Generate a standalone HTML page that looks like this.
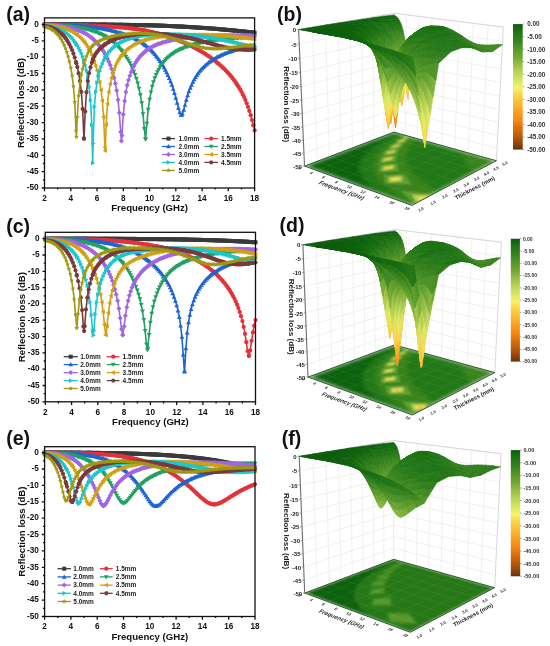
<!DOCTYPE html>
<html><head><meta charset="utf-8"><title>Reflection loss</title>
<style>html,body{margin:0;padding:0;background:#fff;}body{width:550px;height:646px;overflow:hidden;}svg{display:block;}.sf path{stroke-width:6;stroke-linejoin:round}.qa{fill:#f9ba34;stroke:#f9ba34}.qb{fill:#fabf38;stroke:#fabf38}.qc{fill:#fac43c;stroke:#fac43c}.qd{fill:#fac941;stroke:#fac941}.qe{fill:#f9d44c;stroke:#f9d44c}.qf{fill:#fad149;stroke:#fad149}.qg{fill:#f8de55;stroke:#f8de55}.qh{fill:#f8de56;stroke:#f8de56}.qi{fill:#f5e057;stroke:#f5e057}.qj{fill:#f4e159;stroke:#f4e159}.qk{fill:#f0e35c;stroke:#f0e35c}.ql{fill:#efe660;stroke:#efe660}.qm{fill:#f9b430;stroke:#f9b430}.qn{fill:#f9bd36;stroke:#f9bd36}.qo{fill:#f9dc54;stroke:#f9dc54}.qp{fill:#f6df56;stroke:#f6df56}.qq{fill:#f9c53d;stroke:#f9c53d}.qr{fill:#619f2d;stroke:#619f2d}.qs{fill:#e2e864;stroke:#e2e864}.qt{fill:#f9b431;stroke:#f9b431}.qu{fill:#f2e25a;stroke:#f2e25a}.qv{fill:#f0e55e;stroke:#f0e55e}.qw{fill:#f9be38;stroke:#f9be38}.qx{fill:#8ab740;stroke:#8ab740}.qy{fill:#b4d054;stroke:#b4d054}.qz{fill:#f9d74e;stroke:#f9d74e}.qA{fill:#b3d053;stroke:#b3d053}.qB{fill:#88b63e;stroke:#88b63e}.qC{fill:#86b53e;stroke:#86b53e}.qD{fill:#eae862;stroke:#eae862}.qE{fill:#fac53d;stroke:#fac53d}.qF{fill:#4d9226;stroke:#4d9226}.qG{fill:#82b33c;stroke:#82b33c}.qH{fill:#6da632;stroke:#6da632}.qI{fill:#f9cf47;stroke:#f9cf47}.qJ{fill:#81b23c;stroke:#81b23c}.qK{fill:#408921;stroke:#408921}.qL{fill:#7fb13b;stroke:#7fb13b}.qM{fill:#63a02e;stroke:#63a02e}.qN{fill:#f5e35c;stroke:#f5e35c}.qO{fill:#36821e;stroke:#36821e}.qP{fill:#2b7b19;stroke:#2b7b19}.qQ{fill:#b1ce52;stroke:#b1ce52}.qR{fill:#0f630d;stroke:#0f630d}.qS{fill:#f9d64d;stroke:#f9d64d}.qT{fill:#f6de56;stroke:#f6de56}.qU{fill:#13670f;stroke:#13670f}.qV{fill:#f6e35b;stroke:#f6e35b}.qW{fill:#509427;stroke:#509427}.qX{fill:#176c11;stroke:#176c11}.qY{fill:#1d7213;stroke:#1d7213}.qZ{fill:#f8dc55;stroke:#f8dc55}.qba{fill:#72a934;stroke:#72a934}.qbb{fill:#5b9b2b;stroke:#5b9b2b}.qbc{fill:#549729;stroke:#549729}.qbd{fill:#66a22f;stroke:#66a22f}.qbe{fill:#e88416;stroke:#e88416}.qbf{fill:#82b23c;stroke:#82b23c}.qbg{fill:#83b33c;stroke:#83b33c}.qbh{fill:#84b33c;stroke:#84b33c}.qbi{fill:#85b43d;stroke:#85b43d}.qbj{fill:#80b13b;stroke:#80b13b}.qbk{fill:#7eb03a;stroke:#7eb03a}.qbl{fill:#ee8d19;stroke:#ee8d19}.qbm{fill:#ef8f1a;stroke:#ef8f1a}.qbn{fill:#70a834;stroke:#70a834}.qbo{fill:#39841f;stroke:#39841f}.qbp{fill:#227616;stroke:#227616}.qbq{fill:#317f1c;stroke:#317f1c}.qbr{fill:#2a7b19;stroke:#2a7b19}.qbs{fill:#f3961e;stroke:#f3961e}.qbt{fill:#458c23;stroke:#458c23}.qbu{fill:#f69e22;stroke:#f69e22}.qbv{fill:#5b9c2b;stroke:#5b9c2b}.qbw{fill:#e88516;stroke:#e88516}.qbx{fill:#438b23;stroke:#438b23}.qby{fill:#4a9025;stroke:#4a9025}.qbz{fill:#f9bc37;stroke:#f9bc37}.qbA{fill:#ef901b;stroke:#ef901b}.qbB{fill:#dfe764;stroke:#dfe764}.qbC{fill:#428b22;stroke:#428b22}.qbD{fill:#428a22;stroke:#428a22}.qbE{fill:#418a22;stroke:#418a22}.qbF{fill:#f3971e;stroke:#f3971e}.qbG{fill:#418922;stroke:#418922}.qbH{fill:#7caf38;stroke:#7caf38}.qbI{fill:#3f8821;stroke:#3f8821}.qbJ{fill:#3e8821;stroke:#3e8821}.qbK{fill:#f69f23;stroke:#f69f23}.qbL{fill:#3d8720;stroke:#3d8720}.qbM{fill:#3d8620;stroke:#3d8620}.qbN{fill:#3b8620;stroke:#3b8620}.qbO{fill:#f7a326;stroke:#f7a326}.qbP{fill:#6ca531;stroke:#6ca531}.qbQ{fill:#3a851f;stroke:#3a851f}.qbR{fill:#62a02d;stroke:#62a02d}.qbS{fill:#609f2d;stroke:#609f2d}.qbT{fill:#5e9d2c;stroke:#5e9d2c}.qbU{fill:#5d9c2c;stroke:#5d9c2c}.qbV{fill:#5a9b2b;stroke:#5a9b2b}.qbW{fill:#57992a;stroke:#57992a}.qbX{fill:#37821e;stroke:#37821e}.qbY{fill:#0e600c;stroke:#0e600c}.qbZ{fill:#35811d;stroke:#35811d}.qca{fill:#33801c;stroke:#33801c}.qcb{fill:#78ad37;stroke:#78ad37}.qcc{fill:#478e24;stroke:#478e24}.qcd{fill:#438b22;stroke:#438b22}.qce{fill:#6ea732;stroke:#6ea732}.qcf{fill:#7fb03a;stroke:#7fb03a}.qcg{fill:#10630d;stroke:#10630d}.qch{fill:#539628;stroke:#539628}.qci{fill:#327f1c;stroke:#327f1c}.qcj{fill:#7db039;stroke:#7db039}.qck{fill:#68a32f;stroke:#68a32f}.qcl{fill:#529628;stroke:#529628}.qcm{fill:#7caf39;stroke:#7caf39}.qcn{fill:#80b13c;stroke:#80b13c}.qco{fill:#7eb03b;stroke:#7eb03b}.qcp{fill:#12660e;stroke:#12660e}.qcq{fill:#f9b633;stroke:#f9b633}.qcr{fill:#7bae38;stroke:#7bae38}.qcs{fill:#7caf3a;stroke:#7caf3a}.qct{fill:#aecc51;stroke:#aecc51}.qcu{fill:#76ab37;stroke:#76ab37}.qcv{fill:#166a10;stroke:#166a10}.qcw{fill:#73a936;stroke:#73a936}.qcx{fill:#1a6f12;stroke:#1a6f12}.qcy{fill:#569829;stroke:#569829}.qcz{fill:#69a330;stroke:#69a330}.qcA{fill:#4e9326;stroke:#4e9326}.qcB{fill:#4b9125;stroke:#4b9125}.qcC{fill:#499025;stroke:#499025}.qcD{fill:#65a12f;stroke:#65a12f}.qcE{fill:#207415;stroke:#207415}.qcF{fill:#307e1b;stroke:#307e1b}.qcG{fill:#5c9c2b;stroke:#5c9c2b}.qcH{fill:#2f7e1b;stroke:#2f7e1b}.qcI{fill:#2f7d1b;stroke:#2f7d1b}.qcJ{fill:#599a2a;stroke:#599a2a}.qcK{fill:#2e7d1a;stroke:#2e7d1a}.qcL{fill:#65a12e;stroke:#65a12e}.qcM{fill:#2d7c1a;stroke:#2d7c1a}.qcN{fill:#2c7c19;stroke:#2c7c19}.qcO{fill:#519527;stroke:#519527}.qcP{fill:#227615;stroke:#227615}.qcQ{fill:#267917;stroke:#267917}.qcR{fill:#4c9226;stroke:#4c9226}.qcS{fill:#7bae39;stroke:#7bae39}.qcT{fill:#7aae39;stroke:#7aae39}.qcU{fill:#297a18;stroke:#297a18}.qcV{fill:#34811d;stroke:#34811d}.qcW{fill:#7daf39;stroke:#7daf39}.qcX{fill:#7fb13a;stroke:#7fb13a}.qcY{fill:#277918;stroke:#277918}.qcZ{fill:#609e2d;stroke:#609e2d}.qda{fill:#3e8720;stroke:#3e8720}.qdb{fill:#3c8620;stroke:#3c8620}.qdc{fill:#3b851f;stroke:#3b851f}.qdd{fill:#38831e;stroke:#38831e}.qde{fill:#488e24;stroke:#488e24}.qdf{fill:#519528;stroke:#519528}.qdg{fill:#448c23;stroke:#448c23}.qdh{fill:#247716;stroke:#247716}.qdi{fill:#0c5f0b;stroke:#0c5f0b}.qdj{fill:#237716;stroke:#237716}.qdk{fill:#f7a627;stroke:#f7a627}.qdl{fill:#f8a929;stroke:#f8a929}.qdm{fill:#217615;stroke:#217615}.qdn{fill:#408821;stroke:#408821}.qdo{fill:#0e610c;stroke:#0e610c}.qdp{fill:#217515;stroke:#217515}.qdq{fill:#3e8721;stroke:#3e8721}.qdr{fill:#207515;stroke:#207515}.qds{fill:#58992a;stroke:#58992a}.qdt{fill:#549728;stroke:#549728}.qdu{fill:#0f620d;stroke:#0f620d}.qdv{fill:#4e9327;stroke:#4e9327}.qdw{fill:#f7a628;stroke:#f7a628}.qdx{fill:#39841e;stroke:#39841e}.qdy{fill:#f8aa2a;stroke:#f8aa2a}.qdz{fill:#1f7414;stroke:#1f7414}.qdA{fill:#37831e;stroke:#37831e}.qdB{fill:#11640d;stroke:#11640d}.qdC{fill:#2c7c1a;stroke:#2c7c1a}.qdD{fill:#448b23;stroke:#448b23}.qdE{fill:#2e7d1b;stroke:#2e7d1b}.qdF{fill:#34801d;stroke:#34801d}.qdG{fill:#35821d;stroke:#35821d}.qdH{fill:#1e7414;stroke:#1e7414}.qdI{fill:#f9b834;stroke:#f9b834}.qdJ{fill:#1e7314;stroke:#1e7314}.qdK{fill:#f9bd37;stroke:#f9bd37}.qdL{fill:#166b10;stroke:#166b10}.qdM{fill:#79ad37;stroke:#79ad37}.qdN{fill:#196e11;stroke:#196e11}.qdO{fill:#1d7313;stroke:#1d7313}.qdP{fill:#1b7013;stroke:#1b7013}.qdQ{fill:#1e7214;stroke:#1e7214}.qdR{fill:#207315;stroke:#207315}.qdS{fill:#217415;stroke:#217415}.qdT{fill:#237616;stroke:#237616}.qdU{fill:#1c7213;stroke:#1c7213}.qdV{fill:#75aa37;stroke:#75aa37}.qdW{fill:#488f24;stroke:#488f24}.qdX{fill:#468d24;stroke:#468d24}.qdY{fill:#6fa734;stroke:#6fa734}.qdZ{fill:#1c7113;stroke:#1c7113}.qea{fill:#69a431;stroke:#69a431}.qeb{fill:#629f2d;stroke:#629f2d}.qec{fill:#1b7113;stroke:#1b7113}.qed{fill:#559729;stroke:#559729}.qee{fill:#5a9a2b;stroke:#5a9a2b}.qef{fill:#207414;stroke:#207414}.qeg{fill:#247817;stroke:#247817}.qeh{fill:#257817;stroke:#257817}.qei{fill:#277917;stroke:#277917}.qej{fill:#287918;stroke:#287918}.qek{fill:#0c5e0b;stroke:#0c5e0b}.qel{fill:#317f1b;stroke:#317f1b}.qem{fill:#33811c;stroke:#33811c}.qen{fill:#529528;stroke:#529528}.qeo{fill:#79ad39;stroke:#79ad39}.qep{fill:#6ca533;stroke:#6ca533}.qeq{fill:#4c9126;stroke:#4c9126}.qer{fill:#73aa35;stroke:#73aa35}.qes{fill:#76ab35;stroke:#76ab35}.qet{fill:#297a19;stroke:#297a19}.qeu{fill:#287a18;stroke:#287a18}.qev{fill:#498f25;stroke:#498f25}.qew{fill:#0d600c;stroke:#0d600c}.qex{fill:#11640e;stroke:#11640e}.qey{fill:#4f9427;stroke:#4f9427}.qez{fill:#267817;stroke:#267817}.qeA{fill:#15690f;stroke:#15690f}.qeB{fill:#38841e;stroke:#38841e}.qeC{fill:#f9b22f;stroke:#f9b22f}.qeD{fill:#156a10;stroke:#156a10}.qeE{fill:#176b10;stroke:#176b10}.qeF{fill:#186c11;stroke:#186c11}.qeG{fill:#186d11;stroke:#186d11}.qeH{fill:#36821d;stroke:#36821d}.qeI{fill:#196e12;stroke:#196e12}.qeJ{fill:#1a6e12;stroke:#1a6e12}.qeK{fill:#1b6f12;stroke:#1b6f12}.qeL{fill:#f6db54;stroke:#f6db54}.qeM{fill:#1b7012;stroke:#1b7012}.qeN{fill:#1c7013;stroke:#1c7013}.qeO{fill:#1d7113;stroke:#1d7113}.qeP{fill:#207314;stroke:#207314}.qeQ{fill:#a8c94e;stroke:#a8c94e}.qeR{fill:#317e1b;stroke:#317e1b}.qeS{fill:#1d7314;stroke:#1d7314}.qeT{fill:#dae362;stroke:#dae362}.qeU{fill:#458d23;stroke:#458d23}.qeV{fill:#0b5d0b;stroke:#0b5d0b}.qeW{fill:#74aa35;stroke:#74aa35}.qeX{fill:#2d7d1a;stroke:#2d7d1a}.qeY{fill:#a0c44a;stroke:#a0c44a}.qeZ{fill:#468d23;stroke:#468d23}.qfa{fill:#6ba532;stroke:#6ba532}.qfb{fill:#1f7314;stroke:#1f7314}.qfc{fill:#6aa432;stroke:#6aa432}.qfd{fill:#66a230;stroke:#66a230}.qfe{fill:#629f2e;stroke:#629f2e}.qff{fill:#0d5f0b;stroke:#0d5f0b}.qfg{fill:#f4db54;stroke:#f4db54}.qfh{fill:#32801c;stroke:#32801c}.qfi{fill:#6ba533;stroke:#6ba533}.qfj{fill:#68a331;stroke:#68a331}.qfk{fill:#619e2e;stroke:#619e2e}.qfl{fill:#6ca632;stroke:#6ca632}.qfm{fill:#5e9c2c;stroke:#5e9c2c}.qfn{fill:#4f9327;stroke:#4f9327}.qfo{fill:#549628;stroke:#549628}.qfp{fill:#519427;stroke:#519427}.qfq{fill:#6aa430;stroke:#6aa430}.qfr{fill:#478d24;stroke:#478d24}.qfs{fill:#0f620c;stroke:#0f620c}.qft{fill:#4b9025;stroke:#4b9025}.qfu{fill:#10640d;stroke:#10640d}.qfv{fill:#12650e;stroke:#12650e}.qfw{fill:#3a841f;stroke:#3a841f}.qfx{fill:#13660e;stroke:#13660e}.qfy{fill:#13670e;stroke:#13670e}.qfz{fill:#14680f;stroke:#14680f}.qfA{fill:#d3e05f;stroke:#d3e05f}.qfB{fill:#0b5d0a;stroke:#0b5d0a}.qfC{fill:#d1df5e;stroke:#d1df5e}.qfD{fill:#1f7515;stroke:#1f7515}.qfE{fill:#1d7013;stroke:#1d7013}.qfF{fill:#1e7113;stroke:#1e7113}.qfG{fill:#1e7114;stroke:#1e7114}.qfH{fill:#1f7214;stroke:#1f7214}.qfI{fill:#0b5e0b;stroke:#0b5e0b}.qfJ{fill:#33801d;stroke:#33801d}.qfK{fill:#f9b632;stroke:#f9b632}.qfL{fill:#f9b934;stroke:#f9b934}.qfM{fill:#98bf45;stroke:#98bf45}.qfN{fill:#97be45;stroke:#97be45}.qfO{fill:#1a7012;stroke:#1a7012}.qfP{fill:#f9c43d;stroke:#f9c43d}.qfQ{fill:#f1dd56;stroke:#f1dd56}.qfR{fill:#f9b733;stroke:#f9b733}.qfS{fill:#f9bb36;stroke:#f9bb36}.qfT{fill:#ece15a;stroke:#ece15a}.qfU{fill:#f9c63f;stroke:#f9c63f}.qfV{fill:#cede5e;stroke:#cede5e}.qfW{fill:#e6e661;stroke:#e6e661}.qfX{fill:#f9d54e;stroke:#f9d54e}.qfY{fill:#f5df57;stroke:#f5df57}.qfZ{fill:#96be45;stroke:#96be45}.qga{fill:#dce563;stroke:#dce563}.qgb{fill:#f9d54d;stroke:#f9d54d}.qgc{fill:#f3df58;stroke:#f3df58}.qgd{fill:#0f610c;stroke:#0f610c}.qge{fill:#91bb42;stroke:#91bb42}.qgf{fill:#0a5d0a;stroke:#0a5d0a}.qgg{fill:#eee55e;stroke:#eee55e}.qgh{fill:#609d2d;stroke:#609d2d}.qgi{fill:#89b63f;stroke:#89b63f}.qgj{fill:#ece55f;stroke:#ece55f}.qgk{fill:#f5df58;stroke:#f5df58}.qgl{fill:#5b9a2b;stroke:#5b9a2b}.qgm{fill:#e7e864;stroke:#e7e864}.qgn{fill:#5c9b2b;stroke:#5c9b2b}.qgo{fill:#569729;stroke:#569729}.qgp{fill:#539528;stroke:#539528}.qgq{fill:#4e9226;stroke:#4e9226}.qgr{fill:#4a8f25;stroke:#4a8f25}.qgs{fill:#59992a;stroke:#59992a}.qgt{fill:#76ab36;stroke:#76ab36}.qgu{fill:#64a12e;stroke:#64a12e}.qgv{fill:#5f9e2c;stroke:#5f9e2c}.qgw{fill:#d9e563;stroke:#d9e563}.qgx{fill:#11650e;stroke:#11650e}.qgy{fill:#efdc55;stroke:#efdc55}.qgz{fill:#edde56;stroke:#edde56}.qgA{fill:#6fa733;stroke:#6fa733}.qgB{fill:#eedd56;stroke:#eedd56}.qgC{fill:#e9e15b;stroke:#e9e15b}.qgD{fill:#4c9125;stroke:#4c9125}.qgE{fill:#eae15b;stroke:#eae15b}.qgF{fill:#e2e561;stroke:#e2e561}.qgG{fill:#62a02e;stroke:#62a02e}.qgH{fill:#e3e562;stroke:#e3e562}.qgI{fill:#d7e261;stroke:#d7e261}.qgJ{fill:#156910;stroke:#156910}.qgK{fill:#75ab35;stroke:#75ab35}.qgL{fill:#cadc5d;stroke:#cadc5d}.qgM{fill:#cadd5d;stroke:#cadd5d}.qgN{fill:#dae462;stroke:#dae462}.qgO{fill:#bed658;stroke:#bed658}.qgP{fill:#1f7514;stroke:#1f7514}.qgQ{fill:#196d11;stroke:#196d11}.qgR{fill:#6aa431;stroke:#6aa431}.qgS{fill:#cedf5e;stroke:#cedf5e}.qgT{fill:#1c6f13;stroke:#1c6f13}.qgU{fill:#c4d95b;stroke:#c4d95b}.qgV{fill:#c4d95a;stroke:#c4d95a}.qgW{fill:#b8d255;stroke:#b8d255}.qgX{fill:#c6d95a;stroke:#c6d95a}.qgY{fill:#bdd557;stroke:#bdd557}.qgZ{fill:#bfd658;stroke:#bfd658}.qha{fill:#b1cf52;stroke:#b1cf52}.qhb{fill:#abca4f;stroke:#abca4f}.qhc{fill:#a6c84d;stroke:#a6c84d}.qhd{fill:#b5d154;stroke:#b5d154}.qhe{fill:#0a5c0a;stroke:#0a5c0a}.qhf{fill:#9cc148;stroke:#9cc148}.qhg{fill:#93bc43;stroke:#93bc43}.qhh{fill:#accb50;stroke:#accb50}.qhi{fill:#a3c64b;stroke:#a3c64b}.qhj{fill:#0d600b;stroke:#0d600b}.qhk{fill:#67a32f;stroke:#67a32f}.qhl{fill:#227515;stroke:#227515}.qhm{fill:#237516;stroke:#237516}.qhn{fill:#8ab73f;stroke:#8ab73f}.qho{fill:#88b63f;stroke:#88b63f}.qhp{fill:#83b33d;stroke:#83b33d}.qhq{fill:#74aa36;stroke:#74aa36}.qhr{fill:#6da633;stroke:#6da633}.qhs{fill:#67a330;stroke:#67a330}.qht{fill:#257717;stroke:#257717}.qhu{fill:#72a935;stroke:#72a935}.qhv{fill:#6ea733;stroke:#6ea733}.qhw{fill:#3c8720;stroke:#3c8720}.qhx{fill:#4d9126;stroke:#4d9126}.qhy{fill:#519327;stroke:#519327}.qhz{fill:#509327;stroke:#509327}.qhA{fill:#4f9226;stroke:#4f9226}.qhB{fill:#589a2a;stroke:#589a2a}.qhC{fill:#ede35d;stroke:#ede35d}.qhD{fill:#e8e762;stroke:#e8e762}.qhE{fill:#e3e763;stroke:#e3e763}.qhF{fill:#ece35d;stroke:#ece35d}.qhG{fill:#c1d859;stroke:#c1d859}.qhH{fill:#dee663;stroke:#dee663}.qhI{fill:#eae560;stroke:#eae560}.qhJ{fill:#d0e05f;stroke:#d0e05f}.qhK{fill:#d3e160;stroke:#d3e160}.qhL{fill:#e2e662;stroke:#e2e662}.qhM{fill:#d2e160;stroke:#d2e160}.qhN{fill:#cbdd5d;stroke:#cbdd5d}.qhO{fill:#b6d154;stroke:#b6d154}.qhP{fill:#a9c94e;stroke:#a9c94e}.qhQ{fill:#c6db5b;stroke:#c6db5b}.qhR{fill:#c0d759;stroke:#c0d759}.qhS{fill:#bcd557;stroke:#bcd557}.qhT{fill:#4b9126;stroke:#4b9126}.qhU{fill:#aecc50;stroke:#aecc50}.qhV{fill:#99bf46;stroke:#99bf46}.qhW{fill:#a0c34a;stroke:#a0c34a}.qhX{fill:#9bc147;stroke:#9bc147}.qhY{fill:#75ab36;stroke:#75ab36}.qhZ{fill:#6ba531;stroke:#6ba531}.qia{fill:#97bf46;stroke:#97bf46}.qib{fill:#98bf46;stroke:#98bf46}.qic{fill:#90ba42;stroke:#90ba42}.qid{fill:#86b53d;stroke:#86b53d}.qie{fill:#80b13a;stroke:#80b13a}.qif{fill:#498f24;stroke:#498f24}.qig{fill:#5f9d2d;stroke:#5f9d2d}.qih{fill:#69a331;stroke:#69a331}.qii{fill:#5d9d2c;stroke:#5d9d2c}.qij{fill:#36831d;stroke:#36831d}.qik{fill:#39851e;stroke:#39851e}.qil{fill:#3b861f;stroke:#3b861f}.qim{fill:#3e8820;stroke:#3e8820}.qin{fill:#418a21;stroke:#418a21}.qio{fill:#227516;stroke:#227516}.qip{fill:#247616;stroke:#247616}.qiq{fill:#247717;stroke:#247717}.qir{fill:#f9d34b;stroke:#f9d34b}.qis{fill:#f5de56;stroke:#f5de56}.qit{fill:#73aa34;stroke:#73aa34}.qiu{fill:#eee45d;stroke:#eee45d}.qiv{fill:#e4e561;stroke:#e4e561}.qiw{fill:#7aae38;stroke:#7aae38}.qix{fill:#e7e863;stroke:#e7e863}.qiy{fill:#dbe462;stroke:#dbe462}.qiz{fill:#97be46;stroke:#97be46}.qiA{fill:#cfdf5f;stroke:#cfdf5f}.qiB{fill:#dde764;stroke:#dde764}.qiC{fill:#a5c74c;stroke:#a5c74c}.qiD{fill:#bad356;stroke:#bad356}.qiE{fill:#c3d95a;stroke:#c3d95a}.qiF{fill:#b2cf52;stroke:#b2cf52}.qiG{fill:#8cb840;stroke:#8cb840}.qiH{fill:#f7d54e;stroke:#f7d54e}.qiI{fill:#93bc44;stroke:#93bc44}.qiJ{fill:#f2dd55;stroke:#f2dd55}.qiK{fill:#71a834;stroke:#71a834}.qiL{fill:#eae25c;stroke:#eae25c}.qiM{fill:#87b53e;stroke:#87b53e}.qiN{fill:#d9e462;stroke:#d9e462}.qiO{fill:#14690f;stroke:#14690f}.qiP{fill:#dbe25f;stroke:#dbe25f}.qiQ{fill:#cfde5e;stroke:#cfde5e}.qiR{fill:#78ac37;stroke:#78ac37}.qiS{fill:#84b43d;stroke:#84b43d}.qiT{fill:#94bd44;stroke:#94bd44}.qiU{fill:#a1c44a;stroke:#a1c44a}.qiV{fill:#5f9e2d;stroke:#5f9e2d}.qiW{fill:#73a935;stroke:#73a935}.qiX{fill:#95be44;stroke:#95be44}.qiY{fill:#8bb840;stroke:#8bb840}.qiZ{fill:#579829;stroke:#579829}.qja{fill:#5d9b2c;stroke:#5d9b2c}.qjb{fill:#63a02f;stroke:#63a02f}.qjc{fill:#227415;stroke:#227415}.qjd{fill:#247516;stroke:#247516}.qje{fill:#267617;stroke:#267617}.qjf{fill:#287818;stroke:#287818}.qjg{fill:#297918;stroke:#297918}.qjh{fill:#2b7a19;stroke:#2b7a19}.qji{fill:#2d7b19;stroke:#2d7b19}.qjj{fill:#79ad38;stroke:#79ad38}.qjk{fill:#77ac37;stroke:#77ac37}.qjl{fill:#9bc148;stroke:#9bc148}.qjm{fill:#f5e45c;stroke:#f5e45c}.qjn{fill:#dfe865;stroke:#dfe865}.qjo{fill:#bdd558;stroke:#bdd558}.qjp{fill:#68a330;stroke:#68a330}.qjq{fill:#f4e35b;stroke:#f4e35b}.qjr{fill:#dee764;stroke:#dee764}.qjs{fill:#559829;stroke:#559829}.qjt{fill:#69a430;stroke:#69a430}.qju{fill:#f9df56;stroke:#f9df56}.qjv{fill:#e6ea66;stroke:#e6ea66}.qjw{fill:#95bd44;stroke:#95bd44}.qjx{fill:#92bc43;stroke:#92bc43}.qjy{fill:#8fba42;stroke:#8fba42}.qjz{fill:#5a9a2a;stroke:#5a9a2a}.qjA{fill:#6ca532;stroke:#6ca532}.qjB{fill:#e4e966;stroke:#e4e966}.qjC{fill:#74aa34;stroke:#74aa34}.qjD{fill:#f9df57;stroke:#f9df57}.qjE{fill:#71a833;stroke:#71a833}.qjF{fill:#90bb42;stroke:#90bb42}.qjG{fill:#8db941;stroke:#8db941}.qjH{fill:#f7df57;stroke:#f7df57}.qjI{fill:#307f1b;stroke:#307f1b}.qjJ{fill:#65a22f;stroke:#65a22f}.qjK{fill:#6ea632;stroke:#6ea632}.qjL{fill:#b5d054;stroke:#b5d054}.qjM{fill:#1f7415;stroke:#1f7415}.qjN{fill:#dbe563;stroke:#dbe563}.qjO{fill:#f9c33c;stroke:#f9c33c}.qjP{fill:#6ba530;stroke:#6ba530}.qjQ{fill:#f9cc45;stroke:#f9cc45}.qjR{fill:#f9bf39;stroke:#f9bf39}.qjS{fill:#f9d74f;stroke:#f9d74f}.qjT{fill:#c9dc5c;stroke:#c9dc5c}.qjU{fill:#f9c53e;stroke:#f9c53e}.qjV{fill:#f9cd46;stroke:#f9cd46}.qjW{fill:#f4e058;stroke:#f4e058}.qjX{fill:#f9ce46;stroke:#f9ce46}.qjY{fill:#f7d952;stroke:#f7d952}.qjZ{fill:#8fba41;stroke:#8fba41}.qka{fill:#f9d850;stroke:#f9d850}.qkb{fill:#f0e15a;stroke:#f0e15a}.qkc{fill:#ebe762;stroke:#ebe762}.qkd{fill:#e9e762;stroke:#e9e762}.qke{fill:#f4e059;stroke:#f4e059}.qkf{fill:#2b7c19;stroke:#2b7c19}.qkg{fill:#ecdf58;stroke:#ecdf58}.qkh{fill:#e6e35e;stroke:#e6e35e}.qki{fill:#eae15a;stroke:#eae15a}.qkj{fill:#dee462;stroke:#dee462}.qkk{fill:#e6e45f;stroke:#e6e45f}.qkl{fill:#d2e05f;stroke:#d2e05f}.qkm{fill:#e2e663;stroke:#e2e663}.qkn{fill:#c5da5b;stroke:#c5da5b}.qko{fill:#b9d356;stroke:#b9d356}.qkp{fill:#c3d85a;stroke:#c3d85a}.qkq{fill:#bfd759;stroke:#bfd759}.qkr{fill:#b2ce52;stroke:#b2ce52}.qks{fill:#bad456;stroke:#bad456}.qkt{fill:#b4d053;stroke:#b4d053}.qku{fill:#a4c64c;stroke:#a4c64c}.qkv{fill:#8eba41;stroke:#8eba41}.qkw{fill:#7aad39;stroke:#7aad39}.qkx{fill:#ee8e1a;stroke:#ee8e1a}.qky{fill:#5f9d2c;stroke:#5f9d2c}.qkz{fill:#ef921c;stroke:#ef921c}.qkA{fill:#f49b21;stroke:#f49b21}.qkB{fill:#f9c440;stroke:#f9c440}.qkC{fill:#ee911c;stroke:#ee911c}.qkD{fill:#ee901c;stroke:#ee901c}.qkE{fill:#f8a829;stroke:#f8a829}.qkF{fill:#f9c742;stroke:#f9c742}.qkG{fill:#f1961e;stroke:#f1961e}.qkH{fill:#f0941d;stroke:#f0941d}.qkI{fill:#f9d04a;stroke:#f9d04a}.qkJ{fill:#f9d049;stroke:#f9d049}.qkK{fill:#f59e23;stroke:#f59e23}.qkL{fill:#f49d22;stroke:#f49d22}.qkM{fill:#65a22e;stroke:#65a22e}.qkN{fill:#f6d851;stroke:#f6d851}.qkO{fill:#3f8921;stroke:#3f8921}.qkP{fill:#e0de5a;stroke:#e0de5a}.qkQ{fill:#dfdf5b;stroke:#dfdf5b}.qkR{fill:#4f9227;stroke:#4f9227}.qkS{fill:#f9c23c;stroke:#f9c23c}.qkT{fill:#f9b532;stroke:#f9b532}.qkU{fill:#f1dc55;stroke:#f1dc55}.qkV{fill:#dde15e;stroke:#dde15e}.qkW{fill:#f9ce47;stroke:#f9ce47}.qkX{fill:#d6e160;stroke:#d6e160}.qkY{fill:#f9c740;stroke:#f9c740}.qkZ{fill:#ebe059;stroke:#ebe059}.qla{fill:#ccdd5d;stroke:#ccdd5d}.qlb{fill:#a1c54a;stroke:#a1c54a}.qlc{fill:#e7e45f;stroke:#e7e45f}.qld{fill:#f7da52;stroke:#f7da52}.qle{fill:#f9c43e;stroke:#f9c43e}.qlf{fill:#9dc248;stroke:#9dc248}.qlg{fill:#f5dd55;stroke:#f5dd55}.qlh{fill:#dfe562;stroke:#dfe562}.qli{fill:#bbd457;stroke:#bbd457}.qlj{fill:#f0e25b;stroke:#f0e25b}.qlk{fill:#f9cc47;stroke:#f9cc47}.qll{fill:#f9cb46;stroke:#f9cb46}.qlm{fill:#f6da52;stroke:#f6da52}.qln{fill:#f9d04b;stroke:#f9d04b}.qlo{fill:#f9ce49;stroke:#f9ce49}.qlp{fill:#f7d54f;stroke:#f7d54f}.qlq{fill:#f7d34d;stroke:#f7d34d}.qlr{fill:#c7db5c;stroke:#c7db5c}.qls{fill:#f3d851;stroke:#f3d851}.qlt{fill:#efe25b;stroke:#efe25b}.qlu{fill:#f2d852;stroke:#f2d852}.qlv{fill:#eddc55;stroke:#eddc55}.qlw{fill:#dce663;stroke:#dce663}.qlx{fill:#b9d355;stroke:#b9d355}.qly{fill:#91bb43;stroke:#91bb43}.qlz{fill:#e6e15b;stroke:#e6e15b}.qlA{fill:#ecdc56;stroke:#ecdc56}.qlB{fill:#e0e461;stroke:#e0e461}.qlC{fill:#e7e05a;stroke:#e7e05a}.qlD{fill:#a7c84d;stroke:#a7c84d}.qlE{fill:#dbe562;stroke:#dbe562}.qlF{fill:#e3e35f;stroke:#e3e35f}.qlG{fill:#c8db5c;stroke:#c8db5c}.qlH{fill:#dbe361;stroke:#dbe361}.qlI{fill:#b7d155;stroke:#b7d155}.qlJ{fill:#d7e05e;stroke:#d7e05e}.qlK{fill:#d8df5d;stroke:#d8df5d}.qlL{fill:#d2df5e;stroke:#d2df5e}.qlM{fill:#d4df5e;stroke:#d4df5e}.qlN{fill:#cbdc5c;stroke:#cbdc5c}.qlO{fill:#c2d85a;stroke:#c2d85a}.qlP{fill:#c1d759;stroke:#c1d759}.qlQ{fill:#cadb5c;stroke:#cadb5c}.qlR{fill:#a2c54b;stroke:#a2c54b}.qlS{fill:#8bb740;stroke:#8bb740}.qlT{fill:#8cb841;stroke:#8cb841}.qlU{fill:#81b23b;stroke:#81b23b}.qlV{fill:#78ac38;stroke:#78ac38}.qlW{fill:#71a935;stroke:#71a935}.qlX{fill:#81b13c;stroke:#81b13c}.qlY{fill:#57982a;stroke:#57982a}.qlZ{fill:#7cae3a;stroke:#7cae3a}.qma{fill:#77ac36;stroke:#77ac36}.qmb{fill:#77ac38;stroke:#77ac38}.qmc{fill:#67a230;stroke:#67a230}.qmd{fill:#2a7a19;stroke:#2a7a19}.qme{fill:#5d9c2b;stroke:#5d9c2b}.qmf{fill:#3d8820;stroke:#3d8820}.qmg{fill:#448c22;stroke:#448c22}.qmh{fill:#4a8f24;stroke:#4a8f24}.qmi{fill:#478e23;stroke:#478e23}.qmj{fill:#438c22;stroke:#438c22}.qmk{fill:#408a21;stroke:#408a21}.qml{fill:#f1db54;stroke:#f1db54}.qmm{fill:#f0dc54;stroke:#f0dc54}.qmn{fill:#e8e15b;stroke:#e8e15b}.qmo{fill:#f9ca43;stroke:#f9ca43}.qmp{fill:#e3e561;stroke:#e3e561}.qmq{fill:#f9bf3b;stroke:#f9bf3b}.qmr{fill:#ecde57;stroke:#ecde57}.qms{fill:#f9b835;stroke:#f9b835}.qmt{fill:#f9c13c;stroke:#f9c13c}.qmu{fill:#c9db5b;stroke:#c9db5b}.qmv{fill:#c6da5b;stroke:#c6da5b}.qmw{fill:#e7e25d;stroke:#e7e25d}.qmx{fill:#f8d74f;stroke:#f8d74f}.qmy{fill:#f6d750;stroke:#f6d750}.qmz{fill:#b7d255;stroke:#b7d255}.qmA{fill:#c2d859;stroke:#c2d859}.qmB{fill:#f1dc54;stroke:#f1dc54}.qmC{fill:#e0e561;stroke:#e0e561}.qmD{fill:#f9cf49;stroke:#f9cf49}.qmE{fill:#f4de57;stroke:#f4de57}.qmF{fill:#4c9025;stroke:#4c9025}.qmG{fill:#d8e361;stroke:#d8e361}.qmH{fill:#b0cd51;stroke:#b0cd51}.qmI{fill:#eee35c;stroke:#eee35c}.qmJ{fill:#f6d952;stroke:#f6d952}.qmK{fill:#d5e261;stroke:#d5e261}.qmL{fill:#efdd55;stroke:#efdd55}.qmM{fill:#a0c449;stroke:#a0c449}.qmN{fill:#e5e662;stroke:#e5e662}.qmO{fill:#70a734;stroke:#70a734}.qmP{fill:#e9e15a;stroke:#e9e15a}.qmQ{fill:#e7da54;stroke:#e7da54}.qmR{fill:#e3dd58;stroke:#e3dd58}.qmS{fill:#e6db55;stroke:#e6db55}.qmT{fill:#dee05d;stroke:#dee05d}.qmU{fill:#d6e05f;stroke:#d6e05f}.qmV{fill:#e2dd58;stroke:#e2dd58}.qmW{fill:#e1e460;stroke:#e1e460}.qmX{fill:#ccdc5c;stroke:#ccdc5c}.qmY{fill:#d4e05f;stroke:#d4e05f}.qmZ{fill:#c9db5c;stroke:#c9db5c}.qna{fill:#aecd51;stroke:#aecd51}.qnb{fill:#a8c94d;stroke:#a8c94d}.qnc{fill:#adcc50;stroke:#adcc50}.qnd{fill:#8eb941;stroke:#8eb941}.qne{fill:#a7c94d;stroke:#a7c94d}.qnf{fill:#71a835;stroke:#71a835}.qng{fill:#9ec349;stroke:#9ec349}.qnh{fill:#8db840;stroke:#8db840}.qni{fill:#34821d;stroke:#34821d}.qnj{fill:#5d9b2d;stroke:#5d9b2d}.qnk{fill:#66a131;stroke:#66a131}.qnl{fill:#58982a;stroke:#58982a}.qnm{fill:#67a131;stroke:#67a131}.qnn{fill:#629e2f;stroke:#629e2f}.qno{fill:#196c11;stroke:#196c11}.qnp{fill:#1a6d12;stroke:#1a6d12}.qnq{fill:#1c6e12;stroke:#1c6e12}.qnr{fill:#1d6f13;stroke:#1d6f13}.qns{fill:#1e6f13;stroke:#1e6f13}.qnt{fill:#207014;stroke:#207014}.qnu{fill:#227115;stroke:#227115}.qnv{fill:#237215;stroke:#237215}.qnw{fill:#257316;stroke:#257316}.qnx{fill:#267416;stroke:#267416}.qny{fill:#287617;stroke:#287617}.qnz{fill:#297718;stroke:#297718}.qnA{fill:#2a7718;stroke:#2a7718}.qnB{fill:#2a7818;stroke:#2a7818}.qnC{fill:#267517;stroke:#267517}.qnD{fill:#257416;stroke:#257416}.qnE{fill:#247316;stroke:#247316}.qnF{fill:#70a833;stroke:#70a833}.qnG{fill:#3b8520;stroke:#3b8520}.qnH{fill:#176c10;stroke:#176c10}.qnI{fill:#7eb039;stroke:#7eb039}.qnJ{fill:#14670f;stroke:#14670f}.qnK{fill:#82b23b;stroke:#82b23b}.qnL{fill:#67a22f;stroke:#67a22f}</style>
</head><body>
<svg width="550" height="646" viewBox="0 0 550 646"><marker id="ma10" markerUnits="userSpaceOnUse" markerWidth="7.0" markerHeight="7.0" refX="0" refY="0" viewBox="-3.5 -3.5 7.0 7.0" overflow="visible"><g fill="#3a3a3a"><rect x="-2.00" y="-2.00" width="4.00" height="4.00"/></g></marker><marker id="ma15" markerUnits="userSpaceOnUse" markerWidth="7.0" markerHeight="7.0" refX="0" refY="0" viewBox="-3.5 -3.5 7.0 7.0" overflow="visible"><g fill="#e4323a"><circle cx="0" cy="0" r="2.12"/></g></marker><marker id="ma20" markerUnits="userSpaceOnUse" markerWidth="7.0" markerHeight="7.0" refX="0" refY="0" viewBox="-3.5 -3.5 7.0 7.0" overflow="visible"><g fill="#1f64d4"><path d="M0,-2.50L2.38,1.75L-2.38,1.75Z"/></g></marker><marker id="ma25" markerUnits="userSpaceOnUse" markerWidth="7.0" markerHeight="7.0" refX="0" refY="0" viewBox="-3.5 -3.5 7.0 7.0" overflow="visible"><g fill="#22a064"><path d="M0,2.50L2.38,-1.75L-2.38,-1.75Z"/></g></marker><marker id="ma30" markerUnits="userSpaceOnUse" markerWidth="7.0" markerHeight="7.0" refX="0" refY="0" viewBox="-3.5 -3.5 7.0 7.0" overflow="visible"><g fill="#a066e4"><path d="M0,-2.50L2.50,0L0,2.50L-2.50,0Z"/></g></marker><marker id="ma35" markerUnits="userSpaceOnUse" markerWidth="7.0" markerHeight="7.0" refX="0" refY="0" viewBox="-3.5 -3.5 7.0 7.0" overflow="visible"><g fill="#d2a012"><path d="M-2.50,0L1.75,2.38L1.75,-2.38Z"/></g></marker><marker id="ma40" markerUnits="userSpaceOnUse" markerWidth="7.0" markerHeight="7.0" refX="0" refY="0" viewBox="-3.5 -3.5 7.0 7.0" overflow="visible"><g fill="#1cc6ca"><path d="M2.50,0L-1.75,2.38L-1.75,-2.38Z"/></g></marker><marker id="ma45" markerUnits="userSpaceOnUse" markerWidth="7.0" markerHeight="7.0" refX="0" refY="0" viewBox="-3.5 -3.5 7.0 7.0" overflow="visible"><g fill="#7a3a3c"><polygon points="2.25,0.00 1.13,1.95 -1.12,1.95 -2.25,0.00 -1.13,-1.95 1.13,-1.95"/></g></marker><marker id="ma50" markerUnits="userSpaceOnUse" markerWidth="7.0" markerHeight="7.0" refX="0" refY="0" viewBox="-3.5 -3.5 7.0 7.0" overflow="visible"><g fill="#a09812"><polygon points="0.00,-2.50 0.66,-0.91 2.38,-0.77 1.07,0.35 1.47,2.02 0.00,1.12 -1.47,2.02 -1.07,0.35 -2.38,-0.77 -0.66,-0.91"/></g></marker>
<g fill="none" stroke-width="1.6" stroke-linejoin="round">
<polyline points="44.5,24.4 45.8,24.4 47.1,24.4 48.4,24.4 49.8,24.4 51.1,24.4 52.4,24.4 53.7,24.4 55.0,24.4 56.3,24.4 57.6,24.4 58.9,24.4 60.3,24.4 61.6,24.4 62.9,24.4 64.2,24.4 65.5,24.4 66.8,24.4 68.1,24.4 69.4,24.4 70.8,24.5 72.1,24.5 73.4,24.5 74.7,24.5 76.0,24.5 76.4,24.5 77.3,24.5 78.6,24.5 80.0,24.5 81.3,24.5 82.6,24.5 83.9,24.5 84.0,24.5 85.2,24.5 86.5,24.5 87.8,24.5 89.1,24.5 90.5,24.5 91.8,24.5 92.7,24.5 93.1,24.5 94.4,24.6 95.7,24.6 97.0,24.6 98.3,24.6 99.7,24.6 101.0,24.6 102.3,24.6 103.6,24.6 104.9,24.6 105.2,24.6 106.2,24.7 107.5,24.7 108.8,24.7 110.2,24.7 111.5,24.7 112.8,24.7 114.1,24.7 115.4,24.8 116.7,24.8 118.0,24.8 119.3,24.8 120.7,24.8 121.4,24.8 122.0,24.8 123.3,24.9 124.6,24.9 125.9,24.9 127.2,24.9 128.5,24.9 129.9,24.9 131.2,25.0 132.5,25.0 133.8,25.0 135.1,25.0 136.4,25.0 137.7,25.1 139.0,25.1 140.4,25.1 141.7,25.1 143.0,25.2 144.3,25.2 145.5,25.2 145.6,25.2 146.9,25.2 148.2,25.3 149.6,25.3 150.9,25.3 152.2,25.4 153.5,25.4 154.8,25.5 156.1,25.5 157.4,25.5 158.7,25.6 160.1,25.6 161.4,25.7 162.7,25.7 164.0,25.8 165.3,25.8 166.6,25.9 167.9,26.0 169.2,26.0 170.6,26.1 171.9,26.1 173.2,26.2 174.5,26.3 175.8,26.3 177.1,26.4 178.4,26.5 179.8,26.5 181.1,26.6 181.5,26.6 182.4,26.7 183.7,26.7 185.0,26.8 186.3,26.9 187.6,26.9 188.9,27.0 190.3,27.1 191.6,27.2 192.9,27.2 194.2,27.3 195.5,27.4 196.8,27.5 198.1,27.6 199.4,27.7 200.8,27.8 202.1,27.8 203.4,27.9 204.7,28.0 206.0,28.1 207.3,28.2 208.6,28.3 210.0,28.4 211.3,28.5 212.6,28.6 213.9,28.7 215.2,28.8 216.5,28.9 217.8,29.0 219.1,29.2 220.5,29.3 221.8,29.4 223.1,29.5 224.4,29.6 225.7,29.7 227.0,29.9 228.3,30.0 229.7,30.1 231.0,30.2 232.3,30.4 233.6,30.5 234.9,30.6 236.2,30.7 237.5,30.9 238.8,31.0 240.2,31.1 241.5,31.3 242.8,31.4 244.1,31.5 245.4,31.7 246.7,31.8 248.0,32.0 249.3,32.1 250.7,32.3 252.0,32.4 253.3,32.5 254.6,32.7" stroke="#3a3a3a" marker-start="url(#ma10)" marker-mid="url(#ma10)" marker-end="url(#ma10)"/>
<polyline points="44.5,24.6 45.8,24.6 47.1,24.6 48.4,24.6 49.8,24.6 51.1,24.6 52.4,24.6 53.7,24.7 55.0,24.7 56.3,24.7 57.6,24.7 58.9,24.7 60.3,24.7 61.6,24.8 62.9,24.8 64.2,24.8 65.5,24.8 66.8,24.9 68.1,24.9 69.4,24.9 70.8,24.9 72.1,25.0 73.4,25.0 74.7,25.0 76.0,25.1 76.4,25.1 77.3,25.1 78.6,25.1 80.0,25.2 81.3,25.2 82.6,25.3 83.9,25.3 84.0,25.3 85.2,25.3 86.5,25.4 87.8,25.4 89.1,25.5 90.5,25.6 91.8,25.6 92.7,25.6 93.1,25.7 94.4,25.7 95.7,25.8 97.0,25.9 98.3,25.9 99.7,26.0 101.0,26.1 102.3,26.1 103.6,26.2 104.9,26.3 105.2,26.3 106.2,26.4 107.5,26.5 108.8,26.6 110.2,26.6 111.5,26.7 112.8,26.8 114.1,26.9 115.4,27.0 116.7,27.1 118.0,27.2 119.3,27.3 120.7,27.4 121.4,27.5 122.0,27.5 123.3,27.6 124.6,27.7 125.9,27.8 127.2,28.0 128.5,28.1 129.9,28.3 131.2,28.4 132.5,28.6 133.8,28.7 135.1,28.9 136.4,29.1 137.7,29.3 139.0,29.5 140.4,29.7 141.7,30.0 143.0,30.2 144.3,30.4 145.5,30.7 145.6,30.7 146.9,31.0 148.2,31.2 149.6,31.5 150.9,31.8 152.2,32.1 153.5,32.4 154.8,32.8 156.1,33.1 157.4,33.5 158.7,33.8 160.1,34.2 161.4,34.6 162.7,35.0 164.0,35.4 165.3,35.8 166.6,36.2 167.9,36.6 169.2,37.0 170.6,37.5 171.9,37.9 173.2,38.4 174.5,38.9 175.8,39.3 177.1,39.8 178.4,40.4 179.8,40.9 181.1,41.4 181.5,41.6 182.4,42.0 183.7,42.5 185.0,43.1 186.3,43.7 187.6,44.3 188.9,44.9 190.3,45.5 191.6,46.2 192.9,46.8 194.2,47.5 195.5,48.2 196.8,48.9 198.1,49.7 199.4,50.4 200.8,51.2 202.1,52.0 203.4,52.8 204.7,53.6 206.0,54.4 207.3,55.3 208.6,56.2 210.0,57.1 211.3,58.1 212.6,59.0 213.9,60.0 215.2,61.0 216.5,62.1 217.8,63.2 219.1,64.3 220.5,65.4 221.8,66.6 223.1,67.8 224.4,69.1 225.7,70.4 227.0,71.8 228.3,73.2 229.7,74.7 231.0,76.2 232.3,77.9 233.6,79.5 234.9,81.3 236.2,83.2 237.5,85.2 238.8,87.2 240.2,89.5 241.5,91.8 242.8,94.4 244.1,97.1 245.4,100.1 246.7,103.3 248.0,106.9 249.3,110.9 250.7,115.2 252.0,120.0 253.3,125.2 254.6,130.4" stroke="#e4323a" marker-start="url(#ma15)" marker-mid="url(#ma15)" marker-end="url(#ma15)"/>
<polyline points="44.5,24.6 45.8,24.6 47.1,24.7 48.4,24.7 49.8,24.7 51.1,24.7 52.4,24.8 53.7,24.8 55.0,24.8 56.3,24.9 57.6,24.9 58.9,25.0 60.3,25.0 61.6,25.0 62.9,25.1 64.2,25.1 65.5,25.2 66.8,25.3 68.1,25.3 69.4,25.4 70.8,25.4 72.1,25.5 73.4,25.6 74.7,25.6 76.0,25.7 76.4,25.7 77.3,25.8 78.6,25.9 80.0,26.0 81.3,26.1 82.6,26.2 83.9,26.3 84.0,26.3 85.2,26.4 86.5,26.5 87.8,26.6 89.1,26.8 90.5,26.9 91.8,27.1 92.7,27.2 93.1,27.2 94.4,27.4 95.7,27.6 97.0,27.8 98.3,28.0 99.7,28.2 101.0,28.4 102.3,28.6 103.6,28.8 104.9,29.1 105.2,29.1 106.2,29.4 107.5,29.6 108.8,29.9 110.2,30.2 111.5,30.5 112.8,30.9 114.1,31.2 115.4,31.6 116.7,31.9 118.0,32.3 119.3,32.7 120.7,33.1 121.4,33.3 122.0,33.5 123.3,33.9 124.6,34.4 125.9,34.8 127.2,35.3 128.5,35.8 129.9,36.3 131.2,36.9 132.5,37.4 133.8,38.1 135.1,38.7 136.4,39.4 137.7,40.1 139.0,40.9 140.4,41.7 141.7,42.5 143.0,43.4 144.3,44.4 145.5,45.3 145.6,45.4 146.9,46.5 148.2,47.6 149.6,48.8 150.9,50.1 152.2,51.4 153.5,52.8 154.8,54.3 156.1,55.9 157.4,57.6 158.7,59.3 160.1,61.2 161.4,63.2 162.7,65.3 164.0,67.5 165.3,69.9 166.6,72.5 167.9,75.2 169.2,78.2 170.6,81.5 171.9,85.0 173.2,88.9 174.5,93.2 175.8,97.9 177.1,102.9 178.4,108.0 179.8,112.5 181.1,114.9 181.5,115.0 182.4,114.1 183.7,110.1 185.0,105.1 186.3,100.1 187.6,95.5 188.9,91.5 190.3,88.0 191.6,84.9 192.9,82.1 194.2,79.6 195.5,77.3 196.8,75.2 198.1,73.4 199.4,71.6 200.8,70.1 202.1,68.6 203.4,67.2 204.7,66.0 206.0,64.8 207.3,63.7 208.6,62.6 210.0,61.7 211.3,60.7 212.6,59.9 213.9,59.0 215.2,58.3 216.5,57.5 217.8,56.8 219.1,56.2 220.5,55.5 221.8,54.9 223.1,54.3 224.4,53.8 225.7,53.3 227.0,52.7 228.3,52.3 229.7,51.8 231.0,51.4 232.3,50.9 233.6,50.5 234.9,50.1 236.2,49.7 237.5,49.4 238.8,49.0 240.2,48.7 241.5,48.3 242.8,48.0 244.1,47.7 245.4,47.4 246.7,47.1 248.0,46.9 249.3,46.6 250.7,46.3 252.0,46.1 253.3,45.8 254.6,45.6" stroke="#1f64d4" marker-start="url(#ma20)" marker-mid="url(#ma20)" marker-end="url(#ma20)"/>
<polyline points="44.5,24.7 45.8,24.8 47.1,24.8 48.4,24.9 49.8,24.9 51.1,25.0 52.4,25.0 53.7,25.1 55.0,25.1 56.3,25.2 57.6,25.3 58.9,25.4 60.3,25.5 61.6,25.5 62.9,25.6 64.2,25.8 65.5,25.9 66.8,26.0 68.1,26.1 69.4,26.3 70.8,26.4 72.1,26.6 73.4,26.7 74.7,26.9 76.0,27.1 76.4,27.1 77.3,27.3 78.6,27.5 80.0,27.7 81.3,27.9 82.6,28.1 83.9,28.4 84.0,28.4 85.2,28.7 86.5,29.0 87.8,29.3 89.1,29.7 90.5,30.1 91.8,30.5 92.7,30.8 93.1,30.9 94.4,31.4 95.7,31.8 97.0,32.3 98.3,32.9 99.7,33.5 101.0,34.1 102.3,34.7 103.6,35.4 104.9,36.2 105.2,36.3 106.2,36.9 107.5,37.8 108.8,38.7 110.2,39.6 111.5,40.6 112.8,41.7 114.1,42.8 115.4,44.0 116.7,45.2 118.0,46.6 119.3,48.0 120.7,49.5 121.4,50.4 122.0,51.1 123.3,52.7 124.6,54.5 125.9,56.4 127.2,58.4 128.5,60.6 129.9,62.9 131.2,65.5 132.5,68.3 133.8,71.4 135.1,74.8 136.4,78.8 137.7,83.3 139.0,88.6 140.4,95.0 141.7,103.1 143.0,113.9 144.3,128.7 145.5,139.2 145.6,139.0 146.9,123.6 148.2,109.4 149.6,99.6 150.9,92.3 152.2,86.6 153.5,82.0 154.8,78.1 156.1,74.8 157.4,71.9 158.7,69.4 160.1,67.1 161.4,65.1 162.7,63.3 164.0,61.7 165.3,60.2 166.6,58.8 167.9,57.5 169.2,56.4 170.6,55.3 171.9,54.3 173.2,53.4 174.5,52.5 175.8,51.7 177.1,51.0 178.4,50.3 179.8,49.6 181.1,49.0 181.5,48.8 182.4,48.4 183.7,47.9 185.0,47.3 186.3,46.8 187.6,46.4 188.9,45.9 190.3,45.5 191.6,45.1 192.9,44.7 194.2,44.3 195.5,44.0 196.8,43.7 198.1,43.3 199.4,43.0 200.8,42.7 202.1,42.5 203.4,42.2 204.7,41.9 206.0,41.7 207.3,41.5 208.6,41.2 210.0,41.0 211.3,40.8 212.6,40.6 213.9,40.4 215.2,40.3 216.5,40.1 217.8,39.9 219.1,39.7 220.5,39.6 221.8,39.4 223.1,39.3 224.4,39.2 225.7,39.0 227.0,38.9 228.3,38.8 229.7,38.6 231.0,38.5 232.3,38.4 233.6,38.3 234.9,38.2 236.2,38.1 237.5,38.0 238.8,37.9 240.2,37.8 241.5,37.7 242.8,37.7 244.1,37.6 245.4,37.5 246.7,37.4 248.0,37.3 249.3,37.3 250.7,37.2 252.0,37.1 253.3,37.1 254.6,37.0" stroke="#22a064" marker-start="url(#ma25)" marker-mid="url(#ma25)" marker-end="url(#ma25)"/>
<polyline points="44.5,24.9 45.8,25.0 47.1,25.0 48.4,25.1 49.8,25.2 51.1,25.3 52.4,25.4 53.7,25.5 55.0,25.6 56.3,25.7 57.6,25.9 58.9,26.0 60.3,26.2 61.6,26.4 62.9,26.6 64.2,26.8 65.5,27.0 66.8,27.2 68.1,27.5 69.4,27.8 70.8,28.1 72.1,28.4 73.4,28.8 74.7,29.2 76.0,29.6 76.4,29.7 77.3,30.0 78.6,30.5 80.0,31.0 81.3,31.5 82.6,32.1 83.9,32.7 84.0,32.8 85.2,33.4 86.5,34.1 87.8,34.9 89.1,35.9 90.5,36.9 91.8,37.9 92.7,38.7 93.1,39.1 94.4,40.3 95.7,41.5 97.0,42.9 98.3,44.4 99.7,45.9 101.0,47.6 102.3,49.5 103.6,51.5 104.9,53.7 105.2,54.2 106.2,56.1 107.5,58.8 108.8,61.7 110.2,65.0 111.5,68.7 112.8,72.9 114.1,77.7 115.4,83.5 116.7,90.6 118.0,99.8 119.3,112.7 120.7,132.1 121.4,140.9 122.0,135.5 123.3,114.4 124.6,101.1 125.9,92.0 127.2,85.3 128.5,80.0 129.9,75.7 131.2,72.0 132.5,68.8 133.8,66.0 135.1,63.6 136.4,61.4 137.7,59.5 139.0,57.7 140.4,56.1 141.7,54.7 143.0,53.4 144.3,52.2 145.5,51.2 145.6,51.1 146.9,50.1 148.2,49.2 149.6,48.3 150.9,47.5 152.2,46.8 153.5,46.1 154.8,45.5 156.1,44.9 157.4,44.3 158.7,43.8 160.1,43.4 161.4,42.9 162.7,42.5 164.0,42.1 165.3,41.7 166.6,41.4 167.9,41.0 169.2,40.7 170.6,40.4 171.9,40.1 173.2,39.9 174.5,39.6 175.8,39.4 177.1,39.1 178.4,38.9 179.8,38.7 181.1,38.5 181.5,38.4 182.4,38.3 183.7,38.1 185.0,38.0 186.3,37.8 187.6,37.6 188.9,37.5 190.3,37.3 191.6,37.2 192.9,37.1 194.2,37.0 195.5,36.9 196.8,36.7 198.1,36.6 199.4,36.5 200.8,36.5 202.1,36.4 203.4,36.3 204.7,36.2 206.0,36.1 207.3,36.1 208.6,36.0 210.0,36.0 211.3,35.9 212.6,35.8 213.9,35.8 215.2,35.8 216.5,35.7 217.8,35.7 219.1,35.6 220.5,35.6 221.8,35.6 223.1,35.6 224.4,35.5 225.7,35.5 227.0,35.5 228.3,35.5 229.7,35.5 231.0,35.5 232.3,35.5 233.6,35.5 234.9,35.5 236.2,35.5 237.5,35.5 238.8,35.5 240.2,35.5 241.5,35.5 242.8,35.5 244.1,35.5 245.4,35.5 246.7,35.6 248.0,35.6 249.3,35.6 250.7,35.6 252.0,35.7 253.3,35.7 254.6,35.7" stroke="#a066e4" marker-start="url(#ma30)" marker-mid="url(#ma30)" marker-end="url(#ma30)"/>
<polyline points="44.5,25.1 45.8,25.2 47.1,25.3 48.4,25.5 49.8,25.6 51.1,25.8 52.4,25.9 53.7,26.1 55.0,26.3 56.3,26.6 57.6,26.8 58.9,27.1 60.3,27.4 61.6,27.7 62.9,28.1 64.2,28.5 65.5,28.9 66.8,29.4 68.1,30.0 69.4,30.5 70.8,31.2 72.1,31.9 73.4,32.6 74.7,33.4 76.0,34.3 76.4,34.6 77.3,35.2 78.6,36.3 80.0,37.4 81.3,38.7 82.6,40.1 83.9,41.6 84.0,41.8 85.2,43.3 86.5,45.1 87.8,47.2 89.1,49.5 90.5,52.1 91.8,55.1 92.7,57.3 93.1,58.4 94.4,62.0 95.7,66.0 97.0,70.5 98.3,75.8 99.7,82.1 101.0,90.0 102.3,100.6 103.6,117.0 104.9,147.4 105.2,150.7 106.2,124.5 107.5,103.8 108.8,92.0 110.2,83.9 111.5,77.8 112.8,73.0 114.1,69.0 115.4,65.6 116.7,62.8 118.0,60.3 119.3,58.2 120.7,56.2 121.4,55.2 122.0,54.5 123.3,53.0 124.6,51.6 125.9,50.4 127.2,49.2 128.5,48.1 129.9,47.1 131.2,46.2 132.5,45.4 133.8,44.6 135.1,43.8 136.4,43.1 137.7,42.5 139.0,41.9 140.4,41.4 141.7,40.9 143.0,40.4 144.3,40.0 145.5,39.6 145.6,39.6 146.9,39.2 148.2,38.9 149.6,38.6 150.9,38.3 152.2,38.0 153.5,37.7 154.8,37.5 156.1,37.3 157.4,37.1 158.7,36.9 160.1,36.7 161.4,36.6 162.7,36.4 164.0,36.3 165.3,36.2 166.6,36.0 167.9,35.9 169.2,35.8 170.6,35.7 171.9,35.6 173.2,35.5 174.5,35.4 175.8,35.4 177.1,35.3 178.4,35.2 179.8,35.2 181.1,35.1 181.5,35.1 182.4,35.1 183.7,35.0 185.0,35.0 186.3,34.9 187.6,34.9 188.9,34.9 190.3,34.9 191.6,34.9 192.9,34.9 194.2,34.8 195.5,34.8 196.8,34.9 198.1,34.9 199.4,34.9 200.8,34.9 202.1,34.9 203.4,34.9 204.7,35.0 206.0,35.0 207.3,35.0 208.6,35.1 210.0,35.1 211.3,35.2 212.6,35.2 213.9,35.3 215.2,35.4 216.5,35.4 217.8,35.5 219.1,35.6 220.5,35.7 221.8,35.8 223.1,35.8 224.4,35.9 225.7,36.0 227.0,36.1 228.3,36.2 229.7,36.3 231.0,36.5 232.3,36.6 233.6,36.7 234.9,36.8 236.2,36.9 237.5,37.1 238.8,37.2 240.2,37.3 241.5,37.5 242.8,37.6 244.1,37.8 245.4,37.9 246.7,38.1 248.0,38.3 249.3,38.4 250.7,38.6 252.0,38.8 253.3,38.9 254.6,39.1" stroke="#d2a012" marker-start="url(#ma35)" marker-mid="url(#ma35)" marker-end="url(#ma35)"/>
<polyline points="44.5,25.5 45.8,25.6 47.1,25.8 48.4,26.0 49.8,26.2 51.1,26.5 52.4,26.8 53.7,27.1 55.0,27.4 56.3,27.8 57.6,28.3 58.9,28.8 60.3,29.3 61.6,29.9 62.9,30.6 64.2,31.4 65.5,32.3 66.8,33.2 68.1,34.2 69.4,35.4 70.8,36.7 72.1,38.1 73.4,39.7 74.7,41.4 76.0,43.3 76.4,43.9 77.3,45.3 78.6,47.6 80.0,50.1 81.3,53.1 82.6,56.4 83.9,60.4 84.0,60.8 85.2,65.1 86.5,70.6 87.8,77.6 89.1,86.8 90.5,100.2 91.8,125.0 92.7,163.1 93.1,143.4 94.4,106.7 95.7,91.8 97.0,82.7 98.3,76.2 99.7,71.3 101.0,67.3 102.3,64.0 103.6,61.1 104.9,58.6 105.2,58.1 106.2,56.3 107.5,54.3 108.8,52.5 110.2,51.0 111.5,49.5 112.8,48.3 114.1,47.1 115.4,46.1 116.7,45.1 118.0,44.2 119.3,43.5 120.7,42.7 121.4,42.3 122.0,42.1 123.3,41.4 124.6,40.9 125.9,40.3 127.2,39.8 128.5,39.3 129.9,38.9 131.2,38.4 132.5,38.0 133.8,37.7 135.1,37.3 136.4,37.0 137.7,36.7 139.0,36.4 140.4,36.1 141.7,35.9 143.0,35.7 144.3,35.5 145.5,35.3 145.6,35.3 146.9,35.1 148.2,35.0 149.6,34.9 150.9,34.8 152.2,34.7 153.5,34.6 154.8,34.5 156.1,34.4 157.4,34.4 158.7,34.3 160.1,34.3 161.4,34.2 162.7,34.2 164.0,34.2 165.3,34.2 166.6,34.2 167.9,34.2 169.2,34.2 170.6,34.2 171.9,34.3 173.2,34.3 174.5,34.3 175.8,34.4 177.1,34.4 178.4,34.5 179.8,34.5 181.1,34.6 181.5,34.6 182.4,34.6 183.7,34.7 185.0,34.8 186.3,34.9 187.6,35.0 188.9,35.1 190.3,35.2 191.6,35.3 192.9,35.4 194.2,35.5 195.5,35.7 196.8,35.8 198.1,35.9 199.4,36.1 200.8,36.2 202.1,36.4 203.4,36.6 204.7,36.8 206.0,36.9 207.3,37.1 208.6,37.3 210.0,37.5 211.3,37.7 212.6,38.0 213.9,38.2 215.2,38.4 216.5,38.6 217.8,38.9 219.1,39.1 220.5,39.4 221.8,39.6 223.1,39.9 224.4,40.2 225.7,40.4 227.0,40.7 228.3,41.0 229.7,41.3 231.0,41.6 232.3,41.9 233.6,42.1 234.9,42.4 236.2,42.7 237.5,43.1 238.8,43.4 240.2,43.7 241.5,44.0 242.8,44.3 244.1,44.6 245.4,44.9 246.7,45.2 248.0,45.5 249.3,45.8 250.7,46.1 252.0,46.4 253.3,46.7 254.6,47.0" stroke="#1cc6ca" marker-start="url(#ma40)" marker-mid="url(#ma40)" marker-end="url(#ma40)"/>
<polyline points="44.5,25.9 45.8,26.2 47.1,26.4 48.4,26.8 49.8,27.1 51.1,27.5 52.4,28.0 53.7,28.6 55.0,29.2 56.3,29.9 57.6,30.7 58.9,31.6 60.3,32.6 61.6,33.7 62.9,35.0 64.2,36.5 65.5,38.1 66.8,40.0 68.1,42.1 69.4,44.4 70.8,47.1 72.1,50.1 73.4,53.5 74.7,57.4 76.0,61.9 76.4,63.4 77.3,67.0 78.6,73.2 80.0,81.0 81.3,91.8 82.6,108.9 83.9,138.1 84.0,138.9 85.2,111.5 86.5,92.3 87.8,81.0 89.1,73.1 90.5,67.3 91.8,62.7 92.7,60.1 93.1,59.1 94.4,56.2 95.7,53.9 97.0,52.0 98.3,50.4 99.7,48.9 101.0,47.7 102.3,46.5 103.6,45.5 104.9,44.5 105.2,44.3 106.2,43.6 107.5,42.8 108.8,42.0 110.2,41.3 111.5,40.6 112.8,40.0 114.1,39.5 115.4,39.0 116.7,38.5 118.0,38.1 119.3,37.7 120.7,37.3 121.4,37.1 122.0,37.0 123.3,36.7 124.6,36.4 125.9,36.1 127.2,35.8 128.5,35.6 129.9,35.3 131.2,35.1 132.5,34.9 133.8,34.7 135.1,34.5 136.4,34.3 137.7,34.2 139.0,34.0 140.4,33.9 141.7,33.8 143.0,33.7 144.3,33.7 145.5,33.6 145.6,33.6 146.9,33.6 148.2,33.5 149.6,33.5 150.9,33.5 152.2,33.5 153.5,33.6 154.8,33.6 156.1,33.6 157.4,33.7 158.7,33.8 160.1,33.9 161.4,33.9 162.7,34.0 164.0,34.2 165.3,34.3 166.6,34.4 167.9,34.5 169.2,34.7 170.6,34.9 171.9,35.0 173.2,35.2 174.5,35.4 175.8,35.6 177.1,35.8 178.4,36.0 179.8,36.2 181.1,36.4 181.5,36.5 182.4,36.6 183.7,36.9 185.0,37.1 186.3,37.4 187.6,37.7 188.9,38.0 190.3,38.2 191.6,38.5 192.9,38.8 194.2,39.2 195.5,39.5 196.8,39.8 198.1,40.2 199.4,40.5 200.8,40.9 202.1,41.2 203.4,41.6 204.7,41.9 206.0,42.3 207.3,42.7 208.6,43.0 210.0,43.4 211.3,43.8 212.6,44.1 213.9,44.5 215.2,44.8 216.5,45.2 217.8,45.5 219.1,45.9 220.5,46.2 221.8,46.5 223.1,46.8 224.4,47.1 225.7,47.4 227.0,47.7 228.3,47.9 229.7,48.1 231.0,48.4 232.3,48.6 233.6,48.7 234.9,48.9 236.2,49.1 237.5,49.2 238.8,49.3 240.2,49.4 241.5,49.5 242.8,49.6 244.1,49.6 245.4,49.7 246.7,49.7 248.0,49.7 249.3,49.7 250.7,49.7 252.0,49.6 253.3,49.6 254.6,49.5" stroke="#7a3a3c" marker-start="url(#ma45)" marker-mid="url(#ma45)" marker-end="url(#ma45)"/>
<polyline points="44.5,26.5 45.8,26.9 47.1,27.3 48.4,27.8 49.8,28.4 51.1,29.1 52.4,29.9 53.7,30.8 55.0,31.9 56.3,33.1 57.6,34.4 58.9,36.0 60.3,37.9 61.6,40.0 62.9,42.4 64.2,45.1 65.5,48.3 66.8,52.0 68.1,56.4 69.4,61.5 70.8,67.7 72.1,75.6 73.4,86.1 74.7,102.0 76.0,130.7 76.4,137.0 77.3,116.8 78.6,95.4 80.0,83.3 81.3,75.0 82.6,68.7 83.9,63.7 84.0,63.3 85.2,59.6 86.5,56.2 87.8,53.2 89.1,50.8 90.5,48.6 91.8,46.8 92.7,45.8 93.1,45.3 94.4,44.1 95.7,43.1 97.0,42.2 98.3,41.4 99.7,40.8 101.0,40.2 102.3,39.6 103.6,39.1 104.9,38.6 105.2,38.5 106.2,38.1 107.5,37.7 108.8,37.3 110.2,36.9 111.5,36.5 112.8,36.2 114.1,35.9 115.4,35.6 116.7,35.4 118.0,35.1 119.3,34.9 120.7,34.8 121.4,34.6 122.0,34.6 123.3,34.4 124.6,34.3 125.9,34.1 127.2,34.0 128.5,33.9 129.9,33.8 131.2,33.6 132.5,33.6 133.8,33.5 135.1,33.4 136.4,33.3 137.7,33.3 139.0,33.3 140.4,33.3 141.7,33.3 143.0,33.3 144.3,33.3 145.5,33.4 145.6,33.4 146.9,33.5 148.2,33.6 149.6,33.7 150.9,33.8 152.2,34.0 153.5,34.2 154.8,34.3 156.1,34.5 157.4,34.8 158.7,35.0 160.1,35.2 161.4,35.5 162.7,35.8 164.0,36.1 165.3,36.4 166.6,36.7 167.9,37.1 169.2,37.4 170.6,37.8 171.9,38.2 173.2,38.5 174.5,38.9 175.8,39.4 177.1,39.8 178.4,40.2 179.8,40.6 181.1,41.1 181.5,41.2 182.4,41.5 183.7,41.9 185.0,42.4 186.3,42.8 187.6,43.3 188.9,43.7 190.3,44.2 191.6,44.6 192.9,45.0 194.2,45.4 195.5,45.8 196.8,46.2 198.1,46.5 199.4,46.8 200.8,47.1 202.1,47.4 203.4,47.7 204.7,47.9 206.0,48.1 207.3,48.3 208.6,48.4 210.0,48.5 211.3,48.6 212.6,48.7 213.9,48.7 215.2,48.7 216.5,48.7 217.8,48.7 219.1,48.6 220.5,48.5 221.8,48.5 223.1,48.3 224.4,48.2 225.7,48.1 227.0,48.0 228.3,47.8 229.7,47.7 231.0,47.5 232.3,47.4 233.6,47.2 234.9,47.0 236.2,46.9 237.5,46.7 238.8,46.5 240.2,46.3 241.5,46.2 242.8,46.0 244.1,45.8 245.4,45.7 246.7,45.5 248.0,45.4 249.3,45.2 250.7,45.1 252.0,44.9 253.3,44.8 254.6,44.6" stroke="#a09812" marker-start="url(#ma50)" marker-mid="url(#ma50)" marker-end="url(#ma50)"/>
</g>
<rect x="44.5" y="17.9" width="210.10" height="170.10" fill="none" stroke="#111" stroke-width="1.3"/>
<path d="M44.5,24.4h-2.8M44.5,40.8h-2.8M44.5,57.1h-2.8M44.5,73.5h-2.8M44.5,89.8h-2.8M44.5,106.2h-2.8M44.5,122.6h-2.8M44.5,138.9h-2.8M44.5,155.3h-2.8M44.5,171.6h-2.8M44.5,188.0h-2.8M44.5,32.6h-1.6M44.5,48.9h-1.6M44.5,65.3h-1.6M44.5,81.7h-1.6M44.5,98.0h-1.6M44.5,114.4h-1.6M44.5,130.7h-1.6M44.5,147.1h-1.6M44.5,163.5h-1.6M44.5,179.8h-1.6M44.5,188.0v3.2M70.8,188.0v3.2M97.0,188.0v3.2M123.3,188.0v3.2M149.6,188.0v3.2M175.8,188.0v3.2M202.1,188.0v3.2M228.3,188.0v3.2M254.6,188.0v3.2M57.6,188.0v1.6M83.9,188.0v1.6M110.2,188.0v1.6M136.4,188.0v1.6M162.7,188.0v1.6M188.9,188.0v1.6M215.2,188.0v1.6M241.5,188.0v1.6" stroke="#111" stroke-width="1.3" fill="none"/>
<g font-family="'Liberation Sans', Arial, sans-serif" font-weight="bold" font-size="8.2" fill="#111"><text x="38.7" y="26.7" text-anchor="end">0</text><text x="38.7" y="43.0" text-anchor="end">-5</text><text x="38.7" y="59.4" text-anchor="end">-10</text><text x="38.7" y="75.7" text-anchor="end">-15</text><text x="38.7" y="92.1" text-anchor="end">-20</text><text x="38.7" y="108.5" text-anchor="end">-25</text><text x="38.7" y="124.8" text-anchor="end">-30</text><text x="38.7" y="141.2" text-anchor="end">-35</text><text x="38.7" y="157.5" text-anchor="end">-40</text><text x="38.7" y="173.9" text-anchor="end">-45</text><text x="38.7" y="190.3" text-anchor="end">-50</text><text x="44.5" y="200.8" text-anchor="middle">2</text><text x="70.8" y="200.8" text-anchor="middle">4</text><text x="97.0" y="200.8" text-anchor="middle">6</text><text x="123.3" y="200.8" text-anchor="middle">8</text><text x="149.6" y="200.8" text-anchor="middle">10</text><text x="175.8" y="200.8" text-anchor="middle">12</text><text x="202.1" y="200.8" text-anchor="middle">14</text><text x="228.3" y="200.8" text-anchor="middle">16</text><text x="254.6" y="200.8" text-anchor="middle">18</text></g>
<text x="149.6" y="210.8" text-anchor="middle" font-family="'Liberation Sans', Arial, sans-serif" font-weight="bold" font-size="9.6" fill="#111">Frequency (GHz)</text>
<text transform="translate(24.4,103.0) rotate(-90)" text-anchor="middle" font-family="'Liberation Sans', Arial, sans-serif" font-weight="bold" font-size="9.6" fill="#111">Reflection loss (dB)</text>
<text x="6.2" y="21.0" font-family="'Liberation Sans', Arial, sans-serif" font-weight="bold" font-size="19.5" fill="#111">(a)</text>
<path d="M162.0,138.6H168.5H175.0" stroke="#3a3a3a" stroke-width="1.3" fill="none" marker-mid="url(#ma10)"/>
<text x="178.6" y="140.9" font-family="'Liberation Sans', Arial, sans-serif" font-weight="bold" font-size="6.5" fill="#222">1.0mm</text>
<path d="M204.4,138.6H211.2H218.0" stroke="#e4323a" stroke-width="1.3" fill="none" marker-mid="url(#ma15)"/>
<text x="221.0" y="140.9" font-family="'Liberation Sans', Arial, sans-serif" font-weight="bold" font-size="6.5" fill="#222">1.5mm</text>
<path d="M162.0,146.5H168.5H175.0" stroke="#1f64d4" stroke-width="1.3" fill="none" marker-mid="url(#ma20)"/>
<text x="178.6" y="148.9" font-family="'Liberation Sans', Arial, sans-serif" font-weight="bold" font-size="6.5" fill="#222">2.0mm</text>
<path d="M204.4,146.5H211.2H218.0" stroke="#22a064" stroke-width="1.3" fill="none" marker-mid="url(#ma25)"/>
<text x="221.0" y="148.9" font-family="'Liberation Sans', Arial, sans-serif" font-weight="bold" font-size="6.5" fill="#222">2.5mm</text>
<path d="M162.0,154.5H168.5H175.0" stroke="#a066e4" stroke-width="1.3" fill="none" marker-mid="url(#ma30)"/>
<text x="178.6" y="156.8" font-family="'Liberation Sans', Arial, sans-serif" font-weight="bold" font-size="6.5" fill="#222">3.0mm</text>
<path d="M204.4,154.5H211.2H218.0" stroke="#d2a012" stroke-width="1.3" fill="none" marker-mid="url(#ma35)"/>
<text x="221.0" y="156.8" font-family="'Liberation Sans', Arial, sans-serif" font-weight="bold" font-size="6.5" fill="#222">3.5mm</text>
<path d="M162.0,162.4H168.5H175.0" stroke="#1cc6ca" stroke-width="1.3" fill="none" marker-mid="url(#ma40)"/>
<text x="178.6" y="164.8" font-family="'Liberation Sans', Arial, sans-serif" font-weight="bold" font-size="6.5" fill="#222">4.0mm</text>
<path d="M204.4,162.4H211.2H218.0" stroke="#7a3a3c" stroke-width="1.3" fill="none" marker-mid="url(#ma45)"/>
<text x="221.0" y="164.8" font-family="'Liberation Sans', Arial, sans-serif" font-weight="bold" font-size="6.5" fill="#222">4.5mm</text>
<path d="M162.0,170.4H168.5H175.0" stroke="#a09812" stroke-width="1.3" fill="none" marker-mid="url(#ma50)"/>
<text x="178.6" y="172.7" font-family="'Liberation Sans', Arial, sans-serif" font-weight="bold" font-size="6.5" fill="#222">5.0mm</text>
<marker id="mc10" markerUnits="userSpaceOnUse" markerWidth="7.0" markerHeight="7.0" refX="0" refY="0" viewBox="-3.5 -3.5 7.0 7.0" overflow="visible"><g fill="#3a3a3a"><rect x="-2.00" y="-2.00" width="4.00" height="4.00"/></g></marker><marker id="mc15" markerUnits="userSpaceOnUse" markerWidth="7.0" markerHeight="7.0" refX="0" refY="0" viewBox="-3.5 -3.5 7.0 7.0" overflow="visible"><g fill="#e4323a"><circle cx="0" cy="0" r="2.12"/></g></marker><marker id="mc20" markerUnits="userSpaceOnUse" markerWidth="7.0" markerHeight="7.0" refX="0" refY="0" viewBox="-3.5 -3.5 7.0 7.0" overflow="visible"><g fill="#1f64d4"><path d="M0,-2.50L2.38,1.75L-2.38,1.75Z"/></g></marker><marker id="mc25" markerUnits="userSpaceOnUse" markerWidth="7.0" markerHeight="7.0" refX="0" refY="0" viewBox="-3.5 -3.5 7.0 7.0" overflow="visible"><g fill="#22a064"><path d="M0,2.50L2.38,-1.75L-2.38,-1.75Z"/></g></marker><marker id="mc30" markerUnits="userSpaceOnUse" markerWidth="7.0" markerHeight="7.0" refX="0" refY="0" viewBox="-3.5 -3.5 7.0 7.0" overflow="visible"><g fill="#a066e4"><path d="M0,-2.50L2.50,0L0,2.50L-2.50,0Z"/></g></marker><marker id="mc35" markerUnits="userSpaceOnUse" markerWidth="7.0" markerHeight="7.0" refX="0" refY="0" viewBox="-3.5 -3.5 7.0 7.0" overflow="visible"><g fill="#d2a012"><path d="M-2.50,0L1.75,2.38L1.75,-2.38Z"/></g></marker><marker id="mc40" markerUnits="userSpaceOnUse" markerWidth="7.0" markerHeight="7.0" refX="0" refY="0" viewBox="-3.5 -3.5 7.0 7.0" overflow="visible"><g fill="#1cc6ca"><path d="M2.50,0L-1.75,2.38L-1.75,-2.38Z"/></g></marker><marker id="mc45" markerUnits="userSpaceOnUse" markerWidth="7.0" markerHeight="7.0" refX="0" refY="0" viewBox="-3.5 -3.5 7.0 7.0" overflow="visible"><g fill="#7a3a3c"><polygon points="2.25,0.00 1.13,1.95 -1.12,1.95 -2.25,0.00 -1.13,-1.95 1.13,-1.95"/></g></marker><marker id="mc50" markerUnits="userSpaceOnUse" markerWidth="7.0" markerHeight="7.0" refX="0" refY="0" viewBox="-3.5 -3.5 7.0 7.0" overflow="visible"><g fill="#a09812"><polygon points="0.00,-2.50 0.66,-0.91 2.38,-0.77 1.07,0.35 1.47,2.02 0.00,1.12 -1.47,2.02 -1.07,0.35 -2.38,-0.77 -0.66,-0.91"/></g></marker>
<g fill="none" stroke-width="1.6" stroke-linejoin="round">
<polyline points="45.3,238.7 46.6,238.7 47.9,238.7 49.2,238.7 50.6,238.7 51.9,238.7 53.2,238.7 54.5,238.7 55.8,238.7 57.1,238.7 58.4,238.7 59.8,238.7 61.1,238.7 62.4,238.7 63.7,238.7 65.0,238.7 66.3,238.7 67.6,238.7 68.9,238.7 70.3,238.7 71.6,238.7 72.9,238.7 74.2,238.7 75.5,238.7 76.8,238.7 76.8,238.7 78.1,238.7 79.5,238.7 80.8,238.7 82.1,238.7 83.4,238.7 84.1,238.7 84.7,238.7 86.0,238.7 87.3,238.7 88.7,238.7 90.0,238.7 91.3,238.8 92.6,238.8 93.3,238.8 93.9,238.8 95.2,238.8 96.5,238.8 97.9,238.8 99.2,238.8 100.5,238.8 101.8,238.8 103.1,238.8 104.4,238.8 105.7,238.8 105.9,238.8 107.0,238.8 108.4,238.8 109.7,238.8 111.0,238.8 112.3,238.8 113.6,238.8 114.9,238.8 116.2,238.8 117.6,238.8 118.9,238.8 120.2,238.8 121.5,238.9 122.7,238.9 122.8,238.9 124.1,238.9 125.4,238.9 126.8,238.9 128.1,238.9 129.4,238.9 130.7,238.9 132.0,238.9 133.3,238.9 134.6,238.9 135.9,238.9 137.3,239.0 138.6,239.0 139.9,239.0 141.2,239.0 142.5,239.0 143.8,239.0 145.1,239.0 146.5,239.0 147.4,239.1 147.8,239.1 149.1,239.1 150.4,239.1 151.7,239.1 153.0,239.1 154.3,239.1 155.7,239.1 157.0,239.1 158.3,239.2 159.6,239.2 160.9,239.2 162.2,239.2 163.5,239.2 164.9,239.2 166.2,239.3 167.5,239.3 168.8,239.3 170.1,239.3 171.4,239.3 172.7,239.3 174.0,239.4 175.4,239.4 176.7,239.4 178.0,239.4 179.3,239.4 180.6,239.5 181.9,239.5 183.2,239.5 184.4,239.5 184.6,239.5 185.9,239.6 187.2,239.6 188.5,239.6 189.8,239.6 191.1,239.7 192.4,239.7 193.8,239.7 195.1,239.8 196.4,239.8 197.7,239.8 199.0,239.8 200.3,239.9 201.6,239.9 203.0,240.0 204.3,240.0 205.6,240.0 206.9,240.1 208.2,240.1 209.5,240.1 210.8,240.2 212.1,240.2 213.5,240.3 214.8,240.3 216.1,240.4 217.4,240.4 218.7,240.5 220.0,240.5 221.3,240.5 222.7,240.6 224.0,240.7 225.3,240.7 226.6,240.8 227.9,240.8 229.2,240.9 230.5,240.9 231.9,241.0 233.2,241.1 234.5,241.1 235.8,241.2 237.1,241.2 238.4,241.3 239.7,241.4 241.0,241.4 242.4,241.5 243.7,241.6 245.0,241.7 246.3,241.7 247.6,241.8 248.9,241.9 248.9,241.9 250.2,242.0 251.6,242.1 252.9,242.1 254.2,242.2 255.5,242.3" stroke="#3a3a3a" marker-start="url(#mc10)" marker-mid="url(#mc10)" marker-end="url(#mc10)"/>
<polyline points="45.3,238.8 46.6,238.8 47.9,238.8 49.2,238.8 50.6,238.8 51.9,238.9 53.2,238.9 54.5,238.9 55.8,238.9 57.1,238.9 58.4,238.9 59.8,238.9 61.1,239.0 62.4,239.0 63.7,239.0 65.0,239.0 66.3,239.0 67.6,239.0 68.9,239.1 70.3,239.1 71.6,239.1 72.9,239.1 74.2,239.2 75.5,239.2 76.8,239.2 76.8,239.2 78.1,239.3 79.5,239.3 80.8,239.3 82.1,239.4 83.4,239.4 84.1,239.4 84.7,239.4 86.0,239.5 87.3,239.5 88.7,239.5 90.0,239.6 91.3,239.6 92.6,239.7 93.3,239.7 93.9,239.7 95.2,239.8 96.5,239.8 97.9,239.9 99.2,239.9 100.5,240.0 101.8,240.0 103.1,240.1 104.4,240.2 105.7,240.2 105.9,240.2 107.0,240.3 108.4,240.4 109.7,240.4 111.0,240.5 112.3,240.6 113.6,240.7 114.9,240.8 116.2,240.9 117.6,241.0 118.9,241.1 120.2,241.2 121.5,241.3 122.7,241.5 122.8,241.5 124.1,241.6 125.4,241.7 126.8,241.9 128.1,242.0 129.4,242.2 130.7,242.3 132.0,242.5 133.3,242.6 134.6,242.8 135.9,243.0 137.3,243.1 138.6,243.3 139.9,243.5 141.2,243.7 142.5,243.9 143.8,244.1 145.1,244.3 146.5,244.5 147.4,244.6 147.8,244.7 149.1,244.9 150.4,245.1 151.7,245.3 153.0,245.5 154.3,245.8 155.7,246.0 157.0,246.3 158.3,246.5 159.6,246.8 160.9,247.1 162.2,247.4 163.5,247.7 164.9,248.0 166.2,248.3 167.5,248.7 168.8,249.0 170.1,249.4 171.4,249.7 172.7,250.1 174.0,250.5 175.4,250.9 176.7,251.4 178.0,251.8 179.3,252.3 180.6,252.8 181.9,253.3 183.2,253.8 184.4,254.3 184.6,254.4 185.9,254.9 187.2,255.5 188.5,256.1 189.8,256.7 191.1,257.3 192.4,257.9 193.8,258.6 195.1,259.3 196.4,260.0 197.7,260.7 199.0,261.5 200.3,262.3 201.6,263.1 203.0,263.9 204.3,264.8 205.6,265.7 206.9,266.6 208.2,267.5 209.5,268.5 210.8,269.6 212.1,270.6 213.5,271.7 214.8,272.9 216.1,274.1 217.4,275.3 218.7,276.6 220.0,278.0 221.3,279.4 222.7,280.9 224.0,282.5 225.3,284.1 226.6,285.8 227.9,287.7 229.2,289.6 230.5,291.7 231.9,293.9 233.2,296.3 234.5,298.8 235.8,301.6 237.1,304.7 238.4,308.1 239.7,311.9 241.0,316.2 242.4,321.1 243.7,326.9 245.0,333.9 246.3,342.2 247.6,351.1 248.9,355.8 248.9,355.8 250.2,350.3 251.6,340.8 252.9,332.4 254.2,325.7 255.5,320.1" stroke="#e4323a" marker-start="url(#mc15)" marker-mid="url(#mc15)" marker-end="url(#mc15)"/>
<polyline points="45.3,238.9 46.6,238.9 47.9,238.9 49.2,238.9 50.6,238.9 51.9,239.0 53.2,239.0 54.5,239.0 55.8,239.0 57.1,239.1 58.4,239.1 59.8,239.1 61.1,239.2 62.4,239.2 63.7,239.3 65.0,239.3 66.3,239.3 67.6,239.4 68.9,239.5 70.3,239.5 71.6,239.6 72.9,239.6 74.2,239.7 75.5,239.8 76.8,239.8 76.8,239.8 78.1,239.9 79.5,240.0 80.8,240.1 82.1,240.2 83.4,240.3 84.1,240.3 84.7,240.4 86.0,240.5 87.3,240.6 88.7,240.7 90.0,240.8 91.3,240.9 92.6,241.1 93.3,241.1 93.9,241.2 95.2,241.3 96.5,241.5 97.9,241.7 99.2,241.8 100.5,242.0 101.8,242.2 103.1,242.4 104.4,242.6 105.7,242.8 105.9,242.8 107.0,243.0 108.4,243.3 109.7,243.5 111.0,243.8 112.3,244.1 113.6,244.4 114.9,244.7 116.2,245.0 117.6,245.3 118.9,245.7 120.2,246.1 121.5,246.5 122.7,246.9 122.8,246.9 124.1,247.4 125.4,247.9 126.8,248.4 128.1,248.9 129.4,249.5 130.7,250.1 132.0,250.7 133.3,251.3 134.6,252.0 135.9,252.6 137.3,253.4 138.6,254.1 139.9,254.9 141.2,255.7 142.5,256.5 143.8,257.4 145.1,258.3 146.5,259.2 147.4,259.9 147.8,260.2 149.1,261.2 150.4,262.3 151.7,263.4 153.0,264.5 154.3,265.7 155.7,267.0 157.0,268.4 158.3,269.8 159.6,271.3 160.9,272.8 162.2,274.5 163.5,276.3 164.9,278.2 166.2,280.3 167.5,282.5 168.8,284.8 170.1,287.4 171.4,290.3 172.7,293.4 174.0,296.9 175.4,300.9 176.7,305.4 178.0,310.8 179.3,317.3 180.6,325.7 181.9,337.1 183.2,354.8 184.4,371.8 184.6,371.3 185.9,348.6 187.2,332.7 188.5,322.5 189.8,315.0 191.1,309.2 192.4,304.4 193.8,300.5 195.1,297.1 196.4,294.1 197.7,291.4 199.0,289.1 200.3,286.9 201.6,285.0 203.0,283.2 204.3,281.6 205.6,280.1 206.9,278.7 208.2,277.4 209.5,276.2 210.8,275.1 212.1,274.0 213.5,273.0 214.8,272.1 216.1,271.2 217.4,270.4 218.7,269.6 220.0,268.8 221.3,268.1 222.7,267.4 224.0,266.8 225.3,266.2 226.6,265.6 227.9,265.0 229.2,264.5 230.5,264.0 231.9,263.5 233.2,263.1 234.5,262.6 235.8,262.2 237.1,261.8 238.4,261.4 239.7,261.0 241.0,260.6 242.4,260.3 243.7,260.0 245.0,259.6 246.3,259.3 247.6,259.0 248.9,258.7 248.9,258.7 250.2,258.4 251.6,258.2 252.9,257.9 254.2,257.6 255.5,257.4" stroke="#1f64d4" marker-start="url(#mc20)" marker-mid="url(#mc20)" marker-end="url(#mc20)"/>
<polyline points="45.3,239.0 46.6,239.0 47.9,239.0 49.2,239.1 50.6,239.1 51.9,239.1 53.2,239.2 54.5,239.2 55.8,239.3 57.1,239.4 58.4,239.4 59.8,239.5 61.1,239.6 62.4,239.6 63.7,239.7 65.0,239.8 66.3,239.9 67.6,240.0 68.9,240.1 70.3,240.3 71.6,240.4 72.9,240.5 74.2,240.7 75.5,240.8 76.8,241.0 76.8,241.0 78.1,241.2 79.5,241.4 80.8,241.6 82.1,241.8 83.4,242.1 84.1,242.2 84.7,242.3 86.0,242.6 87.3,242.9 88.7,243.2 90.0,243.5 91.3,243.9 92.6,244.2 93.3,244.4 93.9,244.6 95.2,245.0 96.5,245.5 97.9,245.9 99.2,246.4 100.5,246.9 101.8,247.5 103.1,248.1 104.4,248.7 105.7,249.4 105.9,249.4 107.0,250.1 108.4,250.9 109.7,251.7 111.0,252.5 112.3,253.5 113.6,254.4 114.9,255.5 116.2,256.6 117.6,257.8 118.9,259.0 120.2,260.4 121.5,261.8 122.7,263.1 122.8,263.3 124.1,264.9 125.4,266.7 126.8,268.6 128.1,270.6 129.4,272.7 130.7,275.1 132.0,277.6 133.3,280.3 134.6,283.3 135.9,286.6 137.3,290.3 138.6,294.4 139.9,299.1 141.2,304.7 142.5,311.3 143.8,319.7 145.1,330.7 146.5,344.3 147.4,349.9 147.8,348.5 149.1,334.7 150.4,322.5 151.7,313.6 153.0,306.9 154.3,301.5 155.7,297.0 157.0,293.2 158.3,289.9 159.6,287.0 160.9,284.5 162.2,282.2 163.5,280.1 164.9,278.2 166.2,276.5 167.5,274.9 168.8,273.4 170.1,272.1 171.4,270.8 172.7,269.7 174.0,268.6 175.4,267.6 176.7,266.6 178.0,265.8 179.3,264.9 180.6,264.2 181.9,263.4 183.2,262.8 184.4,262.2 184.6,262.1 185.9,261.6 187.2,261.0 188.5,260.5 189.8,260.0 191.1,259.5 192.4,259.0 193.8,258.6 195.1,258.2 196.4,257.8 197.7,257.4 199.0,257.0 200.3,256.7 201.6,256.4 203.0,256.1 204.3,255.8 205.6,255.5 206.9,255.2 208.2,255.0 209.5,254.7 210.8,254.5 212.1,254.2 213.5,254.0 214.8,253.8 216.1,253.6 217.4,253.4 218.7,253.2 220.0,253.1 221.3,252.9 222.7,252.7 224.0,252.6 225.3,252.4 226.6,252.3 227.9,252.1 229.2,252.0 230.5,251.9 231.9,251.7 233.2,251.6 234.5,251.5 235.8,251.4 237.1,251.3 238.4,251.2 239.7,251.1 241.0,251.0 242.4,250.9 243.7,250.8 245.0,250.8 246.3,250.7 247.6,250.6 248.9,250.6 248.9,250.6 250.2,250.5 251.6,250.4 252.9,250.4 254.2,250.3 255.5,250.2" stroke="#22a064" marker-start="url(#mc25)" marker-mid="url(#mc25)" marker-end="url(#mc25)"/>
<polyline points="45.3,239.1 46.6,239.1 47.9,239.2 49.2,239.3 50.6,239.3 51.9,239.4 53.2,239.5 54.5,239.6 55.8,239.7 57.1,239.8 58.4,239.9 59.8,240.0 61.1,240.2 62.4,240.3 63.7,240.5 65.0,240.7 66.3,240.9 67.6,241.1 68.9,241.3 70.3,241.6 71.6,241.9 72.9,242.2 74.2,242.5 75.5,242.9 76.8,243.3 76.8,243.3 78.1,243.7 79.5,244.2 80.8,244.7 82.1,245.2 83.4,245.8 84.1,246.1 84.7,246.4 86.0,247.1 87.3,247.9 88.7,248.7 90.0,249.5 91.3,250.5 92.6,251.4 93.3,252.0 93.9,252.5 95.2,253.6 96.5,254.8 97.9,256.1 99.2,257.5 100.5,259.0 101.8,260.7 103.1,262.4 104.4,264.4 105.7,266.5 105.9,266.7 107.0,268.8 108.4,271.3 109.7,274.2 111.0,277.3 112.3,280.8 113.6,284.7 114.9,289.3 116.2,294.5 117.6,300.8 118.9,308.5 120.2,318.1 121.5,329.2 122.7,334.9 122.8,334.8 124.1,326.5 125.4,315.7 126.8,307.3 128.1,300.7 129.4,295.5 130.7,291.2 132.0,287.6 133.3,284.6 134.6,281.9 135.9,279.5 137.3,277.4 138.6,275.6 139.9,273.9 141.2,272.3 142.5,270.9 143.8,269.6 145.1,268.4 146.5,267.3 147.4,266.5 147.8,266.2 149.1,265.2 150.4,264.3 151.7,263.4 153.0,262.6 154.3,261.8 155.7,261.1 157.0,260.4 158.3,259.8 159.6,259.1 160.9,258.6 162.2,258.0 163.5,257.5 164.9,257.0 166.2,256.5 167.5,256.1 168.8,255.6 170.1,255.2 171.4,254.8 172.7,254.5 174.0,254.1 175.4,253.8 176.7,253.5 178.0,253.2 179.3,252.9 180.6,252.7 181.9,252.5 183.2,252.2 184.4,252.0 184.6,252.0 185.9,251.8 187.2,251.6 188.5,251.5 189.8,251.3 191.1,251.1 192.4,251.0 193.8,250.8 195.1,250.7 196.4,250.6 197.7,250.4 199.0,250.3 200.3,250.2 201.6,250.1 203.0,250.0 204.3,249.9 205.6,249.8 206.9,249.7 208.2,249.7 209.5,249.6 210.8,249.5 212.1,249.5 213.5,249.4 214.8,249.4 216.1,249.3 217.4,249.3 218.7,249.2 220.0,249.2 221.3,249.2 222.7,249.1 224.0,249.1 225.3,249.1 226.6,249.1 227.9,249.1 229.2,249.0 230.5,249.0 231.9,249.0 233.2,249.0 234.5,249.1 235.8,249.1 237.1,249.1 238.4,249.1 239.7,249.1 241.0,249.1 242.4,249.2 243.7,249.2 245.0,249.2 246.3,249.3 247.6,249.3 248.9,249.4 248.9,249.4 250.2,249.4 251.6,249.5 252.9,249.5 254.2,249.6 255.5,249.7" stroke="#a066e4" marker-start="url(#mc30)" marker-mid="url(#mc30)" marker-end="url(#mc30)"/>
<polyline points="45.3,239.3 46.6,239.4 47.9,239.5 49.2,239.6 50.6,239.7 51.9,239.8 53.2,240.0 54.5,240.1 55.8,240.3 57.1,240.5 58.4,240.7 59.8,240.9 61.1,241.2 62.4,241.5 63.7,241.8 65.0,242.2 66.3,242.6 67.6,243.0 68.9,243.5 70.3,244.1 71.6,244.7 72.9,245.3 74.2,246.0 75.5,246.8 76.8,247.7 76.8,247.7 78.1,248.7 79.5,249.7 80.8,250.9 82.1,252.2 83.4,253.6 84.1,254.4 84.7,255.2 86.0,256.9 87.3,258.8 88.7,260.9 90.0,263.2 91.3,265.7 92.6,268.5 93.3,270.0 93.9,271.6 95.2,275.1 96.5,278.9 97.9,283.4 99.2,288.5 100.5,294.6 101.8,302.2 103.1,311.8 104.4,324.4 105.7,334.8 105.9,334.9 107.0,326.1 108.4,312.8 109.7,303.1 111.0,295.8 112.3,290.2 113.6,285.6 114.9,281.8 116.2,278.6 117.6,275.9 118.9,273.5 120.2,271.4 121.5,269.6 122.7,268.1 122.8,268.0 124.1,266.6 125.4,265.3 126.8,264.2 128.1,263.2 129.4,262.2 130.7,261.4 132.0,260.7 133.3,260.0 134.6,259.3 135.9,258.7 137.3,258.2 138.6,257.6 139.9,257.1 141.2,256.7 142.5,256.2 143.8,255.8 145.1,255.4 146.5,255.0 147.4,254.7 147.8,254.6 149.1,254.2 150.4,253.9 151.7,253.5 153.0,253.2 154.3,252.9 155.7,252.6 157.0,252.3 158.3,252.0 159.6,251.8 160.9,251.5 162.2,251.3 163.5,251.0 164.9,250.8 166.2,250.6 167.5,250.4 168.8,250.2 170.1,250.1 171.4,249.9 172.7,249.7 174.0,249.6 175.4,249.5 176.7,249.3 178.0,249.2 179.3,249.1 180.6,249.0 181.9,248.9 183.2,248.9 184.4,248.8 184.6,248.8 185.9,248.8 187.2,248.7 188.5,248.7 189.8,248.6 191.1,248.6 192.4,248.6 193.8,248.5 195.1,248.5 196.4,248.5 197.7,248.5 199.0,248.5 200.3,248.5 201.6,248.5 203.0,248.5 204.3,248.6 205.6,248.6 206.9,248.6 208.2,248.7 209.5,248.7 210.8,248.8 212.1,248.8 213.5,248.9 214.8,248.9 216.1,249.0 217.4,249.1 218.7,249.2 220.0,249.3 221.3,249.4 222.7,249.5 224.0,249.6 225.3,249.7 226.6,249.8 227.9,249.9 229.2,250.1 230.5,250.2 231.9,250.3 233.2,250.5 234.5,250.6 235.8,250.8 237.1,251.0 238.4,251.2 239.7,251.3 241.0,251.5 242.4,251.7 243.7,251.9 245.0,252.1 246.3,252.4 247.6,252.6 248.9,252.8 248.9,252.8 250.2,253.1 251.6,253.3 252.9,253.5 254.2,253.8 255.5,254.1" stroke="#d2a012" marker-start="url(#mc35)" marker-mid="url(#mc35)" marker-end="url(#mc35)"/>
<polyline points="45.3,239.5 46.6,239.7 47.9,239.8 49.2,240.0 50.6,240.2 51.9,240.4 53.2,240.6 54.5,240.9 55.8,241.2 57.1,241.6 58.4,242.0 59.8,242.4 61.1,242.9 62.4,243.5 63.7,244.1 65.0,244.8 66.3,245.6 67.6,246.5 68.9,247.5 70.3,248.6 71.6,249.8 72.9,251.2 74.2,252.8 75.5,254.6 76.8,256.5 76.8,256.5 78.1,258.7 79.5,261.2 80.8,264.0 82.1,267.2 83.4,270.8 84.1,272.8 84.7,274.9 86.0,279.8 87.3,285.7 88.7,292.9 90.0,302.2 91.3,314.8 92.6,331.0 93.3,335.3 93.9,330.5 95.2,314.2 96.5,302.6 97.9,294.5 99.2,288.5 100.5,283.7 101.8,279.8 103.1,276.5 104.4,273.7 105.7,271.2 105.9,271.0 107.0,269.1 108.4,267.2 109.7,265.5 111.0,264.0 112.3,262.6 113.6,261.4 114.9,260.3 116.2,259.3 117.6,258.4 118.9,257.6 120.2,256.8 121.5,256.2 122.7,255.6 122.8,255.6 124.1,255.0 125.4,254.5 126.8,254.1 128.1,253.7 129.4,253.3 130.7,253.0 132.0,252.7 133.3,252.4 134.6,252.2 135.9,252.0 137.3,251.7 138.6,251.5 139.9,251.3 141.2,251.1 142.5,250.9 143.8,250.8 145.1,250.6 146.5,250.4 147.4,250.3 147.8,250.2 149.1,250.1 150.4,249.9 151.7,249.8 153.0,249.6 154.3,249.5 155.7,249.3 157.0,249.2 158.3,249.1 159.6,249.0 160.9,248.9 162.2,248.8 163.5,248.7 164.9,248.6 166.2,248.5 167.5,248.4 168.8,248.4 170.1,248.3 171.4,248.3 172.7,248.3 174.0,248.2 175.4,248.2 176.7,248.2 178.0,248.2 179.3,248.2 180.6,248.2 181.9,248.3 183.2,248.3 184.4,248.4 184.6,248.4 185.9,248.4 187.2,248.5 188.5,248.6 189.8,248.7 191.1,248.8 192.4,248.9 193.8,249.0 195.1,249.1 196.4,249.2 197.7,249.4 199.0,249.5 200.3,249.7 201.6,249.8 203.0,250.0 204.3,250.2 205.6,250.4 206.9,250.6 208.2,250.8 209.5,251.0 210.8,251.2 212.1,251.5 213.5,251.7 214.8,252.0 216.1,252.2 217.4,252.5 218.7,252.8 220.0,253.1 221.3,253.4 222.7,253.7 224.0,254.1 225.3,254.4 226.6,254.7 227.9,255.1 229.2,255.5 230.5,255.8 231.9,256.2 233.2,256.6 234.5,257.0 235.8,257.3 237.1,257.7 238.4,258.1 239.7,258.5 241.0,258.9 242.4,259.3 243.7,259.6 245.0,260.0 246.3,260.4 247.6,260.7 248.9,261.1 248.9,261.1 250.2,261.4 251.6,261.7 252.9,262.0 254.2,262.3 255.5,262.6" stroke="#1cc6ca" marker-start="url(#mc40)" marker-mid="url(#mc40)" marker-end="url(#mc40)"/>
<polyline points="45.3,239.9 46.6,240.1 47.9,240.4 49.2,240.6 50.6,240.9 51.9,241.3 53.2,241.7 54.5,242.2 55.8,242.7 57.1,243.3 58.4,244.0 59.8,244.8 61.1,245.8 62.4,246.8 63.7,248.0 65.0,249.4 66.3,250.9 67.6,252.7 68.9,254.8 70.3,257.1 71.6,259.8 72.9,262.8 74.2,266.3 75.5,270.4 76.8,275.3 76.8,275.3 78.1,281.1 79.5,288.2 80.8,297.5 82.1,310.1 83.4,326.6 84.1,331.0 84.7,326.1 86.0,309.4 87.3,297.7 88.7,289.5 90.0,283.5 91.3,278.8 92.6,275.0 93.3,273.4 93.9,271.9 95.2,269.3 96.5,267.1 97.9,265.2 99.2,263.6 100.5,262.1 101.8,260.8 103.1,259.7 104.4,258.6 105.7,257.7 105.9,257.6 107.0,256.8 108.4,256.0 109.7,255.3 111.0,254.6 112.3,254.0 113.6,253.4 114.9,252.9 116.2,252.4 117.6,252.0 118.9,251.6 120.2,251.2 121.5,250.9 122.7,250.6 122.8,250.6 124.1,250.3 125.4,250.1 126.8,249.9 128.1,249.7 129.4,249.6 130.7,249.4 132.0,249.3 133.3,249.2 134.6,249.1 135.9,249.0 137.3,248.9 138.6,248.9 139.9,248.8 141.2,248.8 142.5,248.7 143.8,248.6 145.1,248.6 146.5,248.5 147.4,248.5 147.8,248.5 149.1,248.5 150.4,248.4 151.7,248.4 153.0,248.4 154.3,248.3 155.7,248.3 157.0,248.3 158.3,248.3 159.6,248.3 160.9,248.3 162.2,248.3 163.5,248.4 164.9,248.4 166.2,248.4 167.5,248.5 168.8,248.6 170.1,248.6 171.4,248.7 172.7,248.8 174.0,248.9 175.4,249.1 176.7,249.2 178.0,249.4 179.3,249.5 180.6,249.7 181.9,249.9 183.2,250.1 184.4,250.4 184.6,250.4 185.9,250.6 187.2,250.9 188.5,251.2 189.8,251.5 191.1,251.8 192.4,252.1 193.8,252.4 195.1,252.8 196.4,253.1 197.7,253.5 199.0,253.9 200.3,254.3 201.6,254.7 203.0,255.1 204.3,255.6 205.6,256.0 206.9,256.5 208.2,256.9 209.5,257.4 210.8,257.8 212.1,258.3 213.5,258.8 214.8,259.2 216.1,259.7 217.4,260.2 218.7,260.6 220.0,261.0 221.3,261.4 222.7,261.8 224.0,262.2 225.3,262.6 226.6,262.9 227.9,263.2 229.2,263.4 230.5,263.7 231.9,263.9 233.2,264.0 234.5,264.1 235.8,264.2 237.1,264.3 238.4,264.3 239.7,264.3 241.0,264.2 242.4,264.2 243.7,264.1 245.0,264.0 246.3,263.8 247.6,263.7 248.9,263.5 248.9,263.5 250.2,263.3 251.6,263.1 252.9,262.9 254.2,262.6 255.5,262.4" stroke="#7a3a3c" marker-start="url(#mc45)" marker-mid="url(#mc45)" marker-end="url(#mc45)"/>
<polyline points="45.3,240.4 46.6,240.7 47.9,241.1 49.2,241.5 50.6,242.1 51.9,242.6 53.2,243.3 54.5,244.1 55.8,245.1 57.1,246.2 58.4,247.4 59.8,248.9 61.1,250.6 62.4,252.6 63.7,254.9 65.0,257.6 66.3,260.7 67.6,264.4 68.9,268.8 70.3,274.0 71.6,280.4 72.9,288.5 74.2,299.3 75.5,314.4 76.8,327.8 76.8,327.8 78.1,313.7 79.5,299.4 80.8,289.8 82.1,282.9 83.4,277.7 84.1,275.5 84.7,273.6 86.0,270.3 87.3,267.5 88.7,265.2 90.0,263.2 91.3,261.5 92.6,260.0 93.3,259.3 93.9,258.7 95.2,257.6 96.5,256.6 97.9,255.7 99.2,254.9 100.5,254.2 101.8,253.6 103.1,253.0 104.4,252.5 105.7,252.0 105.9,251.9 107.0,251.5 108.4,251.1 109.7,250.7 111.0,250.3 112.3,250.0 113.6,249.7 114.9,249.4 116.2,249.2 117.6,248.9 118.9,248.7 120.2,248.5 121.5,248.4 122.7,248.2 122.8,248.2 124.1,248.1 125.4,248.0 126.8,247.9 128.1,247.9 129.4,247.9 130.7,247.8 132.0,247.8 133.3,247.8 134.6,247.8 135.9,247.9 137.3,247.9 138.6,247.9 139.9,248.0 141.2,248.0 142.5,248.1 143.8,248.1 145.1,248.2 146.5,248.3 147.4,248.3 147.8,248.3 149.1,248.4 150.4,248.5 151.7,248.6 153.0,248.7 154.3,248.8 155.7,248.9 157.0,249.0 158.3,249.2 159.6,249.3 160.9,249.5 162.2,249.7 163.5,249.9 164.9,250.1 166.2,250.3 167.5,250.6 168.8,250.8 170.1,251.1 171.4,251.4 172.7,251.8 174.0,252.1 175.4,252.5 176.7,252.9 178.0,253.3 179.3,253.7 180.6,254.2 181.9,254.7 183.2,255.2 184.4,255.6 184.6,255.7 185.9,256.2 187.2,256.7 188.5,257.3 189.8,257.8 191.1,258.4 192.4,258.9 193.8,259.5 195.1,260.0 196.4,260.6 197.7,261.1 199.0,261.6 200.3,262.0 201.6,262.5 203.0,262.9 204.3,263.2 205.6,263.6 206.9,263.8 208.2,264.1 209.5,264.3 210.8,264.4 212.1,264.5 213.5,264.5 214.8,264.5 216.1,264.5 217.4,264.4 218.7,264.2 220.0,264.1 221.3,263.9 222.7,263.7 224.0,263.4 225.3,263.2 226.6,262.9 227.9,262.6 229.2,262.3 230.5,262.0 231.9,261.7 233.2,261.4 234.5,261.1 235.8,260.8 237.1,260.5 238.4,260.2 239.7,259.9 241.0,259.7 242.4,259.4 243.7,259.1 245.0,258.9 246.3,258.6 247.6,258.4 248.9,258.2 248.9,258.2 250.2,258.0 251.6,257.8 252.9,257.6 254.2,257.4 255.5,257.2" stroke="#a09812" marker-start="url(#mc50)" marker-mid="url(#mc50)" marker-end="url(#mc50)"/>
</g>
<rect x="45.3" y="232.3" width="210.20" height="169.50" fill="none" stroke="#111" stroke-width="1.3"/>
<path d="M45.3,238.7h-2.8M45.3,255.0h-2.8M45.3,271.3h-2.8M45.3,287.6h-2.8M45.3,303.9h-2.8M45.3,320.2h-2.8M45.3,336.6h-2.8M45.3,352.9h-2.8M45.3,369.2h-2.8M45.3,385.5h-2.8M45.3,401.8h-2.8M45.3,246.9h-1.6M45.3,263.2h-1.6M45.3,279.5h-1.6M45.3,295.8h-1.6M45.3,312.1h-1.6M45.3,328.4h-1.6M45.3,344.7h-1.6M45.3,361.0h-1.6M45.3,377.3h-1.6M45.3,393.6h-1.6M45.3,401.8v3.2M71.6,401.8v3.2M97.8,401.8v3.2M124.1,401.8v3.2M150.4,401.8v3.2M176.7,401.8v3.2M202.9,401.8v3.2M229.2,401.8v3.2M255.5,401.8v3.2M58.4,401.8v1.6M84.7,401.8v1.6M111.0,401.8v1.6M137.3,401.8v1.6M163.5,401.8v1.6M189.8,401.8v1.6M216.1,401.8v1.6M242.4,401.8v1.6" stroke="#111" stroke-width="1.3" fill="none"/>
<g font-family="'Liberation Sans', Arial, sans-serif" font-weight="bold" font-size="8.2" fill="#111"><text x="39.5" y="241.0" text-anchor="end">0</text><text x="39.5" y="257.3" text-anchor="end">-5</text><text x="39.5" y="273.6" text-anchor="end">-10</text><text x="39.5" y="289.9" text-anchor="end">-15</text><text x="39.5" y="306.2" text-anchor="end">-20</text><text x="39.5" y="322.5" text-anchor="end">-25</text><text x="39.5" y="338.8" text-anchor="end">-30</text><text x="39.5" y="355.1" text-anchor="end">-35</text><text x="39.5" y="371.4" text-anchor="end">-40</text><text x="39.5" y="387.7" text-anchor="end">-45</text><text x="39.5" y="404.1" text-anchor="end">-50</text><text x="45.3" y="414.6" text-anchor="middle">2</text><text x="71.6" y="414.6" text-anchor="middle">4</text><text x="97.8" y="414.6" text-anchor="middle">6</text><text x="124.1" y="414.6" text-anchor="middle">8</text><text x="150.4" y="414.6" text-anchor="middle">10</text><text x="176.7" y="414.6" text-anchor="middle">12</text><text x="202.9" y="414.6" text-anchor="middle">14</text><text x="229.2" y="414.6" text-anchor="middle">16</text><text x="255.5" y="414.6" text-anchor="middle">18</text></g>
<text x="150.4" y="425.0" text-anchor="middle" font-family="'Liberation Sans', Arial, sans-serif" font-weight="bold" font-size="9.6" fill="#111">Frequency (GHz)</text>
<text transform="translate(25.2,317.1) rotate(-90)" text-anchor="middle" font-family="'Liberation Sans', Arial, sans-serif" font-weight="bold" font-size="9.6" fill="#111">Reflection loss (dB)</text>
<text x="6.2" y="232.5" font-family="'Liberation Sans', Arial, sans-serif" font-weight="bold" font-size="19.5" fill="#111">(c)</text>
<path d="M63.7,356.7H70.7H77.7" stroke="#3a3a3a" stroke-width="1.3" fill="none" marker-mid="url(#mc10)"/>
<text x="80.2" y="359.0" font-family="'Liberation Sans', Arial, sans-serif" font-weight="bold" font-size="6.5" fill="#222">1.0mm</text>
<path d="M106.8,356.7H113.2H119.5" stroke="#e4323a" stroke-width="1.3" fill="none" marker-mid="url(#mc15)"/>
<text x="122.6" y="359.0" font-family="'Liberation Sans', Arial, sans-serif" font-weight="bold" font-size="6.5" fill="#222">1.5mm</text>
<path d="M63.7,364.6H70.7H77.7" stroke="#1f64d4" stroke-width="1.3" fill="none" marker-mid="url(#mc20)"/>
<text x="80.2" y="367.0" font-family="'Liberation Sans', Arial, sans-serif" font-weight="bold" font-size="6.5" fill="#222">2.0mm</text>
<path d="M106.8,364.6H113.2H119.5" stroke="#22a064" stroke-width="1.3" fill="none" marker-mid="url(#mc25)"/>
<text x="122.6" y="367.0" font-family="'Liberation Sans', Arial, sans-serif" font-weight="bold" font-size="6.5" fill="#222">2.5mm</text>
<path d="M63.7,372.6H70.7H77.7" stroke="#a066e4" stroke-width="1.3" fill="none" marker-mid="url(#mc30)"/>
<text x="80.2" y="374.9" font-family="'Liberation Sans', Arial, sans-serif" font-weight="bold" font-size="6.5" fill="#222">3.0mm</text>
<path d="M106.8,372.6H113.2H119.5" stroke="#d2a012" stroke-width="1.3" fill="none" marker-mid="url(#mc35)"/>
<text x="122.6" y="374.9" font-family="'Liberation Sans', Arial, sans-serif" font-weight="bold" font-size="6.5" fill="#222">3.5mm</text>
<path d="M63.7,380.6H70.7H77.7" stroke="#1cc6ca" stroke-width="1.3" fill="none" marker-mid="url(#mc40)"/>
<text x="80.2" y="382.9" font-family="'Liberation Sans', Arial, sans-serif" font-weight="bold" font-size="6.5" fill="#222">4.0mm</text>
<path d="M106.8,380.6H113.2H119.5" stroke="#7a3a3c" stroke-width="1.3" fill="none" marker-mid="url(#mc45)"/>
<text x="122.6" y="382.9" font-family="'Liberation Sans', Arial, sans-serif" font-weight="bold" font-size="6.5" fill="#222">4.5mm</text>
<path d="M63.7,388.5H70.7H77.7" stroke="#a09812" stroke-width="1.3" fill="none" marker-mid="url(#mc50)"/>
<text x="80.2" y="390.8" font-family="'Liberation Sans', Arial, sans-serif" font-weight="bold" font-size="6.5" fill="#222">5.0mm</text>
<marker id="me10" markerUnits="userSpaceOnUse" markerWidth="7.0" markerHeight="7.0" refX="0" refY="0" viewBox="-3.5 -3.5 7.0 7.0" overflow="visible"><g fill="#3a3a3a"><rect x="-2.00" y="-2.00" width="4.00" height="4.00"/></g></marker><marker id="me15" markerUnits="userSpaceOnUse" markerWidth="7.0" markerHeight="7.0" refX="0" refY="0" viewBox="-3.5 -3.5 7.0 7.0" overflow="visible"><g fill="#e4323a"><circle cx="0" cy="0" r="2.12"/></g></marker><marker id="me20" markerUnits="userSpaceOnUse" markerWidth="7.0" markerHeight="7.0" refX="0" refY="0" viewBox="-3.5 -3.5 7.0 7.0" overflow="visible"><g fill="#1f64d4"><path d="M0,-2.50L2.38,1.75L-2.38,1.75Z"/></g></marker><marker id="me25" markerUnits="userSpaceOnUse" markerWidth="7.0" markerHeight="7.0" refX="0" refY="0" viewBox="-3.5 -3.5 7.0 7.0" overflow="visible"><g fill="#22a064"><path d="M0,2.50L2.38,-1.75L-2.38,-1.75Z"/></g></marker><marker id="me30" markerUnits="userSpaceOnUse" markerWidth="7.0" markerHeight="7.0" refX="0" refY="0" viewBox="-3.5 -3.5 7.0 7.0" overflow="visible"><g fill="#a066e4"><path d="M0,-2.50L2.50,0L0,2.50L-2.50,0Z"/></g></marker><marker id="me35" markerUnits="userSpaceOnUse" markerWidth="7.0" markerHeight="7.0" refX="0" refY="0" viewBox="-3.5 -3.5 7.0 7.0" overflow="visible"><g fill="#d2a012"><path d="M-2.50,0L1.75,2.38L1.75,-2.38Z"/></g></marker><marker id="me40" markerUnits="userSpaceOnUse" markerWidth="7.0" markerHeight="7.0" refX="0" refY="0" viewBox="-3.5 -3.5 7.0 7.0" overflow="visible"><g fill="#1cc6ca"><path d="M2.50,0L-1.75,2.38L-1.75,-2.38Z"/></g></marker><marker id="me45" markerUnits="userSpaceOnUse" markerWidth="7.0" markerHeight="7.0" refX="0" refY="0" viewBox="-3.5 -3.5 7.0 7.0" overflow="visible"><g fill="#7a3a3c"><polygon points="2.25,0.00 1.13,1.95 -1.12,1.95 -2.25,0.00 -1.13,-1.95 1.13,-1.95"/></g></marker><marker id="me50" markerUnits="userSpaceOnUse" markerWidth="7.0" markerHeight="7.0" refX="0" refY="0" viewBox="-3.5 -3.5 7.0 7.0" overflow="visible"><g fill="#a09812"><polygon points="0.00,-2.50 0.66,-0.91 2.38,-0.77 1.07,0.35 1.47,2.02 0.00,1.12 -1.47,2.02 -1.07,0.35 -2.38,-0.77 -0.66,-0.91"/></g></marker>
<g fill="none" stroke-width="1.6" stroke-linejoin="round">
<polyline points="44.6,452.6 45.9,452.6 47.2,452.6 48.5,452.6 49.9,452.6 51.2,452.6 52.5,452.6 53.8,452.6 55.1,452.6 56.4,452.6 57.8,452.6 59.1,452.6 60.4,452.6 61.7,452.7 63.0,452.7 64.3,452.7 65.6,452.7 66.2,452.7 67.0,452.7 68.3,452.7 69.6,452.7 70.9,452.7 72.1,452.7 72.2,452.7 73.5,452.7 74.8,452.7 76.2,452.7 77.5,452.7 78.8,452.7 78.8,452.7 80.1,452.7 81.4,452.8 82.7,452.8 84.1,452.8 85.4,452.8 86.7,452.8 88.0,452.8 88.9,452.8 89.3,452.8 90.6,452.8 91.9,452.8 93.3,452.9 94.6,452.9 95.9,452.9 97.2,452.9 98.5,452.9 99.8,452.9 101.1,453.0 102.5,453.0 103.5,453.0 103.8,453.0 105.1,453.0 106.4,453.0 107.7,453.1 109.0,453.1 110.4,453.1 111.7,453.1 113.0,453.2 114.3,453.2 115.6,453.2 116.9,453.2 118.2,453.3 119.6,453.3 120.9,453.3 122.2,453.4 123.5,453.4 123.5,453.4 124.8,453.4 126.1,453.5 127.4,453.5 128.8,453.5 130.1,453.6 131.4,453.6 132.7,453.7 134.0,453.7 135.3,453.7 136.7,453.8 138.0,453.8 139.3,453.9 140.6,453.9 141.9,454.0 143.2,454.0 144.5,454.1 145.9,454.1 147.2,454.2 148.5,454.2 149.8,454.3 151.1,454.4 152.4,454.4 153.7,454.5 155.1,454.5 155.8,454.6 156.4,454.6 157.7,454.7 159.0,454.7 160.3,454.8 161.6,454.9 163.0,455.0 164.3,455.1 165.6,455.1 166.9,455.2 168.2,455.3 169.5,455.4 170.8,455.5 172.2,455.6 173.5,455.7 174.8,455.8 176.1,455.9 177.4,456.0 178.7,456.1 180.0,456.2 181.4,456.3 182.7,456.4 184.0,456.6 185.3,456.7 186.6,456.8 187.9,456.9 189.3,457.1 190.6,457.2 191.9,457.3 193.2,457.5 194.5,457.6 195.8,457.8 197.1,457.9 198.5,458.1 199.8,458.2 201.1,458.4 202.4,458.6 203.7,458.7 205.0,458.9 206.3,459.1 207.7,459.3 209.0,459.5 210.3,459.7 211.6,459.9 212.9,460.1 214.2,460.3 214.2,460.3 215.6,460.5 216.9,460.7 218.2,460.9 219.5,461.2 220.8,461.4 222.1,461.6 223.4,461.9 224.8,462.1 226.1,462.4 227.4,462.6 228.7,462.9 230.0,463.2 231.3,463.4 232.6,463.7 234.0,464.0 235.3,464.3 236.6,464.6 237.9,464.9 239.2,465.2 240.5,465.5 241.9,465.8 243.2,466.1 244.5,466.5 245.8,466.8 247.1,467.1 248.4,467.5 249.7,467.8 251.1,468.2 252.4,468.5 253.7,468.9 255.0,469.3" stroke="#3a3a3a" marker-start="url(#me10)" marker-mid="url(#me10)" marker-end="url(#me10)"/>
<polyline points="44.6,452.6 45.9,452.6 47.2,452.7 48.5,452.7 49.9,452.7 51.2,452.7 52.5,452.7 53.8,452.7 55.1,452.7 56.4,452.7 57.8,452.7 59.1,452.8 60.4,452.8 61.7,452.8 63.0,452.8 64.3,452.8 65.6,452.8 66.2,452.9 67.0,452.9 68.3,452.9 69.6,452.9 70.9,452.9 72.1,453.0 72.2,453.0 73.5,453.0 74.8,453.0 76.2,453.1 77.5,453.1 78.8,453.1 78.8,453.1 80.1,453.2 81.4,453.2 82.7,453.3 84.1,453.3 85.4,453.4 86.7,453.4 88.0,453.5 88.9,453.5 89.3,453.5 90.6,453.6 91.9,453.6 93.3,453.7 94.6,453.8 95.9,453.8 97.2,453.9 98.5,454.0 99.8,454.1 101.1,454.2 102.5,454.2 103.5,454.3 103.8,454.3 105.1,454.5 106.4,454.6 107.7,454.7 109.0,454.8 110.4,454.9 111.7,455.1 113.0,455.2 114.3,455.4 115.6,455.5 116.9,455.7 118.2,455.9 119.6,456.0 120.9,456.2 122.2,456.4 123.5,456.6 123.5,456.6 124.8,456.9 126.1,457.1 127.4,457.3 128.8,457.6 130.1,457.8 131.4,458.1 132.7,458.3 134.0,458.6 135.3,458.9 136.7,459.2 138.0,459.5 139.3,459.8 140.6,460.1 141.9,460.5 143.2,460.8 144.5,461.2 145.9,461.6 147.2,462.0 148.5,462.4 149.8,462.9 151.1,463.3 152.4,463.8 153.7,464.3 155.1,464.8 155.8,465.1 156.4,465.4 157.7,465.9 159.0,466.5 160.3,467.1 161.6,467.7 163.0,468.4 164.3,469.0 165.6,469.7 166.9,470.4 168.2,471.2 169.5,471.9 170.8,472.7 172.2,473.5 173.5,474.4 174.8,475.2 176.1,476.1 177.4,477.0 178.7,478.0 180.0,479.0 181.4,480.0 182.7,481.0 184.0,482.0 185.3,483.1 186.6,484.2 187.9,485.4 189.3,486.5 190.6,487.7 191.9,488.9 193.2,490.1 194.5,491.4 195.8,492.6 197.1,493.9 198.5,495.1 199.8,496.3 201.1,497.5 202.4,498.6 203.7,499.7 205.0,500.7 206.3,501.6 207.7,502.5 209.0,503.1 210.3,503.7 211.6,504.1 212.9,504.3 214.2,504.4 214.2,504.4 215.6,504.3 216.9,504.1 218.2,503.7 219.5,503.2 220.8,502.6 222.1,501.9 223.4,501.2 224.8,500.4 226.1,499.6 227.4,498.8 228.7,498.0 230.0,497.1 231.3,496.3 232.6,495.5 234.0,494.7 235.3,493.9 236.6,493.1 237.9,492.3 239.2,491.6 240.5,490.9 241.9,490.2 243.2,489.5 244.5,488.8 245.8,488.2 247.1,487.6 248.4,487.0 249.7,486.4 251.1,485.8 252.4,485.3 253.7,484.8 255.0,484.3" stroke="#e4323a" marker-start="url(#me15)" marker-mid="url(#me15)" marker-end="url(#me15)"/>
<polyline points="44.6,452.7 45.9,452.7 47.2,452.7 48.5,452.7 49.9,452.8 51.2,452.8 52.5,452.8 53.8,452.8 55.1,452.9 56.4,452.9 57.8,453.0 59.1,453.0 60.4,453.0 61.7,453.1 63.0,453.1 64.3,453.2 65.6,453.3 66.2,453.3 67.0,453.3 68.3,453.4 69.6,453.5 70.9,453.6 72.1,453.6 72.2,453.6 73.5,453.7 74.8,453.8 76.2,454.0 77.5,454.1 78.8,454.2 78.8,454.2 80.1,454.3 81.4,454.5 82.7,454.7 84.1,454.8 85.4,455.0 86.7,455.2 88.0,455.4 88.9,455.5 89.3,455.6 90.6,455.8 91.9,456.0 93.3,456.3 94.6,456.5 95.9,456.8 97.2,457.1 98.5,457.4 99.8,457.7 101.1,458.1 102.5,458.5 103.5,458.8 103.8,458.9 105.1,459.3 106.4,459.8 107.7,460.3 109.0,460.9 110.4,461.4 111.7,462.0 113.0,462.7 114.3,463.4 115.6,464.1 116.9,464.9 118.2,465.7 119.6,466.6 120.9,467.5 122.2,468.4 123.5,469.4 123.5,469.4 124.8,470.5 126.1,471.6 127.4,472.8 128.8,474.0 130.1,475.2 131.4,476.6 132.7,477.9 134.0,479.4 135.3,480.9 136.7,482.5 138.0,484.2 139.3,485.9 140.6,487.8 141.9,489.7 143.2,491.6 144.5,493.6 145.9,495.6 147.2,497.6 148.5,499.6 149.8,501.5 151.1,503.1 152.4,504.5 153.7,505.4 155.1,505.9 155.8,506.0 156.4,506.0 157.7,505.6 159.0,504.9 160.3,503.8 161.6,502.6 163.0,501.2 164.3,499.8 165.6,498.3 166.9,496.9 168.2,495.5 169.5,494.1 170.8,492.8 172.2,491.5 173.5,490.3 174.8,489.2 176.1,488.1 177.4,487.0 178.7,486.1 180.0,485.1 181.4,484.3 182.7,483.4 184.0,482.6 185.3,481.9 186.6,481.2 187.9,480.5 189.3,479.8 190.6,479.2 191.9,478.6 193.2,478.1 194.5,477.6 195.8,477.1 197.1,476.6 198.5,476.1 199.8,475.7 201.1,475.2 202.4,474.8 203.7,474.4 205.0,474.1 206.3,473.7 207.7,473.4 209.0,473.1 210.3,472.7 211.6,472.4 212.9,472.1 214.2,471.9 214.2,471.9 215.6,471.6 216.9,471.3 218.2,471.1 219.5,470.8 220.8,470.6 222.1,470.4 223.4,470.1 224.8,469.9 226.1,469.7 227.4,469.5 228.7,469.3 230.0,469.1 231.3,469.0 232.6,468.8 234.0,468.6 235.3,468.5 236.6,468.3 237.9,468.2 239.2,468.0 240.5,467.9 241.9,467.8 243.2,467.6 244.5,467.5 245.8,467.4 247.1,467.3 248.4,467.1 249.7,467.0 251.1,466.9 252.4,466.8 253.7,466.7 255.0,466.6" stroke="#1f64d4" marker-start="url(#me20)" marker-mid="url(#me20)" marker-end="url(#me20)"/>
<polyline points="44.6,452.8 45.9,452.8 47.2,452.9 48.5,452.9 49.9,453.0 51.2,453.0 52.5,453.1 53.8,453.1 55.1,453.2 56.4,453.3 57.8,453.4 59.1,453.5 60.4,453.6 61.7,453.7 63.0,453.8 64.3,454.0 65.6,454.2 66.2,454.2 67.0,454.3 68.3,454.5 69.6,454.7 70.9,454.9 72.1,455.2 72.2,455.2 73.5,455.5 74.8,455.8 76.2,456.1 77.5,456.5 78.8,456.9 78.8,456.9 80.1,457.3 81.4,457.8 82.7,458.3 84.1,458.8 85.4,459.4 86.7,460.0 88.0,460.6 88.9,461.1 89.3,461.3 90.6,462.1 91.9,462.9 93.3,463.8 94.6,464.7 95.9,465.7 97.2,466.7 98.5,467.8 99.8,469.1 101.1,470.4 102.5,471.8 103.5,473.1 103.8,473.4 105.1,475.1 106.4,476.9 107.7,478.8 109.0,480.9 110.4,483.1 111.7,485.4 113.0,487.9 114.3,490.4 115.6,492.9 116.9,495.5 118.2,497.9 119.6,500.0 120.9,501.7 122.2,502.7 123.5,503.1 123.5,503.1 124.8,502.8 126.1,501.9 127.4,500.7 128.8,499.1 130.1,497.5 131.4,495.7 132.7,494.0 134.0,492.3 135.3,490.7 136.7,489.2 138.0,487.7 139.3,486.3 140.6,485.0 141.9,483.8 143.2,482.7 144.5,481.6 145.9,480.6 147.2,479.6 148.5,478.8 149.8,477.9 151.1,477.1 152.4,476.4 153.7,475.7 155.1,475.0 155.8,474.7 156.4,474.4 157.7,473.8 159.0,473.3 160.3,472.8 161.6,472.3 163.0,471.8 164.3,471.4 165.6,471.0 166.9,470.6 168.2,470.2 169.5,469.8 170.8,469.5 172.2,469.2 173.5,468.9 174.8,468.6 176.1,468.3 177.4,468.1 178.7,467.8 180.0,467.6 181.4,467.3 182.7,467.1 184.0,466.9 185.3,466.7 186.6,466.5 187.9,466.4 189.3,466.2 190.6,466.0 191.9,465.9 193.2,465.7 194.5,465.6 195.8,465.4 197.1,465.3 198.5,465.2 199.8,465.1 201.1,465.0 202.4,464.9 203.7,464.8 205.0,464.7 206.3,464.6 207.7,464.5 209.0,464.4 210.3,464.3 211.6,464.3 212.9,464.2 214.2,464.1 214.2,464.1 215.6,464.1 216.9,464.0 218.2,464.0 219.5,463.9 220.8,463.9 222.1,463.8 223.4,463.8 224.8,463.7 226.1,463.7 227.4,463.7 228.7,463.6 230.0,463.6 231.3,463.6 232.6,463.5 234.0,463.5 235.3,463.5 236.6,463.5 237.9,463.5 239.2,463.5 240.5,463.5 241.9,463.5 243.2,463.5 244.5,463.5 245.8,463.5 247.1,463.5 248.4,463.5 249.7,463.5 251.1,463.5 252.4,463.5 253.7,463.6 255.0,463.6" stroke="#22a064" marker-start="url(#me25)" marker-mid="url(#me25)" marker-end="url(#me25)"/>
<polyline points="44.6,453.0 45.9,453.0 47.2,453.1 48.5,453.2 49.9,453.3 51.2,453.4 52.5,453.5 53.8,453.7 55.1,453.8 56.4,454.0 57.8,454.2 59.1,454.4 60.4,454.7 61.7,454.9 63.0,455.2 64.3,455.6 65.6,456.0 66.2,456.2 67.0,456.4 68.3,456.9 69.6,457.4 70.9,458.0 72.1,458.5 72.2,458.6 73.5,459.4 74.8,460.2 76.2,461.2 77.5,462.3 78.8,463.5 78.8,463.5 80.1,464.8 81.4,466.2 82.7,467.7 84.1,469.3 85.4,471.0 86.7,472.9 88.0,474.9 88.9,476.5 89.3,477.2 90.6,479.6 91.9,482.2 93.3,485.0 94.6,487.9 95.9,491.1 97.2,494.3 98.5,497.6 99.8,500.8 101.1,503.5 102.5,505.2 103.5,505.7 103.8,505.7 105.1,504.8 106.4,502.9 107.7,500.5 109.0,497.9 110.4,495.3 111.7,492.8 113.0,490.5 114.3,488.4 115.6,486.4 116.9,484.7 118.2,483.0 119.6,481.6 120.9,480.2 122.2,479.0 123.5,477.9 123.5,477.9 124.8,476.8 126.1,475.9 127.4,475.0 128.8,474.2 130.1,473.5 131.4,472.8 132.7,472.1 134.0,471.5 135.3,470.9 136.7,470.4 138.0,469.9 139.3,469.4 140.6,469.0 141.9,468.5 143.2,468.1 144.5,467.8 145.9,467.4 147.2,467.1 148.5,466.8 149.8,466.5 151.1,466.2 152.4,465.9 153.7,465.7 155.1,465.5 155.8,465.3 156.4,465.3 157.7,465.0 159.0,464.9 160.3,464.7 161.6,464.5 163.0,464.3 164.3,464.2 165.6,464.0 166.9,463.9 168.2,463.8 169.5,463.7 170.8,463.6 172.2,463.4 173.5,463.3 174.8,463.3 176.1,463.2 177.4,463.1 178.7,463.0 180.0,462.9 181.4,462.9 182.7,462.8 184.0,462.8 185.3,462.7 186.6,462.7 187.9,462.6 189.3,462.6 190.6,462.6 191.9,462.6 193.2,462.5 194.5,462.5 195.8,462.5 197.1,462.5 198.5,462.5 199.8,462.5 201.1,462.5 202.4,462.5 203.7,462.5 205.0,462.5 206.3,462.6 207.7,462.6 209.0,462.6 210.3,462.7 211.6,462.7 212.9,462.7 214.2,462.8 214.2,462.8 215.6,462.8 216.9,462.9 218.2,462.9 219.5,463.0 220.8,463.0 222.1,463.1 223.4,463.2 224.8,463.3 226.1,463.3 227.4,463.4 228.7,463.5 230.0,463.6 231.3,463.7 232.6,463.8 234.0,463.9 235.3,464.0 236.6,464.1 237.9,464.2 239.2,464.3 240.5,464.4 241.9,464.5 243.2,464.6 244.5,464.7 245.8,464.9 247.1,465.0 248.4,465.1 249.7,465.2 251.1,465.4 252.4,465.5 253.7,465.6 255.0,465.8" stroke="#a066e4" marker-start="url(#me30)" marker-mid="url(#me30)" marker-end="url(#me30)"/>
<polyline points="44.6,453.2 45.9,453.3 47.2,453.5 48.5,453.6 49.9,453.8 51.2,454.0 52.5,454.3 53.8,454.6 55.1,454.9 56.4,455.2 57.8,455.7 59.1,456.1 60.4,456.7 61.7,457.3 63.0,458.0 64.3,458.8 65.6,459.7 66.2,460.1 67.0,460.7 68.3,461.8 69.6,463.1 70.9,464.5 72.1,466.1 72.2,466.2 73.5,468.2 74.8,470.5 76.2,473.1 77.5,476.0 78.8,479.4 78.8,479.4 80.1,483.1 81.4,487.0 82.7,491.0 84.1,495.0 85.4,498.8 86.7,502.0 88.0,504.0 88.9,504.4 89.3,504.3 90.6,503.1 91.9,500.8 93.3,498.1 94.6,495.3 95.9,492.6 97.2,490.1 98.5,487.8 99.8,485.6 101.1,483.7 102.5,481.9 103.5,480.5 103.8,480.2 105.1,478.7 106.4,477.4 107.7,476.1 109.0,475.0 110.4,474.0 111.7,473.1 113.0,472.2 114.3,471.4 115.6,470.7 116.9,470.0 118.2,469.4 119.6,468.9 120.9,468.4 122.2,467.9 123.5,467.4 123.5,467.4 124.8,467.0 126.1,466.6 127.4,466.3 128.8,465.9 130.1,465.6 131.4,465.3 132.7,465.1 134.0,464.8 135.3,464.5 136.7,464.3 138.0,464.1 139.3,463.9 140.6,463.7 141.9,463.5 143.2,463.3 144.5,463.2 145.9,463.0 147.2,462.9 148.5,462.8 149.8,462.7 151.1,462.6 152.4,462.5 153.7,462.4 155.1,462.3 155.8,462.3 156.4,462.2 157.7,462.2 159.0,462.1 160.3,462.1 161.6,462.0 163.0,462.0 164.3,462.0 165.6,461.9 166.9,461.9 168.2,461.9 169.5,461.9 170.8,461.9 172.2,461.9 173.5,461.9 174.8,462.0 176.1,462.0 177.4,462.0 178.7,462.0 180.0,462.1 181.4,462.1 182.7,462.2 184.0,462.2 185.3,462.3 186.6,462.4 187.9,462.5 189.3,462.5 190.6,462.6 191.9,462.7 193.2,462.8 194.5,462.9 195.8,463.0 197.1,463.1 198.5,463.3 199.8,463.4 201.1,463.5 202.4,463.7 203.7,463.8 205.0,463.9 206.3,464.1 207.7,464.2 209.0,464.4 210.3,464.6 211.6,464.7 212.9,464.9 214.2,465.1 214.2,465.1 215.6,465.3 216.9,465.5 218.2,465.7 219.5,465.9 220.8,466.0 222.1,466.2 223.4,466.4 224.8,466.7 226.1,466.9 227.4,467.1 228.7,467.3 230.0,467.5 231.3,467.7 232.6,467.9 234.0,468.1 235.3,468.3 236.6,468.5 237.9,468.7 239.2,468.9 240.5,469.1 241.9,469.3 243.2,469.5 244.5,469.7 245.8,469.9 247.1,470.0 248.4,470.2 249.7,470.4 251.1,470.5 252.4,470.7 253.7,470.8 255.0,470.9" stroke="#d2a012" marker-start="url(#me35)" marker-mid="url(#me35)" marker-end="url(#me35)"/>
<polyline points="44.6,453.6 45.9,453.8 47.2,454.1 48.5,454.4 49.9,454.7 51.2,455.1 52.5,455.6 53.8,456.1 55.1,456.8 56.4,457.5 57.8,458.4 59.1,459.4 60.4,460.5 61.7,461.9 63.0,463.4 64.3,465.2 65.6,467.3 66.2,468.2 67.0,469.5 68.3,472.1 69.6,475.0 70.9,478.5 72.1,482.1 72.2,482.5 73.5,487.2 74.8,492.4 76.2,497.7 77.5,502.1 78.8,503.7 78.8,503.7 80.1,502.2 81.4,498.9 82.7,495.3 84.1,491.8 85.4,488.8 86.7,486.1 88.0,483.7 88.9,482.1 89.3,481.5 90.6,479.6 91.9,478.0 93.3,476.5 94.6,475.2 95.9,474.1 97.2,473.0 98.5,472.1 99.8,471.2 101.1,470.4 102.5,469.7 103.5,469.1 103.8,469.0 105.1,468.4 106.4,467.8 107.7,467.3 109.0,466.8 110.4,466.3 111.7,465.9 113.0,465.5 114.3,465.2 115.6,464.8 116.9,464.5 118.2,464.2 119.6,464.0 120.9,463.7 122.2,463.5 123.5,463.3 123.5,463.3 124.8,463.1 126.1,463.0 127.4,462.8 128.8,462.7 130.1,462.5 131.4,462.4 132.7,462.3 134.0,462.2 135.3,462.1 136.7,462.0 138.0,461.9 139.3,461.8 140.6,461.8 141.9,461.7 143.2,461.7 144.5,461.6 145.9,461.6 147.2,461.6 148.5,461.6 149.8,461.6 151.1,461.6 152.4,461.6 153.7,461.6 155.1,461.6 155.8,461.7 156.4,461.7 157.7,461.7 159.0,461.8 160.3,461.9 161.6,462.0 163.0,462.0 164.3,462.1 165.6,462.2 166.9,462.3 168.2,462.5 169.5,462.6 170.8,462.7 172.2,462.9 173.5,463.0 174.8,463.2 176.1,463.3 177.4,463.5 178.7,463.7 180.0,463.9 181.4,464.1 182.7,464.3 184.0,464.5 185.3,464.7 186.6,464.9 187.9,465.1 189.3,465.4 190.6,465.6 191.9,465.9 193.2,466.1 194.5,466.4 195.8,466.6 197.1,466.9 198.5,467.1 199.8,467.4 201.1,467.7 202.4,467.9 203.7,468.2 205.0,468.5 206.3,468.7 207.7,469.0 209.0,469.2 210.3,469.5 211.6,469.7 212.9,469.9 214.2,470.1 214.2,470.1 215.6,470.4 216.9,470.6 218.2,470.8 219.5,470.9 220.8,471.1 222.1,471.3 223.4,471.4 224.8,471.5 226.1,471.7 227.4,471.8 228.7,471.9 230.0,471.9 231.3,472.0 232.6,472.1 234.0,472.1 235.3,472.1 236.6,472.1 237.9,472.1 239.2,472.1 240.5,472.1 241.9,472.1 243.2,472.1 244.5,472.0 245.8,472.0 247.1,471.9 248.4,471.9 249.7,471.8 251.1,471.7 252.4,471.7 253.7,471.6 255.0,471.5" stroke="#1cc6ca" marker-start="url(#me40)" marker-mid="url(#me40)" marker-end="url(#me40)"/>
<polyline points="44.6,454.2 45.9,454.6 47.2,455.0 48.5,455.6 49.9,456.2 51.2,456.9 52.5,457.8 53.8,458.9 55.1,460.1 56.4,461.6 57.8,463.3 59.1,465.4 60.4,467.8 61.7,470.6 63.0,473.8 64.3,477.6 65.6,481.9 66.2,483.7 67.0,486.5 68.3,491.5 69.6,496.6 70.9,500.7 72.1,502.1 72.2,502.1 73.5,500.0 74.8,496.0 76.2,491.5 77.5,487.4 78.8,483.8 78.8,483.8 80.1,480.8 81.4,478.5 82.7,476.6 84.1,474.9 85.4,473.6 86.7,472.4 88.0,471.3 88.9,470.6 89.3,470.3 90.6,469.4 91.9,468.6 93.3,468.0 94.6,467.3 95.9,466.8 97.2,466.3 98.5,465.8 99.8,465.4 101.1,465.0 102.5,464.6 103.5,464.3 103.8,464.3 105.1,464.0 106.4,463.7 107.7,463.4 109.0,463.2 110.4,462.9 111.7,462.7 113.0,462.5 114.3,462.4 115.6,462.2 116.9,462.1 118.2,462.0 119.6,461.9 120.9,461.8 122.2,461.7 123.5,461.6 123.5,461.6 124.8,461.6 126.1,461.5 127.4,461.5 128.8,461.5 130.1,461.4 131.4,461.4 132.7,461.4 134.0,461.4 135.3,461.4 136.7,461.5 138.0,461.5 139.3,461.5 140.6,461.6 141.9,461.7 143.2,461.7 144.5,461.8 145.9,461.9 147.2,462.0 148.5,462.1 149.8,462.3 151.1,462.4 152.4,462.6 153.7,462.8 155.1,462.9 155.8,463.1 156.4,463.1 157.7,463.3 159.0,463.6 160.3,463.8 161.6,464.0 163.0,464.3 164.3,464.5 165.6,464.8 166.9,465.1 168.2,465.4 169.5,465.7 170.8,466.0 172.2,466.3 173.5,466.6 174.8,466.9 176.1,467.2 177.4,467.5 178.7,467.9 180.0,468.2 181.4,468.5 182.7,468.8 184.0,469.1 185.3,469.4 186.6,469.7 187.9,470.0 189.3,470.3 190.6,470.5 191.9,470.8 193.2,471.0 194.5,471.2 195.8,471.4 197.1,471.5 198.5,471.7 199.8,471.8 201.1,471.9 202.4,472.0 203.7,472.1 205.0,472.2 206.3,472.2 207.7,472.2 209.0,472.2 210.3,472.2 211.6,472.2 212.9,472.1 214.2,472.1 214.2,472.1 215.6,472.0 216.9,471.9 218.2,471.8 219.5,471.7 220.8,471.6 222.1,471.5 223.4,471.4 224.8,471.3 226.1,471.2 227.4,471.1 228.7,470.9 230.0,470.8 231.3,470.7 232.6,470.6 234.0,470.4 235.3,470.3 236.6,470.2 237.9,470.1 239.2,470.0 240.5,469.9 241.9,469.7 243.2,469.6 244.5,469.5 245.8,469.4 247.1,469.3 248.4,469.3 249.7,469.2 251.1,469.1 252.4,469.0 253.7,468.9 255.0,468.9" stroke="#7a3a3c" marker-start="url(#me45)" marker-mid="url(#me45)" marker-end="url(#me45)"/>
<polyline points="44.6,455.2 45.9,455.8 47.2,456.6 48.5,457.5 49.9,458.6 51.2,460.0 52.5,461.6 53.8,463.6 55.1,466.0 56.4,468.9 57.8,472.3 59.1,476.3 60.4,481.0 61.7,486.4 63.0,492.1 64.3,497.5 65.6,500.6 66.2,500.8 67.0,500.3 68.3,497.5 69.6,493.4 70.9,489.1 72.1,485.5 72.2,485.1 73.5,481.6 74.8,478.6 76.2,476.1 77.5,473.9 78.8,472.1 78.8,472.1 80.1,470.6 81.4,469.4 82.7,468.5 84.1,467.6 85.4,466.9 86.7,466.3 88.0,465.7 88.9,465.4 89.3,465.2 90.6,464.7 91.9,464.3 93.3,463.9 94.6,463.6 95.9,463.3 97.2,463.0 98.5,462.8 99.8,462.5 101.1,462.3 102.5,462.1 103.5,462.0 103.8,462.0 105.1,461.8 106.4,461.7 107.7,461.6 109.0,461.5 110.4,461.4 111.7,461.3 113.0,461.3 114.3,461.2 115.6,461.2 116.9,461.2 118.2,461.2 119.6,461.2 120.9,461.2 122.2,461.2 123.5,461.3 123.5,461.3 124.8,461.3 126.1,461.4 127.4,461.5 128.8,461.6 130.1,461.7 131.4,461.8 132.7,462.0 134.0,462.1 135.3,462.3 136.7,462.4 138.0,462.6 139.3,462.8 140.6,463.0 141.9,463.2 143.2,463.5 144.5,463.7 145.9,464.0 147.2,464.3 148.5,464.6 149.8,464.9 151.1,465.2 152.4,465.6 153.7,465.9 155.1,466.3 155.8,466.5 156.4,466.7 157.7,467.0 159.0,467.4 160.3,467.8 161.6,468.2 163.0,468.5 164.3,468.9 165.6,469.2 166.9,469.6 168.2,469.9 169.5,470.2 170.8,470.5 172.2,470.8 173.5,471.1 174.8,471.3 176.1,471.5 177.4,471.7 178.7,471.8 180.0,471.9 181.4,472.0 182.7,472.1 184.0,472.1 185.3,472.1 186.6,472.1 187.9,472.1 189.3,472.0 190.6,472.0 191.9,471.9 193.2,471.8 194.5,471.7 195.8,471.5 197.1,471.4 198.5,471.3 199.8,471.1 201.1,471.0 202.4,470.8 203.7,470.7 205.0,470.5 206.3,470.4 207.7,470.2 209.0,470.1 210.3,469.9 211.6,469.8 212.9,469.6 214.2,469.5 214.2,469.5 215.6,469.4 216.9,469.2 218.2,469.1 219.5,469.0 220.8,468.9 222.1,468.8 223.4,468.6 224.8,468.5 226.1,468.5 227.4,468.4 228.7,468.3 230.0,468.2 231.3,468.1 232.6,468.1 234.0,468.0 235.3,468.0 236.6,467.9 237.9,467.9 239.2,467.8 240.5,467.8 241.9,467.8 243.2,467.8 244.5,467.7 245.8,467.7 247.1,467.7 248.4,467.7 249.7,467.7 251.1,467.7 252.4,467.7 253.7,467.7 255.0,467.8" stroke="#a09812" marker-start="url(#me50)" marker-mid="url(#me50)" marker-end="url(#me50)"/>
</g>
<rect x="44.6" y="446.7" width="210.40" height="169.80" fill="none" stroke="#111" stroke-width="1.3"/>
<path d="M44.6,452.6h-2.8M44.6,469.0h-2.8M44.6,485.4h-2.8M44.6,501.8h-2.8M44.6,518.2h-2.8M44.6,534.5h-2.8M44.6,550.9h-2.8M44.6,567.3h-2.8M44.6,583.7h-2.8M44.6,600.1h-2.8M44.6,616.5h-2.8M44.6,460.8h-1.6M44.6,477.2h-1.6M44.6,493.6h-1.6M44.6,510.0h-1.6M44.6,526.4h-1.6M44.6,542.7h-1.6M44.6,559.1h-1.6M44.6,575.5h-1.6M44.6,591.9h-1.6M44.6,608.3h-1.6M44.6,616.5v3.2M70.9,616.5v3.2M97.2,616.5v3.2M123.5,616.5v3.2M149.8,616.5v3.2M176.1,616.5v3.2M202.4,616.5v3.2M228.7,616.5v3.2M255.0,616.5v3.2M57.8,616.5v1.6M84.1,616.5v1.6M110.3,616.5v1.6M136.7,616.5v1.6M163.0,616.5v1.6M189.2,616.5v1.6M215.6,616.5v1.6M241.8,616.5v1.6" stroke="#111" stroke-width="1.3" fill="none"/>
<g font-family="'Liberation Sans', Arial, sans-serif" font-weight="bold" font-size="8.2" fill="#111"><text x="38.8" y="454.9" text-anchor="end">0</text><text x="38.8" y="471.2" text-anchor="end">-5</text><text x="38.8" y="487.6" text-anchor="end">-10</text><text x="38.8" y="504.0" text-anchor="end">-15</text><text x="38.8" y="520.4" text-anchor="end">-20</text><text x="38.8" y="536.8" text-anchor="end">-25</text><text x="38.8" y="553.2" text-anchor="end">-30</text><text x="38.8" y="569.6" text-anchor="end">-35</text><text x="38.8" y="586.0" text-anchor="end">-40</text><text x="38.8" y="602.4" text-anchor="end">-45</text><text x="38.8" y="618.8" text-anchor="end">-50</text><text x="44.6" y="629.3" text-anchor="middle">2</text><text x="70.9" y="629.3" text-anchor="middle">4</text><text x="97.2" y="629.3" text-anchor="middle">6</text><text x="123.5" y="629.3" text-anchor="middle">8</text><text x="149.8" y="629.3" text-anchor="middle">10</text><text x="176.1" y="629.3" text-anchor="middle">12</text><text x="202.4" y="629.3" text-anchor="middle">14</text><text x="228.7" y="629.3" text-anchor="middle">16</text><text x="255.0" y="629.3" text-anchor="middle">18</text></g>
<text x="149.8" y="639.6" text-anchor="middle" font-family="'Liberation Sans', Arial, sans-serif" font-weight="bold" font-size="9.6" fill="#111">Frequency (GHz)</text>
<text transform="translate(24.5,531.6) rotate(-90)" text-anchor="middle" font-family="'Liberation Sans', Arial, sans-serif" font-weight="bold" font-size="9.6" fill="#111">Reflection loss (dB)</text>
<text x="6.2" y="445.3" font-family="'Liberation Sans', Arial, sans-serif" font-weight="bold" font-size="19.5" fill="#111">(e)</text>
<path d="M57.6,568.7H64.2H70.9" stroke="#3a3a3a" stroke-width="1.3" fill="none" marker-mid="url(#me10)"/>
<text x="73.3" y="571.0" font-family="'Liberation Sans', Arial, sans-serif" font-weight="bold" font-size="6.5" fill="#222">1.0mm</text>
<path d="M100.0,568.7H106.3H112.7" stroke="#e4323a" stroke-width="1.3" fill="none" marker-mid="url(#me15)"/>
<text x="115.8" y="571.0" font-family="'Liberation Sans', Arial, sans-serif" font-weight="bold" font-size="6.5" fill="#222">1.5mm</text>
<path d="M57.6,576.9H64.2H70.9" stroke="#1f64d4" stroke-width="1.3" fill="none" marker-mid="url(#me20)"/>
<text x="73.3" y="579.2" font-family="'Liberation Sans', Arial, sans-serif" font-weight="bold" font-size="6.5" fill="#222">2.0mm</text>
<path d="M100.0,576.9H106.3H112.7" stroke="#22a064" stroke-width="1.3" fill="none" marker-mid="url(#me25)"/>
<text x="115.8" y="579.2" font-family="'Liberation Sans', Arial, sans-serif" font-weight="bold" font-size="6.5" fill="#222">2.5mm</text>
<path d="M57.6,585.1H64.2H70.9" stroke="#a066e4" stroke-width="1.3" fill="none" marker-mid="url(#me30)"/>
<text x="73.3" y="587.4" font-family="'Liberation Sans', Arial, sans-serif" font-weight="bold" font-size="6.5" fill="#222">3.0mm</text>
<path d="M100.0,585.1H106.3H112.7" stroke="#d2a012" stroke-width="1.3" fill="none" marker-mid="url(#me35)"/>
<text x="115.8" y="587.4" font-family="'Liberation Sans', Arial, sans-serif" font-weight="bold" font-size="6.5" fill="#222">3.5mm</text>
<path d="M57.6,593.3H64.2H70.9" stroke="#1cc6ca" stroke-width="1.3" fill="none" marker-mid="url(#me40)"/>
<text x="73.3" y="595.6" font-family="'Liberation Sans', Arial, sans-serif" font-weight="bold" font-size="6.5" fill="#222">4.0mm</text>
<path d="M100.0,593.3H106.3H112.7" stroke="#7a3a3c" stroke-width="1.3" fill="none" marker-mid="url(#me45)"/>
<text x="115.8" y="595.6" font-family="'Liberation Sans', Arial, sans-serif" font-weight="bold" font-size="6.5" fill="#222">4.5mm</text>
<path d="M57.6,601.5H64.2H70.9" stroke="#a09812" stroke-width="1.3" fill="none" marker-mid="url(#me50)"/>
<text x="73.3" y="603.8" font-family="'Liberation Sans', Arial, sans-serif" font-weight="bold" font-size="6.5" fill="#222">5.0mm</text>
<polygon points="304.5,166.1 393.9,132.1 394.1,13.3 298.6,29.5" fill="#fff"/>
<polygon points="393.9,132.1 496.4,160.7 503.4,27.1 394.1,13.3" fill="#fff"/>
<path d="M303.9 153.3L393.9 120.8M393.9 120.8L497.0 148.1M303.4 140.2L393.9 109.4M393.9 109.4L497.7 135.4M302.8 127.0L394.0 97.8M394.0 97.8L498.4 122.4M302.2 113.6L394.0 86.2M394.0 86.2L499.1 109.3M301.6 100.1L394.0 74.4M394.0 74.4L499.8 96.1M301.1 86.3L394.0 62.4M394.0 62.4L500.5 82.6M300.5 72.4L394.0 50.4M394.0 50.4L501.2 69.0M299.8 58.3L394.1 38.2M394.1 38.2L501.9 55.2M299.2 44.0L394.1 25.8M394.1 25.8L502.7 41.3M298.6 29.5L394.1 13.3M394.1 13.3L503.4 27.1M317.2 161.3L312.3 27.2M329.4 156.6L325.4 25.0M341.2 152.2L338.0 22.8M352.5 147.8L350.1 20.8M363.4 143.7L361.7 18.8M373.9 139.7L372.9 16.9M384.1 135.8L383.7 15.1M393.9 132.1L394.1 13.3M393.9 132.1L394.1 13.3M405.4 135.3L406.3 14.8M417.2 138.6L418.8 16.4M429.4 142.0L431.8 18.1M441.9 145.5L445.2 19.7M454.9 149.1L459.0 21.5M468.3 152.9L473.3 23.3M482.1 156.7L488.1 25.2" stroke="#e8e8e8" stroke-width="0.6" fill="none"/>
<path d="M298.6 29.5L394.1 13.3M394.1 13.3L503.4 27.1M503.4 27.1L496.4 160.7" stroke="#cfcfcf" stroke-width="0.8" fill="none"/>
<clipPath id="fcb"><polygon points="304.5,166.1 393.9,132.1 496.4,160.7 411.8,205.4"/></clipPath>
<filter id="fbb" x="-5%" y="-5%" width="110%" height="110%"><feGaussianBlur stdDeviation="2.0"/></filter>
<filter id="fsb" x="-50%" y="-50%" width="200%" height="200%"><feGaussianBlur stdDeviation="1.0"/></filter>
<g clip-path="url(#fcb)"><g filter="url(#fbb)"><polygon points="304.5,166.1 393.9,132.1 496.4,160.7 411.8,205.4" fill="#0f620c"/><path d="M4964 1607l-846 447-3-1-239-94-163-87-56-50-71-120 12-81 41-61 54-55 76-56 70-44 87-49 50-25 988 276z" fill="#247816" transform="scale(.1)"/><path d="M4160 1383l-19 28-26 26-11 25-29 34-3 29-22 39 12 36-3 48 48 47 34 66 111 64 126 91-246 130-175-100-94-90-79-47-26-40 2-44-29-27-10-29 16-41-1-33 46-70 57-55 65-51 73-49 46-26 137 39z" fill="#38831e" transform="scale(.1)"/><path d="M4964 1607l-223 118-91-118-30-96 344 96z" fill="#38831e" transform="scale(.1)"/></g><g filter="url(#fsb)"><path d="M4008 1907l331 30-95 54-106 52z" fill="#8ab740" opacity="0.5" transform="scale(.1)"/><path d="M4117 1946l194 6-67 39-77 37z" fill="#cbde5e" opacity="0.8" transform="scale(.1)"/><path d="M4182 1969l106-5-44 27-52 24z" fill="#f9e35a" opacity="1.0" transform="scale(.1)"/><path d="M4225 1984l30-2-11 9-18 6z" fill="#f8a023" opacity="1.0" transform="scale(.1)"/><path d="M3836 1750l213-5 69 101-265-9z" fill="#8ab740" opacity="0.5" transform="scale(.1)"/><path d="M3890 1769l132-11 0 56-140 9z" fill="#cbde5e" opacity="0.8" transform="scale(.1)"/><path d="M3922 1780l72-9-12 29-71 10z" fill="#f9e35a" opacity="1.0" transform="scale(.1)"/><path d="M3797 1648l181-13 8 75-199 9z" fill="#8ab740" opacity="0.5" transform="scale(.1)"/><path d="M3838 1661l113-14-21 45-115 15z" fill="#cbde5e" opacity="0.8" transform="scale(.1)"/><path d="M3860 1669l69-12-22 27-69 13z" fill="#f9e35a" opacity="1.0" transform="scale(.1)"/><path d="M3873 1673l32-6-11 13-31 6z" fill="#f8a023" opacity="1.0" transform="scale(.1)"/><path d="M3812 1569l157-17-12 63-173 15z" fill="#8ab740" opacity="0.5" transform="scale(.1)"/><path d="M3843 1579l100-16-28 39-104 17z" fill="#cbde5e" opacity="0.8" transform="scale(.1)"/><path d="M3858 1584l63-12-24 24-63 13z" fill="#f9e35a" opacity="1.0" transform="scale(.1)"/><path d="M3868 1587l32-6-13 12-31 7z" fill="#f8a023" opacity="1.0" transform="scale(.1)"/><path d="M3853 1504l143-19-24 55-154 18z" fill="#8ab740" opacity="0.5" transform="scale(.1)"/><path d="M3878 1512l93-17-32 35-95 18z" fill="#cbde5e" opacity="0.8" transform="scale(.1)"/><path d="M3892 1516l58-12-26 22-58 13z" fill="#f9e35a" opacity="1.0" transform="scale(.1)"/><path d="M3900 1518l30-6-14 11-29 7z" fill="#f8a023" opacity="1.0" transform="scale(.1)"/><path d="M3911 1448l128-22-30 51-142 19z" fill="#8ab740" opacity="0.5" transform="scale(.1)"/><path d="M3931 1454l84-18-36 32-86 18z" fill="#cbde5e" opacity="0.8" transform="scale(.1)"/><path d="M3941 1457l54-13-28 21-54 13z" fill="#f9e35a" opacity="1.0" transform="scale(.1)"/><path d="M3947 1459l28-7-13 11-28 6z" fill="#f8a023" opacity="1.0" transform="scale(.1)"/><path d="M3975 1397l123-21-40 45-127 21z" fill="#8ab740" opacity="0.5" transform="scale(.1)"/><path d="M3994 1402l81-17-38 30-81 18z" fill="#cbde5e" opacity="0.8" transform="scale(.1)"/><path d="M4004 1405l51-12-28 19-51 13z" fill="#f9e35a" opacity="1.0" transform="scale(.1)"/><path d="M4010 1407l24-6-12 9-25 6z" fill="#f8a023" opacity="1.0" transform="scale(.1)"/><path d="M4044 1350l35 10 41 11-123 21z" fill="#8ab740" opacity="0.5" transform="scale(.1)"/><path d="M4060 1354l19 6 20 6-78 17z" fill="#cbde5e" opacity="0.8" transform="scale(.1)"/><path d="M4068 1357l11 3 11 3-50 12z" fill="#f9e35a" opacity="1.0" transform="scale(.1)"/><path d="M4073 1358l6 2 6 2-22 4z" fill="#f8a023" opacity="1.0" transform="scale(.1)"/></g></g>
<path d="M316.3 170.4L405.4 135.3M328.5 174.9L417.2 138.6M341.1 179.5L429.4 142.0M354.2 184.3L441.9 145.5M367.8 189.3L454.9 149.1M381.9 194.5L468.3 152.9M396.6 199.8L482.1 156.7M317.2 161.3L424.0 198.9M329.4 156.6L435.7 192.7M341.2 152.2L446.9 186.8M352.5 147.8L457.6 181.2M363.4 143.7L467.9 175.7M373.9 139.7L477.8 170.5M384.1 135.8L487.3 165.5" stroke="#fff" stroke-opacity="0.1" stroke-width="0.5" fill="none"/>
<polygon points="304.5,166.1 393.9,132.1 496.4,160.7 411.8,205.4" fill="none" stroke="#0c3a08" stroke-width="0.8"/>
<filter id="sbb" x="-2%" y="-2%" width="104%" height="104%"><feGaussianBlur stdDeviation="0.6"/></filter>
<g filter="url(#sbb)"><g class="sf" transform="scale(.1)"><path class="qa" d="M4063 897l2-14 18 95-1 20z"/><path class="qb" d="M4062 864l1 23 18 100 0-27z"/><path class="qc" d="M4065 883l1-33 19 86-2 42z"/><path class="qd" d="M4061 836l1 28 19 96-1-34z"/><path class="qe" d="M4061 807l0 29 19 90 0-34z"/><path class="qf" d="M4066 850l1-34 19 77-1 43z"/><path class="qg" d="M4060 781l1 26 19 85-1-31z"/><path class="qh" d="M4067 816l2-34 19 67-2 44zM4044 795l1-10 20 98-2 14z"/><path class="qi" d="M4043 767l1 19 19 101-1-23z"/><path class="qj" d="M4045 785l2-23 19 88-1 33z"/><path class="qk" d="M4042 744l1 23 19 97-1-28z"/><path class="ql" d="M4047 762l1-24 19 78-1 34z"/><path class="qm" d="M4018 1054l0-8 21-118 0 7z"/><path class="qn" d="M4016 993l1 54 21-116-1-42z"/><path class="qo" d="M4039 935l0-7 21-118-1 6z"/><path class="qh" d="M4039 928l1-17 21-114-1 13z"/><path class="qp" d="M4037 889l1 42 21-117-1-30z"/><path class="qq" d="M4019 1025l2-56 21-105-2 47z"/><path class="qr" d="M4020 388l7 49 33 44-7-59z"/><path class="qs" d="M4059 816l1-6 21-118-1 5z"/><path class="qt" d="M3998 939l0 5 20 110-1-7zM3998 944l1-5 19 107 0 8z"/><path class="qu" d="M4040 911l2-47 20-104-1 37z"/><path class="qv" d="M4036 846l1 43 21-105-2-30z"/><path class="qw" d="M3996 893l2 46 19 108-1-54z"/><path class="qx" d="M4092 566l2-2 21-63-3 15z"/><path class="qy" d="M4080 697l0 0 21-119 0 1z"/><path class="qz" d="M4021 969l1-55 21-95-1 45z"/><path class="qA" d="M4080 697l1-5 21-119-1 5z"/><path class="qB" d="M4094 564l1 1 21-71-1 7z"/><path class="qC" d="M4095 565l1 1 21-79-1 7z"/><path class="qD" d="M4042 864l1-45 21-95-2 36z"/><path class="qE" d="M3999 923l2-44 20 90-2 56z"/><path class="qF" d="M3995 336l8 35 50 51-7-47z"/><path class="qG" d="M4101 579l0-1 21-120 0 3z"/><path class="qH" d="M4013 437l4 23 25 44-3-28z"/><path class="qI" d="M3995 847l1 46 20 100-1-55z"/><path class="qJ" d="M4101 578l1-5 21-119-1 4z"/><path class="qK" d="M3988 309l7 27 51 39-8-35z"/><path class="qL" d="M4102 573l1-6 21-116-1 3z"/><path class="qM" d="M4010 414l3 23 26 39-4-28z"/><path class="qN" d="M4022 914l2-48 21-86-2 39z"/><path class="qO" d="M3980 281l8 28 50 31-7-35z"/><path class="qP" d="M3965 242l15 39 51 24-15-51z"/><path class="qQ" d="M4004 578l1 6 20 106-1-7z"/><path class="qR" d="M3837 162l30 17 104-6-30-24z"/><path class="qS" d="M4001 879l1-44 20 79-1 55z"/><path class="qT" d="M3994 801l1 46 20 91-1-55z"/><path class="qU" d="M3867 179l16 13 103 0-15-19z"/><path class="qV" d="M4002 835l2-36 20 67-2 48z"/><path class="qW" d="M3986 354l7 37 34 46-7-49z"/><path class="qX" d="M3883 192l15 16 103 10-15-26z"/><path class="qY" d="M3898 208l15 21 103 25-15-36z"/><path class="qZ" d="M3977 828l1 5 20 111 0-5z"/><path class="qM" d="M3991 416l3 21 26 51-3-28z"/><path class="qba" d="M3993 450l3 26 20 56-3-35z"/><path class="qbb" d="M3988 398l3 18 26 44-4-23z"/><path class="qbc" d="M3985 380l3 18 25 39-3-23z"/><path class="qbd" d="M3989 427l4 23 20 47-3-29z"/><path class="qbe" d="M3955 1279l1-32 21-155-1 26z"/><path class="qbf" d="M3985 476l1 7 20 103-1-2z"/><path class="qbg" d="M3986 483l1 7 20 92-1 4z"/><path class="qbh" d="M3987 490l1 8 20 81-1 3z"/><path class="qB" d="M3990 514l1 8 21 53-1 1z"/><path class="qbi" d="M3988 498l1 8 21 70-2 3z"/><path class="qC" d="M3989 506l1 8 21 62-1 0z"/><path class="qbj" d="M3984 471l1 5 20 108-1-6z"/><path class="qbk" d="M3983 466l1 5 20 107 0-10z"/><path class="qbl" d="M3956 1247l0-31 21-149 0 25z"/><path class="qbm" d="M3954 1197l1 55 21-155-1-44z"/><path class="qbn" d="M3980 446l1 5 20 85-1-11z"/><path class="qbo" d="M3944 295l7 23 52 53-8-35z"/><path class="qbp" d="M3913 229l15 29 52 23-15-39z"/><path class="qbq" d="M3936 276l8 19 51 41-7-27z"/><path class="qbr" d="M3928 258l8 18 52 33-8-28z"/><path class="qbs" d="M3956 1216l1-30 21-144-1 25z"/><path class="qbd" d="M3977 428l2 9 20 70-2-16z"/><path class="qr" d="M3975 419l2 9 20 63-1-15z"/><path class="qbt" d="M4123 396l2-5 34-50-2 2z"/><path class="qt" d="M3976 1118l1-26 21-156 0 20z"/><path class="qbu" d="M3954 1145l0 52 21-144 0-41z"/><path class="qbv" d="M3972 402l3 17 21 57-3-26z"/><path class="qbw" d="M3935 1128l0-25 21 144-1 32z"/><path class="qK" d="M3951 318l8 27 34 46-7-37z"/><path class="qbx" d="M4125 391l1-3 34-50-1 3z"/><path class="qW" d="M3965 372l4 14 25 51-3-21z"/><path class="qbc" d="M3969 386l3 16 21 48-4-23z"/><path class="qby" d="M3962 358l3 14 26 44-3-18z"/><path class="qbt" d="M3959 345l3 13 26 40-3-18z"/><path class="qbz" d="M3977 1092l0-25 22-150-1 19z"/><path class="qbA" d="M3933 1061l1 45 21 146-1-55z"/><path class="qbB" d="M3957 715l1 5 20 113-1-5z"/><path class="qbC" d="M4113 400l0-2 52-68-1 1z"/><path class="qbD" d="M4113 398l1-2 51-67 0 1z"/><path class="qbE" d="M4114 396l1-2 51-66-1 1z"/><path class="qbF" d="M3936 1078l0-24 21 132-1 30z"/><path class="qbG" d="M4115 394l0-2 51-65 0 1z"/><path class="qbH" d="M3968 498l2 16 26 44-2-19z"/><path class="qK" d="M4115 392l1-1 51-65-1 1zM4116 391l1-2 51-64-1 1z"/><path class="qbI" d="M4117 389l1-3 51-63-1 2z"/><path class="qbJ" d="M4118 386l1-4 51-61-1 2z"/><path class="qbK" d="M3933 1018l0 43 21 136 0-52z"/><path class="qbL" d="M4119 382l2-3 51-59-2 1z"/><path class="qbM" d="M4121 379l1-3 51-58-1 2z"/><path class="qba" d="M3957 471l2 14 35 54-3-17z"/><path class="qbN" d="M4122 376l3-5 51-56-3 3z"/><path class="qbO" d="M3936 1054l1-47 20 121 0 58z"/><path class="qbP" d="M3955 457l2 14 34 51-2-16z"/><path class="qbQ" d="M4125 371l2-5 51-54-2 3z"/><path class="qbd" d="M3953 445l2 12 34 49-2-16z"/><path class="qbR" d="M3951 439l2 6 34 45-1-7z"/><path class="qbo" d="M4127 366l3-4 51-53-3 3z"/><path class="qbS" d="M3950 433l1 6 35 44-1-7z"/><path class="qbT" d="M3950 429l0 4 35 43-1-5z"/><path class="qbU" d="M3949 425l1 4 34 42-1-5z"/><path class="qbV" d="M3947 417l2 8 34 41-1-10z"/><path class="qbW" d="M3945 409l2 8 35 39-2-10z"/><path class="qbX" d="M4130 362l5-9 51-49-5 5z"/><path class="qbc" d="M3944 401l1 8 35 37-1-9z"/><path class="qW" d="M3940 386l4 15 35 36-4-18z"/><path class="qbY" d="M3729 177l31 13 107-11-30-17z"/><path class="qbZ" d="M4135 353l5-6 51-47-5 4z"/><path class="qca" d="M4140 347l5-6 51-44-5 3z"/><path class="qcb" d="M3946 484l4 32 26 55-4-39z"/><path class="qcc" d="M3920 358l3 12 52 49-3-17z"/><path class="qbq" d="M4145 341l5-5 51-42-5 3z"/><path class="qcd" d="M3916 346l4 12 52 44-3-16z"/><path class="qbJ" d="M3913 335l3 11 53 40-4-14z"/><path class="qce" d="M3944 470l2 14 26 48-2-18z"/><path class="qcf" d="M4031 574l1 0 21-66-1 8z"/><path class="qbo" d="M3906 315l7 20 52 37-6-27z"/><path class="qcg" d="M3760 190l15 8 108-6-16-13z"/><path class="qch" d="M4064 458l0-2 52-65-1 1z"/><path class="qP" d="M3891 277l8 18 52 23-7-23z"/><path class="qci" d="M3899 295l7 20 53 30-8-27z"/><path class="qcj" d="M4032 574l1 1 21-74-1 7z"/><path class="qck" d="M3942 457l2 13 26 44-2-16z"/><path class="qcl" d="M4064 456l1-2 52-65-1 2z"/><path class="qcm" d="M4033 575l1 2 22-83-2 7z"/><path class="qcn" d="M4041 629l0-9 22-159-1 3z"/><path class="qco" d="M4041 620l1-7 21-153 0 1z"/><path class="qcp" d="M3775 198l15 10 108 0-15-16z"/><path class="qcq" d="M3914 975l0-19 21 147 0 25z"/><path class="qcr" d="M3940 493l4 35 21 53-4-43z"/><path class="qcs" d="M4042 613l0-7 22-148-1 2z"/><path class="qct" d="M3936 601l1 4 21 115-1-5z"/><path class="qcu" d="M4043 592l1-12 21-126-1 2z"/><path class="qcv" d="M3790 208l16 13 107 8-15-21z"/><path class="qcw" d="M4044 580l0-10 22-119-1 3z"/><path class="qbn" d="M4044 570l1-10 21-111 0 2z"/><path class="qH" d="M4045 560l1-15 22-101-2 5z"/><path class="qbV" d="M3922 418l2 11 35 56-2-14z"/><path class="qcx" d="M3806 221l15 17 107 20-15-29z"/><path class="qcy" d="M3920 408l2 10 35 53-2-14z"/><path class="qcz" d="M4046 545l2-13 21-92-1 4z"/><path class="qcl" d="M3917 399l3 9 35 49-2-12z"/><path class="qW" d="M3916 394l1 5 36 46-2-6z"/><path class="qcA" d="M3915 390l1 4 35 45-1-6z"/><path class="qF" d="M3914 387l1 3 35 43 0-4z"/><path class="qcB" d="M3913 384l1 3 36 42-1-4z"/><path class="qcC" d="M3912 377l1 7 36 41-2-8z"/><path class="qcD" d="M4048 532l1-10 21-86-1 4z"/><path class="qcE" d="M3821 238l16 20 107 37-16-37z"/><path class="qcc" d="M3910 371l2 6 35 40-2-8z"/><path class="qca" d="M4104 371l5-6 102-77-5 3z"/><path class="qbt" d="M3908 365l2 6 35 38-1-8z"/><path class="qbD" d="M3905 354l3 11 36 36-4-15z"/><path class="qr" d="M4049 522l3-18 21-76-3 8z"/><path class="qci" d="M4109 365l2-3 103-75-3 1z"/><path class="qbq" d="M4111 362l3-3 102-73-2 1z"/><path class="qr" d="M3920 435l4 24 26 57-4-32z"/><path class="qcF" d="M4114 359l2-3 103-72-3 2z"/><path class="qcG" d="M4052 504l3-15 21-68-3 7z"/><path class="qbV" d="M3917 425l3 10 26 49-2-14z"/><path class="qcH" d="M4116 356l3-2 102-71-2 1z"/><path class="qcy" d="M3915 415l2 10 27 45-2-13z"/><path class="qce" d="M3923 474l2 16 21 60-2-22z"/><path class="qcI" d="M4119 354l2-3 103-69-3 1z"/><path class="qcJ" d="M4055 489l2-12 21-62-2 6z"/><path class="qcK" d="M4121 351l2-1 102-69-1 1zM4123 350l1-1 102-68-1 0z"/><path class="qcL" d="M3919 448l4 26 21 54-4-35z"/><path class="qcM" d="M4124 349l6-6 102-65-6 3z"/><path class="qbc" d="M4057 477l6-21 21-53-6 12z"/><path class="qcN" d="M4130 343l3-3 102-63-3 1z"/><path class="qP" d="M4133 340l3-3 103-61-4 1z"/><path class="qcO" d="M4057 470l5-17 27-59-5 9z"/><path class="qbr" d="M4136 337l3-2 103-60-3 1zM4139 335l4-3 102-59-3 2z"/><path class="qcP" d="M3837 258l8 13 54 24-8-18z"/><path class="qcQ" d="M3845 271l7 14 54 30-7-20z"/><path class="qcR" d="M4062 453l5-15 27-52-5 8z"/><path class="qcS" d="M3916 487l0 4 21 115 0-1z"/><path class="qcs" d="M3916 491l1 3 21 110-1 2z"/><path class="qP" d="M3852 285l7 13 54 37-7-20z"/><path class="qcT" d="M3915 483l1 4 21 118-1-4z"/><path class="qcU" d="M4143 332l6-4 102-57-6 2z"/><path class="qcI" d="M3859 298l3 7 54 41-3-11z"/><path class="qcV" d="M3866 313l3 8 54 49-3-12z"/><path class="qbq" d="M3862 305l4 8 54 45-4-12z"/><path class="qcW" d="M3919 510l2 8 21 72-1 3z"/><path class="qcX" d="M3922 527l1 9 22 52-2 1z"/><path class="qcj" d="M3921 518l1 9 21 62-1 1z"/><path class="qcY" d="M4149 328l7-5 102-54-7 2z"/><path class="qcB" d="M4059 456l5-14 35-64-5 8z"/><path class="qbt" d="M3886 365l2 7 36 57-2-11z"/><path class="qbD" d="M3884 358l2 7 36 53-2-10z"/><path class="qcZ" d="M3906 438l2 11 22 76-3-19z"/><path class="qbI" d="M3881 352l3 6 36 50-3-9z"/><path class="qda" d="M3880 349l1 3 36 47-1-5z"/><path class="qbM" d="M3879 346l1 3 36 45-1-4z"/><path class="qdb" d="M3878 344l1 2 36 44-1-3z"/><path class="qdc" d="M3878 341l0 3 36 43-1-3z"/><path class="qbo" d="M3876 337l2 4 35 43-1-7z"/><path class="qdd" d="M3874 333l2 4 36 40-2-6z"/><path class="qO" d="M3873 329l1 4 36 38-2-6z"/><path class="qcV" d="M3869 321l4 8 35 36-3-11z"/><path class="qcQ" d="M4156 323l7-4 102-51-7 1z"/><path class="qbb" d="M3904 429l2 9 21 68-2-16z"/><path class="qcR" d="M3893 386l4 16 27 57-4-24z"/><path class="qbW" d="M3902 419l2 10 21 61-2-16z"/><path class="qcc" d="M4064 442l5-12 35-59-5 7z"/><path class="qde" d="M3890 379l3 7 27 49-3-10z"/><path class="qbt" d="M3888 372l2 7 27 46-2-10z"/><path class="qdf" d="M3897 402l5 17 21 55-4-26z"/><path class="qdg" d="M4069 430l5-10 35-55-5 6z"/><path class="qdh" d="M4170 315l7-3 102-47-7 1z"/><path class="qbD" d="M4074 420l2-5 35-53-2 3z"/><path class="qK" d="M4076 415l3-5 35-51-3 3z"/><path class="qdi" d="M3617 194l31 9 112-13-31-13z"/><path class="qdj" d="M4177 312l7-3 102-45-7 1z"/><path class="qbp" d="M4184 309l4-1 101-45-3 1zM4188 308l3-1 102-44-4 0z"/><path class="qdk" d="M3908 1240l2-77 22-136-2 64z"/><path class="qbD" d="M4061 435l3-5 52-74-2 3z"/><path class="qdl" d="M3906 1164l1 52 22-144-1-41z"/><path class="qcP" d="M4191 307l4-1 101-44-3 1z"/><path class="qbG" d="M4064 430l2-5 53-71-3 2z"/><path class="qdm" d="M4195 306l3-2 102-42-4 0z"/><path class="qdn" d="M4066 425l3-5 52-69-2 3z"/><path class="qdo" d="M3648 203l15 6 112-11-15-8z"/><path class="qdm" d="M4198 304l4-1 102-41-4 0z"/><path class="qbI" d="M4069 420l1-3 53-67-2 1z"/><path class="qdp" d="M4202 303l2 0 101-41-1 0z"/><path class="qdq" d="M4070 417l1-2 53-66-1 1z"/><path class="qcL" d="M3885 470l2 13 36 53-2-18z"/><path class="qdp" d="M4204 303l0 0 102-41-1 0z"/><path class="qr" d="M3883 463l2 7 36 48-2-8z"/><path class="qdp" d="M4204 303l1-1 102-41-1 1z"/><path class="qdr" d="M4205 302l1 0 102-41-1 0z"/><path class="qbT" d="M3882 457l1 6 36 47-1-8z"/><path class="qdr" d="M4206 302l2 0 101-41-1 0z"/><path class="qcG" d="M3881 450l1 7 36 45-1-8z"/><path class="qbV" d="M3880 447l1 3 36 44-1-3z"/><path class="qdb" d="M4071 415l6-11 53-61-6 6z"/><path class="qcJ" d="M3879 444l1 3 36 44 0-4z"/><path class="qdr" d="M4208 302l2-1 102-40-3 0z"/><path class="qds" d="M3879 442l0 2 37 43-1-4z"/><path class="qdt" d="M3874 423l5 19 36 41-5-23z"/><path class="qdr" d="M4210 301l2 0 102-40-2 0z"/><path class="qdu" d="M3663 209l16 7 111-8-15-10z"/><path class="qdv" d="M3872 414l2 9 36 37-2-11z"/><path class="qdr" d="M4212 301l3-1 101-39-2 0z"/><path class="qbQ" d="M4077 404l4-5 52-59-3 3z"/><path class="qdr" d="M4215 300l4-1 101-38-4 0z"/><path class="qbz" d="M3910 1163l2-77 22-122-2 63z"/><path class="qdw" d="M3887 1099l2-61 21 125-2 77z"/><path class="qdx" d="M4081 399l3-5 52-57-3 3z"/><path class="qdy" d="M3884 1036l2 43 21 137-1-52z"/><path class="qdz" d="M4219 299l4-1 101-38-4 1z"/><path class="qdA" d="M4084 394l3-4 52-55-3 2z"/><path class="qdB" d="M3679 216l15 8 112-3-16-13z"/><path class="qdz" d="M4223 298l4-1 102-37-5 0z"/><path class="qO" d="M4087 390l3-4 53-54-4 3z"/><path class="qcU" d="M3814 300l4 6 55 23-4-8z"/><path class="qbr" d="M3818 306l1 4 55 23-1-4z"/><path class="qdz" d="M4227 297l4 0 102-37-4 0z"/><path class="qde" d="M3851 388l3 8 54 53-2-11z"/><path class="qP" d="M3819 310l2 3 55 24-2-4z"/><path class="qdC" d="M3821 313l2 3 55 25-2-4z"/><path class="qcM" d="M3823 316l1 2 54 26 0-3z"/><path class="qdD" d="M3847 374l4 14 55 50-4-19z"/><path class="qdE" d="M3824 320l2 2 54 27-1-3z"/><path class="qcH" d="M3826 322l1 2 54 28-1-3z"/><path class="qcF" d="M3827 324l2 5 55 29-3-6z"/><path class="qbI" d="M3842 362l5 12 55 45-5-17z"/><path class="qci" d="M3829 329l2 5 55 31-2-7z"/><path class="qdF" d="M3831 334l2 5 55 33-2-7z"/><path class="qbQ" d="M3838 350l4 12 55 40-4-16z"/><path class="qdG" d="M3833 339l3 5 54 35-2-7z"/><path class="qdA" d="M3836 344l2 6 55 36-3-7z"/><path class="qcV" d="M4090 386l6-8 53-50-6 4z"/><path class="qdH" d="M4231 297l9-2 101-35-8 0z"/><path class="qdI" d="M3883 994l1 42 22 128-1-50z"/><path class="qU" d="M3694 224l16 10 111 4-15-17z"/><path class="qci" d="M4096 378l7-8 53-47-7 5z"/><path class="qdJ" d="M4240 295l8-1 101-34-8 0z"/><path class="qbh" d="M3957 620l5 2 36-72-5 22z"/><path class="qdK" d="M3889 1038l2-62 21 110-2 77z"/><path class="qdL" d="M3710 234l15 12 112 12-16-20z"/><path class="qdM" d="M3976 593l5-2 22-61-5 20z"/><path class="qcF" d="M4103 370l7-7 53-44-7 4z"/><path class="qdN" d="M3725 246l8 7 112 18-8-13z"/><path class="qdO" d="M4248 294l17-2 101-32-17 0z"/><path class="qdP" d="M3733 253l8 8 111 24-7-14z"/><path class="qdQ" d="M3741 261l7 7 111 30-7-13z"/><path class="qdR" d="M3748 268l3 4 111 33-3-7z"/><path class="qdS" d="M3751 272l4 4 111 37-4-8z"/><path class="qdT" d="M3755 276l3 4 111 41-3-8z"/><path class="qbc" d="M3851 430l2 11 37 57-3-15z"/><path class="qW" d="M3848 420l3 10 36 53-2-13z"/><path class="qF" d="M3847 415l1 5 37 50-2-7z"/><path class="qdU" d="M4265 292l16-2 102-29-17-1z"/><path class="qcB" d="M3845 410l2 5 36 48-1-6z"/><path class="qdV" d="M3996 636l2-20 22-139-2 5z"/><path class="qcC" d="M3844 406l1 4 37 47-1-7z"/><path class="qdW" d="M3843 403l1 3 37 44-1-3z"/><path class="qcc" d="M3843 401l0 2 37 44-1-3z"/><path class="qdX" d="M3842 399l1 2 36 43 0-2z"/><path class="qbx" d="M3837 385l5 14 37 43-5-19z"/><path class="qdn" d="M3835 378l2 7 37 38-2-9z"/><path class="qdY" d="M3998 616l2-21 22-123-2 5z"/><path class="qdZ" d="M4281 290l12 0 101-28-11-1z"/><path class="qea" d="M4000 595l2-20 22-108-2 5z"/><path class="qca" d="M4057 408l7-9 106-84-7 4z"/><path class="qcD" d="M4002 575l2-11 22-101-2 4z"/><path class="qdt" d="M3847 437l2 11 28 50-3-15z"/><path class="qdZ" d="M4293 290l6 0 101-27-6-1z"/><path class="qW" d="M3844 426l3 11 27 46-2-13z"/><path class="qeb" d="M4004 564l1-11 22-94-1 4z"/><path class="qdZ" d="M4299 290l6 0 101-26-6-1z"/><path class="qbq" d="M4064 399l7-8 106-79-7 3z"/><path class="qbT" d="M4005 553l3-18 22-82-3 6z"/><path class="qec" d="M4305 290l6 0 100-25-5-1z"/><path class="qed" d="M3844 438l5 23 22 48-5-31z"/><path class="qcH" d="M4071 391l7-7 106-75-7 3z"/><path class="qee" d="M4008 535l3-14 22-75-3 7z"/><path class="qec" d="M4311 290l5 0 101-24-6-1z"/><path class="qef" d="M3758 280l3 4 57 22-4-6z"/><path class="qdp" d="M3761 284l2 2 56 24-1-4zM3763 286l2 2 56 25-2-3z"/><path class="qcP" d="M3765 288l2 2 56 26-2-3z"/><path class="qbp" d="M3767 290l0 1 57 27-1-2z"/><path class="qcK" d="M4078 384l4-3 106-73-4 1z"/><path class="qcy" d="M4011 521l4-13 21-68-3 6z"/><path class="qdT" d="M3767 291l1 2 56 27 0-2z"/><path class="qdj" d="M3768 293l1 1 57 28-2-2z"/><path class="qec" d="M4316 290l6 0 101-23-6-1z"/><path class="qdh" d="M3769 294l2 2 56 28-1-2z"/><path class="qeg" d="M3771 296l2 3 56 30-2-5z"/><path class="qeh" d="M3773 299l2 3 56 32-2-5z"/><path class="qei" d="M3775 302l2 3 56 34-2-5z"/><path class="qcM" d="M4082 381l3-3 106-71-3 1z"/><path class="qej" d="M3777 305l3 4 56 35-3-5z"/><path class="qec" d="M4322 290l3 1 101-24-3 0z"/><path class="qcU" d="M3780 309l2 3 56 38-2-6z"/><path class="qP" d="M3782 312l4 8 56 42-4-12z"/><path class="qec" d="M4325 291l2 0 100-23-1-1z"/><path class="qcK" d="M3786 320l5 8 56 46-5-12z"/><path class="qek" d="M3501 212l31 7 116-16-31-9z"/><path class="qel" d="M3791 328l5 9 55 51-4-14z"/><path class="qec" d="M4327 291l1 0 101-23-2 0z"/><path class="qdC" d="M4085 378l4-3 106-69-4 1z"/><path class="qem" d="M3796 337l2 4 56 55-3-8z"/><path class="qec" d="M4328 291l1 0 101-23-1 0z"/><path class="qen" d="M4015 508l6-21 22-58-7 11z"/><path class="qec" d="M4329 291l2 0 100-23-1 0z"/><path class="qeo" d="M3847 488l1 3 22 165-1-8z"/><path class="qec" d="M4331 291l2 0 101-22-3-1z"/><path class="qP" d="M4089 375l3-3 106-68-3 2z"/><path class="qec" d="M4333 291l6 1 100-22-5-1z"/><path class="qP" d="M4092 372l4-2 106-67-4 1z"/><path class="qep" d="M3844 477l1 3 22 128 0-11z"/><path class="qbr" d="M4096 370l2-2 106-65-2 0z"/><path class="qec" d="M4339 292l5 0 100-20-5-2z"/><path class="qbr" d="M4098 368l1 0 105-65 0 0z"/><path class="qeq" d="M4021 487l7-19 22-50-7 11z"/><path class="qba" d="M3854 522l2 6 22 70-1 2z"/><path class="qbr" d="M4099 368l1-1 105-65-1 1z"/><path class="qer" d="M3856 528l2 14 23 54-3 2z"/><path class="qes" d="M3858 542l3 14 22 42-2-2z"/><path class="qet" d="M4100 367l1 0 105-65-1 0z"/><path class="qci" d="M3798 341l2 5 37 39-2-7z"/><path class="qbI" d="M3813 376l3 7 37 58-2-11z"/><path class="qet" d="M4101 367l1-1 106-64-2 0z"/><path class="qcV" d="M3800 346l5 10 37 43-5-14z"/><path class="qdb" d="M3811 369l2 7 38 54-3-10z"/><path class="qdZ" d="M4344 292l5 1 101-20-6-1z"/><path class="qO" d="M3805 356l0 1 38 44-1-2z"/><path class="qdA" d="M3805 357l1 2 37 44 0-2zM3806 359l1 1 37 46-1-3z"/><path class="qbo" d="M3808 363l1 3 38 49-2-5z"/><path class="qdd" d="M3807 360l1 3 37 47-1-4z"/><path class="qcU" d="M4102 366l2-2 106-63-2 1zM4104 364l3-1 105-62-2 0z"/><path class="qdi" d="M3532 219l15 5 116-15-15-6z"/><path class="qdZ" d="M4349 293l9 1 100-18-8-3z"/><path class="qeu" d="M4107 363l2-2 106-61-3 1z"/><path class="qbE" d="M3818 389l3 8 28 51-2-11z"/><path class="qbI" d="M3816 383l2 6 29 48-3-11z"/><path class="qW" d="M3832 429l2 9 23 66-3-16z"/><path class="qcR" d="M3829 421l3 8 22 59-2-14z"/><path class="qev" d="M4022 481l8-18 27-55-7 10zM3826 412l3 9 23 53-3-13z"/><path class="qdg" d="M3821 397l5 15 23 49-5-23z"/><path class="qdZ" d="M4358 294l8 2 101-18-9-2z"/><path class="qcY" d="M4113 359l4-2 106-59-4 1z"/><path class="qew" d="M3547 224l16 5 116-13-16-7z"/><path class="qcQ" d="M4117 357l4-2 106-58-4 1z"/><path class="qdU" d="M4366 296l9 1 100-16-8-3z"/><path class="qcc" d="M4020 482l8-17 36-66-7 9z"/><path class="qdU" d="M4375 297l9 2 100-14-9-4z"/><path class="qeh" d="M4126 353l8-4 106-54-9 2z"/><path class="qdo" d="M3563 229l15 5 116-10-15-8z"/><path class="qcd" d="M4028 465l7-14 36-60-7 8z"/><path class="qdO" d="M4384 299l17 4 100-11-17-7z"/><path class="qdh" d="M4134 349l8-4 106-51-8 1z"/><path class="qR" d="M3578 234l16 7 116-7-16-10z"/><path class="qbI" d="M4035 451l7-12 36-55-7 7z"/><path class="qdJ" d="M4401 303l17 4 100-8-17-7z"/><path class="qbp" d="M4142 345l17-6 106-47-17 2z"/><path class="qdb" d="M4042 439l3-6 37-52-4 3z"/><path class="qex" d="M3594 241l15 7 116-2-15-12z"/><path class="qW" d="M3811 451l0 3 38 43-1-3z"/><path class="qey" d="M3810 449l1 2 37 43 0-3z"/><path class="qdv" d="M3809 447l1 2 38 42-1-3z"/><path class="qcR" d="M3807 440l2 4 37 41-1-5z"/><path class="qcB" d="M3806 435l1 5 38 40-1-6z"/><path class="qev" d="M3805 431l1 4 38 39-2-5z"/><path class="qde" d="M3803 427l2 4 37 38-1-6z"/><path class="qdX" d="M3802 422l1 5 38 36-1-5z"/><path class="qdz" d="M4418 307l17 5 100-4-17-9z"/><path class="qbJ" d="M4027 460l4-7 54-75-3 3z"/><path class="qcp" d="M3609 248l8 4 116 1-8-7z"/><path class="qdp" d="M4159 339l17-4 105-45-16 2z"/><path class="qbL" d="M4031 453l3-5 55-73-4 3z"/><path class="qez" d="M3741 320l2 3 57 23-2-5z"/><path class="qej" d="M3743 323l5 8 57 25-5-10z"/><path class="qU" d="M3617 252l8 5 116 4-8-8z"/><path class="qcU" d="M3748 331l0 1 57 25 0-1z"/><path class="qet" d="M3748 332l1 1 57 26-1-2z"/><path class="qbr" d="M3749 333l0 1 58 26-1-1z"/><path class="qP" d="M3751 336l1 2 57 28-1-3z"/><path class="qcN" d="M3752 338l1 3 58 28-2-3z"/><path class="qbN" d="M4034 448l4-6 54-70-3 3z"/><path class="qcM" d="M3753 341l3 4 57 31-2-7z"/><path class="qcK" d="M3756 345l3 5 57 33-3-7z"/><path class="qcF" d="M3759 350l2 5 57 34-2-6z"/><path class="qci" d="M3761 355l3 5 57 37-3-8z"/><path class="qeA" d="M3625 257l7 4 116 7-7-7z"/><path class="qcV" d="M3764 360l5 12 57 40-5-15z"/><path class="qbG" d="M3780 397l3 7 57 54-3-10z"/><path class="qdr" d="M4435 312l18 5 99 1-17-10z"/><path class="qeB" d="M3769 372l6 12 57 45-6-17z"/><path class="qbJ" d="M3777 390l3 7 57 51-3-10z"/><path class="qdb" d="M3775 384l2 6 57 48-2-9z"/><path class="qbQ" d="M4038 442l3-5 55-67-4 2z"/><path class="qeC" d="M3877 1225l2-9 22-143-1 8z"/><path class="qeD" d="M3632 261l3 2 116 9-3-4z"/><path class="qcE" d="M4176 335l12-3 105-42-12 0z"/><path class="qbo" d="M4041 437l2-2 55-67-2 2z"/><path class="qcv" d="M3635 263l4 2 116 11-4-4z"/><path class="qcB" d="M4005 494l4-8 36-53-3 6z"/><path class="qeB" d="M4043 435l1-2 55-65-1 0z"/><path class="qdd" d="M4044 433l1-1 55-65-1 1z"/><path class="qeE" d="M3639 265l3 2 116 13-3-4z"/><path class="qdd" d="M4045 432l1-1 55-64-1 0z"/><path class="qX" d="M3642 267l4 2 115 15-3-4z"/><path class="qdA" d="M4046 431l1-2 55-63-1 1z"/><path class="qeF" d="M3646 269l1 1 116 16-2-2z"/><path class="qdz" d="M4188 332l6-1 105-41-6 0z"/><path class="qdA" d="M4047 429l3-2 54-63-2 2z"/><path class="qeG" d="M3647 270l2 1 116 17-2-2z"/><path class="qcP" d="M4453 317l17 6 99 5-17-10z"/><path class="qeG" d="M3649 271l2 2 116 17-2-2zM3651 273l1 0 115 18 0-1z"/><path class="qdN" d="M3652 273l1 1 115 19-1-2z"/><path class="qeH" d="M4050 427l2-3 55-61-3 1z"/><path class="qdN" d="M3653 274l1 1 115 19-1-1z"/><path class="qeI" d="M3654 275l1 0 116 21-2-2z"/><path class="qeJ" d="M3655 275l2 2 116 22-2-3z"/><path class="qdz" d="M4194 331l6-1 105-40-6 0z"/><path class="qdG" d="M4052 424l2-3 55-60-2 2z"/><path class="qcx" d="M3657 277l2 2 116 23-2-3z"/><path class="qeK" d="M3659 279l3 2 115 24-2-3z"/><path class="qeL" d="M3900 1081l1-8 22-143-1 7z"/><path class="qeM" d="M3662 281l2 1 116 27-3-4z"/><path class="qcV" d="M4054 421l5-4 54-58-4 2z"/><path class="qeN" d="M3664 282l2 2 116 28-2-3z"/><path class="qdH" d="M4200 330l6-1 105-39-6 0z"/><path class="qeO" d="M3666 284l5 4 115 32-4-8z"/><path class="qdj" d="M4470 323l18 7 98 8-17-10z"/><path class="qca" d="M4059 417l4-5 54-55-4 2z"/><path class="qdQ" d="M3671 288l4 4 116 36-5-8z"/><path class="qdJ" d="M4206 329l5-1 105-38-5 0z"/><path class="qeC" d="M3854 1084l1 5 22 136 0-5z"/><path class="qeP" d="M3675 292l5 4 116 41-5-9z"/><path class="qdS" d="M3680 296l2 2 116 43-2-4z"/><path class="qci" d="M4063 412l4-4 54-53-4 2z"/><path class="qeQ" d="M3817 648l2 8 23 151-1-12z"/><path class="qdJ" d="M4211 328l6 0 105-38-6 0z"/><path class="qeR" d="M4067 408l4-3 55-52-5 2z"/><path class="qeh" d="M4488 330l15 6 98 12-15-10z"/><path class="qeS" d="M4217 328l3 0 105-37-3-1z"/><path class="qeT" d="M3922 937l1-7 23-144-2 5z"/><path class="qeS" d="M4220 328l2 0 105-37-2 0zM4222 328l1-1 105-36-1 0zM4223 327l2 0 104-36-1 0zM4225 327l1 0 105-36-2 0z"/><path class="qcH" d="M4071 405l9-7 54-49-8 4z"/><path class="qcc" d="M3780 427l2 8 39 54-3-11z"/><path class="qeU" d="M3778 424l2 3 38 51-1-5z"/><path class="qdg" d="M3777 420l1 4 39 49-2-5z"/><path class="qeV" d="M3380 231l31 7 121-19-31-7z"/><path class="qcd" d="M3776 416l1 4 38 48-1-5z"/><path class="qbE" d="M3774 413l2 3 38 47-1-5z"/><path class="qK" d="M3774 411l0 2 39 45-1-2z"/><path class="qdd" d="M3764 386l1 3 38 38-1-5z"/><path class="qdn" d="M3773 409l1 2 38 45-1-2z"/><path class="qbI" d="M3772 408l1 1 38 45 0-3z"/><path class="qbJ" d="M3772 406l0 2 39 43-1-2z"/><path class="qdq" d="M3771 404l1 2 38 43-1-2z"/><path class="qbQ" d="M3766 392l2 4 38 39-1-4z"/><path class="qbL" d="M3770 402l1 2 38 43 0-3z"/><path class="qbN" d="M3768 396l1 3 38 41-1-5z"/><path class="qdb" d="M3769 399l1 3 39 42-2-4z"/><path class="qcQ" d="M4503 336l7 3 98 14-7-5z"/><path class="qeS" d="M4226 327l3 0 104-36-2 0z"/><path class="qeW" d="M3933 622l4 0 28-61-4 11z"/><path class="qcY" d="M4510 339l4 1 98 15-4-2z"/><path class="qdO" d="M4229 327l5 0 105-35-6-1z"/><path class="qcY" d="M4514 340l4 2 98 16-4-3z"/><path class="qeX" d="M4080 398l8-7 54-46-8 4z"/><path class="qdO" d="M4234 327l5 0 105-35-5 0z"/><path class="qej" d="M4518 342l5 2 98 17-5-3z"/><path class="qby" d="M3986 505l2-3 55-67-2 2z"/><path class="qcC" d="M3988 502l1-2 55-67-1 2z"/><path class="qeu" d="M4523 344l5 2 98 18-5-3z"/><path class="qY" d="M4239 327l6 0 104-34-5-1z"/><path class="qev" d="M3989 500l1-2 55-66-1 1z"/><path class="qdW" d="M3990 498l1-2 55-65-1 1z"/><path class="qeY" d="M3946 786l1-11 22-140-1 7z"/><path class="qde" d="M3991 496l1-2 55-65-1 2z"/><path class="qcU" d="M4528 346l10 4 97 21-9-7z"/><path class="qcc" d="M3992 494l2-4 56-63-3 2z"/><path class="qY" d="M4245 327l8 0 105-33-9-1z"/><path class="qek" d="M3411 238l15 3 121-17-15-5z"/><path class="qP" d="M4088 391l17-10 54-42-17 6z"/><path class="qev" d="M3778 436l5 16 29 51-5-21z"/><path class="qeZ" d="M3994 490l3-4 55-62-2 3z"/><path class="qbt" d="M3775 429l3 7 29 46-3-10z"/><path class="qfa" d="M3960 625l2 7 22-123-1 4z"/><path class="qbr" d="M4538 350l10 5 97 23-10-7z"/><path class="qdg" d="M3997 486l2-4 55-61-2 3z"/><path class="qY" d="M4253 327l9 0 104-31-8-2zM3682 298l2 2 59 23-2-3z"/><path class="qep" d="M3964 638l1 6 23-142-2 3z"/><path class="qdJ" d="M3684 300l5 5 59 26-5-8z"/><path class="qcd" d="M3999 482l4-7 56-58-5 4z"/><path class="qfb" d="M3689 305l1 0 58 27 0-1zM3690 305l0 1 59 27-1-1zM3690 306l1 1 58 27 0-1z"/><path class="qfa" d="M3967 645l1-3 23-146-1 2z"/><path class="qcE" d="M3692 308l2 2 58 28-1-2z"/><path class="qcN" d="M4548 355l10 5 97 24-10-6z"/><path class="qcE" d="M3694 310l1 1 58 30-1-3z"/><path class="qfc" d="M3968 642l1-7 23-141-1 2z"/><path class="qdp" d="M3695 311l3 3 58 31-3-4z"/><path class="qdU" d="M4262 327l8 1 105-31-9-1z"/><path class="qek" d="M3426 241l16 4 121-16-16-5z"/><path class="qcP" d="M3698 314l2 3 59 33-3-5z"/><path class="qbG" d="M4003 475l4-6 56-57-4 5z"/><path class="qdT" d="M3700 317l3 3 58 35-2-5z"/><path class="qfd" d="M3969 635l3-17 22-128-2 4z"/><path class="qdh" d="M3703 320l3 3 58 37-3-5z"/><path class="qez" d="M3706 323l5 7 58 42-5-12z"/><path class="qbI" d="M4007 469l5-6 55-55-4 4z"/><path class="qeu" d="M3711 330l5 7 59 47-6-12z"/><path class="qdU" d="M4270 328l9 0 105-29-9-2z"/><path class="qeX" d="M4558 360l18 9 97 27-18-12z"/><path class="qbr" d="M3716 337l3 4 58 49-2-6z"/><path class="qfe" d="M3972 618l2-15 23-117-3 4z"/><path class="qP" d="M3719 341l3 4 58 52-3-7z"/><path class="qcM" d="M3722 345l2 4 59 55-3-7z"/><path class="qbL" d="M4012 463l4-6 55-52-4 3z"/><path class="qbT" d="M3974 603l2-14 23-107-2 4z"/><path class="qff" d="M3442 245l15 4 121-15-15-5z"/><path class="qdU" d="M4279 328l17 2 105-27-17-4z"/><path class="qbb" d="M3976 589l3-10 22-101-2 4z"/><path class="qcF" d="M4576 369l18 9 96 28-17-10z"/><path class="qdc" d="M4016 457l8-10 56-49-9 7z"/><path class="qcJ" d="M3979 579l2-10 22-94-2 3z"/><path class="qP" d="M3724 349l2 2 39 38-1-3z"/><path class="qfg" d="M3830 945l1 4 24 140-1-5z"/><path class="qP" d="M3726 351l1 2 39 39-1-3z"/><path class="qdC" d="M3727 353l1 2 40 41-2-4z"/><path class="qcM" d="M3728 355l2 3 39 41-1-3z"/><path class="qeX" d="M3730 358l1 2 39 42-1-3z"/><path class="qcK" d="M3731 360l1 1 39 43-1-2z"/><path class="qew" d="M3457 249l16 5 121-13-16-7z"/><path class="qdE" d="M3732 361l0 1 40 44-1-2z"/><path class="qcI" d="M3732 362l1 1 39 45 0-2z"/><path class="qcH" d="M3733 363l1 1 39 45-1-1z"/><path class="qcF" d="M3734 364l1 1 39 46-1-2zM3735 365l0 1 39 47 0-2z"/><path class="qcy" d="M3981 569l4-16 22-84-4 6z"/><path class="qel" d="M3735 366l2 3 39 47-2-3z"/><path class="qbq" d="M3737 369l1 2 39 49-1-4z"/><path class="qfh" d="M3738 371l1 2 39 51-1-4z"/><path class="qca" d="M3739 373l2 3 39 51-2-3z"/><path class="qcV" d="M3741 376l2 4 39 55-2-8z"/><path class="qO" d="M3743 380l3 5 39 58-3-8z"/><path class="qdd" d="M4024 447l9-9 55-47-8 7z"/><path class="qci" d="M4594 378l18 10 96 28-18-10z"/><path class="qY" d="M4296 330l18 1 104-24-17-4z"/><path class="qfi" d="M3794 498l1 4 24 154-2-8z"/><path class="qfj" d="M3792 494l2 4 23 150-1-14z"/><path class="qdC" d="M4050 423l17-13 109-75-17 4z"/><path class="qen" d="M3985 553l4-14 23-76-5 6z"/><path class="qcD" d="M3791 490l1 4 24 140-1-14z"/><path class="qfk" d="M3790 486l1 4 24 130-2-14z"/><path class="qfl" d="M3962 637l4-22 23-76-4 14z"/><path class="qdG" d="M3746 385l3 5 29 46-3-7z"/><path class="qfm" d="M3788 483l2 3 23 120-1-11z"/><path class="qeB" d="M3749 390l5 11 29 51-5-16z"/><path class="qdb" d="M3754 401l5 10 30 57-6-16z"/><path class="qbb" d="M3787 479l1 4 24 112-1-11z"/><path class="qdo" d="M3473 254l16 5 120-11-15-7z"/><path class="qds" d="M3785 472l2 7 24 105-3-19z"/><path class="qfn" d="M3989 539l4-12 23-70-4 6z"/><path class="qfo" d="M3782 465l3 7 23 93-2-15z"/><path class="qcV" d="M4612 388l18 10 96 27-18-9z"/><path class="qfp" d="M3780 458l2 7 24 85-3-14z"/><path class="qcV" d="M4033 438l17-15 55-42-17 10z"/><path class="qfq" d="M3807 545l4 12 23 54-3 0z"/><path class="qeq" d="M3774 445l6 13 23 78-5-24z"/><path class="qbP" d="M3811 557l3 13 23 43-3-2z"/><path class="qfr" d="M3769 433l5 12 24 67-5-21z"/><path class="qbD" d="M3764 422l5 11 24 58-5-18z"/><path class="qY" d="M4314 331l17 3 104-22-17-5z"/><path class="qbd" d="M3966 615l5-18 22-70-4 12z"/><path class="qet" d="M4067 410l11-7 110-71-12 3z"/><path class="qfs" d="M3489 259l8 2 120-9-8-4z"/><path class="qft" d="M3993 527l9-20 22-60-8 10z"/><path class="qdu" d="M3497 261l8 3 120-7-8-5z"/><path class="qeu" d="M4078 403l6-3 110-69-6 1z"/><path class="qbT" d="M3971 597l8-29 23-61-9 20z"/><path class="qeS" d="M4331 334l18 2 104-19-18-5z"/><path class="qbX" d="M4630 398l36 21 95 20-35-14z"/><path class="qcg" d="M3505 264l6 2 121-5-7-4z"/><path class="qeZ" d="M4002 507l8-16 23-53-9 9z"/><path class="qcY" d="M4084 400l6-3 110-67-6 1z"/><path class="qcg" d="M3511 266l4 1 120-4-3-2z"/><path class="qfu" d="M3515 267l3 2 121-4-4-2z"/><path class="qcQ" d="M4090 397l6-3 110-65-6 1z"/><path class="qdB" d="M3518 269l4 1 120-3-3-2z"/><path class="qeS" d="M4349 336l18 4 103-17-17-6z"/><path class="qcy" d="M3979 568l9-24 22-53-8 16z"/><path class="qez" d="M4096 394l6-2 109-64-5 1z"/><path class="qbx" d="M4005 504l8-14 28-60-8 8z"/><path class="qfv" d="M3530 273l1 1 121-1-1 0zM3531 274l1 0 121 0-1-1z"/><path class="qeh" d="M4102 392l6-3 109-61-6 0z"/><path class="qcp" d="M3534 275l2 1 121 1-2-2z"/><path class="qeh" d="M4108 389l3-1 109-60-3 0z"/><path class="qbI" d="M4013 490l8-14 29-53-9 7z"/><path class="qfw" d="M4666 419l36 21 96 7-37-8z"/><path class="qdH" d="M4367 340l17 3 104-13-18-7z"/><path class="qeg" d="M4111 388l1 0 110-60-2 0zM4112 388l2-1 109-60-1 1z"/><path class="qfx" d="M3541 278l2 1 121 3-2-1z"/><path class="qdh" d="M4114 387l1 0 110-60-2 0z"/><path class="qfy" d="M3543 279l3 1 120 4-2-2z"/><path class="qdh" d="M4115 387l2 0 109-60-1 0z"/><path class="qcy" d="M3976 571l9-20 28-61-8 14z"/><path class="qU" d="M3546 280l4 2 121 6-5-4z"/><path class="qdh" d="M4117 387l2-1 110-59-3 0z"/><path class="qfz" d="M3550 282l5 2 120 8-4-4z"/><path class="qdj" d="M4119 386l6-2 109-57-5 0zM3675 343l1 0 59 23 0-1z"/><path class="qdh" d="M3676 343l1 2 60 24-2-3zM3677 345l1 2 60 24-1-2z"/><path class="qeh" d="M3678 347l2 1 59 25-1-2z"/><path class="qfA" d="M3807 803l1 4 23 142-1-4z"/><path class="qdz" d="M4384 343l16 3 103-10-15-6z"/><path class="qfz" d="M3555 284l4 2 121 10-5-4z"/><path class="qeh" d="M3680 348l1 2 60 26-2-3z"/><path class="qfB" d="M3254 251l31 6 126-19-31-7z"/><path class="qfC" d="M3806 797l1 6 23 142 0-9z"/><path class="qez" d="M3681 350l3 4 59 26-2-4z"/><path class="qdj" d="M4125 384l5-1 109-56-5 0z"/><path class="qcY" d="M3684 354l3 3 59 28-3-5z"/><path class="qeA" d="M3559 286l3 1 120 11-2-2z"/><path class="qeu" d="M3687 357l2 4 60 29-3-5z"/><path class="qeA" d="M3562 287l2 1 120 12-2-2z"/><path class="qey" d="M3985 551l8-21 28-54-8 14z"/><path class="qbr" d="M3689 361l6 7 59 33-5-11z"/><path class="qbL" d="M4012 494l17-24 38-60-17 13z"/><path class="qeD" d="M3564 288l5 3 120 14-5-5z"/><path class="qdj" d="M4130 383l5-1 110-55-6 0z"/><path class="qdC" d="M3695 368l5 8 59 35-5-10z"/><path class="qcv" d="M3569 291l0 0 121 14-1 0z"/><path class="qdz" d="M4400 346l7 2 103-9-7-3z"/><path class="qcv" d="M3569 291l1 0 120 15 0-1z"/><path class="qdE" d="M3700 376l5 7 59 39-5-11z"/><path class="qcv" d="M3570 291l1 1 120 15-1-1z"/><path class="qbq" d="M3705 383l5 8 59 42-5-11z"/><path class="qdL" d="M3572 292l1 1 121 17-2-2zM3573 293l2 1 120 17-1-1z"/><path class="qcV" d="M3710 391l5 9 59 45-5-12z"/><path class="qfD" d="M4407 348l4 0 103-8-4-1z"/><path class="qeE" d="M3575 294l2 1 121 19-3-3z"/><path class="qbp" d="M4135 382l9-2 109-53-8 0z"/><path class="qdb" d="M4702 440l37 20 96-10-37-3z"/><path class="qdA" d="M3715 400l5 9 60 49-6-13z"/><path class="qbo" d="M3720 409l3 5 59 51-2-7z"/><path class="qdc" d="M3723 414l2 5 60 53-3-7z"/><path class="qX" d="M3577 295l3 2 120 20-2-3z"/><path class="qdb" d="M3725 419l3 5 59 55-2-7z"/><path class="qdr" d="M4411 348l4 1 103-7-4-2z"/><path class="qeG" d="M3583 298l2 2 121 23-3-3z"/><path class="qdr" d="M4415 349l5 1 103-6-5-2z"/><path class="qcP" d="M4144 380l9-1 109-52-9 0z"/><path class="qdN" d="M3585 300l6 3 120 27-5-7z"/><path class="qfB" d="M3285 257l15 3 126-19-15-3z"/><path class="qdr" d="M4420 350l5 2 103-6-5-2z"/><path class="qdd" d="M4029 470l12-13 37-54-11 7z"/><path class="qcx" d="M3591 303l5 4 120 30-5-7z"/><path class="qeK" d="M3596 307l3 1 120 33-3-4z"/><path class="qdr" d="M4425 352l11 2 102-4-10-4z"/><path class="qeN" d="M3599 308l2 2 121 35-3-4z"/><path class="qdm" d="M4153 379l9-2 108-49-8-1z"/><path class="qeN" d="M3601 310l3 2 120 37-2-4z"/><path class="qfE" d="M3604 312l1 1 121 38-2-2z"/><path class="qeO" d="M3605 313l2 1 120 39-1-2zM3607 314l1 1 120 40-1-2z"/><path class="qfn" d="M3974 566l17-35 38-61-17 24z"/><path class="qfF" d="M3608 315l1 1 121 42-2-3z"/><path class="qfG" d="M3609 316l2 1 120 43-1-2z"/><path class="qdQ" d="M3611 317l0 0 121 44-1-1z"/><path class="qfH" d="M3611 317l1 1 120 44 0-1z"/><path class="qeV" d="M3300 260l16 4 126-19-16-4z"/><path class="qfH" d="M3612 318l1 0 120 45-1-1zM3613 318l0 1 121 45-1-1zM3613 319l1 0 121 46-1-1z"/><path class="qdp" d="M4162 377l8-1 109-48-9 0z"/><path class="qbL" d="M4739 460l36 17 97-26-37-1z"/><path class="qdx" d="M4022 484l6-7 56-77-6 3z"/><path class="qcP" d="M4446 357l10 2 102 1-10-5z"/><path class="qdr" d="M4170 376l18-1 108-45-17-2z"/><path class="qdA" d="M4028 477l6-7 56-73-6 3z"/><path class="qfI" d="M3316 264l16 3 125-18-15-4z"/><path class="qcc" d="M3991 531l12-20 38-54-12 13z"/><path class="qdj" d="M4456 359l18 5 102 5-18-9z"/><path class="qfJ" d="M3708 405l2 4 40 39-2-6z"/><path class="qbZ" d="M3710 409l3 5 40 40-3-6z"/><path class="qcV" d="M4040 465l6-6 56-67-6 2z"/><path class="qO" d="M3713 414l1 2 40 41-1-3z"/><path class="qdA" d="M3714 416l2 3 40 42-2-4z"/><path class="qbo" d="M3716 419l6 12 40 46-6-16z"/><path class="qcE" d="M4188 375l17-1 109-43-18-1z"/><path class="qek" d="M3332 267l15 3 126-16-16-5z"/><path class="qdb" d="M3722 431l3 6 40 49-3-9z"/><path class="qdh" d="M4474 364l18 6 102 8-18-9z"/><path class="qfK" d="M3884 1286l1-7 23-152-1 6z"/><path class="qfh" d="M4046 459l6-5 56-65-6 3z"/><path class="qdq" d="M4775 477l38 15 97-43-38 2z"/><path class="qbq" d="M4052 454l3-2 56-64-3 1z"/><path class="qfL" d="M3885 1279l1-18 23-149-1 15z"/><path class="qfM" d="M3782 658l1 3 25 146-1-4z"/><path class="qel" d="M4055 452l1-1 56-63-1 0z"/><path class="qfN" d="M3781 654l1 4 25 145-1-6z"/><path class="qfO" d="M3614 319l1 1 61 23-1 0z"/><path class="qcF" d="M4056 451l2-1 56-63-2 1z"/><path class="qeM" d="M3615 320l1 1 61 24-1-2z"/><path class="qdi" d="M3347 270l16 4 126-15-16-5z"/><path class="qeM" d="M3616 321l2 1 60 25-1-2z"/><path class="qdz" d="M4205 374l18 0 108-40-17-3z"/><path class="qcF" d="M4058 450l1-1 56-62-1 0z"/><path class="qdP" d="M3618 322l1 1 61 25-2-1z"/><path class="qeN" d="M3619 323l1 1 61 26-1-2z"/><path class="qcF" d="M4059 449l1-1 57-61-2 0z"/><path class="qeh" d="M4492 370l18 5 102 13-18-10z"/><path class="qdZ" d="M3620 324l3 2 61 28-3-4z"/><path class="qcH" d="M4060 448l3-2 56-60-2 1z"/><path class="qeO" d="M3623 326l3 2 61 29-3-3z"/><path class="qY" d="M3626 328l2 2 61 31-2-4z"/><path class="qfP" d="M3886 1261l3-55 23-138-3 44z"/><path class="qcI" d="M4063 446l5-4 57-58-6 2z"/><path class="qdQ" d="M3628 330l6 5 61 33-6-7z"/><path class="qfQ" d="M3904 1112l1 16 23-152-1-11z"/><path class="qff" d="M3363 274l8 2 126-15-8-2z"/><path class="qF" d="M3965 566l6-11 57-78-6 7z"/><path class="qeP" d="M3634 335l5 4 61 37-5-8z"/><path class="qdq" d="M4813 492l19 6 97-49-19 0z"/><path class="qcK" d="M4068 442l6-3 56-56-5 1z"/><path class="qfQ" d="M3908 1127l1-15 23-149-1 12z"/><path class="qdS" d="M3639 339l5 5 61 39-5-7z"/><path class="qei" d="M4510 375l19 7 101 16-18-10z"/><path class="qdz" d="M4223 374l18 0 108-38-18-2z"/><path class="qff" d="M3371 276l8 2 126-14-8-3z"/><path class="qbp" d="M3644 344l5 5 61 42-5-8z"/><path class="qfR" d="M3859 1133l1 7 24 146-2-7z"/><path class="qby" d="M3971 555l6-10 57-75-6 7z"/><path class="qfR" d="M3860 1140l1-6 24 145-1 7z"/><path class="qcM" d="M4074 439l5-3 56-54-5 1z"/><path class="qdh" d="M3649 349l5 5 61 46-5-9z"/><path class="qfS" d="M3857 1117l2 16 23 146-1-20z"/><path class="qeh" d="M3654 354l5 5 61 50-5-9z"/><path class="qew" d="M3379 278l7 2 125-14-6-2z"/><path class="qfS" d="M3861 1134l2-14 23 141-1 18z"/><path class="qei" d="M3659 359l3 2 61 53-3-5z"/><path class="qfT" d="M3909 1112l3-44 23-139-3 34z"/><path class="qej" d="M3662 361l3 3 60 55-2-5z"/><path class="qe" d="M3889 1206l2-52 23-129-2 43z"/><path class="qdC" d="M4079 436l9-4 56-52-9 2z"/><path class="qcc" d="M3977 545l5-9 58-71-6 5z"/><path class="qcU" d="M3665 364l2 3 61 57-3-5z"/><path class="qdq" d="M4832 498l19 5 97-55-19 1z"/><path class="qew" d="M3386 280l3 0 126-13-4-1z"/><path class="qfU" d="M3854 1071l3 46 24 142-3-56z"/><path class="qdH" d="M4241 374l18 1 108-35-18-4z"/><path class="qew" d="M3389 280l4 1 125-12-3-2z"/><path class="qfV" d="M3931 975l1-12 24-150-2 8z"/><path class="qew" d="M3393 281l3 1 126-12-4-1z"/><path class="qcU" d="M4529 382l36 13 101 24-36-21z"/><path class="qdg" d="M3982 536l6-8 58-69-6 6z"/><path class="qP" d="M4088 432l9-4 56-49-9 1z"/><path class="qfU" d="M3863 1120l2-44 24 130-3 55z"/><path class="qbY" d="M3396 282l3 1 126-12-3-1zM3399 283l2 0 126-11-2-1z"/><path class="qfW" d="M3912 1068l2-43 24-130-3 34z"/><path class="qbY" d="M3401 283l2 1 125-11-1-1z"/><path class="qbD" d="M3988 528l6-8 58-66-6 5z"/><path class="qdo" d="M3403 284l2 0 125-11-2 0z"/><path class="qbL" d="M4851 503l19 4 97-60-19 1z"/><path class="qcQ" d="M3667 367l3 3 40 39-2-4z"/><path class="qdo" d="M3405 284l0 1 126-11-1-1z"/><path class="qbr" d="M4097 428l8-3 57-48-9 2z"/><path class="qfX" d="M3851 1025l3 46 24 132-3-55z"/><path class="qdo" d="M3405 285l1 0 126-11-1 0z"/><path class="qfY" d="M3891 1154l3-53 23-119-3 43z"/><path class="qcY" d="M3670 370l2 3 41 41-3-5z"/><path class="qdo" d="M3406 285l1 0 126-10-1-1z"/><path class="qdH" d="M4259 375l17 1 108-33-17-3z"/><path class="qeu" d="M3672 373l2 1 40 42-1-2z"/><path class="qdo" d="M3407 285l2 0 125-10-1 0z"/><path class="qeu" d="M3674 374l1 2 41 43-2-3z"/><path class="qK" d="M3994 520l3-4 58-64-3 2z"/><path class="qdo" d="M3409 285l2 1 125-10-2-1z"/><path class="qbr" d="M3675 376l6 7 41 48-6-12z"/><path class="qdo" d="M3411 286l2 1 126-10-3-1z"/><path class="qcN" d="M3681 383l3 4 41 50-3-6z"/><path class="qdn" d="M3997 516l2-2 57-63-1 1z"/><path class="qcM" d="M3684 387l3 4 41 52-3-6z"/><path class="qdo" d="M3413 287l2 0 126-9-2-1z"/><path class="qbI" d="M3999 514l1-1 58-63-2 1z"/><path class="qdE" d="M3687 391l4 4 40 55-3-7z"/><path class="qfZ" d="M3954 821l2-8 23-151-1 5z"/><path class="qdo" d="M3415 287l3 1 125-9-2-1z"/><path class="qcF" d="M3691 395l3 4 41 58-4-7z"/><path class="qbI" d="M4000 513l2-2 57-62-1 1z"/><path class="qga" d="M3914 1025l3-43 24-120-3 33z"/><path class="qgb" d="M3865 1076l3-42 23 120-2 52z"/><path class="qdq" d="M4002 511l1-1 57-62-1 1z"/><path class="qdo" d="M3418 288l2 0 126-8-3-1z"/><path class="qgc" d="M3848 979l3 46 24 123-3-55z"/><path class="qda" d="M4003 510l3-3 57-61-3 2z"/><path class="qbM" d="M4870 507l19 3 97-64-19 1z"/><path class="qgd" d="M3420 288l5 2 125-8-4-2z"/><path class="qge" d="M3956 813l3-24 23-141-3 14z"/><path class="qdH" d="M4276 376l16 1 108-31-16-3z"/><path class="qgf" d="M3123 273l31 6 131-22-31-6z"/><path class="qdC" d="M4565 395l37 15 100 30-36-21z"/><path class="qgg" d="M3894 1101l2-39 24-112-3 32z"/><path class="qfs" d="M3425 290l4 1 126-7-5-2z"/><path class="qdb" d="M4006 507l5-6 57-59-5 4z"/><path class="qcF" d="M3694 399l6 9 31 48-7-13z"/><path class="qgh" d="M3971 658l3 8 23-150-3 4z"/><path class="qfs" d="M3429 291l5 1 125-6-4-2z"/><path class="qca" d="M3700 408l7 11 31 54-7-17z"/><path class="qgi" d="M3959 789l2-24 24-130-3 13z"/><path class="qdA" d="M3707 419l8 11 30 62-7-19z"/><path class="qdH" d="M4292 377l8 1 107-30-7-2z"/><path class="qdc" d="M4011 501l5-5 58-57-6 3z"/><path class="qcZ" d="M3975 669l2 0 23-156-1 1z"/><path class="qdu" d="M3434 292l2 1 126-6-3-1z"/><path class="qgj" d="M3845 944l3 35 24 114-3-43z"/><path class="qdu" d="M3436 293l2 1 126-6-2-1z"/><path class="qgk" d="M3868 1034l2-42 24 109-3 53z"/><path class="qbM" d="M4889 510l19 3 98-67-20 0z"/><path class="qdH" d="M4300 378l4 0 107-30-4 0z"/><path class="qbU" d="M3756 508l1 2 25 148-1-4z"/><path class="qgl" d="M3755 504l1 4 25 146-2-12z"/><path class="qbo" d="M4016 496l6-4 57-56-5 3z"/><path class="qgm" d="M3896 1062l3-40 23-105-2 33z"/><path class="qds" d="M3753 500l2 4 24 138-1-13z"/><path class="qcg" d="M3443 295l1 0 125-4 0 0z"/><path class="qbo" d="M3715 430l7 12 24 56-7-19z"/><path class="qgn" d="M3979 662l3-14 24-141-3 3z"/><path class="qgo" d="M3751 496l2 4 25 129-2-13z"/><path class="qdH" d="M4304 378l3 0 108-29-4-1z"/><path class="qcg" d="M3444 295l0 1 126-5-1 0z"/><path class="qgp" d="M3749 492l2 4 25 120-2-11z"/><path class="qcg" d="M3444 296l1 0 126-4-1-1z"/><path class="qfp" d="M3747 489l2 3 25 113-2-11z"/><path class="qbL" d="M3722 442l7 12 25 66-8-22z"/><path class="qcg" d="M3445 296l1 0 126-4-1 0z"/><path class="qgq" d="M3744 481l3 8 25 105-4-19z"/><path class="qbG" d="M3729 454l4 7 24 71-3-12z"/><path class="qgr" d="M3740 474l4 7 24 94-3-16z"/><path class="qbx" d="M3733 461l3 6 25 78-4-13z"/><path class="qcg" d="M3446 296l2 1 125-4-1-1z"/><path class="qdX" d="M3736 467l4 7 25 85-4-14z"/><path class="qdH" d="M4307 378l6 1 107-29-5-1z"/><path class="qcg" d="M3448 297l1 0 126-3-2-1z"/><path class="qgs" d="M3982 648l3-13 23-131-2 3z"/><path class="qfB" d="M3154 279l15 3 131-22-15-3z"/><path class="qeX" d="M4048 473l9-5 113-92-8 1z"/><path class="qdd" d="M4022 492l9-7 57-53-9 4z"/><path class="qcS" d="M3964 742l3-17 23-113-3 10z"/><path class="qdH" d="M4313 379l5 0 107-27-5-2z"/><path class="qcF" d="M4602 410l38 16 99 34-37-20z"/><path class="qgo" d="M3985 635l2-13 24-121-3 3z"/><path class="qdB" d="M3457 300l3 1 125-1-2-2z"/><path class="qdb" d="M4908 513l20 2 97-69-19 0z"/><path class="qgg" d="M3870 992l3-31 23 101-2 39z"/><path class="qgt" d="M3967 725l2-18 24-105-3 10z"/><path class="qgu" d="M3785 577l8 24 30 38-8-3z"/><path class="qdH" d="M4318 379l10 1 108-26-11-2z"/><path class="qfo" d="M3987 622l3-10 24-113-3 2z"/><path class="qeH" d="M4031 485l8-7 58-50-9 4z"/><path class="qgv" d="M3781 565l4 12 24 47-4-1z"/><path class="qgw" d="M3899 1022l5-60 24-94-6 49z"/><path class="qdC" d="M4057 468l17-9 114-84-18 1z"/><path class="qfB" d="M3169 282l16 2 131-20-16-4z"/><path class="qgx" d="M3465 302l5 2 126 3-5-4z"/><path class="qgy" d="M3836 990l1-4 24 148-1 6z"/><path class="qgz" d="M3833 971l1 13 25 149-2-16z"/><path class="qdH" d="M4328 380l10 1 108-24-10-3z"/><path class="qfv" d="M3470 304l3 1 126 3-3-1z"/><path class="qgA" d="M3969 707l6-27 23-94-5 16z"/><path class="qdF" d="M4039 478l9-5 57-48-8 3z"/><path class="qfn" d="M3993 602l5-16 24-94-6 4z"/><path class="qgB" d="M3837 986l1-11 25 145-2 14z"/><path class="qgm" d="M3873 961l2-31 24 92-3 40z"/><path class="qcp" d="M3479 307l1 1 125 5-1-1z"/><path class="qgC" d="M3830 935l3 36 24 146-3-46z"/><path class="qcp" d="M3480 308l1 0 126 6-2-1zM3481 308l2 1 125 6-1-1z"/><path class="qdH" d="M4338 381l11 2 107-24-10-2z"/><path class="qgD" d="M3998 586l5-11 23-87-4 4z"/><path class="qfx" d="M3484 309l1 1 126 7-2-1zM3485 310l1 0 125 7 0 0z"/><path class="qfB" d="M3185 284l15 3 132-20-16-3z"/><path class="qfx" d="M3486 310l1 0 125 8-1-1z"/><path class="qfy" d="M3487 310l0 0 126 8-1 0z"/><path class="qfJ" d="M4640 426l37 18 98 33-36-17z"/><path class="qbr" d="M4074 459l18-6 113-79-17 1z"/><path class="qfy" d="M3487 310l1 1 125 8 0-1z"/><path class="qgE" d="M3838 975l3-32 24 133-2 44z"/><path class="qfy" d="M3488 311l1 0 125 8-1 0zM3489 311l0 0 126 9-1-1z"/><path class="qU" d="M3489 311l2 1 125 9-1-1z"/><path class="qev" d="M4003 575l4-10 24-80-5 3z"/><path class="qgF" d="M3827 899l3 36 24 136-3-46z"/><path class="qU" d="M3493 313l2 0 125 11-1-1z"/><path class="qgG" d="M3979 663l5-17 23-81-4 10z"/><path class="qfz" d="M3495 313l2 1 126 12-3-2z"/><path class="qdH" d="M4349 383l18 2 107-21-18-5z"/><path class="qfz" d="M3497 314l3 1 126 13-3-2z"/><path class="qgw" d="M3875 930l6-47 23 79-5 60z"/><path class="qfz" d="M3500 315l3 2 125 13-2-2z"/><path class="qdX" d="M4007 565l9-16 23-71-8 7z"/><path class="qcE" d="M3622 365l4 3 61 23-3-4z"/><path class="qeV" d="M3200 287l16 3 131-20-15-3z"/><path class="qeA" d="M3503 317l5 2 126 16-6-5z"/><path class="qdp" d="M3626 368l3 3 62 24-4-4z"/><path class="qgH" d="M3841 943l3-31 24 122-3 42z"/><path class="qgI" d="M3824 863l3 36 24 126-3-46z"/><path class="qcP" d="M3629 371l3 3 62 25-3-4z"/><path class="qeu" d="M4092 453l18-6 113-73-18 0z"/><path class="qgJ" d="M3508 319l5 2 126 18-5-4z"/><path class="qdj" d="M3632 374l6 6 62 28-6-9z"/><path class="qdz" d="M4367 385l18 3 107-18-18-6z"/><path class="qcv" d="M3513 321l6 2 125 21-5-5z"/><path class="qeh" d="M3638 380l8 7 61 32-7-11z"/><path class="qbD" d="M4016 549l9-13 23-63-9 5z"/><path class="qgK" d="M3960 727l9-35 23-72-8 26z"/><path class="qgL" d="M3821 835l3 28 24 116-3-35z"/><path class="qdL" d="M3519 323l5 2 125 24-5-5z"/><path class="qdA" d="M4677 444l38 19 98 29-38-15z"/><path class="qcY" d="M3646 387l7 8 62 35-8-11z"/><path class="qgM" d="M3881 883l4-28 24 71-5 36z"/><path class="qeV" d="M3216 290l16 3 131-19-16-4z"/><path class="qgN" d="M3844 912l2-31 24 111-2 42z"/><path class="qeE" d="M3524 325l5 3 125 26-5-5z"/><path class="qet" d="M3653 395l7 8 62 39-7-12z"/><path class="qdb" d="M3715 468l1 2 41 40-1-2z"/><path class="qgO" d="M3818 807l3 28 24 109-3-36z"/><path class="qbM" d="M3716 470l1 1 41 41-1-2z"/><path class="qbL" d="M3717 471l2 2 40 41-1-2z"/><path class="qdq" d="M3719 473l1 2 41 42-2-3z"/><path class="qX" d="M3529 328l5 2 125 29-5-5z"/><path class="qei" d="M4110 447l18-4 113-69-18 0z"/><path class="qdC" d="M3660 403l7 9 62 42-7-12z"/><path class="qbI" d="M4025 536l8-11 24-57-9 5z"/><path class="qeG" d="M3534 330l3 1 125 30-3-2z"/><path class="qgP" d="M4385 388l19 3 106-16-18-5z"/><path class="qdE" d="M3667 412l8 9 61 46-7-13z"/><path class="qeG" d="M3537 331l2 1 126 32-3-3z"/><path class="qfI" d="M3232 293l8 2 131-19-8-2z"/><path class="qgQ" d="M3539 332l3 2 125 33-2-3z"/><path class="qgR" d="M3969 692l8-28 24-64-9 20z"/><path class="qgS" d="M3846 881l3-22 24 102-3 31z"/><path class="qeJ" d="M3544 335l3 1 125 37-2-3zM3547 336l1 1 126 37-2-1z"/><path class="qbo" d="M4715 463l19 9 98 26-19-6z"/><path class="qfI" d="M3240 295l8 2 131-19-8-2z"/><path class="qeK" d="M3549 337l7 4 125 42-6-7z"/><path class="qez" d="M4128 443l18-4 113-64-18-1z"/><path class="qdr" d="M4404 391l18 3 107-12-19-7z"/><path class="qbL" d="M4027 540l18-20 29-61-17 9z"/><path class="qgT" d="M3556 341l3 1 125 45-3-4z"/><path class="qgU" d="M3849 859l2-23 24 94-2 31z"/><path class="qek" d="M3248 297l7 1 131-18-7-2z"/><path class="qeb" d="M3977 664l9-23 24-58-9 17z"/><path class="qek" d="M3255 298l3 1 131-19-3 0z"/><path class="qbQ" d="M4734 472l19 10 98 21-19-5z"/><path class="qek" d="M3258 299l4 0 131-18-4-1zM3262 299l3 1 131-18-3-1z"/><path class="qeg" d="M4146 439l18-2 112-61-17-1z"/><path class="qgV" d="M3808 822l2 10 24 152-1-13z"/><path class="qey" d="M3998 612l18-31 29-61-18 20z"/><path class="qek" d="M3265 300l3 1 131-18-3-1z"/><path class="qgW" d="M3851 836l6-34 24 81-6 47z"/><path class="qgX" d="M3812 834l2-6 24 147-1 11z"/><path class="qek" d="M3268 301l2 0 131-18-2 0z"/><path class="qgY" d="M3805 796l3 26 25 149-3-36z"/><path class="qbo" d="M4045 520l18-15 29-52-18 6z"/><path class="qdp" d="M4422 394l38 7 105-6-36-13z"/><path class="qbN" d="M4753 482l19 10 98 15-19-4z"/><path class="qek" d="M3272 302l2 0 131-18-2 0zM3274 302l0 0 131-17 0-1zM3274 302l1 0 131-17-1 0zM3275 302l1 0 131-17-1 0z"/><path class="qgZ" d="M3814 828l2-21 25 136-3 32z"/><path class="qek" d="M3276 302l2 1 131-18-2 0z"/><path class="qha" d="M3802 770l3 26 25 139-3-36z"/><path class="qek" d="M3278 303l2 0 131-17-2-1zM3280 303l2 1 131-17-2-1z"/><path class="qdh" d="M4164 437l15-2 113-58-16-1z"/><path class="qek" d="M3282 304l3 0 130-17-2 0z"/><path class="qhb" d="M3857 802l4-19 24 72-4 28z"/><path class="qdi" d="M3285 304l2 1 131-17-3-1z"/><path class="qhc" d="M3799 744l3 26 25 129-3-36z"/><path class="qbM" d="M4772 492l19 10 98 8-19-3z"/><path class="qdi" d="M3287 305l2 0 131-17-2 0z"/><path class="qhd" d="M3816 807l3-19 25 124-3 31z"/><path class="qhe" d="M2986 295l31 5 137-21-31-6z"/><path class="qdi" d="M3289 305l5 1 131-16-5-2z"/><path class="qde" d="M4016 581l17-23 30-53-18 15z"/><path class="qdj" d="M4179 435l8-1 113-56-8-1z"/><path class="qhf" d="M3796 724l3 20 25 119-3-28z"/><path class="qcK" d="M3672 426l2 2 41 40-1-3z"/><path class="qdA" d="M4053 523l18-14 39-62-18 6z"/><path class="qeG" d="M3559 342l3 2 64 24-4-3z"/><path class="qcK" d="M3674 428l1 1 41 41-1-2z"/><path class="qdi" d="M3294 306l4 1 131-16-4-1z"/><path class="qcI" d="M3675 429l1 1 41 41-1-1zM3676 430l1 2 42 41-2-2z"/><path class="qcH" d="M3677 432l1 1 42 42-1-2z"/><path class="qhg" d="M3793 704l3 20 25 111-3-28z"/><path class="qdj" d="M4187 434l4 0 113-56-4 0z"/><path class="qeG" d="M3562 344l3 2 64 25-3-3z"/><path class="qcF" d="M3678 433l2 3 42 44-2-5z"/><path class="qbq" d="M3680 436l3 3 41 45-2-4z"/><path class="qhh" d="M3819 788l2-20 25 113-2 31z"/><path class="qdi" d="M3298 307l5 1 131-16-5-1z"/><path class="qgQ" d="M3565 346l3 1 64 27-3-3z"/><path class="qci" d="M3683 439l2 3 42 46-3-4z"/><path class="qdj" d="M4191 434l4-1 112-55-3 0z"/><path class="qbp" d="M4460 401l37 8 105 1-37-15z"/><path class="qda" d="M4791 502l19 10 98 1-19-3z"/><path class="qdi" d="M3303 308l2 1 131-16-2-1z"/><path class="qC" d="M3787 672l6 32 25 103-6-44z"/><path class="qeI" d="M3568 347l7 4 63 29-6-6z"/><path class="qff" d="M3305 309l2 0 131-15-2-1z"/><path class="qbp" d="M4195 433l5 0 113-54-6-1z"/><path class="qff" d="M3307 309l5 1 131-15-5-1z"/><path class="qcx" d="M3575 351l7 4 64 32-8-7z"/><path class="qhi" d="M3821 768l3-14 25 105-3 22z"/><path class="qbp" d="M4200 433l5 0 113-54-5 0z"/><path class="qff" d="M3312 310l1 0 131-15-1 0zM3313 310l0 1 131-15 0-1zM3313 311l1 0 131-15-1 0z"/><path class="qhe" d="M3017 300l15 3 137-21-15-3z"/><path class="qff" d="M3314 311l1 0 131-15-1 0z"/><path class="qdP" d="M3582 355l7 5 64 35-7-8z"/><path class="qcV" d="M4071 509l18-11 39-55-18 4z"/><path class="qff" d="M3315 311l2 0 131-14-2-1zM3317 311l1 1 131-15-1 0z"/><path class="qdq" d="M4810 512l20 9 98-6-20-2z"/><path class="qbp" d="M4205 433l11-1 112-52-10-1z"/><path class="qff" d="M3318 312l3 0 131-14-3-1z"/><path class="qhf" d="M3824 754l3-14 24 96-2 23z"/><path class="qeO" d="M3589 360l8 4 63 39-7-8z"/><path class="qff" d="M3321 312l2 1 131-14-2-1z"/><path class="qhj" d="M3323 313l3 1 131-14-3-1z"/><path class="qdQ" d="M3597 364l7 5 63 43-7-9z"/><path class="qew" d="M3326 314l3 0 131-13-3-1z"/><path class="qde" d="M4014 593l18-22 39-62-18 14z"/><path class="qcP" d="M4216 432l10 0 112-51-10-1z"/><path class="qhe" d="M3032 303l16 3 137-22-16-2z"/><path class="qew" d="M3329 314l5 1 131-13-5-1z"/><path class="qfb" d="M3604 369l7 4 64 48-8-9z"/><path class="qhg" d="M3827 740l5-19 25 81-6 34z"/><path class="qdh" d="M4497 409l38 9 105 8-38-16z"/><path class="qhk" d="M3956 704l18-40 30-53-18 31z"/><path class="qcE" d="M3611 373l4 3 63 50-3-5z"/><path class="qew" d="M3334 315l6 2 130-13-5-2z"/><path class="qdS" d="M3615 376l3 2 64 52-4-4z"/><path class="qdm" d="M4226 432l11 0 112-49-11-2z"/><path class="qhl" d="M3618 378l4 3 64 54-4-5z"/><path class="qew" d="M3340 317l2 0 131-12-3-1z"/><path class="qhm" d="M3622 381l4 2 63 57-3-5z"/><path class="qew" d="M3342 317l3 1 131-12-3-1z"/><path class="qdd" d="M3700 463l9 12 31 52-8-18z"/><path class="qhn" d="M3832 721l4-11 25 73-4 19z"/><path class="qcV" d="M4069 526l18-12 59-75-18 4z"/><path class="qbY" d="M3345 318l3 1 131-12-3-1z"/><path class="qhe" d="M3048 306l16 2 136-21-15-3z"/><path class="qbJ" d="M3709 475l17 28 32 63-18-39z"/><path class="qbY" d="M3349 319l1 0 131-11-1 0zM3350 319l2 1 131-11-2-1z"/><path class="qbD" d="M4032 571l18-17 39-56-18 11z"/><path class="qdm" d="M4237 432l18-1 112-46-18-2z"/><path class="qdo" d="M3353 320l1 0 131-10-1-1z"/><path class="qho" d="M3783 669l1 6 26 157-2-10z"/><path class="qdo" d="M3354 320l1 0 131-10-1 0z"/><path class="qbg" d="M3836 710l5-10 24 64-4 19z"/><path class="qdo" d="M3355 320l1 1 131-11-1 0zM3356 321l0 0 131-11 0 0z"/><path class="qhp" d="M3780 654l3 15 25 153-3-26z"/><path class="qhn" d="M3787 679l1-3 26 152-2 6z"/><path class="qdo" d="M3356 321l1 0 131-10-1-1zM3357 321l1 0 131-10-1 0zM3358 321l1 0 130-10 0 0zM3360 322l1 0 131-10-1 0z"/><path class="qcm" d="M3777 639l3 15 25 142-3-26z"/><path class="qC" d="M3788 676l3-8 25 139-2 21z"/><path class="qdo" d="M3363 322l1 1 131-10-2 0z"/><path class="qcE" d="M3626 383l3 3 43 40-4-4z"/><path class="qhe" d="M3064 308l15 3 137-21-16-3z"/><path class="qdo" d="M3364 323l3 0 130-9-2-1z"/><path class="qhq" d="M3774 623l3 16 25 131-3-26z"/><path class="qdp" d="M3629 386l2 1 43 41-2-2z"/><path class="qez" d="M4535 418l38 10 104 16-37-18z"/><path class="qbq" d="M4087 514l18-9 59-68-18 2z"/><path class="qdp" d="M3631 387l1 1 43 41-1-1zM3632 388l1 0 43 42-1-1z"/><path class="qdo" d="M3367 323l2 1 131-9-3-1z"/><path class="qhl" d="M3633 388l1 1 43 43-1-2z"/><path class="qhr" d="M3771 611l3 12 25 121-3-20z"/><path class="qhl" d="M3634 389l1 1 43 43-1-1z"/><path class="qbj" d="M3791 668l3-8 25 128-3 19z"/><path class="qbp" d="M3635 390l3 2 42 44-2-3z"/><path class="qdo" d="M3369 324l3 1 131-8-3-2z"/><path class="qdp" d="M4255 431l19 1 111-44-18-3z"/><path class="qhs" d="M3767 599l4 12 25 113-3-20z"/><path class="qdT" d="M3638 392l2 1 43 46-3-3z"/><path class="qbI" d="M3720 490l9 15 25 58-9-22z"/><path class="qdT" d="M3640 393l3 2 42 47-2-3z"/><path class="qcZ" d="M3761 579l6 20 26 105-6-32z"/><path class="qgd" d="M3372 325l6 1 130-7-5-2z"/><path class="qdg" d="M3729 505l8 15 26 64-9-21z"/><path class="qdh" d="M3643 395l4 3 42 50-4-6z"/><path class="qgs" d="M3755 561l6 18 26 93-6-27z"/><path class="qev" d="M3737 520l6 13 26 70-6-19z"/><path class="qgq" d="M3743 533l6 13 26 76-6-19z"/><path class="qgp" d="M3749 546l6 15 26 84-6-23z"/><path class="qcS" d="M3794 660l2-8 25 116-2 20z"/><path class="qht" d="M3647 398l4 4 43 51-5-5z"/><path class="qfs" d="M3378 326l5 1 130-6-5-2z"/><path class="qez" d="M3651 402l4 3 43 54-4-6z"/><path class="qgf" d="M3079 311l16 3 137-21-16-3z"/><path class="qfs" d="M3383 327l5 2 131-6-6-2z"/><path class="qcY" d="M3655 405l5 3 42 57-4-6z"/><path class="qcu" d="M3796 652l3-4 25 106-3 14z"/><path class="qcH" d="M4105 505l16-6 58-64-15 2z"/><path class="qdr" d="M4274 432l18 0 112-41-19-3z"/><path class="qdu" d="M3388 329l5 1 131-5-5-2z"/><path class="qhu" d="M3799 648l3-5 25 97-3 14z"/><path class="qdu" d="M3393 330l5 1 131-3-5-3z"/><path class="qfB" d="M3095 314l8 1 137-20-8-2z"/><path class="qeu" d="M4573 428l39 12 103 23-38-19z"/><path class="qcK" d="M4121 499l8-3 58-62-8 1z"/><path class="qhv" d="M3802 643l5-5 25 83-5 19z"/><path class="qcg" d="M3398 331l5 2 131-3-5-2z"/><path class="qcc" d="M4010 610l18-19 59-77-18 12z"/><path class="qfB" d="M3103 315l8 1 137-19-8-2z"/><path class="qeX" d="M4129 496l4-1 58-61-4 0z"/><path class="qcg" d="M3406 333l2 1 131-2-2-1z"/><path class="qdr" d="M4292 432l19 1 111-39-18-3z"/><path class="qgR" d="M3807 638l4-2 25 74-4 11z"/><path class="qcM" d="M4133 495l4-2 58-60-4 1z"/><path class="qfB" d="M3111 316l7 2 137-20-7-1z"/><path class="qdC" d="M4137 493l5-1 58-59-5 0z"/><path class="qhk" d="M3811 636l5-1 25 65-5 10z"/><path class="qfu" d="M3416 336l1 0 131 1-1-1zM3417 336l2 1 130 0-1 0z"/><path class="qfB" d="M3118 318l3 0 137-19-3-1z"/><path class="qdC" d="M4142 492l5-2 58-57-5 0z"/><path class="qdB" d="M3419 337l6 2 131 2-7-4z"/><path class="qbr" d="M4612 440l19 5 103 27-19-9z"/><path class="qfB" d="M3121 318l4 1 137-20-4 0zM3125 319l3 0 137-19-3-1z"/><path class="qbD" d="M4028 591l18-16 59-70-18 9z"/><path class="qdB" d="M3428 339l3 1 131 4-3-2z"/><path class="qP" d="M4147 490l10-2 59-56-11 1z"/><path class="qfB" d="M3128 319l4 1 136-19-3-1zM3132 320l1 0 137-19-2 0z"/><path class="qdr" d="M4311 433l38 3 111-35-38-7z"/><path class="qgx" d="M3435 341l3 1 130 5-3-1z"/><path class="qfB" d="M3135 321l2 0 137-19-2 0zM3137 321l1 0 136-19 0 0z"/><path class="qP" d="M4631 445l20 7 102 30-19-10z"/><path class="qfB" d="M3138 321l1 0 136-19-1 0zM3139 321l1 0 136-19-1 0z"/><path class="qfv" d="M3438 342l6 2 131 7-7-4z"/><path class="qO" d="M3718 462l6 7 25 77-6-13z"/><path class="qbr" d="M4157 488l11-3 58-53-10 0z"/><path class="qfB" d="M3140 321l1 1 137-19-2-1zM3141 322l2 0 137-19-2 0z"/><path class="qbo" d="M3724 469l6 7 25 85-6-15z"/><path class="qhw" d="M3730 476l6 8 25 95-6-18z"/><path class="qfB" d="M3143 322l3 0 136-18-2-1z"/><path class="qfv" d="M3444 344l7 2 131 9-7-4z"/><path class="qK" d="M3736 484l6 8 25 107-6-20z"/><path class="qhx" d="M3754 508l3 5 26 156-3-15z"/><path class="qby" d="M3751 504l3 4 26 146-3-15z"/><path class="qcd" d="M3742 492l3 4 26 115-4-12z"/><path class="qde" d="M3748 500l3 4 26 135-3-16z"/><path class="qfB" d="M3146 322l2 1 137-19-3 0z"/><path class="qbt" d="M3745 496l3 4 26 123-3-12z"/><path class="qhy" d="M3760 517l1 2 26 160-1 0z"/><path class="qdq" d="M4046 575l16-11 59-65-16 6z"/><path class="qfB" d="M3148 323l2 0 137-18-2-1z"/><path class="qbr" d="M4168 485l10-2 59-51-11 0z"/><path class="qhz" d="M3763 522l2 4 26 142-3 8z"/><path class="qfB" d="M3150 323l2 1 137-19-2 0z"/><path class="qcp" d="M3451 346l8 2 130 12-7-5z"/><path class="qcM" d="M4651 452l19 6 102 34-19-10z"/><path class="qfn" d="M3765 526l3 4 26 130-3 8z"/><path class="qfB" d="M3152 324l5 0 137-18-5-1z"/><path class="qhA" d="M3768 530l3 4 25 118-2 8z"/><path class="qfy" d="M3459 348l7 2 131 14-8-4z"/><path class="qfB" d="M3157 324l5 1 136-18-4-1z"/><path class="qgq" d="M3771 534l3 5 25 109-3 4z"/><path class="qdb" d="M4062 564l7-5 60-63-8 3z"/><path class="qgq" d="M3774 539l2 5 26 99-3 5z"/><path class="qfB" d="M3162 325l4 1 137-18-5-1z"/><path class="qcU" d="M4178 483l19-3 58-49-18 1z"/><path class="qU" d="M3466 350l7 2 131 17-7-5z"/><path class="qcK" d="M4670 458l20 7 101 37-19-10z"/><path class="qdr" d="M4349 436l38 3 110-30-37-8z"/><path class="qgq" d="M3776 544l6 9 25 85-5 5z"/><path class="qfB" d="M3166 326l3 0 136-17-2-1z"/><path class="qdc" d="M4069 559l4-2 60-62-4 1z"/><path class="qfB" d="M3169 326l2 1 136-18-2 0z"/><path class="qfz" d="M3473 352l8 2 130 19-7-4z"/><path class="qcA" d="M3782 553l4 8 25 75-4 2z"/><path class="qbQ" d="M4073 557l4-2 60-62-4 2z"/><path class="qfB" d="M3171 327l4 1 137-18-5-1zM3175 328l1 0 137-18-1 0zM3176 328l1 0 136-17 0-1zM3177 328l0 0 137-17-1 0z"/><path class="qbo" d="M4077 555l5-3 60-60-5 1z"/><path class="qfB" d="M3177 328l2 0 136-17-1 0z"/><path class="qfz" d="M3484 355l4 1 130 22-3-2z"/><path class="qfB" d="M3179 328l1 0 137-17-2 0z"/><path class="qeV" d="M3180 328l1 1 137-17-1-1z"/><path class="qcF" d="M4690 465l19 6 101 41-19-10z"/><path class="qeA" d="M3488 356l4 2 130 23-4-3z"/><path class="qhB" d="M3808 604l9 19 31 34-9-5z"/><path class="qeV" d="M3181 329l3 0 137-17-3 0z"/><path class="qdd" d="M4082 552l6-3 59-59-5 2z"/><path class="qeV" d="M3184 329l3 1 136-17-2-1z"/><path class="qgJ" d="M3495 359l4 1 130 26-3-3z"/><path class="qeV" d="M3187 330l3 0 136-16-3-1z"/><path class="qgJ" d="M3499 360l2 0 130 27-2-1z"/><path class="qfb" d="M3613 399l17 11 64 28-17-16z"/><path class="qeV" d="M3190 330l2 1 137-17-3 0z"/><path class="qeD" d="M3501 360l1 1 130 27-1-1z"/><path class="qdA" d="M4088 549l10-5 59-56-10 2z"/><path class="qeD" d="M3502 361l1 0 130 27-1 0zM3503 361l1 0 130 28-1-1z"/><path class="qcv" d="M3504 361l1 1 130 28-1-1z"/><path class="qeV" d="M3192 331l6 1 136-17-5-1z"/><path class="qhC" d="M3926 1051l4 5 24 120-4-5z"/><path class="qcv" d="M3505 362l2 0 131 30-3-2z"/><path class="qbq" d="M4709 471l20 8 101 42-20-9z"/><path class="qhD" d="M3915 1006l7 34 25 118-8-41z"/><path class="qhE" d="M3964 1147l11-59 25-109-11 49z"/><path class="qcv" d="M3507 362l3 1 130 30-2-1z"/><path class="qdr" d="M4387 439l38 5 110-26-38-9z"/><path class="qcv" d="M3510 363l2 1 131 31-3-2z"/><path class="qhF" d="M3930 1056l5-5 24 118-5 7z"/><path class="qeV" d="M3198 332l5 1 137-16-6-2z"/><path class="qdL" d="M3512 364l4 1 131 33-4-3z"/><path class="qeH" d="M4098 544l11-4 59-55-11 3z"/><path class="qhG" d="M3989 1028l11-49 24-109-10 39z"/><path class="qdp" d="M3630 410l17 13 65 33-18-18z"/><path class="qhH" d="M3907 964l8 42 24 111-7-49z"/><path class="qeV" d="M3203 333l3 0 136-16-2 0z"/><path class="qeE" d="M3516 365l5 2 130 35-4-4z"/><path class="qeV" d="M3206 333l2 0 137-15-3-1z"/><path class="qhI" d="M3935 1051l5-17 24 113-5 22z"/><path class="qX" d="M3521 367l4 1 130 37-4-3z"/><path class="qeV" d="M3208 333l3 1 137-15-3-1z"/><path class="qW" d="M4058 676l5-7 25-120-6 3z"/><path class="qfI" d="M3211 334l1 0 137-15-1 0z"/><path class="qhJ" d="M3899 923l8 41 25 104-8-49z"/><path class="qfI" d="M3212 334l2 0 136-15-1 0z"/><path class="qX" d="M3525 368l4 1 131 39-5-3z"/><path class="qcV" d="M4109 540l10-4 59-53-10 2z"/><path class="qfI" d="M3214 334l1 1 137-15-2-1z"/><path class="qdC" d="M4138 530l18-5 118-93-19-1z"/><path class="qfI" d="M3215 335l2 0 136-15-1 0zM3217 335l1 0 136-15-1 0zM3218 335l1 0 136-15-1 0z"/><path class="qeF" d="M3529 369l9 3 130 43-8-7z"/><path class="qfI" d="M3219 335l0 0 137-14-1-1zM3219 335l1 1 136-15 0 0zM3220 336l1 0 136-15-1 0z"/><path class="qF" d="M4063 669l10-16 25-109-10 5z"/><path class="qfI" d="M3221 336l0 0 137-15-1 0zM3221 336l1 0 137-15-1 0zM3222 336l1 0 137-14-1-1zM3223 336l2 0 136-14-1 0zM3225 336l1 1 137-15-2 0z"/><path class="qgQ" d="M3538 372l9 4 130 46-9-7z"/><path class="qhK" d="M3975 1088l10-59 25-98-10 48z"/><path class="qfI" d="M3226 337l1 0 137-14-1-1z"/><path class="qQ" d="M4000 979l10-48 25-98-11 37z"/><path class="qfI" d="M3227 337l3 0 137-14-3 0z"/><path class="qci" d="M4119 536l19-6 59-50-19 3z"/><path class="qhL" d="M3940 1034l11-46 24 100-11 59z"/><path class="qfI" d="M3230 337l3 1 136-14-2-1z"/><path class="qdr" d="M4425 444l39 5 109-21-38-10z"/><path class="qP" d="M4156 525l19-5 117-88-18 0z"/><path class="qfI" d="M3233 338l3 0 136-13-3-1z"/><path class="qgr" d="M4073 653l11-15 25-98-11 4z"/><path class="qek" d="M3236 338l5 1 137-13-6-1z"/><path class="qcK" d="M3693 462l1 2 64 51-1-2zM3694 464l2 1 64 52-2-2z"/><path class="qdE" d="M3696 465l1 2 64 52-1-2z"/><path class="qcI" d="M3697 467l2 1 64 54-2-3z"/><path class="qek" d="M3241 339l5 1 137-13-5-1z"/><path class="qdX" d="M4084 638l11-14 24-88-10 4z"/><path class="qek" d="M3246 340l5 1 137-12-5-2z"/><path class="qet" d="M4175 520l19-3 117-84-19-1z"/><path class="qek" d="M3251 341l5 1 137-12-5-1z"/><path class="qhG" d="M3985 1029l11-49 25-89-11 40z"/><path class="qek" d="M3256 342l6 1 136-12-5-1z"/><path class="qhM" d="M3951 988l10-46 24 87-10 59z"/><path class="qek" d="M3262 343l5 1 136-11-5-2z"/><path class="qdm" d="M4464 449l39 6 109-15-39-12z"/><path class="qbD" d="M4095 624l18-18 25-76-19 6z"/><path class="qek" d="M3267 344l2 1 137-12-3 0zM3269 345l3 0 136-11-2-1z"/><path class="qhG" d="M3890 892l8 28 24 120-7-34z"/><path class="qhN" d="M3902 929l4 4 24 123-4-5z"/><path class="qek" d="M3272 345l2 0 137-10-3-1zM3274 345l3 1 137-11-3 0z"/><path class="qhO" d="M3882 859l8 33 25 114-8-42z"/><path class="qgL" d="M3906 933l5-3 24 121-5 5z"/><path class="qek" d="M3277 346l3 0 136-10-2-1z"/><path class="qeu" d="M4194 517l38-5 117-76-38-3z"/><path class="qek" d="M3280 346l1 1 136-11-1 0z"/><path class="qhP" d="M3874 826l8 33 25 105-8-41z"/><path class="qek" d="M3281 347l1 0 137-10-2-1z"/><path class="qcv" d="M3547 376l17 6 66 28-17-11z"/><path class="qhQ" d="M3911 930l5-11 24 115-5 17z"/><path class="qdi" d="M3282 347l7 1 136-9-6-2z"/><path class="qhf" d="M3865 792l9 34 25 97-9-42z"/><path class="qhR" d="M3961 942l11-38 24 76-11 49z"/><path class="qhh" d="M3996 980l19-69 24-76-18 56z"/><path class="qbJ" d="M4113 606l19-15 24-66-18 5z"/><path class="qdi" d="M3289 348l3 1 136-10-3 0z"/><path class="qdm" d="M4503 455l19 3 109-13-19-5z"/><path class="qdi" d="M3292 349l3 0 136-9-3-1zM3295 349l3 1 137-9-4-1zM3298 350l3 0 137-8-3-1z"/><path class="qcU" d="M3685 457l5 5 44 41-6-7z"/><path class="qhS" d="M3916 919l10-33 25 102-11 46z"/><path class="qdi" d="M3301 350l7 2 136-8-6-2z"/><path class="qbr" d="M3690 462l6 5 43 44-5-8z"/><path class="qcP" d="M4522 458l20 3 109-9-20-7z"/><path class="qdc" d="M4132 591l19-11 24-60-19 5z"/><path class="qdC" d="M3696 467l9 9 43 47-9-12z"/><path class="qeG" d="M3581 389l12 5 66 38-12-9z"/><path class="qdi" d="M3308 352l7 1 136-7-7-2z"/><path class="qdE" d="M3705 476l9 9 43 51-9-13z"/><path class="qcQ" d="M4232 512l38-3 117-70-38-3z"/><path class="qeI" d="M3593 394l6 3 66 40-6-5z"/><path class="qff" d="M3315 353l7 1 137-6-8-2z"/><path class="qhh" d="M3972 904l18-52 25 59-19 69z"/><path class="qbq" d="M3714 485l9 10 43 55-9-14z"/><path class="qhT" d="M4107 658l19-18 25-60-19 11z"/><path class="qcx" d="M3599 397l6 3 66 42-6-5z"/><path class="qbp" d="M4542 461l20 4 108-7-19-6z"/><path class="qcV" d="M3723 495l9 10 43 60-9-15z"/><path class="qff" d="M3322 354l8 2 136-6-7-2z"/><path class="qeK" d="M3605 400l7 3 66 45-7-6z"/><path class="qhU" d="M3926 886l11-32 24 88-10 46z"/><path class="qbQ" d="M4145 595l18-11 31-67-19 3z"/><path class="qeN" d="M3612 403l6 3 66 47-6-5z"/><path class="qff" d="M3330 356l7 1 136-5-7-2z"/><path class="qeN" d="M3618 406l6 3 66 50-6-6z"/><path class="qdj" d="M4562 465l20 3 108-3-20-7z"/><path class="qff" d="M3337 357l7 2 137-5-8-2z"/><path class="qeO" d="M3624 409l3 1 66 52-3-3zM3627 410l1 1 66 53-1-2z"/><path class="qfF" d="M3628 411l2 1 66 53-2-1z"/><path class="qfG" d="M3630 412l1 0 66 55-1-2z"/><path class="qhj" d="M3344 359l4 0 136-4-3-1z"/><path class="qfG" d="M3631 412l2 1 66 55-2-1z"/><path class="qdW" d="M3776 568l18 31 26 58-18-39z"/><path class="qdQ" d="M3633 413l2 2 66 56-2-3z"/><path class="qew" d="M3348 359l3 1 137-4-4-1z"/><path class="qhV" d="M3873 796l3 8 26 125-4-9z"/><path class="qeq" d="M4114 670l19-18 30-68-18 11z"/><path class="qfH" d="M3635 415l6 2 66 60-6-6z"/><path class="qgi" d="M3857 751l8 24 25 117-8-33z"/><path class="qhW" d="M3937 854l10-27 25 77-11 38z"/><path class="qhX" d="M3876 804l4 4 26 125-4-4z"/><path class="qeh" d="M4270 509l39-1 116-64-38-5z"/><path class="qcX" d="M3849 726l8 25 25 108-8-33z"/><path class="qew" d="M3351 360l4 1 137-3-4-2z"/><path class="qhY" d="M3840 701l9 25 25 100-9-34z"/><path class="qcG" d="M3813 634l9 21 25 76-9-28z"/><path class="qhZ" d="M3831 676l9 25 25 91-9-34z"/><path class="qhX" d="M3880 808l6-1 25 123-5 3z"/><path class="qM" d="M3822 655l9 21 25 82-9-27z"/><path class="qew" d="M3355 361l4 0 136-2-3-1z"/><path class="qdj" d="M4582 468l20 4 107-1-19-6z"/><path class="qia" d="M3990 852l19-37 24 45-18 51z"/><path class="qew" d="M3359 361l3 1 137-2-4-1z"/><path class="qbq" d="M3721 490l18 19 32 53-18-27z"/><path class="qO" d="M4163 584l38-15 31-57-38 5z"/><path class="qib" d="M3886 807l5-6 25 118-5 11z"/><path class="qew" d="M3362 362l2 0 137-2-2 0zM3364 362l1 1 137-2-1-1zM3365 363l1 0 137-2-1 0zM3366 363l1 0 137-2-1 0zM3367 363l2 0 136-1-1-1zM3369 363l2 1 136-2-2 0zM3371 364l2 0 137-1-3-1z"/><path class="qdA" d="M3739 509l18 22 32 62-18-31z"/><path class="qeO" d="M3641 417l5 3 44 42-5-5z"/><path class="qdh" d="M4602 472l20 4 107 3-20-8z"/><path class="qeO" d="M3646 420l6 3 44 44-6-5z"/><path class="qge" d="M3891 801l10-19 25 104-10 33z"/><path class="qbY" d="M3376 365l4 0 136 0-4-1z"/><path class="qic" d="M3947 827l19-35 24 60-18 52z"/><path class="qdQ" d="M3652 423l9 5 44 48-9-9z"/><path class="qeU" d="M4133 652l38-26 30-57-38 15z"/><path class="qbY" d="M3384 366l5 1 136 1-4-1z"/><path class="qdh" d="M4309 508l39 0 116-59-39-5z"/><path class="qeP" d="M3661 428l9 5 44 52-9-9z"/><path class="qbh" d="M4003 803l19-25 30 43-19 39z"/><path class="qdS" d="M3670 433l9 6 44 56-9-10z"/><path class="qdo" d="M3393 368l9 2 136 2-9-3z"/><path class="qid" d="M3901 782l11-19 25 91-11 32z"/><path class="qdA" d="M3750 518l18 22 26 59-18-31z"/><path class="qhm" d="M3679 439l9 5 44 61-9-10z"/><path class="qdo" d="M3402 370l8 1 137 5-9-4z"/><path class="qcy" d="M4102 720l38-36 31-58-38 26z"/><path class="qcV" d="M4191 588l39-13 40-66-38 3z"/><path class="qbJ" d="M3768 540l18 25 27 69-19-35z"/><path class="qie" d="M3966 792l18-23 25 46-19 37z"/><path class="qdg" d="M3786 565l10 14 26 76-9-21z"/><path class="qcW" d="M3912 763l10-14 25 78-10 27z"/><path class="qdo" d="M3410 371l18 4 136 7-17-6z"/><path class="qif" d="M3796 579l9 13 26 84-9-21z"/><path class="qgq" d="M3805 592l9 17 26 92-9-25z"/><path class="qbp" d="M3688 444l18 12 33 53-18-19z"/><path class="qfo" d="M3814 609l9 16 26 101-9-25z"/><path class="qdj" d="M4348 508l39 2 116-55-39-6z"/><path class="qcJ" d="M3823 625l8 16 26 110-8-25z"/><path class="qig" d="M3831 641l8 15 26 119-8-24z"/><path class="qcD" d="M3839 656l8 14 26 126-8-21z"/><path class="qih" d="M3847 670l4 6 25 128-3-8z"/><path class="qfc" d="M3851 676l4 4 25 128-4-4z"/><path class="qfs" d="M3428 375l17 3 136 11-17-7z"/><path class="qgK" d="M4011 764l19-14 41 39-19 32z"/><path class="qfa" d="M3855 680l5 2 26 125-6 1z"/><path class="qez" d="M3706 456l18 12 33 63-18-22z"/><path class="qer" d="M3922 749l19-18 25 61-19 35z"/><path class="qbt" d="M4150 665l39-23 41-67-39 13z"/><path class="qgR" d="M3860 682l5-1 26 120-5 6z"/><path class="qel" d="M4230 575l38-8 41-59-39 1z"/><path class="qdu" d="M3445 378l12 2 136 14-12-5z"/><path class="qdj" d="M4387 510l20 1 115-53-19-3z"/><path class="qfd" d="M3865 681l11-5 25 106-10 19z"/><path class="qcY" d="M3724 468l18 12 26 60-18-22z"/><path class="qcg" d="M3457 380l6 2 136 15-6-3z"/><path class="qce" d="M3972 745l19-10 31 43-19 25z"/><path class="qcg" d="M3463 382l6 1 136 17-6-3z"/><path class="qfq" d="M3941 731l18-9 25 47-18 23z"/><path class="qr" d="M3876 676l10-5 26 92-11 19z"/><path class="qP" d="M3742 480l18 14 26 71-18-25z"/><path class="qcg" d="M3469 383l6 1 137 19-7-3z"/><path class="qbp" d="M4407 511l20 1 115-51-20-3z"/><path class="qbW" d="M4109 742l39-33 41-67-39 23z"/><path class="qcg" d="M3475 384l7 1 136 21-6-3z"/><path class="qcK" d="M3760 494l9 7 27 78-10-14z"/><path class="qfu" d="M3482 385l6 2 136 22-6-3z"/><path class="qii" d="M3886 671l11-2 25 80-10 14z"/><path class="qel" d="M3769 501l9 6 27 85-9-13z"/><path class="qbI" d="M4189 642l39-17 40-58-38 8z"/><path class="qdB" d="M3488 387l3 0 136 23-3-1zM3491 387l1 0 136 24-1-1zM3492 387l2 1 136 24-2-1z"/><path class="qem" d="M3778 507l9 8 27 94-9-17z"/><path class="qbp" d="M4427 512l20 1 115-48-20-4z"/><path class="qdB" d="M3494 388l1 0 136 24-1 0zM3495 388l2 0 136 25-2-1zM3497 388l2 1 136 26-2-2z"/><path class="qij" d="M3787 515l10 7 26 103-9-16z"/><path class="qbq" d="M4248 596l39-9 61-79-39 0z"/><path class="qgx" d="M3499 389l6 1 136 27-6-2z"/><path class="qik" d="M3797 522l8 6 26 113-8-16z"/><path class="qee" d="M3897 669l18 1 26 61-19 18z"/><path class="qgx" d="M3505 390l5 1 136 29-5-3z"/><path class="qil" d="M3805 528l7 7 27 121-8-15z"/><path class="qbp" d="M4447 513l20 2 115-47-20-3z"/><path class="qfv" d="M3510 391l6 1 136 31-6-3z"/><path class="qim" d="M3812 535l8 7 27 128-8-14z"/><path class="qK" d="M3820 542l4 3 27 131-4-6z"/><path class="qr" d="M3970 706l19 4 41 40-19 14z"/><path class="qin" d="M3824 545l4 4 27 131-4-4z"/><path class="qfv" d="M3516 392l9 2 136 34-9-5z"/><path class="qbE" d="M3828 549l6 4 26 129-5-2z"/><path class="qbW" d="M3915 670l19 5 25 47-18 9z"/><path class="qgq" d="M4148 709l38-24 42-60-39 17z"/><path class="qbv" d="M3940 686l19 6 32 43-19 10z"/><path class="qbC" d="M3834 553l5 5 26 123-5 1z"/><path class="qcp" d="M3525 394l9 2 136 37-9-5z"/><path class="qcP" d="M4467 515l20 1 115-44-20-4z"/><path class="qbC" d="M3839 558l11 10 26 108-11 5z"/><path class="qfx" d="M3534 396l9 2 136 41-9-6z"/><path class="qcK" d="M4287 587l40-6 60-71-39-2z"/><path class="qU" d="M3543 398l9 2 136 44-9-5z"/><path class="qbD" d="M3850 568l10 10 26 93-10 5z"/><path class="qcP" d="M4487 516l21 2 114-42-20-4z"/><path class="qdZ" d="M3675 447l18 9 67 38-18-14z"/><path class="qbD" d="M3860 578l11 10 26 81-11 2z"/><path class="qbx" d="M4186 685l40-18 61-80-39 9z"/><path class="qcd" d="M3871 588l19 19 25 63-18-1z"/><path class="qdQ" d="M3693 456l19 9 66 42-18-13z"/><path class="qcM" d="M4327 581l20-2 60-68-20-1z"/><path class="qbV" d="M4086 739l38 19 62-73-38 24z"/><path class="qbt" d="M3890 607l18 19 26 49-19-5z"/><path class="qcE" d="M3712 465l18 10 67 47-19-15z"/><path class="qcN" d="M4347 579l20-1 60-66-20-1z"/><path class="qby" d="M3908 626l19 21 32 45-19-6z"/><path class="qfn" d="M3927 647l19 22 43 41-19-4z"/><path class="qio" d="M3730 475l16 9 66 51-15-13z"/><path class="qdq" d="M4226 667l39-13 62-73-40 6z"/><path class="qcg" d="M3552 400l18 5 69 25-18-7z"/><path class="qip" d="M3746 484l8 4 66 54-8-7z"/><path class="qP" d="M4367 578l20-1 60-64-20-1z"/><path class="qbr" d="M3795 519l11 7 44 42-11-10z"/><path class="qbc" d="M4145 733l39 12 42-78-40 18z"/><path class="qiq" d="M3754 488l4 2 66 55-4-3z"/><path class="qht" d="M3758 490l4 3 66 56-4-4z"/><path class="qdC" d="M3806 526l10 8 44 44-10-10z"/><path class="qez" d="M3762 493l5 3 67 57-6-4z"/><path class="qdB" d="M3570 405l18 4 69 30-18-9z"/><path class="qez" d="M3767 496l6 3 66 59-5-5z"/><path class="qcK" d="M3816 534l11 8 44 46-11-10z"/><path class="qbr" d="M4387 577l20-1 60-61-20-2z"/><path class="qdc" d="M4265 654l20-5 62-70-20 2z"/><path class="qel" d="M3827 542l19 14 44 51-19-19z"/><path class="qgx" d="M3588 409l18 4 69 34-18-8z"/><path class="qey" d="M4194 726l40 11 31-83-39 13z"/><path class="qcU" d="M4407 576l21-1 59-59-20-1z"/><path class="qgu" d="M4103 782l39 42 42-79-39-12z"/><path class="qcV" d="M3846 556l19 15 43 55-18-19z"/><path class="qbo" d="M4285 649l21-4 61-67-20 1z"/><path class="qcp" d="M3606 413l19 5 68 38-18-9z"/><path class="qdd" d="M3865 571l19 16 43 60-19-21z"/><path class="qcU" d="M4428 575l20 0 60-57-21-2z"/><path class="qr" d="M4163 784l39 37 32-84-40-11z"/><path class="qfx" d="M3625 418l18 4 69 43-19-9z"/><path class="qeq" d="M4240 721l20 6 25-78-20 5z"/><path class="qdb" d="M3884 587l19 17 43 65-19-22z"/><path class="qdA" d="M4306 645l20-4 61-64-20 1z"/><path class="qeZ" d="M3914 620l38 39 32 58-38-48z"/><path class="qir" d="M4240 1414l9 61 27-166-9-50z"/><path class="qdJ" d="M3750 479l11 5 45 42-11-7z"/><path class="qbT" d="M4214 787l20 17 26-77-20-6z"/><path class="qes" d="M4131 843l39 61 32-83-39-37z"/><path class="qU" d="M3643 422l18 5 69 48-18-10z"/><path class="qcB" d="M4260 727l20 8 26-90-21 4z"/><path class="qfb" d="M3761 484l10 5 45 45-10-8z"/><path class="qis" d="M4231 1352l9 62 27-155-9-49z"/><path class="qit" d="M4189 854l19 28 26-78-20-17z"/><path class="qeH" d="M4326 641l20-3 61-62-20 1z"/><path class="qr" d="M4234 804l20 21 26-90-20-8z"/><path class="qdS" d="M3771 489l11 6 45 47-11-8z"/><path class="qiu" d="M4222 1300l9 52 27-142-9-42z"/><path class="qiv" d="M4267 1259l9 50 28-167-10-38z"/><path class="qfz" d="M3661 427l16 4 69 53-16-9z"/><path class="qfp" d="M3952 659l38 44 32 68-38-54z"/><path class="qiw" d="M4208 882l20 34 26-91-20-21z"/><path class="qx" d="M4163 921l19 39 26-78-19-28z"/><path class="qix" d="M4213 1248l9 52 27-132-9-42z"/><path class="qiy" d="M4258 1210l9 49 27-155-9-37z"/><path class="qft" d="M4280 735l19 11 27-105-20 4z"/><path class="qcD" d="M4254 825l19 26 26-105-19-11z"/><path class="qiz" d="M4182 960l20 46 26-90-20-34z"/><path class="qhl" d="M3782 495l19 9 45 52-19-14z"/><path class="qiA" d="M4249 1168l9 42 27-143-9-31z"/><path class="qiB" d="M4204 1206l9 42 27-122-10-33z"/><path class="qeA" d="M3677 431l9 2 68 55-8-4z"/><path class="qbh" d="M4228 916l19 39 26-104-19-26z"/><path class="qcV" d="M4346 638l21-3 61-60-21 1z"/><path class="qgV" d="M4240 1126l9 42 27-132-10-32z"/><path class="qhM" d="M4194 1165l10 41 26-113-9-33z"/><path class="qiC" d="M4202 1006l19 54 26-105-19-39z"/><path class="qiD" d="M4230 1093l10 33 26-122-10-24z"/><path class="qQ" d="M4221 1060l9 33 26-113-9-25z"/><path class="qcZ" d="M3997 716l38 52 25 64-38-61z"/><path class="qiE" d="M4175 1097l19 68 27-105-19-54z"/><path class="qiF" d="M4156 1039l19 58 27-91-20-46z"/><path class="qiG" d="M4247 955l9 25 27-113-10-16z"/><path class="qiH" d="M4218 1254l9 51 22 170-9-61z"/><path class="qea" d="M4273 851l10 16 26-114-10-7z"/><path class="qiI" d="M4256 980l10 24 27-122-10-15z"/><path class="qft" d="M4299 746l10 7 27-113-10 1z"/><path class="qeD" d="M3690 434l4 1 68 58-4-3z"/><path class="qhO" d="M4294 1104l10 38 27-169-9-25z"/><path class="qhX" d="M4266 1004l10 32 26-133-9-21z"/><path class="qhh" d="M4285 1067l9 37 28-156-10-24z"/><path class="qhi" d="M4276 1036l9 31 27-143-10-21z"/><path class="qH" d="M4283 867l10 15 26-122-10-7z"/><path class="qeD" d="M3694 435l5 2 68 59-5-3z"/><path class="qdh" d="M3801 504l19 11 45 56-19-15z"/><path class="qiJ" d="M4209 1203l9 51 22 160-9-62z"/><path class="qft" d="M4309 753l10 7 27-122-10 2z"/><path class="qcv" d="M3699 437l5 1 69 61-6-3z"/><path class="qiK" d="M4293 882l9 21 27-133-10-10z"/><path class="qca" d="M4367 635l20-2 61-58-20 0z"/><path class="qiK" d="M4035 768l39 60 25 75-39-71z"/><path class="qhY" d="M4302 903l10 21 27-144-10-10z"/><path class="qiL" d="M4199 1159l10 44 22 149-9-52z"/><path class="qgD" d="M4319 760l10 10 27-133-10 1z"/><path class="qcT" d="M4312 924l10 24 27-156-10-12z"/><path class="qez" d="M3820 515l19 10 45 62-19-16z"/><path class="qbj" d="M4322 948l9 25 28-169-10-12z"/><path class="qbZ" d="M3881 570l38 30 33 59-38-39z"/><path class="qgH" d="M4190 1116l9 43 23 141-9-52z"/><path class="qeq" d="M4329 770l10 10 28-145-11 2z"/><path class="qiM" d="M4074 828l39 72 24 88-38-85z"/><path class="qiN" d="M4180 1082l10 34 23 132-9-42z"/><path class="qfV" d="M4171 1047l9 35 24 124-10-41z"/><path class="qhx" d="M4339 780l10 12 28-158-10 1z"/><path class="qcU" d="M3839 525l19 11 45 68-19-17z"/><path class="qhf" d="M4113 900l19 42 24 97-19-51z"/><path class="qfz" d="M3704 438l11 3 46 43-11-5z"/><path class="qgO" d="M4152 991l19 56 23 118-19-68z"/><path class="qhh" d="M4132 942l20 49 23 106-19-58z"/><path class="qgq" d="M4349 792l10 12 28-171-10 1z"/><path class="qfz" d="M3715 441l11 3 45 45-10-5z"/><path class="qbL" d="M3919 600l39 33 32 70-38-44z"/><path class="qF" d="M3971 661l39 43 25 64-38-52z"/><path class="qiO" d="M3726 444l10 2 46 49-11-6z"/><path class="qgJ" d="M3736 446l19 6 46 52-19-9z"/><path class="qcJ" d="M4010 704l39 48 25 76-39-60z"/><path class="qcv" d="M3755 452l19 5 46 58-19-11z"/><path class="qeh" d="M3847 519l39 21 33 60-38-30z"/><path class="qcz" d="M4049 752l39 58 25 90-39-72z"/><path class="qiP" d="M4195 1089l10 41 22 175-9-51z"/><path class="qeE" d="M3774 457l20 5 45 63-19-10z"/><path class="qiQ" d="M4186 1049l9 40 23 165-9-51z"/><path class="qiR" d="M4088 810l20 34 24 98-19-42z"/><path class="qhG" d="M4176 1015l10 34 23 154-10-44z"/><path class="qiS" d="M4108 844l19 38 25 109-20-49z"/><path class="qhd" d="M4166 982l10 33 23 144-9-43z"/><path class="qbQ" d="M3945 605l39 33 26 66-39-43z"/><path class="qhb" d="M4157 954l9 28 24 134-10-34z"/><path class="qiT" d="M4127 882l20 45 24 120-19-56z"/><path class="qiU" d="M4147 927l10 27 23 128-9-35z"/><path class="qeF" d="M3794 462l19 6 45 68-19-11z"/><path class="qbr" d="M3886 540l39 23 33 70-39-33z"/><path class="qcd" d="M3984 638l39 37 26 77-39-48z"/><path class="qX" d="M3813 468l39 11 34 61-39-21z"/><path class="qgq" d="M4023 675l40 43 25 92-39-58z"/><path class="qcU" d="M3918 549l39 22 27 67-39-33z"/><path class="qbW" d="M4063 718l20 26 25 100-20-34z"/><path class="qiV" d="M4083 744l20 28 24 110-19-38z"/><path class="qeI" d="M3852 479l39 12 34 72-39-23z"/><path class="qea" d="M4103 772l20 33 24 122-20-45z"/><path class="qeY" d="M4172 921l10 28 23 181-10-41z"/><path class="qiW" d="M4123 805l9 19 25 130-10-27z"/><path class="qiX" d="M4162 892l10 29 23 168-9-40z"/><path class="qcT" d="M4132 824l10 20 24 138-9-28z"/><path class="qiY" d="M4152 868l10 24 24 157-10-34z"/><path class="qbf" d="M4142 844l10 24 24 147-10-33z"/><path class="qcH" d="M3957 571l40 25 26 79-39-37z"/><path class="qdG" d="M3997 596l40 29 26 93-40-43z"/><path class="qeJ" d="M3891 491l39 12 27 68-39-22z"/><path class="qil" d="M4037 625l20 16 26 103-20-26z"/><path class="qK" d="M4057 641l20 18 26 113-20-28z"/><path class="qeN" d="M3930 503l40 13 27 80-40-25z"/><path class="qbt" d="M4077 659l21 20 25 126-20-33z"/><path class="qgr" d="M4098 679l10 12 24 133-9-19z"/><path class="qgq" d="M4108 691l10 12 24 141-10-20z"/><path class="qen" d="M4118 703l10 14 24 151-10-24z"/><path class="qiZ" d="M4128 717l10 14 24 161-10-24z"/><path class="qja" d="M4138 731l10 16 24 174-10-29z"/><path class="qfH" d="M3970 516l41 14 26 95-40-29z"/><path class="qjb" d="M4148 747l10 17 24 185-10-28z"/><path class="qjc" d="M4011 530l20 7 26 104-20-16z"/><path class="qjd" d="M4031 537l20 7 26 115-20-18z"/><path class="qje" d="M4051 544l21 7 26 128-21-20z"/><path class="qjf" d="M4072 551l10 4 26 136-10-12z"/><path class="qjg" d="M4082 555l11 3 25 145-10-12z"/><path class="qjh" d="M4093 558l10 4 25 155-10-14z"/><path class="qji" d="M4103 562l10 4 25 165-10-14z"/><path class="qcK" d="M4113 566l11 3 24 178-10-16z"/><path class="qel" d="M4124 569l10 4 24 191-10-17z"/></g></g>
<path d="M304.5 166.1L298.6 29.5" stroke="#707070" stroke-width="1.1" fill="none"/>
<path d="M298.6 29.5h-1.8M299.2 44.0h-1.8M299.8 58.3h-1.8M300.5 72.4h-1.8M301.1 86.3h-1.8M301.6 100.1h-1.8M302.2 113.6h-1.8M302.8 127.0h-1.8M303.4 140.2h-1.8M303.9 153.3h-1.8M304.5 166.1h-1.8" stroke="#808080" stroke-width="0.8"/>
<g font-family="'Liberation Sans', Arial, sans-serif" font-weight="bold" font-size="6.0" fill="#222" text-anchor="end"><text x="296.0" y="32.1">0</text><text x="296.6" y="46.6">-5</text><text x="297.2" y="60.9">-10</text><text x="297.9" y="75.0">-15</text><text x="298.5" y="88.9">-20</text><text x="299.0" y="102.6">-25</text><text x="299.6" y="116.2">-30</text><text x="300.2" y="129.6">-35</text><text x="300.8" y="142.8">-40</text><text x="301.3" y="155.8">-45</text><text x="301.9" y="168.7">-50</text></g>
<text transform="translate(283.8,104.2) rotate(90)" text-anchor="middle" font-family="'Liberation Sans', Arial, sans-serif" font-weight="bold" font-size="8.1" fill="#222">Reflection loss (dB)</text>
<g font-family="'Liberation Sans', Arial, sans-serif" font-weight="bold" font-size="4.0" fill="#2a2a2a" text-anchor="middle"><text transform="translate(298.5,169.4) rotate(22) skewX(-25)">2</text><text transform="translate(310.3,173.8) rotate(22) skewX(-25)">4</text><text transform="translate(322.5,178.4) rotate(22) skewX(-25)">6</text><text transform="translate(335.2,183.1) rotate(22) skewX(-25)">8</text><text transform="translate(348.3,188.0) rotate(22) skewX(-25)">10</text><text transform="translate(361.9,193.0) rotate(22) skewX(-25)">12</text><text transform="translate(376.0,198.3) rotate(22) skewX(-25)">14</text><text transform="translate(390.7,203.8) rotate(22) skewX(-25)">16</text><text transform="translate(406.0,209.5) rotate(22) skewX(-25)">18</text><text transform="translate(421.6,210.5) rotate(-27)">1.0</text><text transform="translate(433.8,203.9) rotate(-27)">1.5</text><text transform="translate(445.4,197.5) rotate(-27)">2.0</text><text transform="translate(456.5,191.5) rotate(-27)">2.5</text><text transform="translate(467.1,185.7) rotate(-27)">3.0</text><text transform="translate(477.3,180.1) rotate(-27)">3.5</text><text transform="translate(487.1,174.8) rotate(-27)">4.0</text><text transform="translate(496.5,169.7) rotate(-27)">4.5</text><text transform="translate(505.5,164.8) rotate(-27)">5.0</text></g>
<text transform="translate(340.2,191.8) rotate(20.1) skewX(-25)" text-anchor="middle" font-family="'Liberation Sans', Arial, sans-serif" font-weight="bold" font-size="5.9" fill="#2a2a2a">Frequency (GHz)</text>
<text transform="translate(475.7,189.6) rotate(-27.8)" text-anchor="middle" font-family="'Liberation Sans', Arial, sans-serif" font-weight="bold" font-size="5.8" fill="#222">Thickness (mm)</text>
<text x="277.0" y="20.6" font-family="'Liberation Sans', Arial, sans-serif" font-weight="bold" font-size="19.5" fill="#111">(b)</text>
<defs><linearGradient id="cbb" x1="0" y1="0" x2="0" y2="1"><stop offset="0.00" stop-color="#0a5c0a"/><stop offset="0.06" stop-color="#1e7414"/><stop offset="0.13" stop-color="#37821e"/><stop offset="0.19" stop-color="#529628"/><stop offset="0.26" stop-color="#70a832"/><stop offset="0.32" stop-color="#96be46"/><stop offset="0.38" stop-color="#b9d255"/><stop offset="0.45" stop-color="#d7e664"/><stop offset="0.51" stop-color="#f8f26c"/><stop offset="0.57" stop-color="#fad246"/><stop offset="0.64" stop-color="#fab932"/><stop offset="0.70" stop-color="#f8a023"/><stop offset="0.77" stop-color="#f58714"/><stop offset="0.83" stop-color="#dc6e0a"/><stop offset="0.89" stop-color="#be5a0a"/><stop offset="0.95" stop-color="#96460a"/><stop offset="1.00" stop-color="#64320a"/></linearGradient></defs>
<rect x="513.0" y="24.1" width="9.7" height="125.5" fill="url(#cbb)"/>
<path d="M522.7 24.1h1.6M522.7 36.7h1.6M522.7 49.2h1.6M522.7 61.8h1.6M522.7 74.3h1.6M522.7 86.8h1.6M522.7 99.4h1.6M522.7 111.9h1.6M522.7 124.5h1.6M522.7 137.1h1.6M522.7 149.6h1.6" stroke="#666" stroke-width="0.6"/>
<g font-family="'Liberation Sans', Arial, sans-serif" font-weight="bold" font-size="6.4" fill="#333"><text x="527.2" y="26.4">0.00</text><text x="527.2" y="39.0">-5.00</text><text x="527.2" y="51.5">-10.00</text><text x="527.2" y="64.1">-15.00</text><text x="527.2" y="76.6">-20.00</text><text x="527.2" y="89.2">-25.00</text><text x="527.2" y="101.7">-30.00</text><text x="527.2" y="114.3">-35.00</text><text x="527.2" y="126.8">-40.00</text><text x="527.2" y="139.4">-45.00</text><text x="527.2" y="151.9">-50.00</text></g>
<polygon points="308.0,377.1 394.5,344.9 394.8,229.6 302.9,244.7" fill="#fff"/>
<polygon points="394.5,344.9 494.8,372.6 501.4,242.2 394.8,229.6" fill="#fff"/>
<path d="M307.5 364.5L394.5 333.9M394.5 333.9L495.4 360.2M307.0 351.9L394.6 322.8M394.6 322.8L496.0 347.7M306.5 339.1L394.6 311.6M394.6 311.6L496.7 335.1M306.0 326.1L394.6 300.3M394.6 300.3L497.3 322.3M305.5 312.9L394.7 288.8M394.7 288.8L498.0 309.4M305.0 299.6L394.7 277.2M394.7 277.2L498.6 296.3M304.5 286.2L394.7 265.5M394.7 265.5L499.3 283.0M304.0 272.5L394.8 253.7M394.8 253.7L500.0 269.6M303.4 258.7L394.8 241.7M394.8 241.7L500.7 256.0M302.9 244.7L394.8 229.6M394.8 229.6L501.4 242.2M320.2 372.5L316.0 242.6M332.0 368.1L328.6 240.5M343.4 363.9L340.7 238.5M354.4 359.8L352.4 236.6M364.9 355.9L363.6 234.8M375.1 352.1L374.4 233.0M385.0 348.4L384.8 231.3M394.5 344.9L394.8 229.6M394.5 344.9L394.8 229.6M405.7 348.0L406.6 231.0M417.2 351.2L418.8 232.5M429.1 354.5L431.5 234.0M441.4 357.9L444.5 235.5M454.1 361.4L458.0 237.1M467.2 365.0L471.9 238.7M480.7 368.7L486.4 240.4" stroke="#e8e8e8" stroke-width="0.6" fill="none"/>
<path d="M302.9 244.7L394.8 229.6M394.8 229.6L501.4 242.2M501.4 242.2L494.8 372.6" stroke="#cfcfcf" stroke-width="0.8" fill="none"/>
<clipPath id="fcd"><polygon points="308.0,377.1 394.5,344.9 494.8,372.6 412.4,415.0"/></clipPath>
<filter id="fbd" x="-5%" y="-5%" width="110%" height="110%"><feGaussianBlur stdDeviation="2.0"/></filter>
<filter id="fsd" x="-50%" y="-50%" width="200%" height="200%"><feGaussianBlur stdDeviation="1.0"/></filter>
<g clip-path="url(#fcd)"><g filter="url(#fbd)"><polygon points="308.0,377.1 394.5,344.9 494.8,372.6 412.4,415.0" fill="#0f620c"/><path d="M4948 3726l-821 422-37-13-212-92-121-67-124-116-15-38 11-37-7-39 48-78 52-48 72-51 76-46 116-62 962 265z" fill="#247816" transform="scale(.1)"/><path d="M4157 3508l-18 24-29 26-11 24-28 33-10 69 20 34-5 47 37 41 23 61 92 56 103 98 24 10-206 106-50-12-85-54-72-54-41-48-87-50-31-37-8-48-33-45 17-45-5-32 29-39 15-32 32-27 20-23 61-46 74-48 45-24 127 35z" fill="#38831e" transform="scale(.1)"/><path d="M4910 3715l20 20-212 109-84-115-23-96 299 82z" fill="#38831e" transform="scale(.1)"/></g><g filter="url(#fsd)"><path d="M4023 4012l278 14-55 64-141 36z" fill="#8ab740" opacity="0.5" transform="scale(.1)"/><path d="M4107 4041l167-1-28 50-112 21z" fill="#cbde5e" opacity="0.8" transform="scale(.1)"/><path d="M4153 4057l98-5-5 38-88 9z" fill="#f9e35a" opacity="1.0" transform="scale(.1)"/><path d="M4182 4067l46-4-1 20-45 4z" fill="#f8a023" opacity="1.0" transform="scale(.1)"/><path d="M3857 3862l209-4 51 91-242-4z" fill="#8ab740" opacity="0.5" transform="scale(.1)"/><path d="M3911 3880l128-10-2 52-134 10z" fill="#cbde5e" opacity="0.8" transform="scale(.1)"/><path d="M3939 3889l78-9-13 31-78 10z" fill="#f9e35a" opacity="1.0" transform="scale(.1)"/><path d="M3956 3895l39-5-8 16-38 5z" fill="#f8a023" opacity="1.0" transform="scale(.1)"/><path d="M3814 3762l176-11 12 72-197 7z" fill="#8ab740" opacity="0.5" transform="scale(.1)"/><path d="M3853 3775l111-13-17 43-115 13z" fill="#cbde5e" opacity="0.8" transform="scale(.1)"/><path d="M3874 3782l68-11-20 26-68 12z" fill="#f9e35a" opacity="1.0" transform="scale(.1)"/><path d="M3888 3786l28-4-7 11-28 4z" fill="#f8a023" opacity="1.0" transform="scale(.1)"/><path d="M3827 3687l150-17-7 62-172 12z" fill="#8ab740" opacity="0.5" transform="scale(.1)"/><path d="M3856 3696l96-16-27 38-101 15z" fill="#cbde5e" opacity="0.8" transform="scale(.1)"/><path d="M3872 3701l59-12-25 23-60 12z" fill="#f9e35a" opacity="1.0" transform="scale(.1)"/><path d="M3864 3624l137-19-25 53-148 17z" fill="#8ab740" opacity="0.5" transform="scale(.1)"/><path d="M3888 3631l89-16-34 33-90 17z" fill="#cbde5e" opacity="0.8" transform="scale(.1)"/><path d="M3901 3635l56-12-27 21-56 13z" fill="#f9e35a" opacity="1.0" transform="scale(.1)"/><path d="M3919 3570l123-20-31 47-136 19z" fill="#8ab740" opacity="0.5" transform="scale(.1)"/><path d="M3937 3576l82-17-36 30-84 17z" fill="#cbde5e" opacity="0.8" transform="scale(.1)"/><path d="M3948 3579l51-12-27 19-52 12z" fill="#f9e35a" opacity="1.0" transform="scale(.1)"/><path d="M3981 3522l115-21-38 43-123 20z" fill="#8ab740" opacity="0.5" transform="scale(.1)"/><path d="M3998 3527l76-17-38 27-78 18z" fill="#cbde5e" opacity="0.8" transform="scale(.1)"/><path d="M4007 3529l46-11-26 17-48 12z" fill="#f9e35a" opacity="1.0" transform="scale(.1)"/><path d="M4049 3478l31 8 35 10-115 21z" fill="#8ab740" opacity="0.5" transform="scale(.1)"/><path d="M4063 3482l17 4 16 5-73 17z" fill="#cbde5e" opacity="0.8" transform="scale(.1)"/><path d="M4071 3484l9 2 8 2-40 10z" fill="#f9e35a" opacity="1.0" transform="scale(.1)"/></g></g>
<path d="M319.4 381.2L405.7 348.0M331.2 385.5L417.2 351.2M343.5 390.0L429.1 354.5M356.3 394.6L441.4 357.9M369.5 399.4L454.1 361.4M383.2 404.4L467.2 365.0M397.5 409.6L480.7 368.7M320.2 372.5L424.3 408.8M332.0 368.1L435.6 403.0M343.4 363.9L446.5 397.4M354.4 359.8L457.0 392.0M364.9 355.9L467.0 386.9M375.1 352.1L476.6 381.9M385.0 348.4L485.9 377.1" stroke="#fff" stroke-opacity="0.1" stroke-width="0.5" fill="none"/>
<polygon points="308.0,377.1 394.5,344.9 494.8,372.6 412.4,415.0" fill="none" stroke="#0c3a08" stroke-width="0.8"/>
<filter id="sbd" x="-2%" y="-2%" width="104%" height="104%"><feGaussianBlur stdDeviation="0.6"/></filter>
<g filter="url(#sbd)"><g class="sf" transform="scale(.1)"><path class="qbU" d="M4025 2530l7 48 32 43-7-58z"/><path class="qiD" d="M4028 2756l1 2 19 70-1 0z"/><path class="qie" d="M4092 2691l2-2 20-60-2 13z"/><path class="qcm" d="M4094 2689l2-1 21-72-3 13z"/><path class="qde" d="M4001 2479l7 34 49 50-7-46z"/><path class="qgd" d="M3848 2322l29 14 100-7-29-20z"/><path class="qjj" d="M4096 2688l3-2 20-81-2 11z"/><path class="qdb" d="M3994 2453l7 26 49 38-7-35z"/><path class="qfh" d="M3986 2427l8 26 49 29-7-34z"/><path class="qM" d="M4016 2556l5 42 24 42-5-51z"/><path class="qjk" d="M4099 2686l1-1 20-85-1 5z"/><path class="qcY" d="M3972 2391l14 36 50 21-15-47z"/><path class="qjl" d="M4079 2769l1-1 21-87-1 4z"/><path class="qjm" d="M4020 3028l1-10 21-86-2 10z"/><path class="qgt" d="M4100 2685l1-4 20-86-1 5z"/><path class="qjn" d="M4040 2942l2-10 20-86-2 9z"/><path class="qjo" d="M4060 2855l2-9 20-86-2 8z"/><path class="qhV" d="M4080 2768l2-8 20-86-1 7z"/><path class="qer" d="M4101 2681l1-7 20-87-1 8z"/><path class="qgA" d="M4102 2674l2-11 20-82-2 6z"/><path class="qjp" d="M4011 2581l3 25 20 39-3-30z"/><path class="qfz" d="M3877 2336l30 25 100 8-30-40z"/><path class="qia" d="M4009 2683l1 5 19 70-1-2z"/><path class="qib" d="M4010 2688l1 3 19 66-1 1z"/><path class="qjq" d="M4000 2944l1 5 19 79-1-4z"/><path class="qeq" d="M3992 2496l7 37 33 45-7-48z"/><path class="qeK" d="M3907 2361l15 19 99 21-14-32z"/><path class="qch" d="M3991 2522l6 34 24 42-5-42z"/><path class="qgR" d="M3998 2585l2 23 20 52-3-30z"/><path class="qbS" d="M3995 2566l3 19 19 45-3-24z"/><path class="qhB" d="M3992 2547l3 19 19 40-3-25z"/><path class="qdz" d="M3922 2380l14 25 50 22-14-36z"/><path class="qdM" d="M3991 2624l2 15 20 55-2-3z"/><path class="qgt" d="M3990 2616l1 8 20 67-1-3z"/><path class="qcY" d="M3936 2405l8 18 50 30-8-26z"/><path class="qdG" d="M3951 2440l8 22 49 51-7-34z"/><path class="qeW" d="M3989 2609l1 7 20 72-1-5z"/><path class="qeX" d="M3944 2423l7 17 50 39-7-26z"/><path class="qjr" d="M3980 2863l1 5 20 81-1-5z"/><path class="qhs" d="M3985 2581l2 9 19 71-1-14z"/><path class="qM" d="M3984 2572l1 9 20 66-2-14z"/><path class="qgv" d="M3982 2564l2 8 19 61-1-12z"/><path class="qbb" d="M3981 2555l1 9 20 57-2-13z"/><path class="qbN" d="M3959 2462l7 26 33 45-7-37z"/><path class="qjs" d="M3978 2540l3 15 19 53-2-23z"/><path class="qfn" d="M3975 2526l3 14 20 45-3-19z"/><path class="qbx" d="M3966 2488l6 24 25 44-6-34z"/><path class="qcC" d="M3972 2512l3 14 20 40-3-19z"/><path class="qbE" d="M4113 2549l1-3 50-65-2 2z"/><path class="qK" d="M4114 2546l1-3 50-64-1 2z"/><path class="qbI" d="M4115 2543l2-4 49-62-1 2z"/><path class="qbJ" d="M4117 2539l1-3 50-61-2 2z"/><path class="qbN" d="M4121 2530l3-6 49-55-3 3z"/><path class="qfw" d="M4124 2524l2-5 50-53-3 3z"/><path class="qjt" d="M3960 2593l4 27 33 53-4-34z"/><path class="qew" d="M3744 2336l29 11 104-11-29-14z"/><path class="qbS" d="M3958 2581l2 12 33 46-2-15z"/><path class="qcG" d="M3957 2575l1 6 33 43-1-8z"/><path class="qbV" d="M3956 2569l1 6 33 41-1-7z"/><path class="qbW" d="M3954 2561l2 8 33 40-1-10z"/><path class="qbc" d="M3953 2553l1 8 34 38-1-9z"/><path class="qiD" d="M3960 2781l1 5 20 82-1-5z"/><path class="qW" d="M3950 2539l3 14 34 37-3-18z"/><path class="qcc" d="M3930 2510l3 12 51 50-3-17z"/><path class="qcg" d="M3773 2347l30 16 104-2-30-25z"/><path class="qbD" d="M3927 2499l3 11 51 45-3-15z"/><path class="qdb" d="M3921 2478l6 21 51 41-6-28z"/><path class="qej" d="M3900 2424l8 17 51 21-8-22z"/><path class="qbZ" d="M3915 2460l6 18 51 34-6-24z"/><path class="qcK" d="M3908 2441l7 19 51 28-7-26z"/><path class="qcH" d="M4147 2489l5-6 49-39-5 3z"/><path class="qcr" d="M4032 2710l3-4 20-56-3 15z"/><path class="qbd" d="M3947 2594l4 27 25 46-4-33z"/><path class="qiR" d="M4035 2706l2 1 21-68-3 11z"/><path class="qju" d="M3962 3099l1-7 21-98-2 7z"/><path class="qjv" d="M3982 3001l2-7 20-98-1 7z"/><path class="qfz" d="M3803 2363l15 11 104 6-15-19z"/><path class="qhG" d="M4003 2903l1-7 21-98-1 6z"/><path class="qhu" d="M4042 2709l1-1 21-96-1 5z"/><path class="qib" d="M4024 2804l1-6 21-98-2 6z"/><path class="qiK" d="M4043 2708l1-2 21-99-1 5z"/><path class="qjw" d="M4025 2798l1-11 21-94-1 7z"/><path class="qgA" d="M4044 2706l2-6 21-98-2 5z"/><path class="qeG" d="M3818 2374l15 15 103 16-14-25z"/><path class="qfl" d="M4046 2700l1-7 21-95-1 4z"/><path class="qch" d="M3926 2547l4 20 34 53-4-27z"/><path class="qdQ" d="M3833 2389l15 18 103 33-15-35z"/><path class="qjp" d="M4047 2693l3-18 21-86-3 9z"/><path class="qju" d="M3940 3002l1 6 21 91-2-6z"/><path class="qF" d="M3924 2537l2 10 34 46-2-12z"/><path class="qjx" d="M3940 2697l1 6 20 83-1-5z"/><path class="qby" d="M3923 2533l1 4 34 44-1-6z"/><path class="qev" d="M3922 2529l1 4 34 42-1-6z"/><path class="qcc" d="M3920 2522l2 7 34 40-2-8z"/><path class="qdg" d="M3919 2517l1 5 34 39-1-8z"/><path class="qbG" d="M3916 2505l3 12 34 36-3-14z"/><path class="qgG" d="M4050 2675l3-18 21-76-3 8z"/><path class="qii" d="M4053 2657l3-15 20-69-2 8z"/><path class="qcG" d="M3926 2574l4 24 25 54-4-31z"/><path class="qjy" d="M3951 2719l3 6 20 22-2 6z"/><path class="qch" d="M3922 2553l4 21 25 47-4-27z"/><path class="qjz" d="M4056 2642l2-12 21-63-3 6z"/><path class="qeX" d="M4116 2505l5-6 99-66-5 3z"/><path class="qdC" d="M4121 2499l2-2 100-65-3 1z"/><path class="qcy" d="M4058 2630l3-13 21-57-3 7z"/><path class="qcZ" d="M3925 2587l4 24 20 53-4-34z"/><path class="qdC" d="M4123 2497l3-3 99-63-2 1z"/><path class="qP" d="M4126 2494l1-1 99-63-1 1zM4127 2493l2-2 99-61-2 0z"/><path class="qdf" d="M4061 2617l6-20 20-49-5 12z"/><path class="qbr" d="M4129 2491l3-2 99-61-3 2z"/><path class="qcU" d="M4132 2489l6-5 99-58-6 2z"/><path class="qdz" d="M3848 2407l8 12 52 22-8-17z"/><path class="qdj" d="M3856 2419l7 13 52 28-7-19z"/><path class="qcA" d="M4062 2610l5-15 25-56-5 9z"/><path class="qej" d="M3863 2432l6 12 52 34-6-18z"/><path class="qeu" d="M4138 2484l6-5 99-55-6 2z"/><path class="qdC" d="M3869 2444l6 13 52 42-6-21z"/><path class="qcF" d="M3875 2457l3 7 52 46-3-11z"/><path class="qca" d="M3878 2464l3 7 52 51-3-12z"/><path class="qcC" d="M4067 2595l4-15 26-49-5 8z"/><path class="qei" d="M4144 2479l7-4 98-53-6 2z"/><path class="qgt" d="M3926 2651l2 15 21 47-3-2z"/><path class="qiW" d="M3924 2635l2 16 20 60-2-2z"/><path class="qbn" d="M3922 2627l2 8 20 74-1-2z"/><path class="qhv" d="M3921 2618l1 9 21 80-2-4z"/><path class="qjA" d="M3919 2613l2 5 20 85-1-6z"/><path class="qea" d="M3918 2607l1 6 21 84-1-6z"/><path class="qjB" d="M3920 2909l1 6 20 93-1-6z"/><path class="qbI" d="M3891 2499l5 14 34 54-4-20z"/><path class="qeh" d="M4151 2475l7-5 99-50-8 2z"/><path class="qil" d="M3889 2493l2 6 35 48-2-10z"/><path class="qbo" d="M3888 2490l1 3 35 44-1-4z"/><path class="qdd" d="M3887 2487l1 3 35 43-1-4z"/><path class="qdA" d="M3886 2483l1 4 35 42-2-7z"/><path class="qbZ" d="M3884 2479l2 4 34 39-1-5z"/><path class="qca" d="M3881 2471l3 8 35 38-3-12z"/><path class="qdW" d="M4063 2597l5-13 34-61-5 8z"/><path class="qiZ" d="M3910 2568l2 9 21 64-2-15z"/><path class="qdW" d="M3900 2527l4 15 26 56-4-24z"/><path class="qch" d="M3908 2559l2 9 21 58-2-15z"/><path class="qbD" d="M3896 2513l4 14 26 47-4-21z"/><path class="qF" d="M3904 2542l4 17 21 52-4-24z"/><path class="qdh" d="M4158 2470l7-4 99-48-7 2z"/><path class="qek" d="M3636 2352l30 8 107-13-29-11z"/><path class="qdg" d="M4068 2584l4-12 35-56-5 7z"/><path class="qdj" d="M4165 2466l7-3 99-46-7 1z"/><path class="qbG" d="M4072 2572l5-10 34-52-4 6z"/><path class="qdq" d="M4077 2562l5-10 34-47-5 5z"/><path class="qdm" d="M4179 2460l7-3 99-42-7 1z"/><path class="qdo" d="M3666 2360l29 11 108-8-30-16z"/><path class="qdr" d="M4186 2457l7-2 99-41-7 1z"/><path class="qbI" d="M4065 2576l5-10 51-67-5 6z"/><path class="qdr" d="M4193 2455l7-2 99-40-7 1z"/><path class="qbL" d="M4070 2566l2-4 51-65-2 2z"/><path class="qdb" d="M4072 2562l3-5 51-63-3 3z"/><path class="qcy" d="M3887 2585l2 7 35 43-2-8z"/><path class="qfo" d="M3886 2578l1 7 35 42-1-9z"/><path class="qdc" d="M4075 2557l1-2 51-62-1 1z"/><path class="qdf" d="M3885 2574l1 4 35 40-2-5z"/><path class="qW" d="M3884 2569l1 5 34 39-1-6z"/><path class="qdz" d="M4204 2452l2 0 98-39-1 0z"/><path class="qF" d="M3881 2561l3 8 34 38-2-10z"/><path class="qbQ" d="M4076 2555l2-3 51-61-2 2z"/><path class="qev" d="M3877 2545l4 16 35 36-4-20z"/><path class="qdz" d="M4206 2452l2-1 98-38-2 0z"/><path class="qhS" d="M3899 2815l1 6 21 94-1-6z"/><path class="qdz" d="M4208 2451l1 0 99-38-2 0z"/><path class="qcg" d="M3695 2371l15 7 108-4-15-11z"/><path class="qbo" d="M4078 2552l3-5 51-58-3 2z"/><path class="qdz" d="M4209 2451l2-1 99-37-2 0zM4211 2450l4 0 98-37-3 0z"/><path class="qbX" d="M4081 2547l6-10 51-53-6 5z"/><path class="qdJ" d="M4215 2450l8-1 98-36-8 0z"/><path class="qcY" d="M3828 2451l3 6 53 22-3-8z"/><path class="qcU" d="M3831 2457l2 3 53 23-2-4z"/><path class="qbr" d="M3833 2460l1 3 53 24-1-4z"/><path class="qP" d="M3834 2463l1 2 53 25-1-3z"/><path class="qcN" d="M3835 2465l1 3 53 25-1-3z"/><path class="qcM" d="M3836 2468l3 4 52 27-2-6z"/><path class="qcp" d="M3710 2378l15 9 108 2-15-15z"/><path class="qcH" d="M3839 2472l4 10 53 31-5-14z"/><path class="qK" d="M3855 2515l5 14 52 48-4-18z"/><path class="qca" d="M3843 2482l4 10 53 35-4-14z"/><path class="qdc" d="M3851 2503l4 12 53 44-4-17z"/><path class="qbX" d="M3847 2492l4 11 53 39-4-15z"/><path class="qcV" d="M4087 2537l6-8 51-50-6 5z"/><path class="qdJ" d="M4223 2449l8-1 98-35-8 0z"/><path class="qci" d="M4093 2529l7-7 51-47-7 4z"/><path class="qeA" d="M3725 2387l16 11 107 9-15-18z"/><path class="qeS" d="M4231 2448l8-1 98-33-8-1z"/><path class="qcF" d="M4100 2522l7-8 51-44-7 5z"/><path class="qX" d="M3741 2398l7 6 108 15-8-12z"/><path class="qeS" d="M4239 2447l8 0 98-32-8-1z"/><path class="qeI" d="M3748 2404l8 7 107 21-7-13z"/><path class="qcK" d="M4107 2514l7-6 51-42-7 4z"/><path class="qeN" d="M3756 2411l6 6 107 27-6-12z"/><path class="qjC" d="M3983 2725l4-3 21-56-4 19z"/><path class="qdQ" d="M3762 2417l6 6 107 34-6-13z"/><path class="qdO" d="M4247 2447l16 0 98-30-16-2z"/><path class="qdR" d="M3768 2423l3 4 107 37-3-7z"/><path class="qjD" d="M3917 3143l1-7 21-103-1 6z"/><path class="qjE" d="M3987 2722l3 0 21-64-3 8z"/><path class="qjc" d="M3771 2427l3 4 107 40-3-7z"/><path class="qjB" d="M3938 3039l1-6 22-104-2 5z"/><path class="qev" d="M3853 2548l5 18 36 51-5-25z"/><path class="qbt" d="M3852 2543l1 5 36 44-2-7z"/><path class="qcd" d="M3850 2538l2 5 35 42-1-7z"/><path class="qbG" d="M3849 2534l1 4 36 40-1-4z"/><path class="qdn" d="M3848 2531l1 3 36 40-1-5z"/><path class="qdq" d="M3846 2524l2 7 36 38-3-8z"/><path class="qdc" d="M3842 2512l4 12 35 37-4-16z"/><path class="qgY" d="M3959 2934l2-5 21-104-2 5z"/><path class="qjF" d="M3878 2720l1 5 21 96-1-6z"/><path class="qjG" d="M3876 2712l2 8 21 95-1-9z"/><path class="qY" d="M4263 2447l17 1 98-29-17-2z"/><path class="qjx" d="M3980 2830l2-5 21-104-1 5z"/><path class="qjy" d="M3982 2825l1-9 22-102-2 7z"/><path class="qfd" d="M4003 2721l2-7 21-101-1 4z"/><path class="qfp" d="M3854 2572l5 21 27 51-5-28z"/><path class="qjH" d="M3893 3032l2 13 22 98-3-14z"/><path class="qY" d="M4280 2448l12 0 98-27-12-2z"/><path class="qev" d="M3849 2554l5 18 27 44-5-24z"/><path class="qgG" d="M4005 2714l3-16 21-92-3 7z"/><path class="qjI" d="M4062 2549l7-8 103-78-7 3z"/><path class="qbT" d="M4008 2698l3-15 21-84-3 7z"/><path class="qY" d="M4292 2448l7 1 97-26-6-2z"/><path class="qdE" d="M4069 2541l7-7 103-74-7 3z"/><path class="qdJ" d="M3774 2431l3 3 54 23-3-6z"/><path class="qfI" d="M3524 2369l29 7 113-16-30-8z"/><path class="qY" d="M4299 2449l6 0 98-25-7-1z"/><path class="qjz" d="M4011 2683l3-15 21-76-3 7z"/><path class="qcE" d="M3779 2436l1 2 54 25-1-3z"/><path class="qdr" d="M3780 2438l1 2 54 25-1-2z"/><path class="qdp" d="M3781 2440l1 1 54 27-1-3z"/><path class="qhl" d="M3782 2441l2 3 55 28-3-4z"/><path class="qdj" d="M3784 2444l5 6 54 32-4-10z"/><path class="qY" d="M4305 2449l6 0 98-24-6-1z"/><path class="qeh" d="M3789 2450l4 7 54 35-4-10z"/><path class="qdC" d="M4076 2534l8-7 102-70-7 3z"/><path class="qcy" d="M4014 2668l3-12 22-70-4 6z"/><path class="qej" d="M3793 2457l4 7 54 39-4-11z"/><path class="qbr" d="M3797 2464l4 7 54 44-4-12z"/><path class="qeX" d="M3801 2471l5 8 54 50-5-14z"/><path class="qY" d="M4311 2449l7 1 97-24-6-1z"/><path class="qch" d="M4017 2656l3-12 22-64-3 6z"/><path class="qP" d="M4084 2527l7-6 102-66-7 2z"/><path class="qY" d="M4318 2450l6 0 98-22-7-2z"/><path class="qcA" d="M4020 2644l7-19 21-55-6 10z"/><path class="qY" d="M4324 2450l3 1 98-23-3 0z"/><path class="qet" d="M4091 2521l7-5 102-63-7 2z"/><path class="qY" d="M4327 2451l2 0 97-22-1-1zM4329 2451l1 0 98-22-2 0z"/><path class="qeX" d="M3806 2479l4 8 36 37-4-12z"/><path class="qcF" d="M3810 2487l2 5 36 39-2-7z"/><path class="qel" d="M3812 2492l1 2 36 40-1-3z"/><path class="qci" d="M3813 2494l1 2 36 42-1-4z"/><path class="qca" d="M3814 2496l2 4 36 43-2-5z"/><path class="qY" d="M4330 2451l2 0 98-22-2 0z"/><path class="qcV" d="M3816 2500l1 3 36 45-1-5z"/><path class="qdA" d="M3817 2503l5 12 36 51-5-18z"/><path class="qdi" d="M3553 2376l30 8 112-13-29-11z"/><path class="qY" d="M4332 2451l2 0 98-21-2-1z"/><path class="qeu" d="M4098 2516l4-2 102-62-4 1z"/><path class="qhs" d="M3857 2627l2 6 21 95-1-3z"/><path class="qjJ" d="M3856 2622l1 5 22 98-1-5z"/><path class="qih" d="M3859 2633l1 6 22 89-2 0z"/><path class="qM" d="M3855 2617l1 5 22 98-2-8z"/><path class="qY" d="M4334 2451l4 0 97-20-3-1z"/><path class="qhZ" d="M3863 2651l3 12 21 62-3 1z"/><path class="qeu" d="M4102 2514l1-1 103-61-2 0z"/><path class="qjK" d="M3866 2663l2 13 22 50-3-1z"/><path class="qej" d="M4103 2513l2-1 103-61-2 1z"/><path class="qft" d="M4021 2638l8-20 26-59-7 11z"/><path class="qY" d="M4338 2451l4 1 97-20-4-1z"/><path class="qbJ" d="M3827 2528l5 13 27 52-5-21z"/><path class="qbo" d="M3822 2515l5 13 27 44-5-18z"/><path class="qcY" d="M4105 2512l2-1 102-60-1 0z"/><path class="qY" d="M4342 2452l4 0 97-20-4 0z"/><path class="qcY" d="M4107 2511l2-1 102-60-2 1z"/><path class="qbD" d="M3832 2541l5 15 22 48-5-21z"/><path class="qei" d="M4109 2510l3-2 103-58-4 0z"/><path class="qY" d="M4346 2452l4 0 97-19-4-1zM4350 2452l4 1 97-19-4-1z"/><path class="qeU" d="M4029 2618l7-16 26-53-7 10z"/><path class="qbB" d="M3872 2934l2 11 21 100-2-13z"/><path class="qez" d="M4112 2508l8-4 103-55-8 1z"/><path class="qbY" d="M3583 2384l15 5 112-11-15-7z"/><path class="qdO" d="M4354 2453l8 1 97-18-8-2z"/><path class="qeh" d="M4120 2504l9-3 102-53-8 1z"/><path class="qdO" d="M4362 2454l9 0 97-15-9-3z"/><path class="qbx" d="M4027 2619l7-16 35-62-7 8z"/><path class="qfs" d="M3598 2389l16 5 111-7-15-9z"/><path class="qdh" d="M4129 2501l8-2 102-52-8 1z"/><path class="qeS" d="M4371 2454l8 1 97-14-8-2z"/><path class="qbI" d="M4034 2603l7-13 35-56-7 7z"/><path class="qdj" d="M4137 2499l8-2 102-50-8 0z"/><path class="qcg" d="M3614 2394l15 7 112-3-16-11z"/><path class="qeS" d="M4379 2455l17 3 97-12-17-5z"/><path class="qdb" d="M4041 2590l7-11 36-52-8 7z"/><path class="qbp" d="M4145 2497l16-4 102-46-16 0z"/><path class="qgx" d="M3629 2401l7 3 112 0-7-6z"/><path class="qbC" d="M3811 2556l5 15 36 36-5-18z"/><path class="qbo" d="M4048 2579l8-10 35-48-7 6z"/><path class="qdJ" d="M4396 2458l17 2 96-8-16-6z"/><path class="qcp" d="M3636 2404l8 4 112 3-8-7z"/><path class="qez" d="M3759 2474l2 2 55 24-2-4z"/><path class="qcY" d="M3761 2476l1 3 55 24-1-3z"/><path class="qU" d="M3644 2408l6 4 112 5-6-6z"/><path class="qcU" d="M3762 2479l5 8 55 28-5-12z"/><path class="qcN" d="M3767 2487l5 9 55 32-5-13z"/><path class="qdm" d="M4161 2493l17-2 102-43-17-1z"/><path class="qcI" d="M3772 2496l5 10 55 35-5-13z"/><path class="qfz" d="M3650 2412l6 3 112 8-6-6z"/><path class="qfh" d="M3777 2506l5 11 55 39-5-15z"/><path class="qO" d="M3782 2517l5 11 55 44-5-16z"/><path class="qbQ" d="M3787 2528l6 12 54 49-5-17z"/><path class="qdz" d="M4413 2460l17 3 96-4-17-7z"/><path class="qeA" d="M3656 2415l3 2 112 10-3-4z"/><path class="qjL" d="M3850 2833l2 10 22 102-2-11z"/><path class="qcv" d="M3659 2417l3 2 112 12-3-4z"/><path class="qbo" d="M4038 2592l7-10 53-66-7 5z"/><path class="qdL" d="M3662 2419l3 2 112 13-3-3z"/><path class="qeE" d="M3667 2422l2 1 111 15-1-2z"/><path class="qX" d="M3669 2423l1 1 111 16-1-2zM3670 2424l1 0 111 17-1-1z"/><path class="qdA" d="M4045 2582l4-5 53-63-4 2z"/><path class="qdp" d="M4178 2491l12-2 102-41-12 0z"/><path class="qeF" d="M3671 2424l2 2 111 18-2-3z"/><path class="qeG" d="M3673 2426l4 3 112 21-5-6z"/><path class="qO" d="M4049 2577l2-2 52-62-1 1z"/><path class="qjM" d="M4430 2463l17 4 96-1-17-7z"/><path class="qeI" d="M3677 2429l4 3 112 25-4-7z"/><path class="qeH" d="M4051 2575l1-2 53-61-2 1z"/><path class="qcc" d="M4013 2631l7-15 36-47-8 10z"/><path class="qbZ" d="M4052 2573l2-2 53-60-2 1z"/><path class="qeK" d="M3681 2432l5 3 111 29-4-7z"/><path class="qdr" d="M4190 2489l7 0 102-40-7-1z"/><path class="qcV" d="M4054 2571l2-2 53-59-2 1z"/><path class="qeN" d="M3686 2435l4 4 111 32-4-7z"/><path class="qeO" d="M3690 2439l4 4 112 36-5-8z"/><path class="qcV" d="M4056 2569l4-4 52-57-3 2z"/><path class="qdr" d="M4197 2489l6-1 102-39-6 0z"/><path class="qfH" d="M3694 2443l4 4 112 40-4-8z"/><path class="qdR" d="M3698 2447l3 2 111 43-2-5z"/><path class="qdp" d="M4447 2467l17 4 95 4-16-9z"/><path class="qdS" d="M3701 2449l1 1 111 44-1-2z"/><path class="qfB" d="M3407 2387l30 6 116-17-29-7z"/><path class="qci" d="M4060 2565l8-7 52-54-8 4z"/><path class="qdr" d="M4203 2488l6 0 102-39-6 0z"/><path class="qjM" d="M4209 2488l7-1 102-37-7-1z"/><path class="qdm" d="M4464 2471l8 3 96 6-9-5z"/><path class="qcF" d="M4068 2558l8-6 53-51-9 3z"/><path class="qbZ" d="M3774 2524l5 11 37 36-5-15z"/><path class="qdz" d="M4216 2487l6 0 102-37-6 0z"/><path class="qdd" d="M3779 2535l3 5 37 39-3-8z"/><path class="qbo" d="M3782 2540l1 3 37 40-1-4z"/><path class="qbQ" d="M3783 2543l1 3 37 41-1-4z"/><path class="qdb" d="M3784 2546l2 4 36 42-1-5z"/><path class="qbI" d="M3787 2553l3 7 37 46-3-10z"/><path class="qbE" d="M3790 2560l2 7 37 49-2-10z"/><path class="qdg" d="M3792 2567l3 8 37 51-3-10z"/><path class="qbp" d="M4472 2474l9 2 95 9-8-5z"/><path class="qdz" d="M4222 2487l4-1 101-35-3-1z"/><path class="qdE" d="M4076 2552l8-6 53-47-8 2z"/><path class="qdz" d="M4226 2486l1 0 102-35-2 0zM4227 2486l2 0 101-35-1 0z"/><path class="qdj" d="M4481 2476l10 4 95 11-10-6z"/><path class="qdz" d="M4229 2486l2 0 101-35-2 0zM4231 2486l2 0 101-35-2 0zM4233 2486l3 0 102-35-4 0z"/><path class="qdh" d="M4491 2480l5 1 95 13-5-3z"/><path class="qcM" d="M4084 2546l8-5 53-44-8 2z"/><path class="qfI" d="M3437 2393l30 6 116-15-30-8z"/><path class="qdH" d="M4236 2486l4-1 102-33-4-1z"/><path class="qeg" d="M4496 2481l5 2 95 15-5-4z"/><path class="qiM" d="M3828 2731l2 9 22 103-2-10z"/><path class="qcc" d="M3995 2642l2-3 54-64-2 2z"/><path class="qdH" d="M4240 2485l4 0 102-33-4 0z"/><path class="qeh" d="M4501 2483l5 2 95 16-5-3z"/><path class="qdX" d="M3997 2639l2-4 53-62-1 2z"/><path class="qdZ" d="M3702 2450l1 1 56 23-1-2z"/><path class="qdH" d="M4244 2485l4 0 102-33-4 0z"/><path class="qbt" d="M3999 2635l2-3 53-61-2 2z"/><path class="qY" d="M3704 2452l2 2 56 25-1-3z"/><path class="qez" d="M4506 2485l5 2 95 18-5-4z"/><path class="qP" d="M4092 2541l17-7 52-41-16 4z"/><path class="qdJ" d="M3706 2454l5 5 56 28-5-8z"/><path class="qdg" d="M4001 2632l1-3 54-60-2 2z"/><path class="qdH" d="M4248 2485l5 0 101-32-4-1z"/><path class="qcE" d="M3711 2459l5 6 56 31-5-9z"/><path class="qcQ" d="M4514 2488l2 1 95 19-2-2z"/><path class="qcd" d="M4002 2629l4-5 54-59-4 4z"/><path class="qbB" d="M3913 3079l1-12 22-109-1 10z"/><path class="qei" d="M4516 2489l3 1 94 20-2-2z"/><path class="qhl" d="M3716 2465l5 5 56 36-5-10z"/><path class="qcY" d="M4519 2490l1 1 95 20-2-1zM4520 2491l1 0 95 21-1-1z"/><path class="qdJ" d="M4253 2485l8-1 101-30-8-1z"/><path class="qcY" d="M4521 2491l1 0 95 22-1-1z"/><path class="qdh" d="M3721 2470l5 7 56 40-5-11z"/><path class="qcY" d="M4522 2491l1 1 95 21-1 0z"/><path class="qdi" d="M3467 2399l15 4 116-14-15-5z"/><path class="qej" d="M4523 2492l2 1 94 22-1-2z"/><path class="qez" d="M3726 2477l5 6 56 45-5-11z"/><path class="qhO" d="M3935 2968l1-10 22-110-1 8z"/><path class="qeu" d="M4525 2493l3 1 95 23-4-2z"/><path class="qK" d="M4006 2624l8-12 54-54-8 7z"/><path class="qcU" d="M3731 2483l5 7 57 50-6-12z"/><path class="qdJ" d="M4261 2484l8 0 102-30-9 0z"/><path class="qcU" d="M4532 2496l3 1 95 26-4-3z"/><path class="qgi" d="M3957 2856l1-8 22-109-1 5z"/><path class="qet" d="M4535 2497l4 2 94 26-3-2z"/><path class="qbr" d="M4539 2499l3 2 95 27-4-3z"/><path class="qbM" d="M4014 2612l8-9 54-51-8 6z"/><path class="qff" d="M3482 2403l15 4 117-13-16-5z"/><path class="qeS" d="M4269 2484l9 0 101-29-8-1z"/><path class="qbh" d="M3958 2848l4-21 22-102-4 14z"/><path class="qP" d="M4542 2501l8 3 94 30-7-6z"/><path class="qeu" d="M3736 2490l5 7 38 38-5-11z"/><path class="qdC" d="M4550 2504l8 4 94 32-8-6z"/><path class="qbr" d="M3741 2497l3 4 38 39-3-5z"/><path class="qP" d="M3744 2501l1 2 38 40-1-3z"/><path class="qcN" d="M3745 2503l2 2 37 41-1-3z"/><path class="qbQ" d="M4022 2603l8-9 54-48-8 6z"/><path class="qdC" d="M3747 2505l1 2 38 43-2-4z"/><path class="qcm" d="M3962 2827l4-24 22-92-4 14z"/><path class="qcM" d="M3748 2507l1 2 38 44-1-3z"/><path class="qcK" d="M3749 2509l3 4 38 47-3-7z"/><path class="qeS" d="M4278 2484l17 0 101-26-17-3z"/><path class="qds" d="M3984 2725l4-14 22-93-4 6z"/><path class="qci" d="M3755 2518l3 5 37 52-3-8z"/><path class="qew" d="M3497 2407l15 4 117-10-15-7z"/><path class="qcM" d="M4558 2508l9 5 94 34-9-7z"/><path class="qdd" d="M4030 2594l9-7 53-46-8 5z"/><path class="qer" d="M3966 2803l4-24 22-83-4 15z"/><path class="qci" d="M3758 2523l5 9 28 44-5-14z"/><path class="qcM" d="M4055 2575l17-9 106-75-17 2z"/><path class="qcH" d="M4567 2513l17 10 94 37-17-13z"/><path class="qdG" d="M3763 2532l6 10 28 50-6-16z"/><path class="qdo" d="M3512 2411l8 3 116-10-7-3z"/><path class="qdf" d="M3992 2696l4-12 22-76-4 4z"/><path class="qdO" d="M4295 2484l17 0 101-24-17-2z"/><path class="qfl" d="M3970 2779l4-18 22-77-4 12z"/><path class="qgs" d="M3803 2621l2 7 23 103-3-12z"/><path class="qdA" d="M3769 2542l4 10 23 44-5-14z"/><path class="qgo" d="M3800 2614l3 7 22 98-2-14z"/><path class="qdo" d="M3520 2414l8 2 116-8-8-4z"/><path class="qen" d="M3798 2607l2 7 23 91-3-13z"/><path class="qdc" d="M3773 2552l5 9 23 50-5-15z"/><path class="qfn" d="M3795 2601l3 6 22 85-2-13z"/><path class="qcA" d="M3996 2684l4-11 22-70-4 5z"/><path class="qbI" d="M3778 2561l5 11 23 55-5-16z"/><path class="qeq" d="M3793 2595l2 6 23 78-3-12z"/><path class="qde" d="M3788 2583l5 12 22 72-4-21z"/><path class="qcd" d="M3783 2572l5 11 23 63-5-19z"/><path class="qbZ" d="M4039 2587l16-12 54-41-17 7z"/><path class="qfh" d="M4584 2523l18 10 93 40-17-13z"/><path class="qgu" d="M3820 2676l3 11 22 51-3-2z"/><path class="qfs" d="M3528 2416l6 2 116-6-6-4z"/><path class="qbd" d="M3823 2687l3 12 22 41-3-2zM3974 2761l4-18 22-70-4 11z"/><path class="qP" d="M4072 2566l12-7 106-70-12 2z"/><path class="qby" d="M4000 2673l9-18 21-61-8 9z"/><path class="qdO" d="M4312 2484l17 1 101-22-17-3z"/><path class="qdu" d="M3534 2418l6 2 116-5-6-3z"/><path class="qcg" d="M3540 2420l3 1 116-4-3-2z"/><path class="qbZ" d="M4602 2533l17 11 93 40-17-11z"/><path class="qbr" d="M4084 2559l7-2 106-68-7 0z"/><path class="qgv" d="M3978 2743l9-27 22-61-9 18z"/><path class="qcg" d="M3546 2422l3 2 116-3-3-2z"/><path class="qdX" d="M4009 2655l8-14 22-54-9 7z"/><path class="qcU" d="M4091 2557l6-3 106-66-6 1z"/><path class="qdB" d="M3551 2424l1 1 117-2-2-1z"/><path class="qY" d="M4329 2485l17 1 101-19-17-4z"/><path class="qjN" d="M3841 2966l2 10 22 108-1-12z"/><path class="qgx" d="M3557 2426l4 2 116 1-4-3z"/><path class="qeu" d="M4097 2554l7-2 105-64-6 0z"/><path class="qfv" d="M3561 2428l4 2 116 2-4-3z"/><path class="qeB" d="M4619 2544l35 23 93 33-35-16z"/><path class="qej" d="M4104 2552l6-3 106-62-7 1z"/><path class="qcp" d="M3565 2430l4 2 117 3-5-3z"/><path class="qfB" d="M3286 2406l30 6 121-19-30-6z"/><path class="qbD" d="M4011 2654l17-25 27-54-16 12z"/><path class="qdO" d="M4346 2486l17 2 101-17-17-4z"/><path class="qfx" d="M3569 2432l5 2 116 5-4-4z"/><path class="qcY" d="M4110 2549l7-2 105-60-6 0z"/><path class="qU" d="M3574 2434l4 1 116 8-4-4z"/><path class="qfz" d="M3578 2435l4 2 116 10-4-4z"/><path class="qei" d="M4117 2547l3-1 106-60-4 1z"/><path class="qfz" d="M3582 2437l2 1 117 11-3-2z"/><path class="qdj" d="M3695 2491l2 3 58 24-3-5z"/><path class="qcQ" d="M4120 2546l1-1 106-59-1 0z"/><path class="qdO" d="M4363 2488l9 1 100-15-8-3z"/><path class="qfz" d="M3584 2438l1 1 117 11-1-1z"/><path class="qdh" d="M3697 2494l3 4 58 25-3-5z"/><path class="qcQ" d="M4121 2545l2 0 106-59-2 0z"/><path class="qfz" d="M3585 2439l2 0 116 12-1-1z"/><path class="qeA" d="M3587 2439l1 1 116 12-1-1z"/><path class="qez" d="M4123 2545l2-1 106-58-2 0z"/><path class="qeh" d="M3700 2498l6 6 57 28-5-9z"/><path class="qeA" d="M3588 2440l2 1 116 13-2-2z"/><path class="qez" d="M4125 2544l2 0 106-58-2 0z"/><path class="qgJ" d="M3590 2441l5 3 116 15-5-5z"/><path class="qcY" d="M3706 2504l5 8 58 30-6-10z"/><path class="qeS" d="M4372 2489l9 1 100-14-9-2z"/><path class="qez" d="M4127 2544l4-2 105-56-3 0z"/><path class="qP" d="M3711 2512l10 13 57 36-9-19z"/><path class="qcv" d="M3595 2444l5 2 116 19-5-6z"/><path class="qdb" d="M4654 2567l36 25 93 15-36-7z"/><path class="qeh" d="M4131 2542l4-1 105-56-4 1z"/><path class="qbI" d="M4019 2647l16-21 37-60-17 9z"/><path class="qcK" d="M3721 2525l5 8 57 39-5-11z"/><path class="qeE" d="M3600 2446l5 3 116 21-5-5z"/><path class="qel" d="M3726 2533l5 7 57 43-5-11z"/><path class="qeh" d="M4135 2541l3-1 106-55-4 0z"/><path class="qeS" d="M4381 2490l10 1 100-11-10-4z"/><path class="qfB" d="M3316 2412l30 5 121-18-30-6z"/><path class="qfJ" d="M3731 2540l5 8 57 47-5-12z"/><path class="qeF" d="M3605 2449l5 3 116 25-5-7z"/><path class="qO" d="M3736 2548l5 9 57 50-5-12z"/><path class="qeg" d="M4138 2540l5-1 105-54-4 0z"/><path class="qbQ" d="M3741 2557l4 9 58 55-5-14z"/><path class="qgQ" d="M3610 2452l5 3 116 28-5-6z"/><path class="qdJ" d="M4391 2491l5 1 100-11-5-1z"/><path class="qdh" d="M4143 2539l4-1 106-53-5 0z"/><path class="qeJ" d="M3615 2455l5 3 116 32-5-7z"/><path class="qdJ" d="M4396 2492l5 1 100-10-5-2z"/><path class="qeK" d="M3620 2458l5 3 116 36-5-7z"/><path class="qdh" d="M4147 2538l8-2 106-52-8 1z"/><path class="qbQ" d="M4035 2626l13-13 36-54-12 7z"/><path class="qdJ" d="M4401 2493l5 1 100-9-5-2z"/><path class="qeN" d="M3625 2461l3 2 116 38-3-4zM3628 2463l1 1 116 39-1-2z"/><path class="qfE" d="M3629 2464l2 0 116 41-2-2z"/><path class="qeO" d="M3631 2464l1 1 116 42-1-2zM3632 2465l1 1 116 43-1-2z"/><path class="qfG" d="M3633 2466l3 2 116 45-3-4z"/><path class="qdj" d="M4155 2536l9-2 105-50-8 0z"/><path class="qbI" d="M4690 2592l35 23 94-9-36 1z"/><path class="qeV" d="M3346 2417l15 3 121-17-15-4z"/><path class="qdH" d="M4414 2495l2 1 100-7-2-1z"/><path class="qct" d="M3818 2858l2 8 23 110-2-10z"/><path class="qdd" d="M4048 2613l6-5 37-51-7 2z"/><path class="qdz" d="M4419 2496l1 0 100-5-1-1zM4420 2496l2 1 99-6-1 0zM4422 2497l1 0 99-6-1 0z"/><path class="qbp" d="M4164 2534l8-2 106-48-9 0z"/><path class="qdz" d="M4423 2497l0 0 100-5-1-1zM4423 2497l2 0 100-4-2-1zM4425 2497l4 1 99-4-3-1z"/><path class="qfI" d="M3361 2420l15 3 121-16-15-4z"/><path class="qbo" d="M4036 2634l7-7 54-73-6 3z"/><path class="qdr" d="M4436 2500l4 1 99-2-4-2z"/><path class="qdm" d="M4172 2532l17-3 106-45-17 0z"/><path class="qby" d="M3999 2688l12-20 37-55-13 13z"/><path class="qdd" d="M4043 2627l6-6 55-69-7 2z"/><path class="qdr" d="M4443 2501l7 2 100 1-8-3z"/><path class="qcV" d="M3731 2556l2 3 38 40-1-3z"/><path class="qdn" d="M4725 2615l36 19 94-34-36 6z"/><path class="qbZ" d="M3733 2559l1 3 39 41-2-4z"/><path class="qek" d="M3376 2423l16 4 120-16-15-4z"/><path class="qdp" d="M4450 2503l9 2 99 3-8-4z"/><path class="qO" d="M4049 2621l6-5 55-67-6 3z"/><path class="qeZ" d="M4011 2668l7-8 36-52-6 5z"/><path class="qdr" d="M4189 2529l18-3 105-42-17 0z"/><path class="qcx" d="M3636 2468l3 2 58 24-2-3z"/><path class="qdm" d="M4459 2505l9 3 99 5-9-5z"/><path class="qdi" d="M3392 2427l7 1 121-14-8-3z"/><path class="qcx" d="M3639 2470l3 2 58 26-3-4z"/><path class="qbZ" d="M4055 2616l7-5 55-64-7 2z"/><path class="qdP" d="M3642 2472l5 4 59 28-6-6z"/><path class="qdF" d="M4062 2611l3-3 55-62-3 1z"/><path class="qeO" d="M3647 2476l6 4 58 32-5-8z"/><path class="qdi" d="M3399 2428l8 2 121-14-8-2z"/><path class="qca" d="M4065 2608l2-1 54-62-1 1z"/><path class="qbp" d="M4468 2508l18 5 98 10-17-10z"/><path class="qca" d="M4067 2607l1-1 55-61-2 0z"/><path class="qdn" d="M4761 2634l18 7 95-45-19 4z"/><path class="qjM" d="M4207 2526l17-1 105-40-17-1z"/><path class="qdQ" d="M3653 2480l9 8 59 37-10-13z"/><path class="qfh" d="M4068 2606l2-2 55-60-2 1z"/><path class="qff" d="M3407 2430l6 1 121-13-6-2z"/><path class="qci" d="M4070 2604l2-1 55-59-2 0z"/><path class="qcE" d="M3662 2488l5 4 59 41-5-8z"/><path class="qbq" d="M4072 2603l4-3 55-58-4 2z"/><path class="qff" d="M3413 2431l6 2 121-13-6-2z"/><path class="qhl" d="M3667 2492l5 4 59 44-5-7z"/><path class="qeR" d="M4076 2600l4-2 55-57-4 1z"/><path class="qdT" d="M3672 2496l5 5 59 47-5-8z"/><path class="qdh" d="M4486 2513l17 5 99 15-18-10z"/><path class="qff" d="M3419 2433l3 1 121-13-3-1z"/><path class="qdK" d="M3899 3383l2-10 22-140-1 8z"/><path class="qbk" d="M3795 2748l2 6 23 112-2-8z"/><path class="qed" d="M3974 2723l7-11 37-52-7 8z"/><path class="qht" d="M3677 2501l5 5 59 51-5-9z"/><path class="qcF" d="M4080 2598l4-3 54-55-3 1z"/><path class="qjj" d="M3791 2733l4 15 23 110-3-23z"/><path class="qgq" d="M3981 2712l6-10 56-75-7 7z"/><path class="qew" d="M3422 2434l3 0 121-12-3-1z"/><path class="qbI" d="M4779 2641l19 5 95-53-19 3z"/><path class="qdz" d="M4224 2525l17-2 105-37-17-1z"/><path class="qez" d="M3682 2506l5 5 58 55-4-9z"/><path class="qew" d="M3425 2434l3 1 121-11-3-2z"/><path class="qjO" d="M3901 3373l2-26 22-136-2 22z"/><path class="qjP" d="M3934 2783l6-1 28-46-7 13z"/><path class="qew" d="M3430 2435l1 1 121-11-1-1zM3431 2436l2 0 120-11-1 0z"/><path class="qcI" d="M4088 2593l4-3 55-52-4 1z"/><path class="qft" d="M3987 2702l7-10 55-71-6 6z"/><path class="qew" d="M3433 2436l1 0 121-10-2-1z"/><path class="qjC" d="M3897 2809l8 7 56-67-8 22z"/><path class="qew" d="M3434 2436l2 1 121-11-2 0z"/><path class="qeh" d="M4503 2518l18 6 98 20-17-11z"/><path class="qbY" d="M3436 2437l4 1 121-10-4-2z"/><path class="qjQ" d="M3903 3347l2-34 22-129-2 27z"/><path class="qcK" d="M4092 2590l9-4 54-50-8 2z"/><path class="qdq" d="M4798 2646l18 3 95-60-18 4z"/><path class="qhe" d="M3160 2427l30 5 126-20-30-6z"/><path class="qde" d="M3994 2692l6-9 55-67-6 5z"/><path class="qbY" d="M3440 2438l4 1 121-9-4-2z"/><path class="qdH" d="M4241 2523l17-1 105-34-17-2z"/><path class="qeg" d="M3687 2511l2 2 40 39-3-4z"/><path class="qeh" d="M3689 2513l3 3 39 40-2-4z"/><path class="qdo" d="M3444 2439l5 1 120-8-4-2z"/><path class="qez" d="M3692 2516l1 1 40 42-2-3z"/><path class="qcQ" d="M3693 2517l2 2 39 43-1-3z"/><path class="qcY" d="M3695 2519l3 4 39 44-3-5z"/><path class="qdC" d="M4101 2586l8-4 55-48-9 2z"/><path class="qdo" d="M3449 2440l4 1 121-7-5-2z"/><path class="qeU" d="M4000 2683l6-8 56-64-7 5z"/><path class="qjR" d="M3876 3245l2-7 23 135-2 10z"/><path class="qjS" d="M3905 3313l2-34 22-123-2 28z"/><path class="qda" d="M4816 2649l10 1 95-62-10 1z"/><path class="qdo" d="M3453 2441l4 2 121-8-4-1z"/><path class="qdJ" d="M4258 2522l9 0 105-33-9-1z"/><path class="qdC" d="M3704 2530l7 7 39 55-6-13z"/><path class="qeu" d="M4521 2524l36 14 97 29-35-23z"/><path class="qbx" d="M4006 2675l4-4 55-63-3 3z"/><path class="qjT" d="M3946 3092l2-17 23-137-2 12z"/><path class="qgd" d="M3457 2443l4 1 121-7-4-2z"/><path class="qP" d="M4109 2582l9-4 54-46-8 2z"/><path class="qjU" d="M3878 3238l2-21 23 130-2 26z"/><path class="qjV" d="M3870 3182l3 43 23 134-3-52z"/><path class="qcd" d="M4010 2671l1-2 56-62-2 1z"/><path class="qbL" d="M4826 2650l9 1 95-65-9 2z"/><path class="qbD" d="M4011 2669l2-1 55-62-1 1z"/><path class="qeS" d="M4267 2522l9 0 105-32-9-1z"/><path class="qfs" d="M3464 2444l1 1 120-6-1-1zM3465 2445l1 0 121-6-2 0z"/><path class="qbE" d="M4013 2668l2-3 55-61-2 2z"/><path class="qdC" d="M3711 2537l6 9 29 45-6-12z"/><path class="qdu" d="M3467 2445l2 1 121-5-2-1z"/><path class="qbG" d="M4015 2665l2-2 55-60-2 1z"/><path class="qjW" d="M3907 3279l3-62 23-112-4 51z"/><path class="qjX" d="M3880 3217l2-27 23 123-2 34z"/><path class="qcH" d="M3717 2546l7 9 30 52-8-16z"/><path class="qdu" d="M3469 2446l5 1 121-3-5-3z"/><path class="qbM" d="M4835 2651l10 0 95-66-10 1z"/><path class="qdn" d="M4017 2663l4-4 55-59-4 3z"/><path class="qjY" d="M3867 3139l3 43 23 125-3-52z"/><path class="qeS" d="M4276 2522l10 0 105-31-10-1z"/><path class="qfB" d="M3190 2432l30 5 126-20-30-5z"/><path class="qiT" d="M3969 2950l2-12 23-137-2 7z"/><path class="qca" d="M3724 2555l7 11 30 59-7-18z"/><path class="qbJ" d="M4021 2659l4-4 55-57-4 2z"/><path class="qjZ" d="M3971 2938l2-15 23-130-2 8z"/><path class="qeS" d="M4286 2522l5 0 105-30-5-1z"/><path class="qdb" d="M4845 2651l9 0 95-68-9 2z"/><path class="qcg" d="M3479 2449l5 1 121-1-5-3z"/><path class="qbL" d="M4025 2655l4-4 55-56-4 3z"/><path class="qbZ" d="M3731 2566l8 11 23 54-7-18z"/><path class="qka" d="M3882 3190l2-27 23 116-2 34z"/><path class="qdC" d="M4557 2538l36 15 97 39-36-25z"/><path class="qeS" d="M4291 2522l6 0 104-29-5-1z"/><path class="qkb" d="M3864 3095l3 44 23 116-4-53z"/><path class="qhn" d="M3973 2923l2-15 23-124-2 9z"/><path class="qbo" d="M3739 2577l7 12 24 62-8-20z"/><path class="qdb" d="M4029 2651l4-3 55-55-4 2z"/><path class="qbD" d="M3753 2601l4 7 24 80-4-14z"/><path class="qbt" d="M3757 2608l3 7 24 86-3-13z"/><path class="qbN" d="M4854 2651l9 0 95-69-9 1z"/><path class="qdW" d="M3760 2615l4 7 24 95-4-16z"/><path class="qeS" d="M4297 2522l5 0 104-28-5-1z"/><path class="qfu" d="M3489 2452l5 2 121 1-5-3z"/><path class="qkc" d="M3910 3217l4-52 23-103-4 43z"/><path class="qdc" d="M4033 2648l4-4 55-54-4 3z"/><path class="qbg" d="M3975 2908l4-28 23-112-4 16z"/><path class="qdO" d="M4302 2522l5 1 104-28-5-1z"/><path class="qdB" d="M3494 2454l5 1 121 3-5-3z"/><path class="qdc" d="M4863 2651l5 0 95-69-5 0z"/><path class="qkd" d="M3860 3061l4 34 22 107-3-41z"/><path class="qfB" d="M3220 2437l15 2 126-19-15-3z"/><path class="qdO" d="M4307 2523l3 0 104-28-3 0z"/><path class="qdc" d="M4868 2651l3 0 95-70-3 1z"/><path class="qgx" d="M3499 2455l6 2 120 4-5-3z"/><path class="qbo" d="M4037 2644l8-7 56-51-9 4z"/><path class="qke" d="M3884 3163l4-49 22 103-3 62z"/><path class="qdO" d="M4310 2523l2 0 104-27-2-1z"/><path class="qdc" d="M4871 2651l2-1 95-69-2 0z"/><path class="qdO" d="M4312 2523l3 0 104-27-3 0z"/><path class="qbQ" d="M4873 2650l2 0 95-69-2 0z"/><path class="qcS" d="M3979 2880l4-23 23-103-4 14z"/><path class="qcK" d="M4063 2624l17-10 109-85-17 3z"/><path class="qdO" d="M4315 2523l1 0 104-27-1 0z"/><path class="qfv" d="M3507 2458l1 0 121 6-1-1z"/><path class="qbQ" d="M4875 2650l3 0 95-69-3 0z"/><path class="qdO" d="M4316 2523l1 0 105-26-2-1zM4317 2523l1 0 105-26-1 0zM4318 2523l1 1 104-27 0 0z"/><path class="qbT" d="M3799 2702l8 24 23 35-8-7z"/><path class="qcp" d="M3511 2459l2 0 120 7-1-1z"/><path class="qbQ" d="M4878 2650l5 0 94-70-4 1z"/><path class="qdO" d="M4319 2524l2 0 104-27-2 0z"/><path class="qdA" d="M4045 2637l9-7 55-48-8 4z"/><path class="qcp" d="M3513 2459l2 1 121 8-3-2z"/><path class="qdO" d="M4321 2524l4 0 104-26-4-1z"/><path class="qel" d="M4593 2553l36 18 96 44-35-23z"/><path class="qcp" d="M3515 2460l3 1 121 9-3-2z"/><path class="qfB" d="M3235 2439l15 3 126-19-15-3z"/><path class="qer" d="M3983 2857l4-21 23-94-4 12z"/><path class="qdO" d="M4325 2524l3 0 104-25-3-1z"/><path class="qfw" d="M4883 2650l9-1 95-70-10 1z"/><path class="qdO" d="M4328 2524l4 0 104-24-4-1z"/><path class="qfy" d="M3521 2462l5 2 121 12-5-4z"/><path class="qbZ" d="M4054 2630l9-6 55-46-9 4z"/><path class="qkc" d="M3888 3114l4-42 22 93-4 52z"/><path class="qdO" d="M4332 2524l4 1 104-24-4-1z"/><path class="qkf" d="M4080 2614l17-9 110-79-18 3z"/><path class="qH" d="M3987 2836l4-19 23-86-4 11z"/><path class="qU" d="M3526 2464l6 2 121 14-6-4z"/><path class="qbo" d="M4892 2649l10-1 95-69-10 0z"/><path class="qeS" d="M4336 2525l3 0 104-24-3 0z"/><path class="qkg" d="M3853 3105l2-5 23 138-2 7z"/><path class="qeS" d="M4339 2525l7 1 104-23-7-2z"/><path class="qfB" d="M3250 2442l16 3 126-18-16-4z"/><path class="qfb" d="M3645 2509l6 6 60 22-7-7z"/><path class="qfz" d="M3532 2466l10 4 120 18-9-8z"/><path class="qdd" d="M4902 2648l9-1 95-69-9 1z"/><path class="qkh" d="M3847 3054l3 34 23 137-3-43z"/><path class="qdr" d="M3651 2515l6 5 60 26-6-9z"/><path class="qki" d="M3855 3100l2-15 23 132-2 21z"/><path class="qeS" d="M4346 2526l9 1 104-22-9-2z"/><path class="qeA" d="M3542 2470l5 2 120 20-5-4z"/><path class="qdG" d="M4629 2571l37 20 95 43-36-19z"/><path class="qbp" d="M3657 2520l8 7 59 28-7-9z"/><path class="qbB" d="M3892 3072l4-36 22 82-4 47z"/><path class="qcv" d="M3547 2472l5 2 120 22-5-4z"/><path class="qeV" d="M3266 2445l7 1 126-18-7-1z"/><path class="qcU" d="M4097 2605l17-8 110-72-17 1z"/><path class="qkj" d="M3844 3020l3 34 23 128-3-43z"/><path class="qkk" d="M3857 3085l2-20 23 125-2 27z"/><path class="qdh" d="M3665 2527l7 7 59 32-7-11z"/><path class="qeS" d="M4355 2527l9 1 104-20-9-3z"/><path class="qcv" d="M3552 2474l4 2 121 25-5-5z"/><path class="qcQ" d="M3672 2534l7 8 60 35-8-11z"/><path class="qeE" d="M3556 2476l5 2 121 28-5-5z"/><path class="qeV" d="M3273 2446l8 2 126-18-8-2z"/><path class="qkl" d="M3840 2986l4 34 23 119-3-44z"/><path class="qX" d="M3561 2478l5 2 121 31-5-5z"/><path class="qcU" d="M3679 2542l7 8 60 39-7-12z"/><path class="qkm" d="M3859 3065l2-20 23 118-2 27z"/><path class="qdD" d="M4031 2697l9-12 23-61-9 6z"/><path class="qeF" d="M3566 2480l3 1 120 32-2-2z"/><path class="qeS" d="M4364 2528l18 2 104-17-18-5z"/><path class="qfI" d="M3281 2448l6 1 126-18-6-1z"/><path class="qeG" d="M3569 2481l2 1 121 34-3-3z"/><path class="qgK" d="M3977 2864l9-32 22-67-8 23z"/><path class="qeG" d="M3571 2482l2 1 120 34-1-1z"/><path class="qcY" d="M4114 2597l18-6 109-68-17 2z"/><path class="qeB" d="M4666 2591l18 11 95 39-18-7z"/><path class="qkn" d="M3837 2959l3 27 24 109-4-34z"/><path class="qgQ" d="M3573 2483l1 1 121 35-2-2z"/><path class="qfI" d="M3287 2449l6 1 126-17-6-2z"/><path class="qgQ" d="M3574 2484l3 1 121 38-3-4z"/><path class="qeJ" d="M3577 2485l7 3 120 42-6-7z"/><path class="qiN" d="M3861 3045l4-36 23 105-4 49z"/><path class="qfI" d="M3293 2450l3 1 126-17-3-1z"/><path class="qko" d="M3834 2932l3 27 23 102-3-34z"/><path class="qfI" d="M3296 2451l3 0 126-17-3 0z"/><path class="qdJ" d="M4382 2530l18 2 103-14-17-5z"/><path class="qbI" d="M4040 2685l17-21 23-50-17 10z"/><path class="qek" d="M3299 2451l3 1 126-17-3-1z"/><path class="qbQ" d="M4684 2602l19 11 95 33-19-5z"/><path class="qhZ" d="M3986 2832l8-25 23-61-9 19z"/><path class="qek" d="M3302 2452l2 0 126-17-2 0zM3304 2452l2 0 125-16-1-1z"/><path class="qez" d="M4132 2591l17-5 109-64-17 1z"/><path class="qek" d="M3306 2452l1 1 126-17-2 0zM3307 2453l1 0 126-17-1 0zM3308 2453l2 0 126-16-2-1z"/><path class="qgL" d="M3865 3009l3-30 24 93-4 42z"/><path class="qek" d="M3310 2453l4 1 126-16-4-1z"/><path class="qhe" d="M3029 2447l30 5 131-20-30-5z"/><path class="qdH" d="M4400 2532l18 3 103-11-18-6z"/><path class="qdc" d="M4703 2613l18 11 95 25-18-3z"/><path class="qek" d="M3314 2454l4 1 126-16-4-1z"/><path class="qeg" d="M4149 2586l9-2 109-62-9 0z"/><path class="qek" d="M3318 2455l5 1 126-16-5-1z"/><path class="qdb" d="M4051 2677l18-18 28-54-17 9z"/><path class="qek" d="M3323 2456l4 1 126-16-4-1z"/><path class="qgY" d="M3868 2979l5-27 23 84-4 36z"/><path class="qdb" d="M4721 2624l9 5 96 21-10-1z"/><path class="qdh" d="M4158 2584l9-2 109-60-9 0z"/><path class="qek" d="M3327 2457l4 0 126-14-4-2z"/><path class="qhR" d="M3826 2948l2 9 24 143-2-12z"/><path class="qkp" d="M3830 2961l2-2 23 141-2 5z"/><path class="qdi" d="M3331 2457l5 1 125-14-4-1z"/><path class="qbM" d="M4730 2629l10 6 95 16-9-1z"/><path class="qko" d="M3823 2924l3 24 24 140-3-34z"/><path class="qdj" d="M4167 2582l10-2 109-58-10 0z"/><path class="qdi" d="M3336 2458l2 1 126-15-3 0z"/><path class="qba" d="M3971 2868l17-50 23-51-17 40z"/><path class="qkq" d="M3832 2959l2-10 23 136-2 15z"/><path class="qdz" d="M4418 2535l37 7 102-4-36-14z"/><path class="qdi" d="M3338 2459l1 0 126-14-1-1zM3339 2459l1 0 126-14-1 0z"/><path class="qkr" d="M3873 2952l4-21 23 74-4 31z"/><path class="qeE" d="M3584 2488l6 3 61 24-6-6z"/><path class="qdi" d="M3340 2459l1 0 126-14-1 0z"/><path class="qct" d="M3820 2899l3 25 24 130-3-34z"/><path class="qbM" d="M4740 2635l9 5 96 11-10 0z"/><path class="qdi" d="M3341 2459l2 1 126-14-2-1z"/><path class="qks" d="M3834 2949l1-12 24 128-2 20z"/><path class="qdj" d="M4177 2580l5-1 109-57-5 0z"/><path class="qhe" d="M3059 2452l30 5 131-20-30-5z"/><path class="qeF" d="M3590 2491l6 3 61 26-6-5z"/><path class="qdC" d="M3696 2569l1 2 40 39-1-3z"/><path class="qdi" d="M3343 2460l5 1 126-14-5-1z"/><path class="qcM" d="M3697 2571l2 2 40 40-2-3z"/><path class="qfw" d="M4059 2678l17-17 38-64-17 8z"/><path class="qhi" d="M3817 2875l3 24 24 121-4-34z"/><path class="qbp" d="M4182 2579l6-1 109-56-6 0z"/><path class="qbL" d="M4749 2640l9 6 96 5-9 0z"/><path class="qeG" d="M3596 2494l8 4 61 29-8-7z"/><path class="qdi" d="M3348 2461l5 1 126-13-5-2z"/><path class="qkt" d="M3835 2937l2-13 24 121-2 20z"/><path class="qhV" d="M3813 2855l4 20 23 111-3-27z"/><path class="qbp" d="M4188 2578l5-1 109-55-5 0z"/><path class="qff" d="M3353 2462l5 1 126-13-5-1z"/><path class="qeI" d="M3604 2498l7 4 61 32-7-7z"/><path class="qku" d="M3877 2931l8-33 23 60-8 47z"/><path class="qda" d="M4758 2646l10 5 95 0-9 0z"/><path class="qjy" d="M3810 2835l3 20 24 104-3-27z"/><path class="qcP" d="M4193 2577l5-1 109-53-5-1z"/><path class="qff" d="M3358 2463l5 1 126-12-5-2z"/><path class="qhb" d="M3837 2924l4-22 24 107-4 36z"/><path class="qeK" d="M3611 2502l7 4 61 36-7-8z"/><path class="qdq" d="M4768 2651l4 2 96-2-5 0z"/><path class="qcP" d="M4198 2576l3 0 109-53-3 0z"/><path class="qdm" d="M4201 2576l2 0 109-53-2 0z"/><path class="qff" d="M3363 2464l6 1 125-11-5-2z"/><path class="qdq" d="M4772 2653l3 2 96-4-3 0z"/><path class="qdG" d="M4076 2661l18-13 38-57-18 6z"/><path class="qeN" d="M3618 2506l7 4 61 40-7-8z"/><path class="qdq" d="M4775 2655l2 1 96-6-2 1z"/><path class="qdp" d="M4455 2542l36 8 102 3-36-15z"/><path class="qdm" d="M4203 2576l3-1 109-52-3 0z"/><path class="qhe" d="M3089 2457l15 2 131-20-15-2z"/><path class="qdq" d="M4777 2656l2 1 96-7-2 0z"/><path class="qdm" d="M4206 2575l1 0 109-52-1 0z"/><path class="qhj" d="M3369 2465l5 1 125-11-5-1z"/><path class="qdm" d="M4207 2575l1 0 109-52-1 0zM4208 2575l1 0 109-52-1 0zM4209 2575l1 0 109-51-1-1z"/><path class="qeY" d="M3841 2902l4-19 23 96-3 30z"/><path class="qdq" d="M4782 2659l4 2 97-11-5 0z"/><path class="qdm" d="M4210 2575l2 0 109-51-2 0z"/><path class="qew" d="M3374 2466l5 1 126-10-6-2z"/><path class="qdp" d="M4212 2575l4 0 109-51-4 0z"/><path class="qfH" d="M3633 2515l7 5 61 48-7-9z"/><path class="qew" d="M3379 2467l2 1 126-10-2-1z"/><path class="qbJ" d="M4786 2661l10 5 96-17-9 1z"/><path class="qdp" d="M4216 2575l3-1 109-50-3 0z"/><path class="qew" d="M3381 2468l2 0 125-10-1 0zM3383 2468l1 0 126-10-2 0zM3384 2468l1 1 126-10-1-1z"/><path class="qdp" d="M4219 2574l4 0 109-50-4 0z"/><path class="qhe" d="M3104 2459l15 3 131-20-15-3z"/><path class="qfN" d="M3845 2883l4-15 24 84-5 27z"/><path class="qew" d="M3385 2469l2 0 126-10-2 0z"/><path class="qci" d="M4094 2648l17-11 38-51-17 5z"/><path class="qew" d="M3387 2469l2 1 126-10-2-1z"/><path class="qdp" d="M4223 2574l4 0 109-49-4-1z"/><path class="qjc" d="M3647 2525l4 2 61 56-4-5z"/><path class="qbZ" d="M3718 2600l8 12 30 47-8-17z"/><path class="qbI" d="M4796 2666l9 5 97-23-10 1z"/><path class="qhl" d="M3651 2527l2 2 61 56-2-2z"/><path class="qew" d="M3389 2470l3 0 126-9-3-1z"/><path class="qhm" d="M3653 2529l2 1 61 58-2-3z"/><path class="qdr" d="M4227 2574l3-1 109-48-3 0z"/><path class="qbY" d="M3392 2470l3 1 126-9-3-1z"/><path class="qkv" d="M3849 2868l4-12 24 75-4 21z"/><path class="qdr" d="M4230 2573l8 0 108-47-7-1z"/><path class="qbI" d="M4805 2671l10 4 96-28-9 1z"/><path class="qbY" d="M3395 2471l6 1 125-8-5-2z"/><path class="qdj" d="M4491 2550l37 9 101 12-36-18z"/><path class="qhe" d="M3119 2462l15 2 132-19-16-3z"/><path class="qdo" d="M3401 2472l5 1 126-7-6-2z"/><path class="qdr" d="M4238 2573l9 0 108-46-9-1z"/><path class="qgv" d="M3983 2825l17-35 38-65-17 26z"/><path class="qcE" d="M3655 2530l2 1 40 40-1-2z"/><path class="qC" d="M3802 2805l2 6 24 146-2-9z"/><path class="qbi" d="M3853 2856l9-18 23 60-8 33z"/><path class="qcE" d="M3657 2531l1 2 41 40-2-2z"/><path class="qho" d="M3806 2814l2 0 24 145-2 2z"/><path class="qdo" d="M3406 2473l10 3 126-6-10-4z"/><path class="qJ" d="M3799 2791l3 14 24 143-3-24z"/><path class="qca" d="M4092 2662l9-6 57-72-9 2z"/><path class="qdS" d="M3658 2533l4 3 41 42-4-5z"/><path class="qdr" d="M4247 2573l9-1 108-44-9-1z"/><path class="qiM" d="M3808 2814l1-3 25 138-2 10z"/><path class="qkw" d="M3796 2776l3 15 24 133-3-25z"/><path class="qhe" d="M3134 2464l8 1 131-19-7-1z"/><path class="qbM" d="M3737 2628l8 14 24 53-8-21z"/><path class="qio" d="M3662 2536l8 6 41 47-8-11z"/><path class="qhu" d="M3792 2761l4 15 24 123-3-24z"/><path class="qdo" d="M3416 2476l5 1 126-5-5-2z"/><path class="qhp" d="M3809 2811l2-5 24 131-1 12z"/><path class="qbE" d="M3745 2642l8 15 25 58-9-20z"/><path class="qjA" d="M3789 2749l3 12 25 114-4-20z"/><path class="qbd" d="M3786 2737l3 12 24 106-3-20z"/><path class="qbq" d="M4101 2656l9-5 57-69-9 2z"/><path class="qdX" d="M3753 2657l7 14 24 64-6-20z"/><path class="qbI" d="M4056 2705l17-17 38-51-17 11z"/><path class="qdh" d="M3670 2542l9 7 40 52-8-12z"/><path class="qhe" d="M3142 2465l8 2 131-19-8-2z"/><path class="qkx" d="M3973 3657l1-6 24-189-1 5z"/><path class="qgd" d="M3421 2477l5 1 126-4-5-2z"/><path class="qcB" d="M3760 2671l6 13 25 70-7-19z"/><path class="qky" d="M3779 2717l7 20 24 98-6-31z"/><path class="qbj" d="M3811 2806l2-5 24 123-2 13z"/><path class="qfp" d="M3766 2684l7 16 24 77-6-23z"/><path class="qiZ" d="M3773 2700l6 17 25 87-7-27z"/><path class="qbH" d="M3862 2838l8-11 24 48-9 23z"/><path class="qdz" d="M4256 2572l18 0 108-42-18-2z"/><path class="qkz" d="M3974 3651l1-17 24-186-1 14z"/><path class="qcQ" d="M3679 2549l8 7 41 58-9-13z"/><path class="qeh" d="M4528 2559l37 10 101 22-37-20z"/><path class="qgf" d="M3150 2467l6 1 131-19-6-1z"/><path class="qcS" d="M3813 2801l4-8 24 109-4 22z"/><path class="qcF" d="M4110 2651l11-6 56-65-10 2z"/><path class="qfs" d="M3431 2479l5 1 125-2-5-2z"/><path class="qgf" d="M3156 2468l6 1 131-19-6-1z"/><path class="qkA" d="M3975 3634l2-51 24-177-2 42z"/><path class="qhY" d="M3817 2793l4-7 24 97-4 19z"/><path class="qdE" d="M4121 2645l5-2 56-64-5 1z"/><path class="qgf" d="M3162 2469l3 0 131-18-3-1z"/><path class="qdz" d="M4274 2572l18 0 108-40-18-2z"/><path class="qgf" d="M3165 2469l3 1 131-19-3 0z"/><path class="qcK" d="M4126 2643l5-3 57-62-6 1z"/><path class="qcg" d="M3447 2483l2 0 125 1-1-1z"/><path class="qbn" d="M3821 2786l4-4 24 86-4 15z"/><path class="qfB" d="M3168 2470l3 0 131-18-3-1zM3171 2470l2 0 131-18-2 0z"/><path class="qcY" d="M4565 2569l19 6 100 27-18-11z"/><path class="qcM" d="M4131 2640l5-2 57-61-5 1z"/><path class="qfB" d="M3173 2470l1 1 132-19-2 0z"/><path class="qcg" d="M3452 2484l6 2 126 2-7-3z"/><path class="qfB" d="M3174 2471l1 0 132-18-1-1z"/><path class="qkB" d="M3997 3467l1-5 24-191-1 5z"/><path class="qkC" d="M3949 3462l2 10 22 185-1-11z"/><path class="qfl" d="M3825 2782l4-3 24 77-4 12z"/><path class="qkD" d="M3951 3472l0-6 23 185-1 6z"/><path class="qfB" d="M3175 2471l1 0 132-18-1 0z"/><path class="qkE" d="M3977 3583l2-51 24-167-2 41z"/><path class="qfB" d="M3176 2471l3 0 131-18-2 0z"/><path class="qkF" d="M3998 3462l1-14 24-187-1 10z"/><path class="qdC" d="M4136 2638l5-2 57-60-5 1z"/><path class="qkG" d="M3948 3440l1 22 23 184-1-27z"/><path class="qkH" d="M3951 3466l1-14 23 182-1 17z"/><path class="qcg" d="M3458 2486l6 1 126 4-6-3z"/><path class="qfB" d="M3179 2471l4 1 131-18-4-1z"/><path class="qdz" d="M4292 2572l18 1 108-38-18-3z"/><path class="qdC" d="M4141 2636l3-1 57-59-3 0z"/><path class="qkI" d="M3993 3407l1 29 25-184-2-22z"/><path class="qcz" d="M3829 2779l9-2 24 61-9 18z"/><path class="qcM" d="M3712 2580l8 9 25 53-8-14z"/><path class="qfB" d="M3183 2472l4 1 131-18-4-1z"/><path class="qcN" d="M4144 2635l3-1 56-58-2 0z"/><path class="qfu" d="M3464 2487l7 2 125 5-6-3z"/><path class="qcU" d="M4584 2575l19 6 100 32-19-11z"/><path class="qkJ" d="M3999 3448l2-42 24-177-2 32z"/><path class="qkK" d="M3947 3410l1 30 23 179-2-36z"/><path class="qkf" d="M4147 2634l2-1 57-58-3 1z"/><path class="qcF" d="M3720 2589l9 9 24 59-8-15z"/><path class="qfB" d="M3187 2473l4 0 132-17-5-1z"/><path class="qP" d="M4149 2633l2 0 56-58-1 0z"/><path class="qkL" d="M3952 3452l2-41 23 172-2 51z"/><path class="qP" d="M4151 2633l1-1 56-57-1 0z"/><path class="qdB" d="M3471 2489l7 2 126 7-8-4z"/><path class="qP" d="M4152 2632l1 0 56-57-1 0zM4153 2632l1 0 56-57-1 0z"/><path class="qfB" d="M3191 2473l5 1 131-17-4-1z"/><path class="qfK" d="M3979 3532l2-52 24-157-2 42z"/><path class="qkM" d="M3838 2777l8 2 24 48-8 11z"/><path class="qdG" d="M3735 2606l7 7 24 71-6-13z"/><path class="qkE" d="M3946 3380l1 30 22 173-1-37z"/><path class="qbr" d="M4156 2631l3-1 57-55-4 0z"/><path class="qfB" d="M3196 2474l4 1 131-18-4 0z"/><path class="qgx" d="M3478 2491l7 2 126 9-7-4z"/><path class="qeB" d="M3742 2613l6 8 25 79-7-16z"/><path class="qP" d="M4603 2581l19 7 99 36-18-11z"/><path class="qkN" d="M4001 3406l2-41 24-168-2 32z"/><path class="qbr" d="M4159 2630l4-1 56-55-3 1z"/><path class="qdb" d="M3748 2621l7 8 24 88-6-17z"/><path class="qfB" d="M3200 2475l4 0 132-17-5-1z"/><path class="qbZ" d="M4719 2629l5 2 48 22-4-2z"/><path class="qkO" d="M3755 2629l6 8 25 100-7-20z"/><path class="qkP" d="M4021 3276l1-5 24-192-1 3z"/><path class="qbr" d="M4163 2629l4-1 56-54-4 0z"/><path class="qfv" d="M3485 2493l7 2 126 11-7-4z"/><path class="qdH" d="M4310 2573l37 1 108-32-37-7z"/><path class="qfB" d="M3204 2475l2 1 132-17-2-1z"/><path class="qbC" d="M3761 2637l4 5 24 107-3-12z"/><path class="qbZ" d="M4724 2631l2 1 49 23-3-2z"/><path class="qbt" d="M3765 2642l3 4 24 115-3-12z"/><path class="qcc" d="M3768 2646l3 4 25 126-4-15z"/><path class="qfB" d="M3206 2476l2 0 131-17-1 0z"/><path class="qby" d="M3771 2650l3 5 25 136-3-15z"/><path class="qkQ" d="M4022 3271l1-10 24-189-1 7z"/><path class="qdy" d="M3954 3411l2-41 23 162-2 51z"/><path class="qhx" d="M3774 2655l4 4 24 146-3-14z"/><path class="qeH" d="M4726 2632l3 1 48 23-2-1z"/><path class="qkR" d="M3778 2659l1 3 25 149-2-6z"/><path class="qfB" d="M3208 2476l1 0 131-17-1 0z"/><path class="qet" d="M4167 2628l3-1 57-53-4 0z"/><path class="qhz" d="M3779 2662l2 2 25 150-2-3z"/><path class="qkS" d="M3981 3480l2-39 24-150-2 32z"/><path class="qO" d="M4729 2633l2 2 48 22-2-1z"/><path class="qhy" d="M3781 2664l2 3 25 147-2 0z"/><path class="qfB" d="M3209 2476l1 0 131-17-1 0z"/><path class="qkT" d="M3943 3324l3 56 22 166-2-68z"/><path class="qdC" d="M4622 2588l9 4 99 37-9-5z"/><path class="qO" d="M4731 2635l2 1 49 23-3-2z"/><path class="qfB" d="M3210 2476l2 1 131-17-2-1z"/><path class="qhy" d="M3783 2667l2 3 24 141-1 3z"/><path class="qcp" d="M3492 2495l8 2 125 13-7-4z"/><path class="qcU" d="M4170 2627l4-1 56-53-3 1z"/><path class="qhz" d="M3785 2670l2 3 24 133-2 5z"/><path class="qbX" d="M4733 2636l5 2 48 23-4-2z"/><path class="qkU" d="M4003 3365l2-42 24-158-2 32z"/><path class="qkV" d="M4023 3261l2-32 24-179-2 22z"/><path class="qfB" d="M3212 2477l5 0 131-16-5-1z"/><path class="qhz" d="M3787 2673l2 2 24 126-2 5z"/><path class="qcU" d="M4174 2626l7-2 57-51-8 0z"/><path class="qcM" d="M4631 2592l10 3 99 40-10-6z"/><path class="qfx" d="M3500 2497l7 2 126 16-8-5z"/><path class="qdA" d="M4738 2638l10 5 48 23-10-5z"/><path class="qfn" d="M3789 2675l4 6 24 112-4 8z"/><path class="qfB" d="M3217 2477l5 1 131-16-5-1z"/><path class="qkW" d="M3983 3441l2-39 24-143-2 32z"/><path class="qfn" d="M3793 2681l4 6 24 99-4 7z"/><path class="qdb" d="M4068 2708l6-4 57-64-5 3z"/><path class="qdI" d="M3956 3370l2-42 23 152-2 52z"/><path class="qkX" d="M4025 3229l2-32 24-169-2 22z"/><path class="qU" d="M3507 2499l7 3 126 18-7-5z"/><path class="qfB" d="M3222 2478l5 1 131-16-5-1z"/><path class="qcK" d="M4641 2595l9 4 99 41-9-5z"/><path class="qkY" d="M3941 3277l2 47 23 154-2-57z"/><path class="qeu" d="M4181 2624l9-2 57-49-9 0z"/><path class="qdd" d="M4748 2643l9 4 48 24-9-5z"/><path class="qkZ" d="M4005 3323l2-32 24-150-2 24z"/><path class="qfn" d="M3797 2687l4 7 24 88-4 4z"/><path class="qfB" d="M3227 2479l5 1 131-16-5-1z"/><path class="qfn" d="M3801 2694l4 7 24 78-4 3z"/><path class="qfz" d="M3514 2502l8 2 125 21-7-5z"/><path class="qcI" d="M4650 2599l10 4 98 43-9-6z"/><path class="qbo" d="M4757 2647l10 4 48 24-10-4z"/><path class="qcY" d="M4190 2622l9-2 57-48-9 1z"/><path class="qla" d="M4027 3197l2-32 24-159-2 22z"/><path class="qbQ" d="M4079 2700l5-3 57-61-5 2z"/><path class="qfB" d="M3232 2480l5 1 132-16-6-1z"/><path class="qfz" d="M3522 2504l3 1 126 22-4-2z"/><path class="qW" d="M3805 2701l9 14 24 62-9 2z"/><path class="qlb" d="M4046 3079l1-7 25-191-1 4z"/><path class="qlc" d="M4007 3291l2-32 24-143-2 25z"/><path class="qdH" d="M4347 2574l37 3 107-27-36-8z"/><path class="qfX" d="M3938 3240l3 37 23 144-3-45z"/><path class="qld" d="M3985 3402l4-61 24-131-4 49z"/><path class="qle" d="M3958 3328l2-31 23 144-2 39z"/><path class="qcF" d="M4660 2603l9 3 99 45-10-5z"/><path class="qbo" d="M4084 2697l3-2 57-60-3 1z"/><path class="qfz" d="M3527 2506l2 0 126 24-2-1z"/><path class="qfB" d="M3237 2481l5 1 132-16-5-1z"/><path class="qeA" d="M3529 2506l2 1 126 24-2-1z"/><path class="qlf" d="M4047 3072l2-22 25-180-2 11z"/><path class="qen" d="M3814 2715l8 16 24 48-8-2z"/><path class="qkp" d="M4029 3165l2-24 24-151-2 16z"/><path class="qeA" d="M3533 2507l3 2 126 27-4-3z"/><path class="qfB" d="M3242 2482l6 0 131-15-5-1z"/><path class="qdd" d="M4092 2692l1-1 58-58-2 0z"/><path class="qlg" d="M3936 3203l2 37 23 136-2-45z"/><path class="qfN" d="M4049 3050l2-22 25-170-2 12z"/><path class="qdd" d="M4093 2691l2-1 57-58-1 1z"/><path class="qfB" d="M3248 2482l2 1 131-15-2-1z"/><path class="qeD" d="M3536 2509l9 2 125 31-8-6z"/><path class="qdA" d="M4095 2690l0 0 58-58-1 0z"/><path class="qlh" d="M4009 3259l4-49 24-131-4 37z"/><path class="qdA" d="M4095 2690l1-1 58-57-1 0z"/><path class="qfB" d="M3250 2483l1 0 132-15-2 0z"/><path class="qkJ" d="M3960 3297l2-32 23 137-2 39z"/><path class="qli" d="M4031 3141l2-25 24-143-2 17z"/><path class="qfB" d="M3251 2483l2 0 131-15-1 0z"/><path class="qdA" d="M4096 2689l2-1 58-57-2 1z"/><path class="qeV" d="M3253 2483l1 1 131-15-1-1z"/><path class="qic" d="M4051 3028l2-22 24-159-1 11z"/><path class="qeV" d="M3254 2484l1 0 132-15-2 0z"/><path class="qdL" d="M3545 2511l8 3 126 35-9-7z"/><path class="qeV" d="M3255 2484l3 0 131-14-2-1z"/><path class="qlj" d="M3989 3341l3-49 24-122-3 40z"/><path class="qO" d="M4102 2686l4-2 57-55-4 1z"/><path class="qeV" d="M3258 2484l3 1 131-15-3 0z"/><path class="qhn" d="M4053 3006l2-16 24-152-2 9z"/><path class="qQ" d="M4033 3116l4-37 24-132-4 26z"/><path class="qeV" d="M3261 2485l3 0 131-14-3-1z"/><path class="qbZ" d="M4106 2684l3-2 58-54-4 1z"/><path class="qX" d="M3553 2514l8 3 126 39-8-7z"/><path class="qlk" d="M3926 3273l1 8 24 191-2-10z"/><path class="qll" d="M3927 3281l1-4 23 189 0 6z"/><path class="qhK" d="M4013 3210l3-40 24-122-3 31z"/><path class="qeV" d="M3264 2485l5 1 132-14-6-1z"/><path class="qbi" d="M4055 2990l2-17 24-144-2 9z"/><path class="qbZ" d="M4109 2682l4-2 57-53-3 1z"/><path class="qlm" d="M3962 3265l4-49 23 125-4 61z"/><path class="qln" d="M3925 3256l1 17 23 189-1-22z"/><path class="qdH" d="M4384 2577l37 4 107-22-37-9z"/><path class="qlo" d="M3928 3277l1-11 23 186-1 14z"/><path class="qeF" d="M3561 2517l9 3 125 44-8-8z"/><path class="qcV" d="M4113 2680l4-1 57-53-4 1z"/><path class="qeV" d="M3269 2486l6 1 131-14-5-1z"/><path class="qkd" d="M3992 3292l4-40 24-114-4 32z"/><path class="qco" d="M4057 2973l4-26 24-132-4 14z"/><path class="qhc" d="M4037 3079l3-31 25-122-4 21z"/><path class="qlp" d="M3924 3233l1 23 23 184-1-30z"/><path class="qfJ" d="M4117 2679l7-4 57-51-7 2z"/><path class="qP" d="M4142 2668l18-6 114-90-18 0z"/><path class="qlq" d="M3929 3266l2-31 23 176-2 41z"/><path class="qlr" d="M4016 3170l4-32 24-115-4 25z"/><path class="qeV" d="M3275 2487l10 2 131-13-10-3z"/><path class="qls" d="M3922 3210l2 23 23 177-1-30z"/><path class="qbZ" d="M3748 2637l4 5 41 39-4-6z"/><path class="qP" d="M4669 2606l5 2 50 23-5-2z"/><path class="qci" d="M4124 2675l9-4 57-49-9 2z"/><path class="qO" d="M3752 2642l4 4 41 41-4-6z"/><path class="qlf" d="M4040 3048l4-25 24-115-3 18z"/><path class="qfI" d="M3285 2489l5 0 131-12-5-1z"/><path class="qlt" d="M3966 3216l3-39 23 115-3 49z"/><path class="qdd" d="M3756 2646l4 5 41 43-4-7z"/><path class="qkf" d="M4674 2608l2 1 50 23-2-1z"/><path class="qeX" d="M3713 2604l3 3 62 52-4-4z"/><path class="qcN" d="M4676 2609l3 1 50 23-3-1z"/><path class="qbo" d="M3760 2651l4 6 41 44-4-7z"/><path class="qcK" d="M3716 2607l2 1 61 54-1-3z"/><path class="qdC" d="M4679 2610l2 1 50 24-2-2z"/><path class="qlu" d="M3931 3235l2-31 23 166-2 41z"/><path class="qfI" d="M3290 2489l5 1 131-12-5-1z"/><path class="qlv" d="M3920 3166l2 44 24 170-3-56z"/><path class="qdE" d="M3718 2608l1 2 62 54-2-2z"/><path class="qdC" d="M4681 2611l3 1 49 24-2-1z"/><path class="qcH" d="M3719 2610l2 2 62 55-2-3z"/><path class="qlw" d="M3996 3252l8-64 24-103-8 53z"/><path class="qbq" d="M4133 2671l9-3 57-48-9 2z"/><path class="qcF" d="M3721 2612l2 2 62 56-2-3z"/><path class="qet" d="M4160 2662l19-5 113-85-18 0z"/><path class="qdC" d="M4684 2612l4 2 50 24-5-2z"/><path class="qjI" d="M3723 2614l4 3 62 58-4-5z"/><path class="qfI" d="M3295 2490l4 1 132-12-5-1z"/><path class="qlx" d="M4020 3138l8-53 24-102-8 40z"/><path class="qly" d="M4044 3023l8-40 24-103-8 28z"/><path class="qdz" d="M4421 2581l38 5 106-17-37-10z"/><path class="qcM" d="M4688 2614l10 5 50 24-10-5z"/><path class="qfI" d="M3299 2491l5 1 132-12-5-1z"/><path class="qhD" d="M3969 3177l4-32 23 107-4 40z"/><path class="qlz" d="M3917 3130l3 36 23 158-2-47z"/><path class="qlA" d="M3933 3204l2-31 23 155-2 42z"/><path class="qfI" d="M3304 2492l5 1 131-12-4-1z"/><path class="qcK" d="M4698 2619l10 4 49 24-9-4z"/><path class="qek" d="M3309 2493l3 0 131-11-3-1zM3312 2493l2 0 131-10-2-1z"/><path class="qlB" d="M3915 3101l2 29 24 147-3-37z"/><path class="qeu" d="M4179 2657l18-4 113-80-18-1z"/><path class="qek" d="M3314 2493l2 1 131-11-2 0z"/><path class="qcI" d="M4708 2623l9 4 50 24-10-4z"/><path class="qek" d="M3316 2494l1 0 132-11-2 0z"/><path class="qlC" d="M3935 3173l2-24 23 148-2 31z"/><path class="qek" d="M3317 2494l3 0 132-10-3-1z"/><path class="qlD" d="M4028 3085l9-48 24-91-9 37z"/><path class="qjT" d="M4004 3188l9-59 24-92-9 48z"/><path class="qgI" d="M3912 3072l3 29 23 139-2-37z"/><path class="qeD" d="M3570 2520l17 7 63 27-17-12z"/><path class="qek" d="M3320 2494l7 1 131-9-6-2z"/><path class="qlE" d="M3973 3145l8-51 23 94-8 64z"/><path class="qgP" d="M4459 2586l19 3 106-14-19-6z"/><path class="qlF" d="M3937 3149l2-24 23 140-2 32z"/><path class="qek" d="M3327 2495l6 1 131-9-6-1z"/><path class="qlG" d="M3907 3028l5 44 24 131-5-56z"/><path class="qek" d="M3333 2496l6 2 132-9-7-2z"/><path class="qK" d="M4118 2751l9-10 24-76-9 3z"/><path class="qib" d="M4037 3037l9-38 24-83-9 30z"/><path class="qcQ" d="M4197 2653l37-7 113-72-37-1z"/><path class="qdr" d="M4478 2589l19 3 106-11-19-6z"/><path class="qlH" d="M3939 3125l3-37 24 128-4 49z"/><path class="qek" d="M3339 2498l8 1 131-8-7-2z"/><path class="qlI" d="M4013 3129l9-46 24-84-9 38z"/><path class="qej" d="M3706 2598l4 3 42 41-4-5z"/><path class="qbL" d="M4127 2741l9-9 24-70-9 3z"/><path class="qeG" d="M3603 2533l13 5 64 38-13-10z"/><path class="qeu" d="M3710 2601l4 3 42 42-4-4z"/><path class="qlG" d="M3981 3094l9-46 23 81-9 59z"/><path class="qek" d="M3347 2499l7 1 131-7-7-2z"/><path class="qen" d="M3817 2734l17 33 24 52-17-40z"/><path class="qet" d="M3714 2604l4 4 42 43-4-5z"/><path class="qdb" d="M3770 2664l17 22 31 48-18-28z"/><path class="qbr" d="M3718 2608l5 3 41 46-4-6z"/><path class="qdr" d="M4497 2592l19 3 106-7-19-7z"/><path class="qdi" d="M3354 2500l7 1 131-6-7-2z"/><path class="qdN" d="M3616 2538l7 3 63 40-6-5z"/><path class="qfV" d="M3942 3088l4-29 23 118-3 39z"/><path class="qdC" d="M3723 2611l8 8 42 49-9-11z"/><path class="qlJ" d="M3901 3067l1 12 24 194-1-17z"/><path class="qcd" d="M3787 2686l17 25 31 56-17-33z"/><path class="qlK" d="M3905 3082l1-7 23 191-1 11z"/><path class="qeJ" d="M3623 2541l6 2 64 44-7-6z"/><path class="qeQ" d="M4022 3083l9-35 24-77-9 28z"/><path class="qdi" d="M3361 2501l8 1 131-5-8-2z"/><path class="qbQ" d="M4136 2732l19-14 24-61-19 5z"/><path class="qlL" d="M3900 3051l1 16 24 189-1-23z"/><path class="qcK" d="M3731 2619l9 8 42 52-9-11z"/><path class="qdp" d="M4516 2595l10 2 105-5-9-4z"/><path class="qcx" d="M3629 2543l7 3 64 46-7-5z"/><path class="qlM" d="M3906 3075l1-20 24 180-2 31z"/><path class="qlN" d="M3899 3035l1 16 24 182-2-23z"/><path class="qel" d="M3740 2627l9 8 41 57-8-13z"/><path class="qlO" d="M3946 3059l4-23 23 109-4 32z"/><path class="qdi" d="M3369 2502l7 2 131-5-7-2z"/><path class="qhO" d="M3990 3048l9-35 23 70-9 46z"/><path class="qeK" d="M3636 2546l7 3 63 49-6-6z"/><path class="qeg" d="M4234 2646l37-4 113-65-37-3z"/><path class="qdm" d="M4526 2597l9 1 106-3-10-3z"/><path class="qlP" d="M3896 3004l3 31 23 175-2-44z"/><path class="qdi" d="M3376 2504l7 1 131-3-7-3z"/><path class="qlQ" d="M3907 3055l2-21 24 170-2 31z"/><path class="qeN" d="M3643 2549l6 3 64 52-7-6z"/><path class="qfE" d="M3649 2552l4 1 63 54-3-3z"/><path class="qdm" d="M4535 2598l10 2 105-1-9-4z"/><path class="qy" d="M3893 2979l3 25 24 162-3-36z"/><path class="qeO" d="M3653 2553l1 1 64 54-2-1z"/><path class="qff" d="M3383 2505l8 1 131-2-8-2z"/><path class="qbo" d="M4149 2733l18-13 30-67-18 4z"/><path class="qeO" d="M3654 2554l2 0 63 56-1-2z"/><path class="qfF" d="M3656 2554l2 1 63 57-2-2z"/><path class="qjL" d="M3950 3036l7-37 24 95-8 51z"/><path class="qhR" d="M3909 3034l2-21 24 160-2 31z"/><path class="qfF" d="M3658 2555l2 1 63 58-2-2z"/><path class="qhb" d="M3891 2959l2 20 24 151-2-29z"/><path class="qfG" d="M3660 2556l4 2 63 59-4-3z"/><path class="qeQ" d="M3999 3013l9-26 23 61-9 35z"/><path class="qff" d="M3394 2507l2 0 131-1-2-1zM3396 2507l2 0 131-1-2 0z"/><path class="qlR" d="M3888 2938l3 21 24 142-3-29z"/><path class="qff" d="M3398 2507l2 1 131-1-2-1z"/><path class="qgW" d="M3911 3013l2-16 24 152-2 24z"/><path class="qbE" d="M3792 2689l17 25 25 53-17-33z"/><path class="qff" d="M3400 2508l2 0 131-1-2 0z"/><path class="qbp" d="M4555 2602l9 2 105 2-9-3z"/><path class="qfZ" d="M3883 2907l5 31 24 134-5-44z"/><path class="qeq" d="M4119 2810l18-22 30-68-18 13z"/><path class="qbp" d="M4564 2604l5 1 105 3-5-2z"/><path class="qcM" d="M3738 2621l17 16 32 49-17-22z"/><path class="qby" d="M3809 2714l18 30 25 61-18-38z"/><path class="qQ" d="M3913 2997l2-15 24 143-2 24z"/><path class="qew" d="M3405 2508l9 2 131 1-9-2z"/><path class="qiC" d="M3957 2999l9-33 24 82-9 46z"/><path class="qdj" d="M4271 2642l38-2 112-59-37-4zM4572 2606l2 0 105 4-3-1z"/><path class="qdP" d="M3664 2558l4 2 42 41-4-3z"/><path class="qed" d="M3827 2744l17 35 25 74-17-48z"/><path class="qhf" d="M4008 2987l9-26 24 53-10 34z"/><path class="qdj" d="M4574 2606l3 1 104 4-2-1z"/><path class="qjk" d="M3867 2843l6 18 24 102-5-24z"/><path class="qdj" d="M4577 2607l2 0 105 5-3-1z"/><path class="qbn" d="M3862 2825l5 18 25 96-5-24z"/><path class="qeN" d="M3668 2560l4 1 42 43-4-3z"/><path class="qbT" d="M3844 2779l9 22 25 80-9-28z"/><path class="qhs" d="M3853 2801l9 24 25 90-9-34z"/><path class="qew" d="M3414 2510l8 1 131 3-8-3z"/><path class="qbZ" d="M4167 2720l37-18 30-56-37 7z"/><path class="qlD" d="M3915 2982l3-24 24 130-3 37z"/><path class="qdj" d="M4579 2607l5 1 104 6-4-2z"/><path class="qci" d="M3755 2637l18 17 31 57-17-25z"/><path class="qeO" d="M3676 2563l4 2 43 46-5-3z"/><path class="qdj" d="M4584 2608l10 2 104 9-10-5z"/><path class="qew" d="M3422 2511l8 2 131 4-8-3z"/><path class="qdQ" d="M3680 2565l9 4 42 50-8-8z"/><path class="qlf" d="M3918 2958l4-18 24 119-4 29z"/><path class="qfZ" d="M3966 2966l9-25 24 72-9 35z"/><path class="qdh" d="M4594 2610l9 2 105 11-10-4z"/><path class="qbY" d="M3430 2513l9 1 131 6-9-3z"/><path class="qfH" d="M3689 2569l9 5 42 53-9-8z"/><path class="qdg" d="M4137 2788l38-31 29-55-37 18z"/><path class="qiG" d="M4017 2961l19-37 23 40-18 50z"/><path class="qeg" d="M4603 2612l10 2 104 13-9-4z"/><path class="qjw" d="M3922 2940l4-15 24 111-4 23z"/><path class="qdR" d="M3698 2574l8 4 43 57-9-8z"/><path class="qdo" d="M3439 2514l16 3 132 10-17-7z"/><path class="qbp" d="M4309 2640l38-1 112-53-38-5z"/><path class="qci" d="M3767 2643l17 18 25 53-17-25z"/><path class="qiY" d="M3975 2941l9-17 24 63-9 26z"/><path class="qhn" d="M3926 2925l7-23 24 97-7 37z"/><path class="qjZ" d="M3877 2873l1 7 24 199-1-12z"/><path class="qdA" d="M3784 2661l18 20 25 63-18-30z"/><path class="qjF" d="M3880 2882l1-3 25 196-1 7z"/><path class="qlS" d="M3875 2864l2 9 24 194-1-16z"/><path class="qed" d="M4108 2857l37-44 30-56-38 31z"/><path class="qci" d="M4194 2720l38-15 39-63-37 4z"/><path class="qC" d="M3874 2855l1 9 25 187-1-16z"/><path class="qeP" d="M3706 2578l18 9 31 50-17-16z"/><path class="qdo" d="M3455 2517l17 3 131 13-16-6z"/><path class="qlT" d="M3881 2879l2-10 24 186-1 20z"/><path class="qlU" d="M3984 2924l10-17 23 54-9 26z"/><path class="qbj" d="M3871 2839l3 16 25 180-3-31z"/><path class="qbJ" d="M3802 2681l17 24 25 74-17-35z"/><path class="qlV" d="M3869 2825l2 14 25 165-3-25z"/><path class="qiM" d="M3883 2869l2-10 24 175-2 21z"/><path class="qlW" d="M3866 2813l3 12 24 154-2-20z"/><path class="qcX" d="M3933 2902l9-19 24 83-9 33z"/><path class="qdm" d="M4347 2639l19 1 112-51-19-3z"/><path class="qbt" d="M3819 2705l9 14 25 82-9-22z"/><path class="qep" d="M3864 2802l2 11 25 146-3-21z"/><path class="qdM" d="M4030 2914l18-24 29 35-18 39z"/><path class="qhl" d="M3724 2587l17 9 32 58-18-17z"/><path class="qlX" d="M3885 2859l2-9 24 163-2 21z"/><path class="qby" d="M3828 2719l9 15 25 91-9-24z"/><path class="qcD" d="M3858 2784l6 18 24 136-5-31z"/><path class="qfs" d="M3472 2520l13 2 131 16-13-5z"/><path class="qfn" d="M3837 2734l6 11 24 98-5-18z"/><path class="qbU" d="M3853 2769l5 15 25 123-5-25z"/><path class="qgp" d="M3843 2745l5 11 25 105-6-18z"/><path class="qlY" d="M3848 2756l5 13 25 113-5-21z"/><path class="qlZ" d="M3887 2850l1-8 25 155-2 16z"/><path class="qfs" d="M3485 2522l7 1 131 18-7-3z"/><path class="qma" d="M3994 2907l18-23 24 40-19 37z"/><path class="qmb" d="M3888 2842l2-7 25 147-2 15z"/><path class="qgt" d="M3942 2883l9-14 24 72-9 25z"/><path class="qdm" d="M4366 2640l19 0 112-48-19-3z"/><path class="qdu" d="M3492 2523l7 2 130 18-6-2z"/><path class="qcd" d="M4155 2794l37-26 40-63-38 15z"/><path class="qhu" d="M3890 2835l4-10 24 133-3 24z"/><path class="qdT" d="M3741 2596l18 10 25 55-17-18z"/><path class="qdu" d="M3499 2525l6 1 131 20-7-3z"/><path class="qcK" d="M4232 2705l38-11 39-54-38 2z"/><path class="qgA" d="M3951 2869l9-9 24 64-9 17z"/><path class="qjA" d="M3894 2825l4-8 24 123-4 18z"/><path class="qR" d="M3505 2526l7 1 131 22-7-3z"/><path class="qdp" d="M4385 2640l20 1 111-46-19-3z"/><path class="qez" d="M3759 2606l17 11 26 64-18-20z"/><path class="qmc" d="M3898 2817l3-6 25 114-4 15z"/><path class="qcg" d="M3512 2527l6 1 131 24-6-3z"/><path class="qfq" d="M3960 2860l9-8 25 55-10 17z"/><path class="qcg" d="M3518 2528l4 1 131 24-4-1zM3522 2529l1 0 131 25-1-1zM3523 2529l2 0 131 25-2 0z"/><path class="qdr" d="M4405 2641l9 0 112-44-10-2z"/><path class="qfe" d="M3901 2811l8-8 24 99-7 23z"/><path class="qmd" d="M3776 2617l18 12 25 76-17-24z"/><path class="qcg" d="M3525 2529l2 1 131 25-2-1zM3527 2530l2 0 131 26-2-1z"/><path class="qbc" d="M4115 2869l37-38 40-63-37 26z"/><path class="qcg" d="M3529 2530l4 1 131 27-4-2z"/><path class="qhk" d="M4000 2864l18-9 30 35-18 24z"/><path class="qdr" d="M4414 2641l10 1 111-44-9-1z"/><path class="qfu" d="M3533 2531l4 0 131 29-4-2z"/><path class="qcM" d="M3794 2629l9 6 25 84-9-14z"/><path class="qme" d="M3909 2803l9-5 24 85-9 19z"/><path class="qfu" d="M3537 2531l4 1 131 29-4-1z"/><path class="qgu" d="M3969 2852l19-9 24 41-18 23z"/><path class="qdb" d="M4192 2768l38-19 40-55-38 11z"/><path class="qcH" d="M3803 2635l9 7 25 92-9-15z"/><path class="qdB" d="M3541 2532l4 1 131 30-4-2z"/><path class="qdr" d="M4424 2642l10 0 111-42-10-2z"/><path class="qfh" d="M3812 2642l5 4 26 99-6-11z"/><path class="qdB" d="M3545 2533l4 1 131 31-4-2z"/><path class="qem" d="M3817 2646l5 4 26 106-5-11z"/><path class="qcJ" d="M3918 2798l9-3 24 74-9 14z"/><path class="qeH" d="M3822 2650l6 4 25 115-5-13z"/><path class="qcK" d="M4250 2721l38-10 59-72-38 1z"/><path class="qdr" d="M4434 2642l10 1 111-41-10-2z"/><path class="qdB" d="M3549 2534l9 1 131 34-9-4z"/><path class="qeB" d="M3828 2654l5 4 25 126-5-15z"/><path class="qil" d="M3833 2658l5 4 26 140-6-18z"/><path class="qmf" d="M3838 2662l3 2 25 149-2-11z"/><path class="qif" d="M3853 2674l1 2 25 207-1-3z"/><path class="qkO" d="M3841 2664l3 3 25 158-3-12z"/><path class="qmg" d="M3846 2669l3 2 25 184-3-16z"/><path class="qin" d="M3844 2667l2 2 25 170-2-14z"/><path class="qmh" d="M3854 2676l1 0 25 206-1 1z"/><path class="qif" d="M3855 2676l1 1 25 202-1 3z"/><path class="qdr" d="M4444 2643l9 1 111-40-9-2z"/><path class="qgx" d="M3558 2535l9 2 131 37-9-5z"/><path class="qdW" d="M3856 2677l2 2 25 190-2 10z"/><path class="qcy" d="M3927 2795l9 1 24 64-9 9z"/><path class="qmi" d="M3858 2679l2 1 25 179-2 10z"/><path class="qdr" d="M4453 2644l5 0 111-39-5-1z"/><path class="qeZ" d="M3860 2680l2 2 25 168-2 9z"/><path class="qeF" d="M3677 2571l17 6 65 29-18-10z"/><path class="qfv" d="M3567 2537l9 1 130 40-8-4z"/><path class="qdr" d="M4458 2644l3 0 111-38-3-1z"/><path class="qdg" d="M3862 2682l2 2 24 158-1 8z"/><path class="qdr" d="M4461 2644l2 0 111-38-2 0z"/><path class="qed" d="M3936 2796l9 0 24 56-9 8z"/><path class="qmj" d="M3864 2684l1 1 25 150-2 7z"/><path class="qdr" d="M4463 2644l3 0 111-37-3-1z"/><path class="qby" d="M4152 2831l38-27 40-55-38 19z"/><path class="qdr" d="M4466 2644l2 1 111-38-2 0z"/><path class="qbC" d="M3865 2685l4 4 25 136-4 10z"/><path class="qdr" d="M4468 2645l5 0 111-37-5-1z"/><path class="qcN" d="M4288 2711l20-4 58-67-19-1z"/><path class="qcp" d="M3576 2538l17 3 131 46-18-9z"/><path class="qbE" d="M3869 2689l4 3 25 125-4 8z"/><path class="qdN" d="M3694 2577l18 7 64 33-17-11z"/><path class="qdr" d="M4473 2645l10 1 111-36-10-2z"/><path class="qmk" d="M3873 2692l3 4 25 115-3 6z"/><path class="qch" d="M3945 2796l18 6 25 41-19 9z"/><path class="qbW" d="M3969 2813l19 6 30 36-18 9z"/><path class="qK" d="M3876 2696l8 7 25 100-8 8z"/><path class="qdr" d="M4483 2646l10 1 110-35-9-2z"/><path class="qbr" d="M4308 2707l19-3 58-64-19 0z"/><path class="qcx" d="M3712 2584l18 8 64 37-18-12z"/><path class="qkO" d="M3884 2703l9 8 25 87-9 5z"/><path class="qdr" d="M4493 2647l10 1 110-34-10-2z"/><path class="qbI" d="M4190 2804l39-20 59-73-38 10z"/><path class="qkO" d="M3893 2711l9 10 25 74-9 3z"/><path class="qeN" d="M3730 2592l9 4 64 39-9-6z"/><path class="qK" d="M3902 2721l9 9 25 66-9-1z"/><path class="qet" d="M4327 2704l19-3 59-60-20-1z"/><path class="qeO" d="M3739 2596l9 4 64 42-9-7z"/><path class="qbG" d="M3911 2730l9 10 25 56-9 0z"/><path class="qbW" d="M4092 2861l38 21 60-78-38 27z"/><path class="qdQ" d="M3748 2600l10 5 64 45-10-8z"/><path class="qcU" d="M4346 2701l10-1 58-59-9 0z"/><path class="qfH" d="M3758 2605l6 3 64 46-6-4z"/><path class="qcd" d="M3920 2740l19 20 24 42-18-6z"/><path class="qfb" d="M3764 2608l5 2 64 48-5-4z"/><path class="qdc" d="M4229 2784l19-8 60-69-20 4z"/><path class="qW" d="M4160 2843l19 3 30-52-19 10z"/><path class="qeu" d="M4356 2700l10-1 58-57-10-1z"/><path class="qeP" d="M3769 2610l5 3 64 49-5-4z"/><path class="qfs" d="M3593 2541l18 3 66 27-18-7z"/><path class="qcc" d="M3939 2760l18 23 31 36-19-6z"/><path class="qcE" d="M3774 2613l6 3 64 51-6-5z"/><path class="qdS" d="M3780 2616l2 1 64 52-2-2z"/><path class="qej" d="M4366 2699l10 0 58-57-10 0z"/><path class="qdS" d="M3782 2617l3 2 64 52-3-2z"/><path class="qhl" d="M3785 2619l3 1 64 53-3-2zM3788 2620l1 1 64 53-1-1z"/><path class="qej" d="M3830 2652l4 2 42 42-3-4z"/><path class="qhl" d="M3789 2621l1 0 64 55-1-2zM3790 2621l1 1 64 54-1 0zM3791 2622l1 0 64 55-1-1z"/><path class="qio" d="M3792 2622l2 1 64 56-2-2z"/><path class="qcY" d="M4376 2699l10-1 58-55-10-1z"/><path class="qdu" d="M3611 2544l17 4 66 29-17-6z"/><path class="qcA" d="M4179 2846l19 4 31-66-20 10z"/><path class="qdd" d="M4248 2776l19-7 60-65-19 3z"/><path class="qcU" d="M3834 2654l8 6 42 43-8-7z"/><path class="qhm" d="M3794 2623l4 2 64 57-4-3z"/><path class="qdT" d="M3798 2625l3 2 64 58-3-3z"/><path class="qbr" d="M3842 2660l9 6 42 45-9-8z"/><path class="qip" d="M3801 2627l4 2 64 60-4-4z"/><path class="qcY" d="M4386 2698l9-1 58-53-9-1z"/><path class="qdh" d="M3805 2629l4 2 64 61-4-3z"/><path class="qcN" d="M3851 2666l9 7 42 48-9-10z"/><path class="qt" d="M4214 3672l3-15 26-179-3 12z"/><path class="qei" d="M4395 2697l5 0 58-53-5 0z"/><path class="qcg" d="M3628 2548l18 3 66 33-18-7z"/><path class="qcQ" d="M4400 2697l3 0 58-53-3 0z"/><path class="qeq" d="M4198 2850l19 7 31-81-19 8z"/><path class="qO" d="M4267 2769l20-6 59-62-19 3z"/><path class="qcQ" d="M4403 2697l2 0 58-53-2 0z"/><path class="qii" d="M4148 2899l19 17 31-66-19-4z"/><path class="qcK" d="M3860 2673l18 14 42 53-18-19z"/><path class="qcQ" d="M4405 2697l3 0 58-53-3 0z"/><path class="qbz" d="M4217 3657l5-47 27-170-6 38z"/><path class="qml" d="M4236 3490l2 4 27-184-3-3z"/><path class="qcg" d="M3646 2551l18 3 66 38-18-8z"/><path class="qgz" d="M4229 3443l4 36 27-180-4-27z"/><path class="qbZ" d="M4287 2763l10-2 59-61-10 1z"/><path class="qev" d="M4223 2841l19 8 25-80-19 7z"/><path class="qfh" d="M3878 2687l19 15 42 58-19-20z"/><path class="qcZ" d="M4167 2916l19 23 31-82-19-7z"/><path class="qmm" d="M4240 3490l3-12 27-180-3 9z"/><path class="qmn" d="M4225 3402l4 41 27-171-5-31z"/><path class="qdI" d="M4186 3467l2 12 21 192-2-13z"/><path class="qfK" d="M4191 3483l2-4 21 193-3 5z"/><path class="qdF" d="M4297 2761l10-3 59-59-10 1z"/><path class="qdB" d="M3664 2554l9 2 66 40-9-4z"/><path class="qmo" d="M4222 3610l6-50 26-161-5 41z"/><path class="qbU" d="M4199 2906l18 22 25-79-19-8z"/><path class="qmp" d="M4221 3361l4 41 26-161-4-31z"/><path class="qmq" d="M4182 3430l4 37 21 191-4-45z"/><path class="qO" d="M3897 2702l18 17 42 64-18-23z"/><path class="qmr" d="M4243 3478l6-38 26-171-5 29z"/><path class="qms" d="M4193 3479l3-12 21 190-3 15z"/><path class="qdW" d="M4242 2849l10 5 25-88-10 3z"/><path class="qga" d="M4217 3327l4 34 26-151-4-26z"/><path class="qdB" d="M3673 2556l9 1 66 43-9-4z"/><path class="qca" d="M4307 2758l9-2 60-57-10 0z"/><path class="qcZ" d="M4217 2928l10 15 25-89-10-5z"/><path class="qlN" d="M4262 3307l3 3 27-185-3-2z"/><path class="qlk" d="M4177 3389l5 41 21 183-4-51z"/><path class="qgV" d="M4256 3272l4 27 27-181-5-18z"/><path class="qba" d="M4174 2972l18 36 25-80-18-22z"/><path class="qK" d="M3926 2735l37 39 31 58-37-49z"/><path class="qhK" d="M4212 3292l5 35 26-143-5-25z"/><path class="qdW" d="M4252 2854l10 6 25-97-10 3z"/><path class="qP" d="M4349 2750l2-1 117-104-2-1z"/><path class="qlN" d="M4265 3310l2-3 27-184-2 2z"/><path class="qhS" d="M4251 3241l5 31 26-172-4-21z"/><path class="qP" d="M4351 2749l5 0 117-104-5 0z"/><path class="qmt" d="M4196 3467l5-38 21 181-5 47z"/><path class="qgx" d="M3682 2557l10 2 66 46-10-5z"/><path class="qbR" d="M4227 2943l9 14 26-97-10-6z"/><path class="qmu" d="M4267 3307l3-9 27-182-3 7z"/><path class="qy" d="M4247 3210l4 31 27-162-5-20z"/><path class="qiw" d="M4192 3008l10 23 25-88-10-15z"/><path class="qmv" d="M4204 3237l8 55 26-133-9-42z"/><path class="qeN" d="M3787 2611l4 2 43 41-4-2z"/><path class="qci" d="M4316 2756l10-2 60-56-10 1z"/><path class="qmw" d="M4249 3440l5-41 27-162-6 32z"/><path class="qmx" d="M4228 3560l5-51 27-151-6 41z"/><path class="qhh" d="M4243 3184l4 26 26-151-4-17z"/><path class="qie" d="M4202 3031l9 24 25-98-9-14z"/><path class="qmy" d="M4173 3347l4 42 22 173-4-51z"/><path class="qif" d="M4262 2860l9 8 26-107-10 2z"/><path class="qmz" d="M4195 3191l9 46 25-120-9-34z"/><path class="qiC" d="M4238 3159l5 25 26-142-5-17z"/><path class="qbd" d="M4236 2957l10 19 25-108-9-8z"/><path class="qdZ" d="M3791 2613l8 3 43 44-8-6z"/><path class="qbr" d="M4356 2749l10-2 117-101-10-1z"/><path class="qiM" d="M4211 3055l9 28 26-107-10-19z"/><path class="qfv" d="M3692 2559l6 1 66 48-6-3z"/><path class="qjl" d="M4229 3117l9 42 26-134-9-27z"/><path class="qhb" d="M4186 3152l9 39 25-108-9-28z"/><path class="qjF" d="M4220 3083l9 34 26-119-9-22z"/><path class="qiU" d="M4176 3120l10 32 25-97-9-24z"/><path class="qmA" d="M4270 3298l5-29 27-173-5 20z"/><path class="qcA" d="M3969 2786l37 49 25 56-37-59z"/><path class="qgR" d="M4246 2976l9 22 26-120-10-10z"/><path class="qbq" d="M4326 2754l10-2 59-55-9 1z"/><path class="qfv" d="M3698 2560l5 1 66 49-5-2z"/><path class="qeO" d="M3799 2616l9 4 43 46-9-6z"/><path class="qev" d="M4271 2868l10 10 26-120-10 3z"/><path class="qmB" d="M4169 3311l4 36 22 164-4-43z"/><path class="qbn" d="M4255 2998l9 27 26-134-9-13z"/><path class="qbr" d="M4366 2747l10-1 117-99-10-1z"/><path class="qhY" d="M4264 3025l5 17 26-143-5-8z"/><path class="qeo" d="M4269 3042l4 17 27-152-5-8z"/><path class="qhp" d="M4278 3079l4 21 27-174-5-9z"/><path class="qcp" d="M3703 2561l5 1 66 51-5-3z"/><path class="qco" d="M4273 3059l5 20 26-162-4-10z"/><path class="qho" d="M4282 3100l5 18 27-183-5-9z"/><path class="qlS" d="M4287 3118l2 5 27-185-2-3z"/><path class="qeR" d="M4336 2752l5-1 59-54-5 0z"/><path class="qmC" d="M4254 3399l6-41 26-152-5 31z"/><path class="qmD" d="M4201 3429l6-41 21 172-6 50z"/><path class="qiG" d="M4289 3123l3 2 27-187-3 0z"/><path class="qdQ" d="M3808 2620l9 4 43 49-9-7z"/><path class="qmE" d="M4233 3509l6-40 26-144-5 33z"/><path class="qgr" d="M4281 2878l9 13 26-135-9 2z"/><path class="qiY" d="M4292 3125l2-2 27-186-2 1z"/><path class="qcp" d="M3708 2562l6 1 66 53-6-3z"/><path class="qko" d="M4275 3269l6-32 26-162-5 21z"/><path class="qcF" d="M4341 2751l3 0 59-54-3 0zM4344 2751l2-1 59-53-2 0z"/><path class="qhn" d="M4294 3123l3-7 27-182-3 3z"/><path class="qet" d="M4376 2746l10-2 117-96-10-1z"/><path class="qft" d="M4290 2891l5 8 26-144-5 1z"/><path class="qcF" d="M4346 2750l3 0 59-53-3 0z"/><path class="qcp" d="M3716 2564l3 0 66 55-3-2z"/><path class="qbT" d="M4006 2835l38 59 24 67-37-70z"/><path class="qmF" d="M4295 2899l5 8 26-153-5 1z"/><path class="qcp" d="M3719 2564l3 1 66 55-3-1z"/><path class="qfb" d="M3817 2624l18 9 43 54-18-14z"/><path class="qC" d="M4297 3116l5-20 27-173-5 11z"/><path class="qfx" d="M3722 2565l1 0 66 56-1-1zM3723 2565l2 0 65 56-1 0z"/><path class="qhx" d="M4300 2907l4 10 27-164-5 1z"/><path class="qmG" d="M4260 3358l5-33 26-144-5 25z"/><path class="qfx" d="M3725 2565l0 1 66 56-1-1z"/><path class="qmH" d="M4281 3237l5-31 27-152-6 21z"/><path class="qfx" d="M3725 2566l1 0 66 56-1 0z"/><path class="qfy" d="M3726 2566l2 0 66 57-2-1z"/><path class="qgq" d="M4304 2917l5 9 27-174-5 1z"/><path class="qmI" d="M4239 3469l5-40 27-136-6 32z"/><path class="qmJ" d="M4207 3388l5-41 21 162-5 51z"/><path class="qmK" d="M4146 3172l10 47 22 137-9-58z"/><path class="qhA" d="M4309 2926l5 9 27-184-5 1z"/><path class="qH" d="M4044 2894l19 36 24 76-19-45z"/><path class="qbj" d="M4302 3096l5-21 27-163-5 11z"/><path class="qU" d="M3732 2567l4 1 65 59-3-2z"/><path class="qfn" d="M4314 2935l2 3 28-187-3 0zM4316 2938l3 0 27-188-2 1z"/><path class="qU" d="M3736 2568l3 0 66 61-4-2z"/><path class="qmv" d="M4137 3131l9 41 23 126-9-49z"/><path class="qhl" d="M3835 2633l19 10 43 59-19-15z"/><path class="qiw" d="M4063 2930l18 37 24 83-18-44z"/><path class="qkR" d="M4319 2938l2-1 28-187-3 0z"/><path class="qlD" d="M4286 3206l5-25 27-144-5 17z"/><path class="qfV" d="M4265 3325l6-32 26-136-6 24z"/><path class="qU" d="M3739 2568l4 1 66 62-4-2z"/><path class="qhA" d="M4321 2937l3-3 27-185-2 1z"/><path class="qgi" d="M4081 2967l19 45 24 92-19-54z"/><path class="qcT" d="M4307 3075l6-21 26-153-5 11z"/><path class="qhh" d="M4119 3065l9 33 23 111-9-40z"/><path class="qhf" d="M4100 3012l19 53 23 104-18-65z"/><path class="qcF" d="M3894 2686l37 29 32 59-37-39z"/><path class="qhx" d="M4324 2934l5-11 27-174-5 0z"/><path class="qmL" d="M4212 3347l5-33 22 155-6 40z"/><path class="qmM" d="M4291 3181l6-24 26-137-5 17z"/><path class="qmN" d="M4244 3429l11-63 26-124-10 51z"/><path class="qda" d="M3944 2739l37 39 25 57-37-49z"/><path class="qhq" d="M4313 3054l5-17 26-145-5 9z"/><path class="qip" d="M3854 2643l18 10 43 66-18-17z"/><path class="qft" d="M4329 2923l5-11 27-164-5 1z"/><path class="qlP" d="M4271 3293l10-51 26-124-10 39z"/><path class="qif" d="M4334 2912l5-11 27-154-5 1z"/><path class="qdB" d="M3743 2569l4 1 44 43-4-2z"/><path class="qmO" d="M4318 3037l5-17 27-137-6 9z"/><path class="qmP" d="M4217 3314l6-32 21 147-5 40z"/><path class="qcc" d="M4339 2901l5-9 27-146-5 1z"/><path class="qjw" d="M4297 3157l10-39 27-124-11 26z"/><path class="qgx" d="M3747 2570l8 1 44 45-8-3z"/><path class="qmQ" d="M4167 3280l2 3 22 200-3-4zM4169 3283l3-2 21 198-2 4z"/><path class="qeZ" d="M4344 2892l6-9 26-137-5 0z"/><path class="qmR" d="M4160 3243l4 28 22 196-4-37z"/><path class="qea" d="M4323 3020l11-26 26-125-10 14z"/><path class="qev" d="M3981 2778l38 47 25 69-38-59z"/><path class="qgx" d="M3755 2571l9 2 44 47-9-4z"/><path class="qmS" d="M4172 3281l2-9 22 195-3 12z"/><path class="qmT" d="M4155 3210l5 33 22 187-5-41z"/><path class="qdg" d="M4350 2883l10-14 26-125-10 2z"/><path class="qfv" d="M3764 2573l9 2 44 49-9-4z"/><path class="qmU" d="M4151 3178l4 32 22 179-4-42z"/><path class="qmV" d="M4174 3272l5-29 22 186-5 38z"/><path class="qmW" d="M4223 3282l11-51 21 135-11 63z"/><path class="qbc" d="M4019 2825l19 28 25 77-19-36z"/><path class="qmX" d="M4146 3151l5 27 22 169-4-36z"/><path class="qcp" d="M3773 2575l18 4 44 54-18-9z"/><path class="qlP" d="M4142 3123l4 28 23 160-5-35z"/><path class="qbU" d="M4038 2853l19 29 24 85-18-37z"/><path class="qcK" d="M3918 2691l38 29 25 58-37-39z"/><path class="qkV" d="M4179 3243l6-31 22 176-6 41z"/><path class="qcE" d="M3862 2637l37 18 32 60-37-29z"/><path class="qhs" d="M4057 2882l19 36 24 94-19-45z"/><path class="qku" d="M4123 3042l10 37 23 140-10-47z"/><path class="qhY" d="M4076 2918l19 41 24 106-19-53z"/><path class="qfN" d="M4114 3011l9 31 23 130-9-41z"/><path class="qfy" d="M3791 2579l19 3 44 61-19-10z"/><path class="qlU" d="M4095 2959l9 26 24 113-9-33z"/><path class="qiY" d="M4104 2985l10 26 23 120-9-33z"/><path class="qmY" d="M4185 3212l5-32 22 167-5 41z"/><path class="qeH" d="M3956 2720l38 34 25 71-38-47z"/><path class="qfz" d="M3810 2582l19 4 43 67-18-10z"/><path class="qmZ" d="M4190 3180l5-24 22 158-5 33z"/><path class="qbL" d="M3994 2754l19 21 25 78-19-28z"/><path class="qgO" d="M4195 3156l6-25 22 151-6 32z"/><path class="qeP" d="M3893 2643l38 19 25 58-38-29z"/><path class="qcd" d="M4013 2775l19 21 25 86-19-29z"/><path class="qfy" d="M3829 2586l37 8 33 61-37-18z"/><path class="qby" d="M4032 2796l20 26 24 96-19-36z"/><path class="qha" d="M4201 3131l10-37 23 137-11 51z"/><path class="qna" d="M4145 3076l2 2 22 205-2-3z"/><path class="qnb" d="M4137 3050l5 19 22 202-4-28z"/><path class="qna" d="M4147 3078l2-1 23 204-3 2z"/><path class="qmM" d="M4133 3027l4 23 23 193-5-33z"/><path class="qnc" d="M4149 3077l3-6 22 201-2 9z"/><path class="qgp" d="M4052 2822l19 29 24 108-19-41z"/><path class="qfN" d="M4128 3005l5 22 22 183-4-32z"/><path class="qnd" d="M4123 2986l5 19 23 173-5-27z"/><path class="qee" d="M4071 2851l9 19 24 115-9-26z"/><path class="qdh" d="M3931 2662l38 21 25 71-38-34z"/><path class="qC" d="M4119 2967l4 19 23 165-4-28z"/><path class="qne" d="M4152 3071l5-20 22 192-5 29z"/><path class="qcZ" d="M4080 2870l10 18 24 123-10-26z"/><path class="qcs" d="M4109 2936l10 31 23 156-9-44z"/><path class="qfj" d="M4090 2888l10 22 23 132-9-31z"/><path class="qnf" d="M4100 2910l9 26 24 143-10-37z"/><path class="qng" d="M4157 3051l5-21 23 182-6 31z"/><path class="qfy" d="M3866 2594l38 8 27 60-38-19z"/><path class="qeu" d="M3969 2683l19 13 25 79-19-21z"/><path class="qjw" d="M4162 3030l6-20 22 170-5 32z"/><path class="qcN" d="M3988 2696l19 13 25 87-19-21z"/><path class="qnh" d="M4168 3010l5-17 22 163-5 24z"/><path class="qcF" d="M4007 2709l20 15 25 98-20-26z"/><path class="qbi" d="M4173 2993l5-16 23 154-6 25z"/><path class="qeA" d="M3904 2602l39 9 26 72-38-21z"/><path class="qni" d="M4027 2724l19 17 25 110-19-29z"/><path class="qcm" d="M4178 2977l11-25 22 142-10 37z"/><path class="qik" d="M4046 2741l10 11 24 118-9-19z"/><path class="qhw" d="M4056 2752l10 10 24 126-10-18z"/><path class="qK" d="M4066 2762l9 13 25 135-10-22z"/><path class="qcv" d="M3943 2611l19 4 26 81-19-13z"/><path class="qbt" d="M4075 2775l10 14 24 147-9-26z"/><path class="qgr" d="M4085 2789l10 17 24 161-10-31z"/><path class="qnj" d="M4110 2839l4 12 23 199-4-23z"/><path class="qnk" d="M4119 2862l3 3 23 211-3-7z"/><path class="qnl" d="M4105 2827l5 12 23 188-5-22z"/><path class="qkR" d="M4095 2806l5 10 23 170-4-19z"/><path class="qgp" d="M4100 2816l5 11 23 178-5-19z"/><path class="qnm" d="M4122 2865l2 2 23 211-2-2zM4124 2867l3-1 22 211-2 1z"/><path class="qnk" d="M4127 2866l2-2 23 207-3 6z"/><path class="qeE" d="M3962 2615l20 5 25 89-19-13z"/><path class="qnn" d="M4129 2864l5-10 23 197-5 20z"/><path class="qja" d="M4134 2854l6-10 22 186-5 21z"/><path class="qno" d="M3982 2620l19 4 26 100-20-15z"/><path class="qlY" d="M4140 2844l5-10 23 176-6 20z"/><path class="qnp" d="M4001 2624l20 5 25 112-19-17z"/><path class="qgp" d="M4145 2834l5-7 23 166-5 17z"/><path class="qkR" d="M4150 2827l5-8 23 158-5 16z"/><path class="qnq" d="M4021 2629l10 3 25 120-10-11z"/><path class="qnr" d="M4031 2632l10 2 25 128-10-10z"/><path class="qft" d="M4155 2819l10-11 24 144-11 25z"/><path class="qns" d="M4041 2634l10 2 24 139-9-13z"/><path class="qnt" d="M4051 2636l10 3 24 150-10-14z"/><path class="qnu" d="M4061 2639l10 2 24 165-10-17z"/><path class="qnv" d="M4071 2641l5 2 24 173-5-10z"/><path class="qnw" d="M4076 2643l5 1 24 183-5-11z"/><path class="qnx" d="M4081 2644l5 1 24 194-5-12z"/><path class="qny" d="M4086 2645l5 2 23 204-4-12z"/><path class="qnz" d="M4091 2647l5 1 23 214-5-11z"/><path class="qnA" d="M4096 2648l2 1 24 216-3-3z"/><path class="qnB" d="M4098 2649l3 0 23 218-2-2zM4101 2649l2 1 24 216-3 1zM4103 2650l3 1 23 213-2 2z"/><path class="qnz" d="M4106 2651l5 1 23 202-5 10z"/><path class="qny" d="M4111 2652l5 1 24 191-6 10z"/><path class="qnC" d="M4116 2653l5 2 24 179-5 10z"/><path class="qnD" d="M4121 2655l5 1 24 171-5 7z"/><path class="qnE" d="M4126 2656l5 1 24 162-5 8z"/><path class="qnv" d="M4131 2657l10 3 24 148-10 11z"/></g></g>
<path d="M308.0 377.1L302.9 244.7" stroke="#707070" stroke-width="1.1" fill="none"/>
<path d="M302.9 244.7h-1.8M303.4 258.7h-1.8M304.0 272.5h-1.8M304.5 286.2h-1.8M305.0 299.6h-1.8M305.5 312.9h-1.8M306.0 326.1h-1.8M306.5 339.1h-1.8M307.0 351.9h-1.8M307.5 364.5h-1.8M308.0 377.1h-1.8" stroke="#808080" stroke-width="0.8"/>
<g font-family="'Liberation Sans', Arial, sans-serif" font-weight="bold" font-size="6.0" fill="#222" text-anchor="end"><text x="300.3" y="247.3">0</text><text x="300.8" y="261.3">-5</text><text x="301.4" y="275.1">-10</text><text x="301.9" y="288.7">-15</text><text x="302.4" y="302.2">-20</text><text x="302.9" y="315.5">-25</text><text x="303.4" y="328.6">-30</text><text x="303.9" y="341.6">-35</text><text x="304.4" y="354.4">-40</text><text x="304.9" y="367.1">-45</text><text x="305.4" y="379.6">-50</text></g>
<text transform="translate(289.2,316.7) rotate(90)" text-anchor="middle" font-family="'Liberation Sans', Arial, sans-serif" font-weight="bold" font-size="8.1" fill="#222">Reflection loss (dB)</text>
<g font-family="'Liberation Sans', Arial, sans-serif" font-weight="bold" font-size="4.0" fill="#2a2a2a" text-anchor="middle"><text transform="translate(302.2,380.2) rotate(22) skewX(-25)">2</text><text transform="translate(313.6,384.4) rotate(22) skewX(-25)">4</text><text transform="translate(325.4,388.8) rotate(22) skewX(-25)">6</text><text transform="translate(337.7,393.4) rotate(22) skewX(-25)">8</text><text transform="translate(350.5,398.1) rotate(22) skewX(-25)">10</text><text transform="translate(363.7,403.0) rotate(22) skewX(-25)">12</text><text transform="translate(377.5,408.1) rotate(22) skewX(-25)">14</text><text transform="translate(391.8,413.4) rotate(22) skewX(-25)">16</text><text transform="translate(406.7,418.9) rotate(22) skewX(-25)">18</text><text transform="translate(422.0,419.9) rotate(-27)">1.0</text><text transform="translate(433.8,413.7) rotate(-27)">1.5</text><text transform="translate(445.1,407.7) rotate(-27)">2.0</text><text transform="translate(455.9,401.9) rotate(-27)">2.5</text><text transform="translate(466.3,396.4) rotate(-27)">3.0</text><text transform="translate(476.3,391.2) rotate(-27)">3.5</text><text transform="translate(485.8,386.1) rotate(-27)">4.0</text><text transform="translate(495.0,381.2) rotate(-27)">4.5</text><text transform="translate(503.8,376.6) rotate(-27)">5.0</text></g>
<text transform="translate(342.9,403.2) rotate(19.9) skewX(-25)" text-anchor="middle" font-family="'Liberation Sans', Arial, sans-serif" font-weight="bold" font-size="5.9" fill="#2a2a2a">Frequency (GHz)</text>
<text transform="translate(474.7,400.2) rotate(-27.2)" text-anchor="middle" font-family="'Liberation Sans', Arial, sans-serif" font-weight="bold" font-size="5.8" fill="#222">Thickness (mm)</text>
<text x="279.5" y="232.4" font-family="'Liberation Sans', Arial, sans-serif" font-weight="bold" font-size="19.5" fill="#111">(d)</text>
<defs><linearGradient id="cbd" x1="0" y1="0" x2="0" y2="1"><stop offset="0.00" stop-color="#0a5c0a"/><stop offset="0.06" stop-color="#1e7414"/><stop offset="0.13" stop-color="#37821e"/><stop offset="0.19" stop-color="#529628"/><stop offset="0.26" stop-color="#70a832"/><stop offset="0.32" stop-color="#96be46"/><stop offset="0.38" stop-color="#b9d255"/><stop offset="0.45" stop-color="#d7e664"/><stop offset="0.51" stop-color="#f8f26c"/><stop offset="0.57" stop-color="#fad246"/><stop offset="0.64" stop-color="#fab932"/><stop offset="0.70" stop-color="#f8a023"/><stop offset="0.77" stop-color="#f58714"/><stop offset="0.83" stop-color="#dc6e0a"/><stop offset="0.89" stop-color="#be5a0a"/><stop offset="0.95" stop-color="#96460a"/><stop offset="1.00" stop-color="#64320a"/></linearGradient></defs>
<rect x="510.8" y="238.7" width="9.1" height="122.9" fill="url(#cbd)"/>
<path d="M519.9 238.7h1.6M519.9 251.0h1.6M519.9 263.3h1.6M519.9 275.6h1.6M519.9 287.9h1.6M519.9 300.2h1.6M519.9 312.4h1.6M519.9 324.7h1.6M519.9 337.0h1.6M519.9 349.3h1.6M519.9 361.6h1.6" stroke="#666" stroke-width="0.6"/>
<g font-family="'Liberation Sans', Arial, sans-serif" font-weight="bold" font-size="5.0" fill="#333"><text x="522.9" y="240.5">0.00</text><text x="522.9" y="252.8">-5.00</text><text x="522.9" y="265.1">-10.00</text><text x="522.9" y="277.4">-15.00</text><text x="522.9" y="289.7">-20.00</text><text x="522.9" y="302.0">-25.00</text><text x="522.9" y="314.2">-30.00</text><text x="522.9" y="326.5">-35.00</text><text x="522.9" y="338.8">-40.00</text><text x="522.9" y="351.1">-45.00</text><text x="522.9" y="363.4">-50.00</text></g>
<polygon points="304.7,593.1 393.6,559.3 393.7,440.6 299.2,456.3" fill="#fff"/>
<polygon points="393.6,559.3 494.7,587.7 501.1,453.7 393.7,440.6" fill="#fff"/>
<path d="M304.1 580.2L393.6 548.0M393.6 548.0L495.3 575.0M303.6 567.1L393.6 536.6M393.6 536.6L496.0 562.2M303.1 553.8L393.6 525.0M393.6 525.0L496.6 549.2M302.6 540.4L393.7 513.3M393.7 513.3L497.2 536.0M302.0 526.8L393.7 501.5M393.7 501.5L497.8 522.7M301.5 513.0L393.7 489.6M393.7 489.6L498.5 509.2M300.9 499.1L393.7 477.6M393.7 477.6L499.1 495.6M300.3 485.0L393.7 465.4M393.7 465.4L499.8 481.8M299.8 470.7L393.7 453.1M393.7 453.1L500.5 467.8M299.2 456.3L393.7 440.6M393.7 440.6L501.1 453.7M317.3 588.3L312.7 454.0M329.5 583.7L325.7 451.9M341.2 579.2L338.2 449.8M352.4 575.0L350.2 447.8M363.3 570.8L361.7 445.9M373.8 566.9L372.8 444.1M383.9 563.0L383.5 442.3M393.6 559.3L393.7 440.6M393.6 559.3L393.7 440.6M404.9 562.5L405.7 442.1M416.5 565.8L418.0 443.6M428.6 569.1L430.7 445.1M441.0 572.6L443.8 446.7M453.7 576.2L457.4 448.4M467.0 579.9L471.5 450.1M480.6 583.8L486.0 451.8" stroke="#e8e8e8" stroke-width="0.6" fill="none"/>
<path d="M299.2 456.3L393.7 440.6M393.7 440.6L501.1 453.7M501.1 453.7L494.7 587.7" stroke="#cfcfcf" stroke-width="0.8" fill="none"/>
<clipPath id="fcf"><polygon points="304.7,593.1 393.6,559.3 494.7,587.7 410.3,632.3"/></clipPath>
<filter id="fbf" x="-5%" y="-5%" width="110%" height="110%"><feGaussianBlur stdDeviation="1.5"/></filter>
<filter id="fsf" x="-50%" y="-50%" width="200%" height="200%"><feGaussianBlur stdDeviation="1.8"/></filter>
<g clip-path="url(#fcf)"><g filter="url(#fbf)"><polygon points="304.7,593.1 393.6,559.3 494.7,587.7 410.3,632.3" fill="#0f620c"/><path d="M4947 5877l-844 446-298-111-147-74-61-55-16-55-34-29-11-30 19-43-6-38 57-73 38-27 32-29 69-45 89-51 124-64 989 278z" fill="#267817" transform="scale(.1)"/></g><g filter="url(#fsf)"><path d="M3872 6132l215 0 83 106-267-16z" fill="#8ab740" opacity="0.5" transform="scale(.1)"/><path d="M3736 5988l169-16 8 77-198 8z" fill="#8ab740" opacity="0.5" transform="scale(.1)"/><path d="M3719 5894l130-17-12 56-150 13z" fill="#8ab740" opacity="0.5" transform="scale(.1)"/><path d="M3745 5820l128-22-34 52-141 20z" fill="#8ab740" opacity="0.5" transform="scale(.1)"/><path d="M3794 5758l113-21-35 45-125 19z" fill="#8ab740" opacity="0.5" transform="scale(.1)"/><path d="M3862 5706l99-22-42 39-109 20z" fill="#8ab740" opacity="0.5" transform="scale(.1)"/><path d="M3935 5658l89-20-42 34-93 19z" fill="#8ab740" opacity="0.5" transform="scale(.1)"/><path d="M4009 5613l20 6 23 7-85 17z" fill="#8ab740" opacity="0.5" transform="scale(.1)"/></g></g>
<path d="M316.2 597.4L404.9 562.5M328.2 601.8L416.5 565.8M340.7 606.4L428.6 569.1M353.6 611.2L441.0 572.6M366.9 616.2L453.7 576.2M380.8 621.3L467.0 579.9M395.3 626.7L480.6 583.8M317.3 588.3L422.6 625.8M329.5 583.7L434.2 619.6M341.2 579.2L445.4 613.7M352.4 575.0L456.1 608.1M363.3 570.8L466.4 602.7M373.8 566.9L476.2 597.5M383.9 563.0L485.7 592.5" stroke="#fff" stroke-opacity="0.1" stroke-width="0.5" fill="none"/>
<polygon points="304.7,593.1 393.6,559.3 494.7,587.7 410.3,632.3" fill="none" stroke="#0c3a08" stroke-width="0.8"/>
<filter id="sbf" x="-2%" y="-2%" width="104%" height="104%"><feGaussianBlur stdDeviation="0.6"/></filter>
<g filter="url(#sbf)"><g class="sf" transform="scale(.1)"><path class="qeq" d="M3960 4605l4 26 50 51-4-33z"/><path class="qbD" d="M3955 4580l5 25 50 44-5-33z"/><path class="qeH" d="M3946 4539l9 41 50 36-9-52z"/><path class="qei" d="M3931 4493l15 46 50 25-15-60z"/><path class="qdu" d="M3835 4436l14 10 103-4-15-16z"/><path class="qjs" d="M3952 4640l5 26 34 43-5-31z"/><path class="qcB" d="M3947 4613l5 27 34 38-5-30z"/><path class="qfy" d="M3849 4446l15 15 103 5-15-24z"/><path class="qjE" d="M3988 4774l5-1 34-50-6 14z"/><path class="qgQ" d="M3864 4461l15 21 102 22-14-38z"/><path class="qie" d="M3959 4823l4-5 34-54-4 9z"/><path class="qeB" d="M3908 4560l5 18 51 53-4-26z"/><path class="qbq" d="M3904 4542l4 18 52 45-5-25z"/><path class="qfb" d="M3879 4482l15 32 52 25-15-46z"/><path class="qcy" d="M3928 4649l4 29 34 36-4-22z"/><path class="qcU" d="M3894 4514l10 28 51 38-9-41z"/><path class="qF" d="M3923 4623l5 26 34 43-5-26z"/><path class="qdg" d="M3918 4600l5 23 34 43-5-26z"/><path class="qdb" d="M3913 4578l5 22 34 40-5-27z"/><path class="qcG" d="M3903 4673l6 31 34 43-5-36z"/><path class="qW" d="M3898 4645l5 28 35 38-6-33z"/><path class="qbx" d="M3875 4607l5 21 52 50-4-29z"/><path class="qdb" d="M3870 4587l5 20 53 42-5-26z"/><path class="qfh" d="M3861 4553l9 34 53 36-10-45z"/><path class="qew" d="M3728 4449l15 7 106-10-14-10z"/><path class="qcY" d="M3851 4526l10 27 52 25-9-36z"/><path class="qdu" d="M3743 4456l15 9 106-4-15-15z"/><path class="qcp" d="M3758 4465l15 12 106 5-15-21z"/><path class="qbd" d="M3884 4713l6 24 35 43-6-17z"/><path class="qcJ" d="M3873 4660l11 53 35 50-10-59z"/><path class="qeE" d="M3773 4477l15 18 106 19-15-32z"/><path class="qby" d="M3868 4635l5 25 36 44-6-31z"/><path class="qbE" d="M3862 4612l6 23 35 38-5-28z"/><path class="qeO" d="M3788 4495l9 14 107 33-10-28z"/><path class="qez" d="M4048 4582l10-8 101-52-10 4z"/><path class="qnF" d="M3917 4808l4-1 35-60-4 9z"/><path class="qdj" d="M4058 4574l19-11 102-46-20 5z"/><path class="qbP" d="M3862 4741l8 54 53-16-8-6z"/><path class="qgu" d="M3858 4715l4 26 53 32-4-5z"/><path class="qdp" d="M4077 4563l15-6 102-42-15 2z"/><path class="qdJ" d="M3797 4509l10 18 54 26-10-27z"/><path class="qel" d="M3822 4563l5 15 53 50-5-21z"/><path class="qeh" d="M3807 4527l10 23 53 37-9-34z"/><path class="qcN" d="M3817 4550l5 13 53 44-5-20z"/><path class="qG" d="M3886 4867l6-11 35-64-6 15z"/><path class="qbV" d="M3854 4692l4 23 36 35-4-13z"/><path class="qcl" d="M3849 4663l5 29 36 45-6-24z"/><path class="qcE" d="M4092 4557l8-3 101-40-7 1z"/><path class="qeZ" d="M3838 4615l11 48 35 50-11-53z"/><path class="qbQ" d="M3832 4595l6 20 35 45-5-25z"/><path class="qca" d="M3827 4578l5 17 36 40-6-23z"/><path class="qdz" d="M4100 4554l8-2 101-39-8 1z"/><path class="qdJ" d="M4108 4552l8-2 101-37-8 0z"/><path class="qeS" d="M4116 4550l8-2 101-35-8 0z"/><path class="qbi" d="M3855 4817l4 9 27 41-4-6z"/><path class="qit" d="M3843 4755l8 45 27 45-8-50z"/><path class="qY" d="M4124 4548l17-3 101-32-17 0z"/><path class="qbq" d="M3996 4632l9-13 53-45-10 8z"/><path class="qbT" d="M3826 4697l8 45 36 53-8-54z"/><path class="qek" d="M3617 4464l15 5 111-13-15-7z"/><path class="qdU" d="M4141 4545l16-2 101-29-16-1z"/><path class="qdf" d="M3822 4676l4 21 36 44-4-26z"/><path class="qby" d="M3818 4657l4 19 36 39-4-23z"/><path class="qdC" d="M4005 4619l20-19 52-37-19 11z"/><path class="qew" d="M3632 4469l15 6 111-10-15-9z"/><path class="qec" d="M4157 4543l16 0 101-28-16-1z"/><path class="qbI" d="M3794 4618l6 22 54 52-5-29z"/><path class="qbZ" d="M3783 4583l11 35 55 45-11-48z"/><path class="qcY" d="M3772 4556l6 13 54 26-5-17z"/><path class="qdC" d="M3778 4569l5 14 55 32-6-20z"/><path class="qfs" d="M3647 4475l15 7 111-5-15-12z"/><path class="qcZ" d="M3816 4715l8 40 27 45-8-45z"/><path class="qdP" d="M4173 4543l16-1 101-25-16-2z"/><path class="qex" d="M3662 4482l15 10 111 3-15-18z"/><path class="qeM" d="M4189 4542l8 1 101-24-8-2z"/><path class="qfz" d="M3677 4492l10 8 110 9-9-14z"/><path class="qeM" d="M4197 4543l8 0 101-23-8-1z"/><path class="qdL" d="M3687 4500l10 9 110 18-10-18z"/><path class="qfq" d="M3813 4756l7 17 36 42-6-3z"/><path class="qeJ" d="M3697 4509l10 11 110 30-10-23z"/><path class="qby" d="M3789 4653l8 35 37 54-8-45z"/><path class="qeO" d="M3707 4520l4 7 111 36-5-13z"/><path class="qeM" d="M4205 4543l16 1 101-20-16-4z"/><path class="qcN" d="M3972 4638l15-15 105-66-15 6z"/><path class="qbV" d="M3891 4780l6-8 36-67-6 15z"/><path class="qeP" d="M3711 4527l5 7 111 44-5-15z"/><path class="qbG" d="M3785 4637l4 16 37 44-4-21z"/><path class="qnG" d="M3782 4622l3 15 37 39-4-19z"/><path class="qcU" d="M3987 4623l8-6 105-63-8 3z"/><path class="qdP" d="M4221 4544l17 2 100-18-16-4z"/><path class="qii" d="M3800 4727l4 15 28 42-4-12z"/><path class="qds" d="M3796 4710l4 17 28 45-4-17z"/><path class="qfn" d="M3788 4675l8 35 28 45-8-40z"/><path class="qcY" d="M3995 4617l8-5 105-60-8 2z"/><path class="qF" d="M3907 4753l10-22 35-66-9 18z"/><path class="qez" d="M4003 4612l8-6 105-56-8 2z"/><path class="qec" d="M4238 4546l32 5 100-13-32-10z"/><path class="qfq" d="M3861 4840l10-16 36-71-10 19z"/><path class="qeh" d="M4011 4606l8-5 105-53-8 2z"/><path class="qdQ" d="M3716 4534l6 8 56 27-6-13z"/><path class="qdp" d="M3722 4542l5 9 56 32-5-14z"/><path class="qdX" d="M3917 4731l9-19 36-60-10 13z"/><path class="qez" d="M3727 4551l12 22 55 45-11-35z"/><path class="qdC" d="M3739 4573l5 13 56 54-6-22z"/><path class="qdj" d="M4019 4601l17-8 105-48-17 3z"/><path class="qii" d="M3783 4730l6 32 37 24-6-13z"/><path class="qjs" d="M3776 4699l7 31 37 43-7-17z"/><path class="qK" d="M3926 4712l10-20 36-54-10 14z"/><path class="qdd" d="M3752 4608l8 25 37 55-8-35z"/><path class="qbq" d="M3748 4596l4 12 37 45-4-16z"/><path class="qeX" d="M3744 4586l4 10 37 41-3-15z"/><path class="qdU" d="M4270 4551l34 6 99-6-33-13z"/><path class="qeq" d="M3772 4681l4 18 28 43-4-15z"/><path class="qcc" d="M3768 4664l4 17 28 46-4-17z"/><path class="qbI" d="M3760 4633l8 31 28 46-8-35z"/><path class="qdp" d="M4036 4593l16-5 105-45-16 2z"/><path class="qeV" d="M3502 4481l15 4 115-16-15-5z"/><path class="qfw" d="M3936 4692l15-23 36-46-15 15z"/><path class="qdz" d="M4052 4588l16-5 105-40-16 0z"/><path class="qek" d="M3517 4485l15 4 115-14-15-6z"/><path class="qdH" d="M4304 4557l33 9 99 1-33-16z"/><path class="qid" d="M3791 4849l6 10 28 49-6-7z"/><path class="qdd" d="M3933 4691l8-11 54-63-8 6z"/><path class="qbT" d="M3761 4726l12 57 28 46-12-67z"/><path class="qdJ" d="M4068 4583l16-3 105-38-16 1z"/><path class="qff" d="M3532 4489l15 5 115-12-15-7z"/><path class="qbZ" d="M3941 4680l7-11 55-57-8 5z"/><path class="qdr" d="M4337 4566l15 5 99 4-15-8z"/><path class="qF" d="M3745 4688l6 26 38 48-6-32z"/><path class="qeS" d="M4084 4580l8-1 105-36-8-1z"/><path class="qdo" d="M3547 4494l15 6 115-8-15-10z"/><path class="qdD" d="M3739 4664l6 24 38 42-7-31z"/><path class="qci" d="M3948 4669l9-10 54-53-8 6z"/><path class="qdO" d="M4092 4579l8-1 105-35-8 0z"/><path class="qdm" d="M4352 4571l16 6 98 7-15-9z"/><path class="qfs" d="M3562 4500l10 4 115-4-10-8z"/><path class="qcH" d="M3957 4659l8-9 54-49-8 5z"/><path class="qbp" d="M3687 4566l4 7 57 23-4-10z"/><path class="qeg" d="M3691 4573l4 9 57 26-4-12z"/><path class="qbQ" d="M3715 4633l4 13 57 53-4-18z"/><path class="qcU" d="M3695 4582l8 18 57 33-8-25z"/><path class="qdG" d="M3711 4621l4 12 57 48-4-17z"/><path class="qcH" d="M3703 4600l8 21 57 43-8-31z"/><path class="qY" d="M4100 4578l17-1 104-33-16-1z"/><path class="qcg" d="M3572 4504l10 5 115 0-10-9z"/><path class="qdj" d="M4368 4577l18 7 98 10-18-10z"/><path class="qfv" d="M3582 4509l10 6 115 5-10-11z"/><path class="qdC" d="M3965 4650l17-14 54-43-17 8z"/><path class="qU" d="M3592 4515l4 3 115 9-4-7z"/><path class="qce" d="M3762 4797l6 12 29 50-6-10z"/><path class="qdU" d="M4117 4577l16-1 105-30-17-2z"/><path class="qeh" d="M4386 4584l18 8 98 13-18-11z"/><path class="qdv" d="M3732 4690l13 48 28 45-12-57z"/><path class="qfz" d="M3596 4518l5 4 115 12-5-7z"/><path class="qgJ" d="M3601 4522l6 4 115 16-6-8z"/><path class="qdL" d="M3607 4526l6 4 114 21-5-9z"/><path class="qgQ" d="M3613 4530l11 10 115 33-12-22z"/><path class="qeN" d="M3624 4540l5 6 115 40-5-13z"/><path class="qej" d="M4404 4592l34 16 98 16-34-19z"/><path class="qdZ" d="M4133 4576l33 0 104-25-32-5z"/><path class="qdb" d="M3707 4646l6 19 38 49-6-26z"/><path class="qbZ" d="M3700 4628l7 18 38 42-6-24z"/><path class="qcM" d="M3927 4679l16-16 109-75-16 5z"/><path class="qP" d="M4438 4608l34 18 98 13-34-15z"/><path class="qcB" d="M3716 4691l12 36 29 53-12-42z"/><path class="qbI" d="M3703 4653l13 38 29 47-13-48z"/><path class="qec" d="M4166 4576l34 2 104-21-34-6z"/><path class="qii" d="M3740 4758l10 22 28 39-10-10z"/><path class="qcx" d="M3629 4546l4 4 58 23-4-7z"/><path class="qeM" d="M3633 4550l4 5 58 27-4-9z"/><path class="qmd" d="M3943 4663l16-12 109-68-16 5z"/><path class="qfB" d="M3382 4500l15 3 120-18-15-4z"/><path class="qdQ" d="M3637 4555l8 10 58 35-8-18z"/><path class="qdp" d="M3645 4565l8 12 58 44-8-21z"/><path class="qht" d="M3653 4577l4 7 58 49-4-12z"/><path class="qcY" d="M3657 4584l4 7 58 55-4-13z"/><path class="qcK" d="M4472 4626l35 18 97 4-34-9z"/><path class="qft" d="M3874 4773l8-15 28-58-8 13z"/><path class="qfB" d="M3397 4503l15 3 120-17-15-4z"/><path class="qei" d="M3959 4651l16-9 109-62-16 3z"/><path class="qdZ" d="M4200 4578l33 4 104-16-33-9z"/><path class="qcY" d="M3661 4591l7 12 39 43-7-18z"/><path class="qkf" d="M3668 4603l6 13 39 49-6-19z"/><path class="qfI" d="M3412 4506l15 4 120-16-15-5z"/><path class="qdD" d="M3882 4758l17-29 28-50-17 21z"/><path class="qcG" d="M3846 4833l8-17 28-58-8 15z"/><path class="qeh" d="M3975 4642l9-4 108-59-8 1z"/><path class="qcF" d="M3674 4616l13 28 29 47-13-38zM4507 4644l34 17 98-8-35-5z"/><path class="qbo" d="M3687 4644l11 29 30 54-12-36z"/><path class="qbG" d="M3698 4673l6 16 30 54-6-16z"/><path class="qdh" d="M3984 4638l8-3 108-57-8 1z"/><path class="qeZ" d="M3704 4689l6 18 30 51-6-15z"/><path class="qdU" d="M4233 4582l16 2 103-13-15-5z"/><path class="qeq" d="M3710 4707l10 33 30 40-10-22z"/><path class="qek" d="M3427 4510l15 4 120-14-15-6z"/><path class="qgA" d="M3818 4893l8-18 28-59-8 17z"/><path class="qch" d="M3854 4816l17-36 28-51-17 29z"/><path class="qdj" d="M3992 4635l16-6 109-52-17 1z"/><path class="qdU" d="M4249 4584l15 3 104-10-16-6z"/><path class="qff" d="M3442 4514l10 2 120-12-10-4z"/><path class="qdq" d="M3890 4746l16-26 37-57-16 16z"/><path class="qew" d="M3452 4516l10 3 120-10-10-5z"/><path class="qdO" d="M4264 4587l19 4 103-7-18-7z"/><path class="qiS" d="M3790 4954l8-20 28-59-8 18z"/><path class="qdm" d="M4008 4629l17-5 108-48-16 1z"/><path class="qbY" d="M3462 4519l10 4 120-8-10-6z"/><path class="qdA" d="M3906 4720l16-20 37-49-16 12z"/><path class="qdo" d="M3472 4523l5 2 119-7-4-3z"/><path class="qci" d="M4541 4661l71 26 98-34-71 0z"/><path class="qdJ" d="M4283 4591l18 5 103-4-18-8z"/><path class="qfs" d="M3477 4525l5 1 119-4-5-4z"/><path class="qdu" d="M3482 4526l5 2 120-2-6-4z"/><path class="qcg" d="M3487 4528l6 3 120-1-6-4z"/><path class="qdz" d="M4025 4624l33-6 108-42-33 0z"/><path class="qbM" d="M3671 4672l10 27 39 41-10-33z"/><path class="qdz" d="M3608 4583l7 9 59 24-6-13z"/><path class="qdX" d="M3681 4699l10 29 40 49-11-37z"/><path class="qdB" d="M3493 4531l11 5 120 4-11-10z"/><path class="qdh" d="M3615 4592l12 19 60 33-13-28z"/><path class="qjM" d="M4301 4596l35 9 102 3-34-16z"/><path class="qbr" d="M3627 4611l12 20 59 42-11-29z"/><path class="qfv" d="M3504 4536l6 2 119 8-5-6z"/><path class="qdG" d="M3903 4724l16-19 56-63-16 9z"/><path class="qcH" d="M3639 4631l6 12 59 46-6-16z"/><path class="qcp" d="M3510 4538l4 2 119 10-4-4z"/><path class="qca" d="M3645 4643l6 12 59 52-6-18z"/><path class="qeU" d="M3868 4778l16-29 38-49-16 20z"/><path class="qU" d="M3514 4540l4 2 119 13-4-5z"/><path class="qfz" d="M3518 4542l8 5 119 18-8-10z"/><path class="qci" d="M3919 4705l9-8 56-59-9 4z"/><path class="qcv" d="M3526 4547l8 5 119 25-8-12z"/><path class="qci" d="M4612 4687l32 6 98-42-32 2z"/><path class="qdJ" d="M4058 4618l33-3 109-37-34-2z"/><path class="qnH" d="M3534 4552l4 3 119 29-4-7z"/><path class="qeG" d="M3538 4555l4 3 119 33-4-7z"/><path class="qcH" d="M3928 4697l8-7 56-55-8 3z"/><path class="qbp" d="M4336 4605l34 11 102 10-34-18z"/><path class="qeJ" d="M3542 4558l6 4 120 41-7-12z"/><path class="qhe" d="M3257 4520l15 2 125-19-15-3z"/><path class="qcM" d="M3936 4690l16-11 56-50-16 6z"/><path class="qbq" d="M4644 4693l17 2 97-44-16 0z"/><path class="qgf" d="M3272 4522l15 3 125-19-15-3z"/><path class="qY" d="M4091 4615l34-1 108-32-33-4z"/><path class="qcI" d="M3631 4637l10 19 40 43-10-27z"/><path class="qeh" d="M4370 4616l35 13 102 15-35-18z"/><path class="qeR" d="M4661 4695l16 2 97-46-16 0z"/><path class="qdG" d="M3641 4656l10 21 40 51-10-29z"/><path class="qbr" d="M3952 4679l17-10 56-45-17 5z"/><path class="qcZ" d="M3703 4801l8 14 24 49-8-12z"/><path class="qfB" d="M3287 4525l16 3 124-18-15-4z"/><path class="qcF" d="M4677 4697l7 0 98-47-8 1z"/><path class="qX" d="M3548 4562l6 5 61 25-7-9z"/><path class="qK" d="M3863 4769l8-12 57-60-9 8z"/><path class="qdU" d="M4125 4614l16 0 108-30-16-2z"/><path class="qeI" d="M3554 4567l13 11 60 33-12-19z"/><path class="qfB" d="M3303 4528l15 3 124-17-15-4z"/><path class="qej" d="M4405 4629l36 15 100 17-34-17z"/><path class="qeH" d="M3641 4665l11 21 30 45-10-28z"/><path class="qbL" d="M3871 4757l8-10 57-57-8 7z"/><path class="qcH" d="M4684 4697l37 1 97-48-36 0z"/><path class="qbM" d="M3652 4686l10 22 30 52-10-29z"/><path class="qeO" d="M3567 4578l12 11 60 42-12-20z"/><path class="qdZ" d="M4141 4614l16 1 107-28-15-3z"/><path class="qeP" d="M3579 4589l6 6 60 48-6-12z"/><path class="qeV" d="M3318 4531l10 2 124-17-10-2z"/><path class="qhl" d="M3585 4595l5 6 61 54-6-12z"/><path class="qbo" d="M3879 4747l16-18 57-50-16 11z"/><path class="qfI" d="M3328 4533l9 2 125-16-10-3z"/><path class="qdZ" d="M4157 4615l18 1 108-25-19-4z"/><path class="qev" d="M3671 4733l8 17 24 51-7-19z"/><path class="qgq" d="M3679 4750l8 15 24 50-8-14z"/><path class="qek" d="M3337 4535l10 2 125-14-10-4z"/><path class="qhl" d="M3590 4601l11 12 40 43-10-19z"/><path class="qen" d="M3824 4835l8-3 39-75-8 12z"/><path class="qcK" d="M4721 4698l37 0 97-46-37-2z"/><path class="qP" d="M3912 4715l33-21 113-76-33 6z"/><path class="qek" d="M3347 4537l5 2 125-14-5-2z"/><path class="qez" d="M3601 4613l10 13 40 51-10-21z"/><path class="qcV" d="M3895 4729l17-14 57-46-17 10z"/><path class="qdZ" d="M4175 4616l19 2 107-22-18-5z"/><path class="qcR" d="M3842 4813l8-6 29-60-8 10z"/><path class="qdi" d="M3352 4539l5 1 125-14-5-1z"/><path class="qdC" d="M4441 4644l71 32 100 11-71-26z"/><path class="qdi" d="M3357 4540l6 1 124-13-5-2z"/><path class="qeu" d="M3611 4626l10 15 31 45-11-21z"/><path class="qff" d="M3363 4541l5 2 125-12-6-3z"/><path class="qcM" d="M3621 4641l10 14 31 53-10-22z"/><path class="qde" d="M3850 4807l17-16 28-62-16 18z"/><path class="qff" d="M3368 4543l11 2 125-9-11-5z"/><path class="qdU" d="M4194 4618l35 5 107-18-35-9z"/><path class="qew" d="M3379 4545l6 2 125-9-6-2z"/><path class="qdd" d="M3647 4683l8 15 24 52-8-17z"/><path class="qcd" d="M3662 4715l9 20 30 56-8-13z"/><path class="qcQ" d="M3945 4694l34-14 112-65-33 3z"/><path class="qbY" d="M3385 4547l4 1 125-8-4-2z"/><path class="qdb" d="M3655 4698l7 17 25 50-8-15z"/><path class="qdo" d="M3389 4548l4 1 125-7-4-2z"/><path class="qbD" d="M3867 4791l16-18 29-58-17 14z"/><path class="qdo" d="M3393 4549l8 3 125-5-8-5z"/><path class="qcH" d="M4512 4676l32 15 100 2-32-6z"/><path class="qcM" d="M4758 4698l75 1 96-42-74-5z"/><path class="qfs" d="M3401 4552l8 2 125-2-8-5z"/><path class="qY" d="M4229 4623l35 5 106-12-34-11z"/><path class="qhe" d="M3127 4541l16 2 129-21-15-2z"/><path class="qR" d="M3413 4556l4 1 125 1-4-3z"/><path class="qcl" d="M3838 4853l16-22 29-58-16 18z"/><path class="qcg" d="M3417 4557l6 2 125 3-6-4z"/><path class="qbI" d="M3873 4792l17-18 38-70-16 11z"/><path class="qcF" d="M4544 4691l16 7 101-3-17-2z"/><path class="qdj" d="M3979 4680l34-9 112-57-34 1z"/><path class="qfu" d="M3423 4559l7 2 124 6-6-5z"/><path class="qhe" d="M3143 4543l15 3 129-21-15-3z"/><path class="qgx" d="M3430 4561l12 5 125 12-13-11z"/><path class="qbq" d="M4560 4698l17 7 100-8-16-2z"/><path class="qdJ" d="M3549 4606l20 20 62 29-20-29z"/><path class="qbQ" d="M3890 4774l17-18 38-62-17 10z"/><path class="qdJ" d="M4264 4628l35 7 106-6-35-13z"/><path class="qfx" d="M3442 4566l12 5 125 18-12-11z"/><path class="qbq" d="M4577 4705l7 3 100-11-7 0z"/><path class="qhe" d="M3158 4546l15 2 130-20-16-3z"/><path class="qnI" d="M3722 4915l9 15 24 52-8-15z"/><path class="qdp" d="M4013 4671l15-3 113-54-16 0z"/><path class="qdh" d="M3569 4626l16 18 62 39-16-28z"/><path class="qfz" d="M3454 4571l6 2 125 22-6-6z"/><path class="qeA" d="M3460 4573l6 3 124 25-5-6z"/><path class="qeu" d="M3585 4644l8 11 62 43-8-15z"/><path class="qkf" d="M3593 4655l8 11 61 49-7-17z"/><path class="qhe" d="M3173 4548l15 3 130-20-15-3z"/><path class="qcv" d="M3466 4576l10 4 125 33-11-12z"/><path class="qci" d="M4584 4708l37 13 100-23-37-1z"/><path class="qcF" d="M3601 4666l8 13 62 56-9-20z"/><path class="qdr" d="M4028 4668l16-2 113-51-16-1z"/><path class="qP" d="M4833 4699l77 3 95-34-76-11z"/><path class="qX" d="M3476 4580l10 5 125 41-10-13z"/><path class="qdz" d="M4299 4635l36 8 106 1-36-15z"/><path class="qdF" d="M3907 4756l33-26 39-50-34 14z"/><path class="qcB" d="M3851 4845l17-26 39-63-17 18z"/><path class="qfB" d="M3188 4551l10 2 130-20-10-2z"/><path class="qjM" d="M4044 4666l19-2 112-48-18-1z"/><path class="qfB" d="M3198 4553l10 2 129-20-9-2zM3208 4555l9 1 130-19-10-2z"/><path class="qci" d="M4621 4721l37 11 100-34-37 0z"/><path class="qjp" d="M3698 4863l8 14 25 53-9-15z"/><path class="qdz" d="M4063 4664l19-1 112-45-19-2z"/><path class="qbP" d="M3706 4877l8 9 25 52-8-8z"/><path class="qfB" d="M3217 4556l5 1 130-18-5-2z"/><path class="qbT" d="M3812 4915l16-32 40-64-17 26z"/><path class="qbD" d="M3868 4819l33-38 39-51-33 26z"/><path class="qfB" d="M3222 4557l5 1 130-18-5-1zM3227 4558l6 1 130-18-6-1z"/><path class="qbr" d="M3588 4660l9 12 42 43-9-17z"/><path class="qbp" d="M4335 4643l72 21 105 12-71-32z"/><path class="qeV" d="M3233 4559l5 1 130-17-5-2z"/><path class="qcF" d="M3921 4756l34-23 58-62-34 9zM3597 4672l17 27 42 55-17-39z"/><path class="qcv" d="M3486 4585l20 11 63 30-20-20z"/><path class="qdJ" d="M4082 4663l35-1 112-39-35-5z"/><path class="qeV" d="M3238 4560l12 3 129-18-11-2z"/><path class="qfI" d="M3250 4563l5 1 130-17-6-2z"/><path class="qeG" d="M3506 4596l16 9 63 39-16-18z"/><path class="qgq" d="M3656 4777l17 33 25 53-17-38z"/><path class="qfI" d="M3255 4564l4 0 130-16-4-1z"/><path class="qbq" d="M4658 4732l75 14 100-47-75-1z"/><path class="qfI" d="M3259 4564l4 1 130-16-4-1z"/><path class="qeK" d="M3522 4605l8 5 63 45-8-11z"/><path class="qdC" d="M3955 4733l15-7 58-58-15 3z"/><path class="qds" d="M3681 4823l8 10 25 53-8-9z"/><path class="qek" d="M3263 4565l8 2 130-15-8-3z"/><path class="qeN" d="M3530 4610l7 6 64 50-8-11z"/><path class="qek" d="M3271 4567l8 2 130-15-8-2z"/><path class="qdQ" d="M3537 4616l9 6 63 57-8-13z"/><path class="qeS" d="M4117 4662l35 1 112-35-35-5z"/><path class="qez" d="M4407 4664l33 11 104 16-32-15z"/><path class="qhe" d="M2992 4563l15 2 136-22-16-2z"/><path class="qek" d="M3279 4569l4 0 130-13-4-2z"/><path class="qbr" d="M3970 4726l16-7 58-53-16 2z"/><path class="qek" d="M3283 4569l4 1 130-13-4-1z"/><path class="qdi" d="M3287 4570l6 2 130-13-6-2z"/><path class="qK" d="M3862 4833l34-36 59-64-34 23z"/><path class="qhe" d="M3007 4565l15 3 136-22-15-3z"/><path class="qdi" d="M3293 4572l7 1 130-12-7-2z"/><path class="qcY" d="M4440 4675l16 5 104 18-16-7z"/><path class="qY" d="M3546 4622l9 7 42 43-9-12z"/><path class="qeu" d="M3986 4719l19-6 58-49-19 2z"/><path class="qff" d="M3300 4573l12 3 130-10-12-5z"/><path class="qdS" d="M3555 4629l17 15 42 55-17-27z"/><path class="qdO" d="M4152 4663l36 2 111-30-35-7z"/><path class="qeu" d="M4456 4680l17 6 104 19-17-7z"/><path class="qhe" d="M3022 4568l15 3 136-23-15-2z"/><path class="qhj" d="M3312 4576l12 2 130-7-12-5z"/><path class="qcU" d="M4473 4686l7 3 104 19-7-3z"/><path class="qcQ" d="M4005 4713l19-5 58-45-19 1z"/><path class="qbo" d="M3896 4797l15-13 59-58-15 7z"/><path class="qew" d="M3324 4578l6 2 130-7-6-2z"/><path class="qcF" d="M4733 4746l77 6 100-50-77-3z"/><path class="qhe" d="M3037 4571l16 2 135-22-15-3z"/><path class="qbY" d="M3330 4580l6 1 130-5-6-3z"/><path class="qbr" d="M4480 4689l37 14 104 18-37-13z"/><path class="qdo" d="M3336 4581l10 3 130-4-10-4z"/><path class="qdO" d="M4188 4665l36 4 111-26-36-8z"/><path class="qhe" d="M3053 4573l9 2 136-22-10-2z"/><path class="qeH" d="M3911 4784l16-10 59-55-16 7z"/><path class="qhe" d="M3062 4575l10 1 136-21-10-2zM3072 4576l10 2 135-22-9-1z"/><path class="qdu" d="M3356 4586l20 5 130 5-20-11z"/><path class="qca" d="M3927 4774l19-11 59-50-19 6z"/><path class="qev" d="M3866 4856l16-1 29-71-15 13z"/><path class="qdC" d="M4517 4703l38 15 103 14-37-11z"/><path class="qhe" d="M3082 4578l5 1 135-22-5-1zM3087 4579l5 1 135-22-5-1z"/><path class="qcg" d="M3376 4591l16 4 130 10-16-9z"/><path class="qhe" d="M3092 4580l5 1 136-22-6-1z"/><path class="qeu" d="M3965 4755l35-12 117-81-35 1z"/><path class="qeZ" d="M3882 4855l15-5 30-76-16 10z"/><path class="qcF" d="M3946 4763l19-8 59-47-19 5z"/><path class="qhe" d="M3097 4581l6 1 135-22-5-1z"/><path class="qdJ" d="M4224 4669l72 10 111-15-72-21z"/><path class="qdB" d="M3392 4595l8 3 130 12-8-5z"/><path class="qhe" d="M3103 4582l11 2 136-21-12-3z"/><path class="qgx" d="M3400 4598l8 2 129 16-7-6z"/><path class="qgf" d="M3114 4584l6 1 135-21-5-1z"/><path class="qbD" d="M3897 4850l19-10 30-77-19 11z"/><path class="qfv" d="M3408 4600l8 2 130 20-9-6z"/><path class="qdZ" d="M3524 4639l17 13 64 28-17-19z"/><path class="qgf" d="M3120 4585l4 0 135-21-4 0z"/><path class="qfx" d="M3416 4602l9 3 130 24-9-7z"/><path class="qgf" d="M3124 4585l4 1 135-21-4-1z"/><path class="qcI" d="M4555 4718l75 30 103-2-75-14z"/><path class="qez" d="M4000 4743l35-8 117-72-35-1z"/><path class="qfB" d="M3128 4586l8 1 135-20-8-2z"/><path class="qfb" d="M3541 4652l16 14 65 36-17-22z"/><path class="qfz" d="M3425 4605l17 6 130 33-17-15z"/><path class="qbJ" d="M3916 4840l19-13 30-72-19 8z"/><path class="qfB" d="M3136 4587l8 2 135-20-8-2zM3144 4589l4 0 135-20-4 0z"/><path class="qdz" d="M4296 4679l34 6 110-10-33-11z"/><path class="qfB" d="M3148 4589l4 1 135-20-4-1z"/><path class="qcv" d="M3442 4611l16 6 130 44-16-17z"/><path class="qfB" d="M3152 4590l6 1 135-19-6-2zM3158 4591l6 1 136-19-7-1z"/><path class="qdj" d="M4035 4735l36-5 117-65-36-2z"/><path class="qdz" d="M4330 4685l16 3 110-8-16-5z"/><path class="qeW" d="M3733 4933l17 40 25 62-17-47z"/><path class="qbo" d="M3935 4827l35-23 30-61-35 12z"/><path class="qfB" d="M3164 4592l13 3 135-19-12-3z"/><path class="qlU" d="M3750 4973l16 29 25 65-16-32z"/><path class="qdr" d="M4346 4688l17 4 110-6-17-6z"/><path class="qgi" d="M3766 5002l16 14 25 66-16-15z"/><path class="qfB" d="M3177 4595l12 2 135-19-12-2z"/><path class="qft" d="M3905 4900l35-34 30-62-35 23z"/><path class="qbq" d="M4630 4748l78 27 102-23-77-6z"/><path class="qfB" d="M3189 4597l6 1 135-18-6-2z"/><path class="qdr" d="M4363 4692l8 1 109-4-7-3z"/><path class="qbp" d="M4071 4730l36-2 117-59-36-4z"/><path class="qeV" d="M3195 4598l6 1 135-18-6-1z"/><path class="qgi" d="M3782 5016l18-4 25 61-18 9z"/><path class="qeV" d="M3201 4599l10 2 135-17-10-3z"/><path class="qnJ" d="M3458 4617l17 6 66 29-17-13z"/><path class="qdm" d="M4371 4693l37 9 109 1-37-14z"/><path class="qdG" d="M3960 4825l35-21 40-69-35 8z"/><path class="qfo" d="M3690 4844l17 33 26 56-18-40z"/><path class="qeV" d="M3211 4601l10 2 135-17-10-2z"/><path class="qbT" d="M3707 4877l17 33 26 63-17-40z"/><path class="qgJ" d="M3475 4623l17 7 65 36-16-14z"/><path class="qnK" d="M3800 5012l19-17 25 52-19 26z"/><path class="qdg" d="M3660 4791l17 28 32 61-17-35z"/><path class="qhs" d="M3724 4910l16 25 26 67-16-29z"/><path class="qdL" d="M3492 4630l8 3 66 41-9-8z"/><path class="qfI" d="M3221 4603l20 3 135-15-20-5z"/><path class="qjK" d="M3740 4935l16 15 26 66-16-14z"/><path class="qX" d="M3500 4633l8 4 66 45-8-8z"/><path class="qdj" d="M4408 4702l38 9 109 7-38-15z"/><path class="qdW" d="M3919 4907l36-34 40-69-35 21z"/><path class="qgQ" d="M3508 4637l17 8 66 55-17-18z"/><path class="qdr" d="M4107 4728l74-1 115-48-72-10z"/><path class="qek" d="M3241 4606l16 3 135-14-16-4z"/><path class="qcF" d="M3995 4804l36-15 40-59-36 5z"/><path class="qgA" d="M3756 4950l19 1 25 61-18 4z"/><path class="qit" d="M3819 4995l35-38 25 34-35 56z"/><path class="qbD" d="M3664 4794l17 26 26 57-17-33z"/><path class="qek" d="M3257 4609l7 2 136-13-8-3zM3264 4611l8 1 136-12-8-2z"/><path class="qby" d="M3681 4820l18 27 25 63-17-33z"/><path class="qdC" d="M3610 4718l17 19 33 54-18-27z"/><path class="qhZ" d="M3775 4951l19-8 25 52-19 17z"/><path class="qdi" d="M3272 4612l9 2 135-12-8-2z"/><path class="qcO" d="M3699 4847l16 21 25 67-16-25z"/><path class="qci" d="M3627 4737l17 19 33 63-17-28z"/><path class="qbI" d="M3955 4873l36-25 40-59-36 15z"/><path class="qdi" d="M3281 4614l8 1 136-10-9-3z"/><path class="qeh" d="M4446 4711l77 21 107 16-75-30z"/><path class="qcy" d="M3715 4868l16 14 25 68-16-15z"/><path class="qcF" d="M4011 4818l36-14 60-76-36 2z"/><path class="qff" d="M3289 4615l17 4 136-8-17-6z"/><path class="qeN" d="M3542 4653l34 18 45 63-35-37z"/><path class="qdz" d="M4181 4727l33 2 116-44-34-6z"/><path class="qbW" d="M3731 4882l18 7 26 62-19-1z"/><path class="qbR" d="M3794 4943l35-20 25 34-35 38z"/><path class="qbq" d="M3637 4743l18 20 26 57-17-26z"/><path class="qff" d="M3306 4619l17 3 135-5-16-6z"/><path class="qdA" d="M3655 4763l17 19 27 65-18-27z"/><path class="qdz" d="M4214 4729l17 1 115-42-16-3z"/><path class="qcy" d="M3749 4889l19 0 26 54-19 8z"/><path class="qdQ" d="M3576 4671l17 11 34 55-17-19z"/><path class="qew" d="M3323 4622l17 4 135-3-17-6z"/><path class="qdb" d="M3672 4782l16 17 27 69-16-21z"/><path class="qdz" d="M4231 4730l17 1 115-39-17-4z"/><path class="qdS" d="M3593 4682l18 10 33 64-17-19z"/><path class="qK" d="M3688 4799l16 14 27 69-16-14z"/><path class="qdo" d="M3340 4626l16 3 136 1-17-7z"/><path class="qdz" d="M4248 4731l8 1 115-39-8-1z"/><path class="qcU" d="M4523 4732l78 24 107 19-78-27z"/><path class="qch" d="M3768 4889l35 0 26 34-35 20z"/><path class="qP" d="M4047 4804l74-16 60-61-74 1z"/><path class="qbC" d="M3950 4908l36-26 61-78-36 14z"/><path class="qbD" d="M3704 4813l19 12 26 64-18-7z"/><path class="qdo" d="M3356 4629l9 2 135 2-8-3z"/><path class="qhl" d="M3611 4692l17 13 27 58-18-20z"/><path class="qdo" d="M3365 4631l8 2 135 4-8-4z"/><path class="qdz" d="M4256 4732l38 3 114-33-37-9z"/><path class="qeh" d="M3628 4705l17 12 27 65-17-19z"/><path class="qcd" d="M3723 4825l19 10 26 54-19 0z"/><path class="qfs" d="M3373 4633l17 3 135 9-17-8z"/><path class="qeu" d="M3645 4717l16 13 27 69-16-17z"/><path class="qcg" d="M3390 4636l17 4 135 13-17-8z"/><path class="qP" d="M3661 4730l17 13 26 70-16-14z"/><path class="qdD" d="M3742 4835l36 20 25 34-35 0z"/><path class="qgP" d="M4294 4735l38 5 114-29-38-9z"/><path class="qcY" d="M4121 4788l33-4 60-55-33-2z"/><path class="qcK" d="M3678 4743l19 18 26 64-19-12z"/><path class="qbo" d="M3986 4882l74-33 61-61-74 16z"/><path class="qdB" d="M3407 4640l34 7 135 24-34-18z"/><path class="qbq" d="M3697 4761l19 19 26 55-19-10z"/><path class="qcQ" d="M4154 4784l17-2 60-52-17-1z"/><path class="qeh" d="M4171 4782l17 0 60-51-17-1z"/><path class="qeH" d="M3716 4780l36 40 26 35-36-20z"/><path class="qcp" d="M3441 4647l34 8 136 37-35-21z"/><path class="qdr" d="M4332 4740l78 11 113-19-77-21z"/><path class="qK" d="M3752 4820l35 45 43 27-35-14z"/><path class="qca" d="M4060 4849l33-9 61-56-33 4z"/><path class="qdX" d="M3981 4923l37 10 42-84-37 16z"/><path class="qmd" d="M4127 4833l8-1 121-100-8-1z"/><path class="qcF" d="M4093 4840l17-4 61-54-17 2z"/><path class="qdp" d="M3630 4719l19 13 67 48-19-19z"/><path class="qeu" d="M4135 4832l38-5 121-92-38-3z"/><path class="qcI" d="M4110 4836l17-3 61-51-17 0z"/><path class="qbE" d="M4028 4912l34 5 31-77-33 9z"/><path class="qdm" d="M4410 4751l79 13 112-8-78-24z"/><path class="qdB" d="M3475 4655l35 9 69 27-35-17z"/><path class="qbq" d="M3707 4778l37 34 43 53-35-45z"/><path class="qbI" d="M4062 4917l17 1 31-82-17 4z"/><path class="qfv" d="M3510 4664l16 4 69 31-16-8z"/><path class="qcY" d="M4173 4827l39-4 120-83-38-5z"/><path class="qdc" d="M3744 4812l36 39 44 67-37-53z"/><path class="qbJ" d="M4079 4918l17-1 31-84-17 3z"/><path class="qev" d="M3791 4868l37 48 32 61-36-59z"/><path class="qcp" d="M3526 4668l17 4 68 36-16-9z"/><path class="qbL" d="M4096 4917l7 0 32-85-8 1z"/><path class="qdQ" d="M3627 4715l36 20 44 43-35-30z"/><path class="qcJ" d="M3834 4928l37 54 26 58-37-63z"/><path class="qU" d="M3543 4672l19 5 68 42-19-11z"/><path class="qil" d="M4103 4917l38-8 32-82-38 5z"/><path class="qgR" d="M3871 4982l37 55 26 68-37-65z"/><path class="qfz" d="M3562 4677l19 5 68 50-19-13z"/><path class="qbp" d="M3663 4735l36 23 45 54-37-34z"/><path class="qeh" d="M4212 4823l78-1 120-71-78-11z"/><path class="qW" d="M4072 5002l38-9 31-84-38 8z"/><path class="qcb" d="M3908 5037l34 40 25 74-33-46z"/><path class="qdd" d="M3758 4818l36 36 34 62-37-48z"/><path class="qeu" d="M3699 4758l36 25 45 68-36-39z"/><path class="qde" d="M3808 4879l37 44 26 59-37-54z"/><path class="qdd" d="M4141 4909l39-9 32-77-39 4z"/><path class="qlU" d="M3942 5077l16 13 26 76-17-15z"/><path class="qfz" d="M3581 4682l36 10 46 43-36-20z"/><path class="qbg" d="M3958 5090l17 8 26 75-17-7z"/><path class="qcB" d="M4110 4993l38-17 32-76-39 9z"/><path class="qbc" d="M3845 4923l37 45 26 69-37-55z"/><path class="qbh" d="M3975 5098l8 1 25 75-7-1z"/><path class="qcv" d="M3617 4692l36 11 46 55-36-23z"/><path class="qky" d="M3882 4968l34 34 26 75-34-40z"/><path class="qdj" d="M4290 4822l80 2 119-60-79-13z"/><path class="qdA" d="M3781 4829l37 34 27 60-37-44z"/><path class="qbj" d="M3983 5099l38-8 25 69-38 14z"/><path class="qcY" d="M3724 4766l37 25 33 63-36-36z"/><path class="qca" d="M4180 4900l79-16 31-62-78 1z"/><path class="qcL" d="M3916 5002l17 12 25 76-16-13z"/><path class="qeF" d="M3653 4703l36 11 46 69-36-25z"/><path class="qnL" d="M3933 5014l17 7 25 77-17-8z"/><path class="qK" d="M3818 4863l38 35 26 70-37-45z"/><path class="qcd" d="M4148 4976l79-30 32-62-79 16z"/><path class="qhk" d="M3950 5021l7 2 26 76-8-1z"/><path class="qma" d="M4021 5091l39-19 25 59-39 29z"/><path class="qde" d="M3856 4898l33 27 27 77-34-34z"/><path class="qej" d="M3754 4778l37 24 27 61-37-34z"/><path class="qbc" d="M4117 5053l78-44 32-63-79 30z"/><path class="qjJ" d="M3957 5023l38-2 26 70-38 8z"/><path class="qgQ" d="M3689 4714l37 13 35 64-37-25z"/><path class="qeq" d="M3889 4925l17 10 27 79-17-12z"/><path class="qeX" d="M3791 4802l38 25 27 71-38-35z"/><path class="qgq" d="M3906 4935l18 8 26 78-17-7z"/><path class="qcF" d="M4248 4904l80-12 42-68-80-2z"/><path class="qfn" d="M3924 4943l7 2 26 78-7-2z"/><path class="qcZ" d="M3995 5021l39-10 26 61-39 19z"/><path class="qeJ" d="M3726 4727l38 13 27 62-37-24z"/><path class="qfh" d="M3829 4827l34 20 26 78-33-27z"/><path class="qhs" d="M4060 5072l78-39 25 40-78 58z"/><path class="qgq" d="M3931 4945l39 5 25 71-38 2z"/><path class="qbG" d="M4206 4988l80-27 42-69-80 12z"/><path class="qdG" d="M3863 4847l17 9 26 79-17-10z"/><path class="qeN" d="M3764 4740l37 14 28 73-38-25z"/><path class="qdA" d="M3880 4856l17 8 27 79-18-8z"/><path class="qdd" d="M3897 4864l8 2 26 79-7-2z"/><path class="qcB" d="M3970 4950l38 0 26 61-39 10z"/><path class="qch" d="M4163 5073l81-42 42-70-80 27z"/><path class="qcy" d="M4034 5011l79-19 25 41-78 39z"/><path class="qfH" d="M3801 4754l35 14 27 79-34-20z"/><path class="qdd" d="M3905 4866l38 12 27 72-39-5z"/><path class="qdS" d="M3836 4768l17 7 27 81-17-9z"/><path class="qjc" d="M3853 4775l17 8 27 81-17-8z"/><path class="qdA" d="M3943 4878l39 9 26 63-38 0z"/><path class="qhm" d="M3870 4783l8 3 27 80-8-2z"/><path class="qdX" d="M4008 4950l79 1 26 41-79 19z"/><path class="qch" d="M4121 5006l81-12 42 37-81 42z"/><path class="qip" d="M3878 4786l39 18 26 74-38-12z"/><path class="qbX" d="M3982 4887l79 23 26 41-79-1z"/><path class="qeh" d="M3917 4804l39 20 26 63-39-9z"/><path class="qbG" d="M4079 4938l80 18 43 38-81 12z"/><path class="qeu" d="M3956 4824l79 44 26 42-79-23z"/><path class="qeR" d="M4035 4868l81 50 43 38-80-18z"/></g></g>
<path d="M304.7 593.1L299.2 456.3" stroke="#707070" stroke-width="1.1" fill="none"/>
<path d="M299.2 456.3h-1.8M299.8 470.7h-1.8M300.3 485.0h-1.8M300.9 499.1h-1.8M301.5 513.0h-1.8M302.0 526.8h-1.8M302.6 540.4h-1.8M303.1 553.8h-1.8M303.6 567.1h-1.8M304.1 580.2h-1.8M304.7 593.1h-1.8" stroke="#808080" stroke-width="0.8"/>
<g font-family="'Liberation Sans', Arial, sans-serif" font-weight="bold" font-size="6.0" fill="#222" text-anchor="end"><text x="296.6" y="458.8">0</text><text x="297.2" y="473.3">-5</text><text x="297.7" y="487.6">-10</text><text x="298.3" y="501.7">-15</text><text x="298.9" y="515.6">-20</text><text x="299.4" y="529.4">-25</text><text x="300.0" y="542.9">-30</text><text x="300.5" y="556.4">-35</text><text x="301.0" y="569.6">-40</text><text x="301.5" y="582.7">-45</text><text x="302.1" y="595.7">-50</text></g>
<text transform="translate(283.5,531.1) rotate(90)" text-anchor="middle" font-family="'Liberation Sans', Arial, sans-serif" font-weight="bold" font-size="8.1" fill="#222">Reflection loss (dB)</text>
<g font-family="'Liberation Sans', Arial, sans-serif" font-weight="bold" font-size="4.0" fill="#2a2a2a" text-anchor="middle"><text transform="translate(298.7,596.4) rotate(22) skewX(-25)">2</text><text transform="translate(310.3,600.8) rotate(22) skewX(-25)">4</text><text transform="translate(322.2,605.3) rotate(22) skewX(-25)">6</text><text transform="translate(334.7,610.0) rotate(22) skewX(-25)">8</text><text transform="translate(347.6,614.9) rotate(22) skewX(-25)">10</text><text transform="translate(361.0,619.9) rotate(22) skewX(-25)">12</text><text transform="translate(374.9,625.2) rotate(22) skewX(-25)">14</text><text transform="translate(389.4,630.6) rotate(22) skewX(-25)">16</text><text transform="translate(404.5,636.3) rotate(22) skewX(-25)">18</text><text transform="translate(420.0,637.4) rotate(-27)">1.0</text><text transform="translate(432.2,630.7) rotate(-27)">1.5</text><text transform="translate(443.8,624.4) rotate(-27)">2.0</text><text transform="translate(454.9,618.4) rotate(-27)">2.5</text><text transform="translate(465.5,612.6) rotate(-27)">3.0</text><text transform="translate(475.7,607.1) rotate(-27)">3.5</text><text transform="translate(485.5,601.8) rotate(-27)">4.0</text><text transform="translate(494.8,596.7) rotate(-27)">4.5</text><text transform="translate(503.8,591.8) rotate(-27)">5.0</text></g>
<text transform="translate(340.0,620.5) rotate(20.3) skewX(-25)" text-anchor="middle" font-family="'Liberation Sans', Arial, sans-serif" font-weight="bold" font-size="5.9" fill="#2a2a2a">Frequency (GHz)</text>
<text transform="translate(474.0,616.6) rotate(-27.8)" text-anchor="middle" font-family="'Liberation Sans', Arial, sans-serif" font-weight="bold" font-size="5.8" fill="#222">Thickness (mm)</text>
<text x="281.7" y="444.9" font-family="'Liberation Sans', Arial, sans-serif" font-weight="bold" font-size="19.5" fill="#111">(f)</text>
<defs><linearGradient id="cbf" x1="0" y1="0" x2="0" y2="1"><stop offset="0.00" stop-color="#0a5c0a"/><stop offset="0.06" stop-color="#1e7414"/><stop offset="0.13" stop-color="#37821e"/><stop offset="0.19" stop-color="#529628"/><stop offset="0.26" stop-color="#70a832"/><stop offset="0.32" stop-color="#96be46"/><stop offset="0.38" stop-color="#b9d255"/><stop offset="0.45" stop-color="#d7e664"/><stop offset="0.51" stop-color="#f8f26c"/><stop offset="0.57" stop-color="#fad246"/><stop offset="0.64" stop-color="#fab932"/><stop offset="0.70" stop-color="#f8a023"/><stop offset="0.77" stop-color="#f58714"/><stop offset="0.83" stop-color="#dc6e0a"/><stop offset="0.89" stop-color="#be5a0a"/><stop offset="0.95" stop-color="#96460a"/><stop offset="1.00" stop-color="#64320a"/></linearGradient></defs>
<rect x="510.8" y="450.1" width="9.4" height="126.2" fill="url(#cbf)"/>
<path d="M520.2 450.1h1.6M520.2 462.7h1.6M520.2 475.3h1.6M520.2 488.0h1.6M520.2 500.6h1.6M520.2 513.2h1.6M520.2 525.8h1.6M520.2 538.4h1.6M520.2 551.1h1.6M520.2 563.7h1.6M520.2 576.3h1.6" stroke="#666" stroke-width="0.6"/>
<g font-family="'Liberation Sans', Arial, sans-serif" font-weight="bold" font-size="5.6" fill="#333"><text x="523.4" y="452.1">0.00</text><text x="523.4" y="464.7">-5.00</text><text x="523.4" y="477.4">-10.00</text><text x="523.4" y="490.0">-15.00</text><text x="523.4" y="502.6">-20.00</text><text x="523.4" y="515.2">-25.00</text><text x="523.4" y="527.8">-30.00</text><text x="523.4" y="540.5">-35.00</text><text x="523.4" y="553.1">-40.00</text><text x="523.4" y="565.7">-45.00</text><text x="523.4" y="578.3">-50.00</text></g></svg>
</body></html>
